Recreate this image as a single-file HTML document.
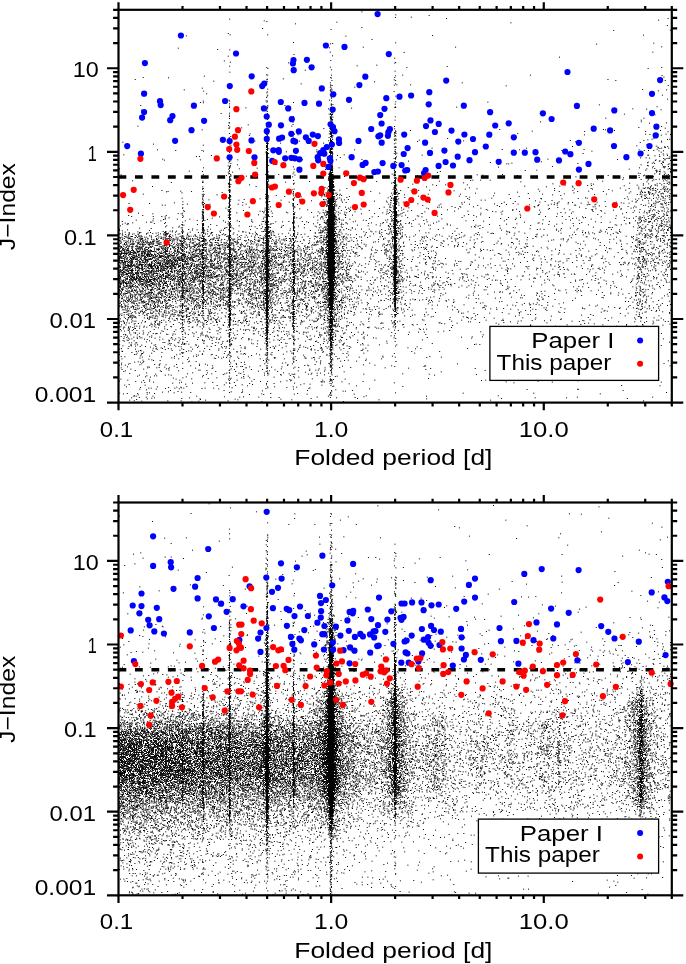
<!DOCTYPE html>
<html><head><meta charset="utf-8"><style>
html,body{margin:0;padding:0;background:#fff;}
svg{display:block;}
text{font-family:"Liberation Sans", "DejaVu Sans", sans-serif;font-size:22px;fill:#000;}
</style></head><body>
<svg width="686" height="964" viewBox="0 0 686 964">
<g><g stroke="#000" stroke-width="1" fill="none"><path d="M119 10.167h552v.3333h-552v.3333h552v.3333h-552v.3333h552v.3333h-552v.3333h552v.3333h-552v.3333h552v.3333h-552v.3333h552v.3333h-552v.3333h552v.3333h-552v.3333h552v.3333h-552v.3333h552v.3333h-552v.3333h552v.3333h-552v.3333h552v.3333h-552v.3333h552v.3333h-552v.3333h552v.3333h-552v.3333h552v.3333h-552v.3333h552v.3333h-552v.3333h552v.3333h-552v.3333h552v.3333h-552v.3333h552v.3333h-552v.3333h552v.3333h-552v.3333h552v.3333h-552v.3333h552v.3333h-552v.3333h552v.3333h-552v.3333h552v.3333h-552v.3333h552v.3333h-552v.3333h552v.3333h-552v.3333h552v.3333h-552v.3333h552v.3333h-552v.3333h552v.3333h-552v.3333h552v.3333h-552v.3333h552v.3333h-552v.3333h552v.3333h-552v.3333h552v.3333h-552v.3333h552v.3333h-552v.3333h552v.3333h-552v.3333h552v.3333h-552v.3333h552v.3333h-552" stroke-dasharray="0 725.4 1 229.6 1 2113.3 1 4937.7 1 1137 1 2710.2 1 568.1 1 1382.4 1 220.6 1 1320.5 1 1754.3 1 709.3 1 1106.3 1 1173.7 1 1277.7 1 1639.5 1 2933.6 1 3007.5 1 1821.5 1 1459.7 1 1443 1 57.2 1 5022 1 99999"/>
<path d="M119 34.167h552v.3333h-552v.3333h552v.3333h-552v.3333h552v.3333h-552v.3333h552v.3333h-552v.3333h552v.3333h-552v.3333h552v.3333h-552v.3333h552v.3333h-552v.3333h552v.3333h-552v.3333h552v.3333h-552v.3333h552v.3333h-552v.3333h552v.3333h-552v.3333h552v.3333h-552v.3333h552v.3333h-552v.3333h552v.3333h-552v.3333h552v.3333h-552v.3333h552v.3333h-552v.3333h552v.3333h-552v.3333h552v.3333h-552v.3333h552v.3333h-552v.3333h552v.3333h-552v.3333h552v.3333h-552v.3333h552v.3333h-552v.3333h552v.3333h-552v.3333h552v.3333h-552v.3333h552v.3333h-552v.3333h552v.3333h-552v.3333h552v.3333h-552v.3333h552v.3333h-552v.3333h552v.3333h-552v.3333h552v.3333h-552v.3333h552v.3333h-552v.3333h552v.3333h-552v.3333h552v.3333h-552v.3333h552v.3333h-552v.3333h552v.3333h-552v.3333h552v.3333h-552" stroke-dasharray="0 1215.3 1 36.6 1 430.1 1 837.4 1 722.4 1 293.6 1 5548.5 1 5094.5 1 450.4 1 291.9 1 747.8 1 678 1 688.6 1 4482.8 1 224 1 91.3 1 1137.5 1 269.1 1 2247.7 1 893.9 1 3635.4 1 321.6 1 284.3 1 3423.2 1 2169.7 1 322.2 1 1658.2 1 99999"/>
<path d="M119 58.167h552v.3333h-552v.3333h552v.3333h-552v.3333h552v.3333h-552v.3333h552v.3333h-552v.3333h552v.3333h-552v.3333h552v.3333h-552v.3333h552v.3333h-552v.3333h552v.3333h-552v.3333h552v.3333h-552v.3333h552v.3333h-552v.3333h552v.3333h-552v.3333h552v.3333h-552v.3333h552v.3333h-552v.3333h552v.3333h-552v.3333h552v.3333h-552v.3333h552v.3333h-552v.3333h552v.3333h-552v.3333h552v.3333h-552v.3333h552v.3333h-552v.3333h552v.3333h-552v.3333h552v.3333h-552v.3333h552v.3333h-552v.3333h552v.3333h-552v.3333h552v.3333h-552v.3333h552v.3333h-552v.3333h552v.3333h-552v.3333h552v.3333h-552v.3333h552v.3333h-552v.3333h552v.3333h-552v.3333h552v.3333h-552v.3333h552v.3333h-552v.3333h552v.3333h-552v.3333h552v.3333h-552v.3333h552v.3333h-552v.3333h552v.3333h-552v.3333h552v.3333h-552" stroke-dasharray="0 275.2 1 3929.8 1 316.5 1 2214.4 1 715.3 1 445.6 1 657.9 1 3331 1 1123.3 1 348.2 1 664.4 1 1220.5 1 358.5 1 139.1 1 253.9 1 1136.1 1 379.2 1 2144.8 1 398.1 1 1745.6 1 1491 1 4454.4 1 544.3 1 126.7 1 70.2 1 62.8 1 691.1 1 283.9 1 361.1 1 1577.7 1 568.5 1 186.5 1 63 1 778.1 1 261.1 1 1055.7 1 790.7 1 163.9 1 130.7 1 340 1 339.1 1 832.7 1 48.4 1 219.2 1 62.7 1 1168.9 1 51.9 1 242.3 1 699.6 1 99999"/>
<path d="M119 82.167h552v.3333h-552v.3333h552v.3333h-552v.3333h552v.3333h-552v.3333h552v.3333h-552v.3333h552v.3333h-552v.3333h552v.3333h-552v.3333h552v.3333h-552v.3333h552v.3333h-552v.3333h552v.3333h-552v.3333h552v.3333h-552v.3333h552v.3333h-552v.3333h552v.3333h-552v.3333h552v.3333h-552v.3333h552v.3333h-552v.3333h552v.3333h-552v.3333h552v.3333h-552v.3333h552v.3333h-552v.3333h552v.3333h-552v.3333h552v.3333h-552v.3333h552v.3333h-552v.3333h552v.3333h-552v.3333h552v.3333h-552v.3333h552v.3333h-552v.3333h552v.3333h-552v.3333h552v.3333h-552v.3333h552v.3333h-552v.3333h552v.3333h-552v.3333h552v.3333h-552v.3333h552v.3333h-552v.3333h552v.3333h-552v.3333h552v.3333h-552v.3333h552v.3333h-552v.3333h552v.3333h-552v.3333h552v.3333h-552v.3333h552v.3333h-552v.3333h552v.3333h-552" stroke-dasharray="0 1315.5 1 130.9 1 1588.3 1 93.3 1 1497.9 1 65.1 1 12.8 1 536.4 1 487.7 1 335.2 1 166.9 1 174.5 1 2184.2 1 23.5 1 1398.6 1 128 1 1847 1 359.9 1 310.8 1 32 1 333.6 1 146.8 1 957.6 1 750 1 351.3 1 127 1 295.8 1 62.3 1 680 1 1400.2 1 1972.4 1 1402.9 1 348.7 1 393.7 1 1038.9 1 .9 1 359.1 1 127.6 1 614.3 1 1463.9 1 743.1 1 424.2 1 1447.1 1 1762.7 1 99.5 1 1040.2 1 64.5 1 742.3 1 36.7 1 25.3 1 911.3 1 424 1 220 1 559.9 1 92.1 1 165.1 1 1911.4 1 100.7 1 386.1 1 613.2 1 .6 1 692 1 645.1 1 126 1 16.2 1 45.3 1 99999"/>
<path d="M119 106.167h552v.3333h-552v.3333h552v.3333h-552v.3333h552v.3333h-552v.3333h552v.3333h-552v.3333h552v.3333h-552v.3333h552v.3333h-552v.3333h552v.3333h-552v.3333h552v.3333h-552v.3333h552v.3333h-552v.3333h552v.3333h-552v.3333h552v.3333h-552v.3333h552v.3333h-552v.3333h552v.3333h-552v.3333h552v.3333h-552v.3333h552v.3333h-552v.3333h552v.3333h-552v.3333h552v.3333h-552v.3333h552v.3333h-552v.3333h552v.3333h-552v.3333h552v.3333h-552v.3333h552v.3333h-552v.3333h552v.3333h-552v.3333h552v.3333h-552v.3333h552v.3333h-552v.3333h552v.3333h-552v.3333h552v.3333h-552v.3333h552v.3333h-552v.3333h552v.3333h-552v.3333h552v.3333h-552v.3333h552v.3333h-552v.3333h552v.3333h-552v.3333h552v.3333h-552v.3333h552v.3333h-552v.3333h552v.3333h-552v.3333h552v.3333h-552v.3333h552v.3333h-552" stroke-dasharray="0 110 1 1142 1 126.5 1 260.8 1 227.5 1 124.1 1 64.4 1 257.1 1 36.9 1 126.4 1.8 615.1 1 83.7 1 358.8 1 1018.9 1.8 59.9 1 303.3 1 61.8 1 1089.3 1 564.1 1 187.5 1 1040.2 1 1104.2 1 63 1 1783.2 1 1102.5 1 102.1 1 212.1 1 45.2 1 62.3 1 1102.2 1 294.2 1 384.4 1.9 .1 1 746.9 1 418.7 1 37.1 1 322.5 1 868.8 1 914.2 1 36.1 1 62.8 1 322.4 1 62.6 1 613.2 1 361.5 1 62.2 1.9 1038.9 1 338.2 1 37.1 1 366 1.8 100.1 1 1002.8 1 359.2 1 63 1 .1 1 1166.2 1 245.1 1 793.1 2.8 1472.2 1 99.8 1 595 1 37.5 1 780.5 1 657 1 25.4 1 419.3 1 256.8 2 62.2 1 .7 1 677.6 1 .7 1 1102.1 1 37.4 1 24.5 1 277.1 1 81.3 1 1001.8 1 100 1.8 .9 1 321.9 1 586.3 1 127.6 1 24.3 1 387.9 1 266.1 1 61.1 1.9 .1 1 321.6 1 424.9 1 418.9 1 358.6 2.8 305.5 1 460.8 1 11.5 1 320 1 334.8 1 344.7 1.9 5.6 1 55.3 1 37.5 1 385 1 976.7 1 61.9 2 167.2 1 102.7 1 132.4 1 402.3 1 99999"/>
<path d="M119 130.167h552v.3333h-552v.3333h552v.3333h-552v.3333h552v.3333h-552v.3333h552v.3333h-552v.3333h552v.3333h-552v.3333h552v.3333h-552v.3333h552v.3333h-552v.3333h552v.3333h-552v.3333h552v.3333h-552v.3333h552v.3333h-552v.3333h552v.3333h-552v.3333h552v.3333h-552v.3333h552v.3333h-552v.3333h552v.3333h-552v.3333h552v.3333h-552v.3333h552v.3333h-552v.3333h552v.3333h-552v.3333h552v.3333h-552v.3333h552v.3333h-552v.3333h552v.3333h-552v.3333h552v.3333h-552v.3333h552v.3333h-552v.3333h552v.3333h-552v.3333h552v.3333h-552v.3333h552v.3333h-552v.3333h552v.3333h-552v.3333h552v.3333h-552v.3333h552v.3333h-552v.3333h552v.3333h-552v.3333h552v.3333h-552v.3333h552v.3333h-552v.3333h552v.3333h-552v.3333h552v.3333h-552v.3333h552v.3333h-552v.3333h552v.3333h-552v.3333h552v.3333h-552" stroke-dasharray="0 562.3 1 45.1 1 203 1 76.9 2 62.9 1 .1 1 423.5 1 413.5 1 199.8 2.8 358.5 1 127.3 1 187.8 1 60 1 27.6 1 334.3 1 426.4 1 62.3 1 551.1 1 62.2 1.9 62 1 295.3 1 680.1 1 385.5 1 37 1 62.1 2 63.5 1 120.8 1 494.2 1 60.1 1 17.2 1 278.9 1 24.6 1 .3 1 99 1 250.2 1 10.3 1 8.2 1 4.7 1 19.6 1 317.5 1.8 63 1 326 1 285.4 1 72.7 1 21.9 1 672 1 17 1 63.1 1 .2 1 61.8 1 1041 1 60.7 1 .3 1 287.8 1 325.2 2 62.1 1 35.7 1 1002.9 1 37.3 1 24.8 1 257.9 1 36.4 1 61.5 1 327.3 1 351.6 1 747.6 1 239.8 1 116.1 1 62.1 1.9 257.8 1 164.8 1 276 1 16.5 1 256.8 1 486.1 1 1.1 1 333.9 1 26 1 250.6 1.5 164.3 1 411.1 1 278.1 1 72.6 1 174.8 1 62 2 62.1 1.8 37.1 1 258.2 1 59.4 1 133.9 1 216.2 1 361 1 43.6 1 283.7 1 62 3 84.1 1 348.1 1 345.1 1 113.8 1 537.8 1 39.4 1 307 1.7 .1 1 61.9 1 37.4 1 256.9 1 62.3 1 615.8 1 62 1 8.2 1 42 1 271.6 1 35.9 2.7 24.7 1 35.6 2 585.2 1 29.3 1 309.1 1 75.2 1 779.4 2.7 62 1 358.6 1 316.1 1 463.6 1 26.6 1 231.1 2 63.1 1 373 1 627.9 1 425.5 1 17.3 1 94.2 1 241 1 62 1 .1 1 359.3 1 62.8 1 268.3 1 11.9 1 6 1 260.6 2.8 422.2 2 63.1 1 332.9 1 17.4 1 328.2 1 320.2 1 201.5 1 93.5 1 134.1 1 6 1 12.7 1 326.4 1 .1 2 61.9 1 259.2 1 37.5 1 415.3 1 323.5 1 101.1 1 258.4 2 62.1 2 62.8 1 105.9 1 80.8 1 118.2 1 118.5 1 163.9 1 23.8 1 12.1 1 158.3 1 607.4 1 4.2 1 3.3 1 81.3 1 230.5 1 61.9 1 37 1 26.6 1 25.2 1 596 1 3.5 1 86 1 196 1 64.5 1 124.9 1 231.3 1 63.1 1.9 62.8 1 613.7 1 14.7 1 29.3 1 313.6 1 128.6 1 264.7 1 347.6 1 .1 2.9 61 2 35.9 1 936.4 1 .2 1 423.5 2 .1 1 60.9 1 .1 1 .1 1 60.6 1 187.8 1 95.1 1 99999"/>
<path d="M119 154.167h552v.3333h-552v.3333h552v.3333h-552v.3333h552v.3333h-552v.3333h552v.3333h-552v.3333h552v.3333h-552v.3333h552v.3333h-552v.3333h552v.3333h-552v.3333h552v.3333h-552v.3333h552v.3333h-552v.3333h552v.3333h-552v.3333h552v.3333h-552v.3333h552v.3333h-552v.3333h552v.3333h-552v.3333h552v.3333h-552v.3333h552v.3333h-552v.3333h552v.3333h-552v.3333h552v.3333h-552v.3333h552v.3333h-552v.3333h552v.3333h-552v.3333h552v.3333h-552v.3333h552v.3333h-552v.3333h552v.3333h-552v.3333h552v.3333h-552v.3333h552v.3333h-552v.3333h552v.3333h-552v.3333h552v.3333h-552v.3333h552v.3333h-552v.3333h552v.3333h-552v.3333h552v.3333h-552v.3333h552v.3333h-552v.3333h552v.3333h-552v.3333h552v.3333h-552v.3333h552v.3333h-552v.3333h552v.3333h-552v.3333h552v.3333h-552v.3333h552v.3333h-552" stroke-dasharray="0 547.6 1 278.5 1 62.1 1 1.2 1 61.9 2 151.7 1 219.4 1 314.3 1 18.1 1 14.1 1.8 5.4 1 218.2 1 395 1 54 2 61.1 2 .8 1 4.2 1 329 1 18.8 1 322.5 1 36.7 1 737.7 1 326.1 1 1.1 1 62 2 34.6 1 30.5 1 2 1 251.5 1 101.8 1 272.3 1 441.2 1 258.1 2 .3 1 60.7 1 .1 1 7.8 1 54.3 1 299.5 1 4.6 1 307.2 1 322.5 1 419.8 1 18.3 1 3.2 1 1.3 1 2.3 1 267.2 1 .3 1 61.6 2 62 2 34.7 1 324.6 1 343.8 1 116.2 1 151.3 1 231.9 1 190.5 2 62 2.9 28.6 1 254.6 1 58.9 1 7.8 1 154.5 1 163.2 1 5.7 1 26.1 1 63.8 1 36.4 1 126.1 1 506.4 1 14.1 1 321.8 1 .2 1.9 .3 1 60.7 2 257.6 1 .1 1 428.1 1 18.2 1 2.9 1 249.8 1 399.2 1 36.1 2 60.8 1 .2 2.9 62 1 404.6 1 146 1 488.3 1 314.7 1 4.4 1 7.9 1 15.3 1 172.1 1 92.6 1 .9 1 63.4 1 61.9 2 256.8 1 417.6 1 41.5 1 139.4 1 178.5 1 .9 1 322.7 1 34.6 2 63.1 1 245.3 1 75.7 1 5.8 1 10.8 1 159.5 1 .9 1 599.6 1 341.6 1 271.5 1 64.2 1 1 1 50.8 1 8.2 2 265.3 1 94 1 307.7 1 20.4 1 282.3 1 388.2 1 35.1 2 .1 1 61.9 1 63 1 251 1 45.5 1 315 1 103.2 1 663.4 1 3.7 1 9.5 1 99.8 1 156.8 1 61.1 3.8 .4 1 59.8 2 36.2 1 221.2 1 61.9 1 369.9 1 .1 1 12.6 1 163.8 1 489.4 1 35.9 2 62 2 .1 1 62.1 1 281.3 1 10.8 1 12.1 1 299.4 1 8.8 1.5 124.2 1 222.1 1 414.7 1 13.7 1 259.1 1 61 1 .2 2.9 61 2 36.1 1 110.3 1 118.8 1 406.5 1 24 1 1.4 1 37.9 1 333.9 1 64.6 1 256.5 2 57.1 1 3.2 3.7 348.8 1 264.8 1 692.4 1 108 1 9.6 1 29 1 129.7 1 129.7 1 61 3 62 2 257.3 1 454.2 1 .1 1 426.2 1 39.1 1 153.1 1 63 2 62 1 64.1 1 43.8 1 218.2 1 9.9 1 6.7 1 2.9 1 264.6 1 61.2 1 63.2 1 257.9 1 3.4 1 60.2 1 34.6 1 326.1 1 12.9 1 233.5 1 41 1.7 61.1 3 62 2 705 1 25.9 1 629.2 1 35.9 2 61.1 2.9 307.7 1 41.4 1 4 1 259.4 1 100.3 1 63.4 1 318.5 1 62.7 1 2.2 1 263.2 1 13.4 1 3 1 160.9 1 106.8 1 61.1 3 .1 1 49.7 1 10.2 2.8 34.1 1 26.3 1 85.8 1 146.3 1 64 1 142.8 1 197.4 1 21.1 1 160.7 1 88.1 1 97.9 1 282.6 1 39.1 2 61 4 61 2 21.1 1 20.2 1 77.6 1 89.8 1 29.8 1 32.8 1 20 1 4 1 411.7 1 223 1 14.6 1 441.6 1 52.6 1 254.2 1 10.1 4.9 61 2 35.9 1 227.6 1 55 1 35 1 246.3 1 90.3 1 257.4 1 21.3 1 385.2 1 36 1 1.1 1 60 3.9 62.1 1 89.8 1 151.9 1 6.3 1 46.3 1 24 1 265.9 1 22.2 1 3.7 1 99999"/>
<path d="M119 178.167h552v.3333h-552v.3333h552v.3333h-552v.3333h552v.3333h-552v.3333h552v.3333h-552v.3333h552v.3333h-552v.3333h552v.3333h-552v.3333h552v.3333h-552v.3333h552v.3333h-552v.3333h552v.3333h-552v.3333h552v.3333h-552v.3333h552v.3333h-552v.3333h552v.3333h-552v.3333h552v.3333h-552v.3333h552v.3333h-552v.3333h552v.3333h-552v.3333h552v.3333h-552v.3333h552v.3333h-552v.3333h552v.3333h-552v.3333h552v.3333h-552v.3333h552v.3333h-552v.3333h552v.3333h-552v.3333h552v.3333h-552v.3333h552v.3333h-552v.3333h552v.3333h-552v.3333h552v.3333h-552v.3333h552v.3333h-552v.3333h552v.3333h-552v.3333h552v.3333h-552v.3333h552v.3333h-552v.3333h552v.3333h-552v.3333h552v.3333h-552v.3333h552v.3333h-552v.3333h552v.3333h-552v.3333h552v.3333h-552v.3333h552v.3333h-552v.3333h552v.3333h-552" stroke-dasharray="0 110.1 1 102.8 1 61.1 1.9 278.5 1 270.8 1 61.1 3 .1 1.9 60 2 258.3 1 433.2 1 1.9 1 .2 1.8 9 1 2.4 1 9.8 1 50.1 1 327.9 1 259.5 1 35.9 2 61 4 .3 1 60.8 1 226.3 1 17.3 1 13.9 1 20 1 10.5 1 324.4 1 96.5 1 223.1 1 96.6 1 143.4 1 6.8 1 8.5 1 156.7 1 222.7 1 74.2 1.9 61.1 4 35 1 26 1 35.9 1 123.6 1 134.7 1 383 1 10.1 1 2.4 1 71.8 1 162.3 1 43.9 1 124.9 1 64.8 1 230.6 2 41.1 1 18.9 4 .1 1 42.1 1 17.8 1 298.9 1 125.1 1 290.4 1 194 1 81.4 1 381.6 1 .4 1 276.2 1 .2 2 59 4.8 61 2 36.1 1 25.9 1 30.2 1 396.3 1 207.9 1 39.1 1 237 1 96.4 1 284.1 1 .1 1 35.9 2 61 4 61 1 .1 1 51.7 1 210.7 1 3.2 1 2.1 1 16.9 1 7.5 1 4.2 1 51.3 1 37.3 1 258.4 1 323.6 1 23.8 1 118.2 1 179.6 1 79.1 1 272.4 1 60.9 5 61 2 34.7 1 .3 1.6 239.8 1 146.2 1 35 1 11.9 1 20.7 1 186.7 1 5.7 1 23.9 1 11.4 1 5.1 1 71 1 295.6 1 259.4 1 36 2 61 4 .1 1 59.9 2 40 1 150.2 1 2.7 1 92.6 1 4.9 1 26.2 1 226.7 1 682.7 1 34 1 11.8 1 90.5 1 281.7 1 .1 1 59.9 5.9 60.1 2 9.4 1 25.6 1 76 1 116.7 1 25 1 .4 1 37.1 1 65 1 91.2 1 118.9 1 103.1 1 14.6 1 11 1 12.9 1 10.6 1 64.8 1 563.7 1 36 2 .3 1 55.3 1 3.4 5 60 1 .1 1 11.7 1 238.8 1 29.7 1 16.9 1 175.3 1 74.6 1 482.3 1 292.1 1 21.9 1 3.6 1 4.7 1 20 1 11.2 1 2.3 1 2 1 3.9 1 14.2 1 37.1 1 35.5 1 158.1 1 .1 1 46.6 1 13.3 4 61 2 62.3 1 167.4 1 192.5 1 79.7 1 96.4 1 63.4 1 10.2 1 11.8 1 1.5 1 83.5 1 53.2 1 72 1 170.2 1 90.6 1 193.4 1 35.9 2 59.9 1 .1 5 58.6 1 .5 1 .7 1 211.5 1 47.9 1 2.3 1 2.3 1 1.9 1 4.1 1.4 18.2 1 315.2 1 41 1 282.1 1 .9 1 108.4 1 56 1 31.9 1 195 1 14.7 1 9.9 1 .4 1 10.1 1 21.2 1 81.4 1 17.3 1 134.9 1 17.1 1 4.1 2 58.8 1 .2 5 .2 1 59.8 2 36 1 66.6 1 334.5 1 41.9 1 157.2 1 60.6 1 1.2 1 9 1 66.5 1 48.1 1 210.3 1.8 145.8 1 110.1 1 22.5 1 10.7 1 25.2 1 36 2 25.1 1 34.9 4 37.3 1 22.7 2 162.8 1 17.4 1 24.7 1 37.4 1 5.6 1 10.3 1 3.9 1 27.7 1 17.3 1 296.4 1 102.1 1 62.8 1 321.7 1 2.5 1 119 1 122 1 3.3 1 22 1 14.7 1 9.2 1 2.5 1 1.7 1 245 3 61 4 13 1 47 2 36 1 6.4 1 165.4 1 110.4 1 31.6 1 .5 1 5 1 239.5 1 75.3 1 4.6 1 22.8 1 12.3 1.7 6.9 1 10.6 1 133.6 1 18.1 1 82.9 1 10.9 1 42 1 .5 1 363 2 24.7 1 27.7 1 5.5 1 .1 4 .1 1 59.9 2 2.1 1.8 127.9 1 123.4 1 16.4 1 7.8 1 1 1.6 95.6 1 166.6 1 1.9 1 298.4 1 58.9 1 136.1 1 87 1 31.2 1 81.1 1 62.8 1 44.5 1 1.2 1 37.7 1 8.4 1 1.9 1 41.6 1 84.5 1 59.2 1 52.4 2 56.1 1 2.9 5 4 1 56 2.9 35.1 1 24.4 1 167.8 1 13.7 1 75.2 1 103.6 1 5.7 1 147.1 1 88.3 1 3.1 1 10.8 1 39.1 1 251.1 1 51.7 1 330.4 2 35 2 7.8 1 51.3 4.9 3.1 1 4.1 1 218.1 1 96.6 1 9.9 1 18.6 1 158.9 1 168.2 1 29.7 1 24.2 1 64.1 1 168 1 120.8 1 92.5 1 39.7 1 185 1 15.2 1 3.1 1 .8 1 1.5 1 30.1 1 121.2 1 52 1 67.4 1 .2 3 3.2 1 40 1 14 5.8 .1 1 .2 1 41.5 1 16.2 2 34.8 1 .2 1 193.7 1 62 1 34.4 1 19.6 1 304.5 1 34.3 1 15.2 1 3.7 1 16.1 1 171.1 1 72.2 1 60.7 1 65.1 1 37.3 1 221.1 1 36 2 60.2 5.8 12.4 1 46.6 2 8.4 1 240.8 1 25.4 1 11.9 1 69.9 1 192.8 1 2.5 1 47.4 1 44.2 1 65.1 1 172 1 19.4 1 25.2 1 107.9 1 54.9 1 1.9 1 94.3 1 94.4 1 61.5 1 12.5 1 24.6 1 4.7 1 1.3 1.9 18.8 1 45.6 1 36.4 1 10.4 1 17.9 1 41.9 1 71.1 2 1.9 1 57.2 6.8 59.1 2.8 35.2 1 251 1 32.4 1 39.9 1 63.2 1 141.9 1 19.5 1 75.8 1 25.3 1 15.5 1 1.9 1 21.2 1 6.3 1 234 1 50.9 1 47.6 1 23.7 1 64.5 1 193.4 1 .3 1 12.4 1 21.3 2 25 1 29.1 1 1.5 1 1.3 1 .1 5 2.2 1 10.7 1 45.1 3.6 71.2 1 199.5 1 327.2 1 8.6 1 9.6 1 23.7 1 89.5 1 173.6 1 34.6 1 41.2 1 53.1 1 54.3 1 89.7 1 3 1 156.4 1 7.9 1 26.8 1 24.7 1 84.3 1 155.5 2.8 1.3 1 56.9 6 34 1 25 2 36 1 302.4 1 14.6 1 13.2 1 54.2 1 137.9 1 112 1 15.5 1 20.7 1 22.5 1 233.6 1 10.2 1 10.9 1 46.3 1 95.7 1 221.3 1 36 2 1.2 1 54 1 2.8 7 .4 1 57.6 3 117.8 1 28.9 1 59 1 53.5 1 45.4 1 76.2 1 289.8 1 64.5 1 18.9 1 99999"/>
<path d="M119 202.167h552v.3333h-552v.3333h552v.3333h-552v.3333h552v.3333h-552v.3333h552v.3333h-552v.3333h552v.3333h-552v.3333h552v.3333h-552v.3333h552v.3333h-552v.3333h552v.3333h-552v.3333h552v.3333h-552v.3333h552v.3333h-552v.3333h552v.3333h-552v.3333h552v.3333h-552v.3333h552v.3333h-552v.3333h552v.3333h-552v.3333h552v.3333h-552v.3333h552v.3333h-552v.3333h552v.3333h-552v.3333h552v.3333h-552v.3333h552v.3333h-552v.3333h552v.3333h-552v.3333h552v.3333h-552v.3333h552v.3333h-552v.3333h552v.3333h-552v.3333h552v.3333h-552v.3333h552v.3333h-552v.3333h552v.3333h-552v.3333h552v.3333h-552v.3333h552v.3333h-552v.3333h552v.3333h-552v.3333h552v.3333h-552v.3333h552v.3333h-552v.3333h552v.3333h-552v.3333h552v.3333h-552v.3333h552v.3333h-552v.3333h552v.3333h-552v.3333h552v.3333h-552" stroke-dasharray="0 146.4 1 22.3 1 35.2 1 1 1 14.1 1 43.7 1 15.1 1 60.1 1 38.9 1 34.6 1 47.3 1 7.9 1 18.3 1 18.5 1 19.3 1 .6 1.6 11.1 1 2.1 1 95.2 1 3.2 1 137.7 1 33.1 2 2.7 1 43.7 1 11.6 5 .1 1 3.9 1 55 2 22.7 1 12.3 1 25.2 1 .1 1 138 1 160.1 1 60 1 1.2 1 62.1 1 91.8 1 2.2 1 62.4 1 42.3 1 .9 1 21.2 1 3.8 1 18.8 1 4.3 1 41.6 1 252.8 1 1.5 1 1.7 1 92.3 1 119.3 1 19.5 1 54 1 23.9 1 36 2 25 1 34 5 1.2 1 58 3.8 104.2 1 10.5 1 43.1 1 107.2 1 13.7 1 .5 1 3.9 1 .6 1 85 1 72.6 1 75.7 1 91.5 1 3.1 1 27.8 1 89.1 1 151.1 1 21.5 1 27.3 1 7 1 72.6 1 13.7 1 53.2 1 1 1 49.2 1 20.3 1 6.3 1 47.6 1 32.2 1 36.4 1 6.2 1 64.6 1 11.1 1 16 1 9.6 1 50.3 1 34.6 1 14.3 1 31.4 1 109 3 60 5 7.5 1 22.5 1 3.1 1 24.9 2 36 1 22.4 1 1.7 1 19.6 1 146.8 1 64.8 1 53 1 3 2 7.3 1 192.7 1 56.9 1 6.6 1 66.8 1 12.3 1 19.7 1 68.9 1.9 16.5 1 8 1 108.1 1 39.3 1 61.1 1 93.1 1 11.3 1 64.2 1 1.9 1 153.1 1 36 2 24.9 1 32.8 1 .3 5 1 1 59 2 10.8 1 14.5 1 54 1 18.5 1 40.1 1 104.3 1 6.9 1 34.6 1 54.9 1 60.4 1 144 1 1.8 1 96.3 1 88.1 1 258.3 1 41.8 1 297.6 1 53.5 1 1.4 1 21.7 1 21.2 1 70.6 1 33.7 1 38.7 1 6.9 1 55.4 2 53.7 1 4.2 1 .1 5 .1 1 .7 1 4.3 1 52.9 2 36 1 25.2 1 193.1 1 41.1 1 22.9 1 98.3 1 78.7 1 118.7 1 1 1 23.4 1 28.1 1 29.1 1.8 .7 1 24 1 55.6 1 43.7 1 6.4 1 65.7 1 18.1 1 1.5 1 .6 1 46.8 1 4.5 1 32.4 1 4.3 1 49.6 1 .3 1 23.9 1 18.4 1 214.2 1 24.2 1.7 36 2 60.1 6.8 55.5 1 2.6 2.9 57.8 1 101.6 1 96.6 1 18.9 1 32.5 1 223.7 1 6.3 1 217.7 1 126.7 1 42.4 1 38.2 1 72.6 1 8.7 1 44.2 1 32.2 1 53.1 1 46.4 1 101.8 1 124.3 1 35.4 1 152.1 2.9 14.1 1 43.8 1 .1 6 33.9 1 25.1 2 34.8 1 291.9 1 52.9 1 73.8 1 28.9 1 104.8 1 30.7 1 24.5 1 28.3 1 12.6 1 8.7 1 46.5 1 71.4 1 30.8 1 111.9 1 41.8 1 10.1 1 79.7 1 37.5 1 195.3 1 23.7 1 .4 1 36 2.8 59.2 6.8 11.2 1 46.3 2.7 89.8 1 25.6 1 78.1 1 47.1 1 12.6 1 95.3 1 21.5 1 121.4 1 56.8 1 1.4 1 78.6 1 13.1 1 90.1 1 228.9 1 57.1 1 4.3 1 5.2 1 66.1 1 84.9 1 50.9 1 51.8 1 20.1 1 40.4 1 36.4 1 48.2 1 87.1 1 100.1 1 15.1 2 3 1 20.3 1 17.7 1 8.2 1 5.2 1 .6 5 61 2 22.1 1 12.9 1 44.8 1 173.3 1 96.5 1 71.7 1 235.2 1 13.4 1 2.4 1 4.8 1 2.6 1.6 7.1 1 3.4 1 2.1 1 13.6 1 4.1 1 42 1 97.9 1 33.8 1 12.3 1 20.2 1 24.6 1 135.5 1 10.2 1 55.5 1 149.2 1 17.1 1 25.2 1.9 .2 1 30.9 1 2.9 2.8 24.2 1 32.4 7.6 15.1 1 41.1 1 .7 1 .1 3 95.2 1 25.9 1 72.5 1 65.1 1 13.4 1 94.7 1 76.2 1 70 1 36.8 1 31 1 17.3 1 17.6 1 52.9 1 256.1 1 54.9 1 51.1 1 5.3 1 155.3 1 38.5 1 97.8 1 45.2 1 6.5 1 1.4 1 12.7 1 5.5 1 64.7 1 124.1 1 30.9 1 6.4 3 3.9 1 55.1 6 .1 1 .4 1 1.8 1 10.6 1 15.8 1 25.6 2.7 36 1 25 1 .1 1 200.6 1 25.9 1 23 1 45.9 1 11.1 1 35 1 8.9 1.8 170.9 1 77.7 1 21.6 1 69.8 1 32.4 1 89.6 1 77.6 1 61.2 1 3.9 1 9.9 1 3.5 1 46.5 1 88.7 1 43.1 1 78 1 50.3 1 36 2 25.1 1 34 5.9 40.1 1 12.6 1 5.3 3 24.4 1.3 235.3 1 19.2 1 15.5 1 23.6 1 64.1 1 155.6 1 38.3 1 33.3 1 31.8 1 90 1 .1 1 20.2 1 27.3 1 240.7 1 16.9 1 41.2 1 114.3 1 17.2 1 18.6 1 113.8 1 11.4 1 22.5 1 53.1 1 58 1 69.2 1 26 1 7.2 1 34.6 1 .3 3 59.1 5.9 1 1 32.1 2 24.9 2 34.9 1 .1 1 26.1 1 222.3 1 5.9 1 2.1 1 55 1 3 1 8.9 1 6 1 45.1 1 7.3 1 79.9 1 171.8 1 10 1 21.4 1 248.8 1 52.1 1 16.3 1 7.6 1 95.3 1 1 1 44.8 1 72.5 1 13.1 1 22.5 1 35.4 1.7 25.1 1 36 2.9 59.1 6 .1 1 10.1 1 47 3.8 76.3 1 175.2 1 15.8 1.9 29.9 1 26.5 1 94.6 1 55.4 1 45.9 1 18 1 .2 1 70.5 1 7.1 1 262.3 1 109.2 1 107.3 1 15.8 1 17.9 1 215 1.9 8.1 1 14.8 1 2.7 1 5.9 1 3.2 1 11 1 65.9 1 5.9 1 4.6 1 10.3 1 148.9 2 2.7 1 11.5 1 42 6.8 .1 1 5.8 1 26.3 1 21.1 1 2 1.5 .2 2 36 1 25 1 40.7 1 7.6 1 20.6 1 58.1 1 36.2 1 16.2 1 102.3 1 12.3 1 35.1 1 18.8 1 3.4 1 24.5 1 53.6 1 105 1 17.7 1 37.9 1 62 1 13.9 1 287.6 1 12.4 1 7.5 1 11.5 1 34.6 1 .6 1 208.1 1 19.9 1 23.9 2 36 2 25 1 26.6 1 4.2 1 1.2 6.9 10.2 1 47.9 2 .1 1 10.1 1 53.5 1 26.3 1 18.1 1 10.9 1 64 1 55.9 1 28.5 1 .8 1 6.2 1 3.2 1 2.7 1 .4 1 6.7 1 2.6 1 56.3 1 246.3 1 38.5 1 1.1 1 63.2 1 27.1 1 32.3 1 95.9 1 45.8 1 81.3 1 43.7 1 176 1 59.2 1 49.1 1 5.9 1 30.1 1 16.4 1 .7 1 9 1 8.8 1 8.6 1 12.5 1 42.1 1 71 1 104.1 3 22.9 1 34.2 6.9 27.5 1 5.5 1 25 2 35.1 1.9 25 1 118.2 1 48 1 60.1 1 56.1 1 1.6 1 11.2 1 2.4 1 51.8 1 49.4 1 208.4 1 33.3 1 15.1 1.8 47.6 1 174.6 1 64.7 1 159.1 1 11.5 1 11.2 1 89.9 1 39.1 1 2.9 1 21 1.8 35.2 2 25 1 33 7 .1 1 1 1 2.1 1 53.8 3 109.2 1 7.8 1 49.5 1 78.7 1 4.9 1 3.2 1 9.4 1 11.8 1 16.1 1 102.2 1 115.7 1 32.9 1 3.8 1 51 1 83 1 149.3 1 180.6 1 18.4 1 3.5 1 .6 1 19 1 21.3 1 10.5 1 172.3 1 7.7 1 58.9 1 28.7 1 11.2 1 16.4 1 1.5 1 16.1 1 149.8 1 48.8 1 9.5 1 11.5 1 3.2 3 .1 1 26.2 1 31.7 7 33 1 25 2 60.6 1 .4 1 5.3 1 111.6 1 6.9 1 23.4 1 16.2 1 19.9 1 12.8 1 86.1 1 1.5 1 6.7 1 56.3 1 73.2 1 37.3 1 130.2 1 18.1 1 2 1 21.6 1 6.8 1 169.7 1 43.7 1 37.4 1 7.7 1 35.3 1 60.2 1 28 1 12.7 1 135.2 1 79.1 1 27.1 1 8 1 21.8 1 .4 1 1.8 2.9 19.5 1 3.7 1 7.8 1 24.2 6.9 1.2 1 57.8 2 .1 1 .7 1.8 149.3 1 90.8 1 3.7 1 3 1.7 21.6 1 1.3 1 1.3 1 14.7 1 3.5 1 47.8 1 167.4 1 28.8 1 43.1 1 45.6 1 23.1 1 5.8 1 46.4 1 136.2 1 3.1 1 .2 1 29.9 1 41.8 1 26.2 1 14.8 1 57 1 12 1 46.4 1 5.6 1 3.6 1 37.6 1 86.9 1 84.6 1 37.3 2 11 1 4.7 1 33.9 1 9.5 1 27.5 1 18.5 1 171.2 1 13 2 10.1 1 47.9 7 .2 1 1.3 1.8 14.7 1 14 1.9 24.1 3 35 1 63 1 59.6 1 160.7 1 22.2 1 17.6 1 8.6 1.6 24 1 24.9 1 140.8 1 97.5 1 .6 1 49.7 1 89.1 1 23.2 1 103.6 1 35.3 1 13.5 1 40 1 14.2 1 32.9 1 166.4 1 14.4 1 25.5 1 9.3 1 36.7 1 .1 1 25 2 35 2 4.7 1 19.4 1 30.8 1 2.1 6 .1 1 33.1 1 20.5 1 3.3 2 9.3 1 2.3 1 163.1 1 5.4 1 49.1 1 31.6 1 17.8 1 3.3 1 18 1 11.1 1 82.4 1 24.6 1 68.8 1 21.5 1 12.1 1 10 1 6.1 1 11.7 1 32.3 1 19 1 12.9 1 41.3 1 42.1 1 98.6 1 12.4 1 138.2 1 2.5 1 4.3 1 55.2 1 7.7 1.7 63.6 1 17.3 1 86.5 1 49.2 1 109 1 10.6 1 15.1 1 98 1 58.4 1 92.9 2.9 2.3 1 46.2 1 .9 1 5.8 7.8 6.6 1 14.5 1 10 1 23.8 1 .2 2 35.2 1.8 17.9 1 6.1 2 4.1 1 14.6 1 53.7 1 71 1 136 1 55.7 1 19.2 1 49.9 1 140.1 1 25.8 1 5.1 1 20.5 1 15.9 1 9.1 1 6.2 1 47.6 1 139.9 1 24.3 1 19.1 1 .8 1 26.4 1 3.7 1 38.1 1 127.5 1 44 1 .5 1 146.3 2 12.3 1 11.6 1 29.2 1 5.8 2 14.9 1 9.2 1 32.8 1 .1 6 54.1 1 4.9 2 .7 1 81.9 1 18.7 1 29.9 1 120.3 1 3.6 1 3.3 1.5 9.8 1 6.8 1 22.7 1 64.1 1 173.1 1 18.3 1 11 1 32.7 1 94.3 1 7 1 63.4 1 45.3 1 99999"/>
<path d="M119 226.167h552v.3333h-552v.3333h552v.3333h-552v.3333h552v.3333h-552v.3333h552v.3333h-552v.3333h552v.3333h-552v.3333h552v.3333h-552v.3333h552v.3333h-552v.3333h552v.3333h-552v.3333h552v.3333h-552v.3333h552v.3333h-552v.3333h552v.3333h-552v.3333h552v.3333h-552v.3333h552v.3333h-552v.3333h552v.3333h-552v.3333h552v.3333h-552v.3333h552v.3333h-552v.3333h552v.3333h-552v.3333h552v.3333h-552v.3333h552v.3333h-552v.3333h552v.3333h-552v.3333h552v.3333h-552v.3333h552v.3333h-552v.3333h552v.3333h-552v.3333h552v.3333h-552v.3333h552v.3333h-552v.3333h552v.3333h-552v.3333h552v.3333h-552v.3333h552v.3333h-552v.3333h552v.3333h-552v.3333h552v.3333h-552v.3333h552v.3333h-552v.3333h552v.3333h-552v.3333h552v.3333h-552v.3333h552v.3333h-552v.3333h552v.3333h-552v.3333h552v.3333h-552" stroke-dasharray="0 59.8 1 50.3 1 20 1 29.3 1 15.6 1 15.7 1 25.1 1 46.1 1 2 1 .5 1 26.7 1 56.5 1 75.4 1 90.3 1 6 1 12.9 1 6.8 1 5.5 1 1.1 1 18 1 164.8 1 61.6 1 15.3 2.9 54.7 1 3.4 6 .2 1 1.2 1 30.6 1 23.9 1 .1 2 15.9 1 19.1 1 25.9 1 129.5 1 41.9 1 45.7 1 6.4 1 30.8 1 21.3 1 3.3 1 67.5 1 12.2 1 67.8 1 161 1 29.9 1 6.5 1 10.9 1 11.9 1 51.3 1 117.2 1 71.3 1 8.2 1 56.5 1 8.4 1 56.7 1 89.3 1 142.6 1 .1 1 22.3 1 1.6 2 33.9 1 .1 2 .1 1 .9 1 9.9 1 11.1 1 .2 1 28.6 1 3.2 6 .1 1 .2 1 5.4 1 51.3 2 1.8 1 83.6 1 29.4 1 94.4 1 .3 1 1.4 1 26.2 1 11.8 1 16.3 1 30.4 1 125 1 113.4 1 2.5 1 44 1 25.6 1 5.4 1 14 1 71.3 1 5.9 1 41.6 1 .3 1 7.5 1 73.7 1 124.8 1 1.9 1 25 1 39.2 1.8 16 1 40.2 1 48.8 1 56 1 69 1 66.6 1 5.3 1 6.9 1 15.4 1 2.3 1 10.7 1 79.9 1 15.6 1 80.5 1 21.8 1 56.9 1 1.6 3 2.9 1 43.1 1 12 6 .1 1 3.4 1 28.6 1 24.9 2 4.4 1 3 1 26.6 1 4 1 20.1 1.9 50.3 1 105.3 1 40 1 55.6 1 34.5 1 72 1 30.4 1 98.8 1 110.6 1 .1 1 19 1 23.2 1 98 1 15.2 1 150.7 1 18.2 1 6.8 1 4.9 1 144.2 1 89.9 1 63.1 1 5.4 1 12.7 1 .1 1 25 1 20.1 1 13.6 1 .3 2.8 24.2 1 31.1 1 1.9 6 .1 1 1.1 1 2.4 1 7.6 1 32 1 7.5 1 3.3 2 5.7 1 35.2 1 98 1 5.7 1 61.6 1 3.7 1 36.5 1 14.5 1 2.2 1 11.9 1 41.4 1 41.5 1 232.2 1 15.3 1.9 61.1 1 34.8 1 20.3 1 2.2 1 6.1 1 68.5 1 81.3 1 27.9 1 1.1 1 94.2 1 .9 1 2 1 .2 1 1.9 1 11.7 1 9.5 1 48.8 1 99.9 1 54.1 1 3.1 1 38.7 1 44.2 1 2.9 1.7 .4 1 5.6 1 9.3 1 5.2 1 5.7 1 22.2 1 240.3 2.9 8.3 1 50.7 6 1.3 1 3 1 10.8 1 14.8 1 .2 1 2.4 1 18.4 1 2.1 2 34.9 1 .1 1 25.9 1 19 1 32.2 1 28.9 1 3.2 1 49.2 1 30 1.9 60.3 1 67.8 1 57.9 1 3.5 1 20.5 1 162.4 1 57.3 1 14.3 1 6 1 26.3 1 8.7 1 39.3 1 42 1 51 1 50.7 1 62.2 1 .4 1 9.6 1 7.9 1 30.2 1 11 1 5.7 1 47.6 1 1.1 1 30.4 1 17.9 1 15.4 1.9 19 1 5.1 1 5.3 1 94.7 1 1.5 1 41.2 1 20.6 1 .1 1 30.5 1 .5 1 .6 1 .3 2 .1 2 2.8 1 20 1 27.7 1 4.4 6 .1 1.9 58 2 .1 1 1 1 220 1 29.6 1 33.1 1 51.5 1 85.5 1 9 1 .8 1 130.4 1 3 1 7 1 40.2 1 78.1 1 .1 1 57.9 1 1 1 8.2 1 5.3 1 27.2 1 24.4 1 49.2 1 13.9 1 54.6 1 8.6 1 38.1 1 43.2 1 1.3 1 58 1 86.8 1 85.4 1 13.3 1 9.7 1.9 14.9 1 3.6 1 36.9 1 12.2 1 3.2 1 79.8 1 2 1 71.9 1 30.3 1 15.6 1 64.3 3.8 10.8 1 14.5 1 31.8 7 4.4 1 .5 1 50 2 .1 2 36 1 8.1 1 7.1 1.9 6.9 1.9 3.2 1 14.9 1 15.9 2 13.1 1 8.7 1 .4 1 9.3 1 38.5 1 9.2 1 42.2 1 31.4 1 14.5 1 21.4 1 1.1 1 23 1 16.4 1 2.7 1.9 3.9 1 .5 1 8.5 1 42.6 1 9.5 1 .7 1 9.9 1 22.4 1 2 1 162.9 1 23.5 1 57.5 1 1.4 1 22.4 1 .5 1 30.8 1 21.1 1 23.3 1 35.3 1 9 1 21.6 1 170.1 1 4.7 1 25.8 1 16.7 1 58.4 1 5.6 1 16.1 1 18.2 1 11.5 1 15.5 1 16.1 1 3.9 1 8.2 1 16.6 1 4.9 1 12.6 2 14.1 1 20 1 25 1 19.3 1 5.7 1 9 2 .1 1 24 1.8 33.1 7.8 .3 1 42.2 1 6 1 6.7 4.6 1 1 51.6 1 22.3 1 14.1 1 1.5 1 118.7 1 3.8 1 25.1 1 2 1 36.8 1 4.2 1.7 56 1 4.4 1 198.9 1 14.6 1 26.5 1 2.9 1 13.6 1 44.3 1 15.6 1 11.9 1 28.2 1 11.9 1 2.3 1 26.5 1 13.2 1 .6 1 2.5 1 25.4 1 15.3 1 11.8 1 4.3 1.8 6.8 1 16.3 1 1.6 1 10.8 1 26.3 1 26.7 1 22.7 1 20.7 1 25.2 1 32.9 1 25.7 1 21.8 1 7.2 1 3.1 1 57.7 1 46.6 1 29.5 1 153.2 1 4.2 1 5.4 1 62.5 1 97.3 1 80.9 2 1.4 1 34.6 1 21 7 .9 1 24.5 1 2.5 1 3.1 1 25 2 36 1 2.9 1 2.4 1 33.7 1 16.3 1 2 1 .9 1 35.3 1 2.4 1 9.3 1 35.1 1 16 1 18.5 1.4 6.2 1 13.1 1 19.7 1 19.1 1 7.2 1 4.5 1 22.4 1 42.2 1 .7 1 7.7 1 1.4 1 29.8 1 15.1 1 6.8 1 9.3 1 20.3 1 1.7 1 38.8 1 55.9 1 35.3 1 9.7 1 26.4 1 25.2 1 4.5 1 46.3 1 3.1 1 .5 1 98.7 1 2.7 1 28.5 1 38.9 1 8.4 1 61.6 1 3.6 1 56.8 1 12.1 1 35.4 1 15.6 1 1.2 1 15.1 1 8.2 1 20.5 1 5 1 5.3 1 11.6 1 11.7 1 22.1 1 34.4 1 4.9 1 19.8 1 20.5 1 7.9 1 2.5 1 11.8 1 19 1 16.4 1 8.2 2.5 9.7 1 18 1 3.8 1 .5 2.9 .1 1 4.2 1 17.8 1 27.3 1 4.7 8 .1 1 57.9 3 58.8 1 188.5 1 9.8 1 4.6 1 .2 1 3 1 2.1 1 6.3 1 18.6 1 74.3 1 204 1 26.3 1.8 11.3 1 3 1 24.9 1 83.9 1 13 1 5.7 1 15 1 6.4 1 13.1 1 .8 1 7.4 1 .8 1 27.5 1 .7 1 6.9 1 1 1 1.7 1 24.3 1 13.7 1 1.5 1 6.4 1 1.6 1 9.5 1 22.4 1 2 1 20 1 61.7 1 29 1 24.8 1 42.8 1 11.5 1 8 1 5.7 1 6.1 1 13.7 1 161.3 1 22.7 1 12.5 1 20 1 1.2 1 4.7 1 3.2 1 11.4 1 97 1 132.5 1 5.4 2 1 1 9 1 37.8 1 8.3 6.9 .1 1.9 10.1 1 6.3 1 10.8 1 .7 1 1.4 1 5.6 1 15.2 1.8 .1 2 .1 1 25.1 1 8.8 1 1.8 1 17.4 1 3.9 1.8 5.5 1 5.9 1 5.9 1 1.3 1 8.6 2.5 12 1 22.5 2.5 5.2 1 11.4 1 12.9 1 1.9 1 8.2 1 6.6 1 1.1 1 54.8 1 10.8 1 25.1 1 23.4 1 37.6 1 23.1 1 16.9 1 19.5 1 12.2 1 7.9 1 3.2 1 14.5 1 1.2 1 26.6 1 83.9 1 4 1 43.6 1.8 43.4 1 23.8 1 19.6 1 12.7 1 6 1 27.2 1 133.6 1 10 1 8.6 1 50.6 1 47.2 1 14.1 1 7.9 1 12.4 1 6.5 1 13.3 1 25.4 1 4.7 1 5.8 1 14.8 1 1.5 1 24.7 1 14.9 1 2.6 1 1.3 1 8.5 1 .5 1 9.5 1 11.2 1 16.7 1 .5 1 2.9 1 13.6 1 3.3 1 2.9 1 14.6 1 1.2 1 26.8 1 5.2 1 9.2 1 18.4 1 12.1 1 13.6 1.7 .2 1 26.9 1 6.9 2 52.4 1.8 3.8 1 1 6 8.9 1 9.7 1 12.5 1 24.2 3.7 .1 1 25.2 1 3.6 1 31.2 1 66.9 1 103.7 1 12 1 39.9 1 7.5 1 9.8 1 64.7 1 169.5 1 48.9 1 10.5 1 2.7 1 7.1 1 1.1 1 28 1 24 1 5.6 1 9.1 1 13.1 1 1.9 1 53.4 1 4.3 1 7.4 1 6.9 1 9.2 1 15.6 1 4.1 1 .5 1.8 5.9 1 2.3 1 1.4 1 24 1 9.6 1 2.2 1 .7 1 12.7 1 4.5 1 16.3 1 17 1 .5 1 39.9 1 4.7 1 2.4 1 25.2 1 27.2 1 2 1 17.5 1 1.1 1 37 1 5.3 1 5.3 1 1.9 1 22.6 1 7.5 1 17.4 1 48 1 10.5 1 81 1 55.7 1 28.2 1 1.3 1 20.6 1 74.6 1 29.3 1 74.1 1 60.3 3 37 1 20.1 7.9 7.7 1 8.9 1 15.4 2 1.4 1.7 2.2 1 14.7 1 1 3 2.6 1 .3 1 28.9 1 1.2 1.8 11.5 1 10.7 1 .1 1.8 .2 1 7.9 1 4.9 1 1.3 1.9 9.2 1 3.6 1 .8 1 5 1 3.3 1 12.9 2 10.5 1.6 4.2 1 14.1 1 2.7 1 6.1 1 .2 1 6.7 1 16.1 1 1.2 1 1.7 1 10.5 1 5.6 1 1.1 1 3.6 1.3 .8 1 14.9 1 .1 1 48.5 1 15 1 33.9 1 27.4 1 39.7 1 8.3 1.7 52.8 1 6.6 1 21.3 1 38 1 78.3 1 36.9 1 47.4 1 1.3 1 43.4 1 44.4 1 6.3 1 42.7 1 60.5 1 33.2 1 21.8 1 105.8 1 6 1 .4 1 48 2 14.4 1 3.9 1 1.2 1 17.5 1 1.3 1 4.8 1 5.7 1 1.7 1.3 2.1 1 1 1 3.3 1 19 1 3.8 1 8.6 1 14.8 1 18.3 1 9.1 1 1.1 1 1.7 1.7 5 1 9.7 1 10.8 1 1.5 1 8.4 1 4.9 1 .3 2 3.6 1 10.3 1 1.9 1 3.8 1 .1 1 7.2 1 .4 1 7.4 1 4.9 1 7.9 1 2.1 2 4.2 1 19.8 1 29.2 1 .4 1 2.4 7 43.1 1 4.1 1 9.8 2 38.2 1 174.2 1 25.3 1 5.2 1 26.3 1 3 1 30.4 1 37.9 1 34 1 8.7 1 25.6 1 51.9 1 42.9 1 19.8 1 9.3 1 5.6 1 45.5 1 1.7 1 2.1 1 3.8 1 7.9 1 1.3 1 19.8 1 12 1 7.5 1 4.7 1 6.7 1 35.2 1 2.8 1 14.8 1 12.9 1 8.2 1 11.7 1 9.9 1 22.3 1 8 1 15.9 1 8.8 1 .6 1 3.6 1 .5 1 1.2 1 3.4 1 1.3 1 21.4 1 2.1 1 3.9 1 .9 1 2.9 1.8 7.1 1 .4 1 4.1 1 4.5 1 28.1 1 3 1 10.3 1 6.1 1 1.7 1 .3 1 17.6 1 4.5 1 19.4 1 15.8 1 2.8 1 10.5 1 14.4 1 117.4 1 80.5 1 15.1 1 51.3 1 35.7 1 6.5 1 3.1 1 9.2 1 26.8 1 198.1 1 39.3 3 31.9 1 22.3 1 2 7.8 .1 1 32.9 1 1.7 1 3.3 1 17 3 .1 1 13.2 1 4.1 1 .5 1 13.2 1.9 9.9 1.9 1.2 1 4.9 1 5.2 2 1.9 1 17.9 1 9.1 1 .8 1 24.9 1 22.3 1 4.7 1.3 .9 1 1.4 1 23.6 1 .7 1 2.5 1 .2 1 13.4 1.3 6 1 23.2 2 13.8 1 5.1 1 29.6 1 4.7 1 9.2 1 10.1 1 9.7 1 12.9 1 7.1 1 1.2 1 36.6 1 29.8 1 .6 1 1.9 1 26.7 1 4.5 1 16.5 1 11.3 1 183.1 1 5.4 1 10.4 1 2.2 1 16.2 1 2.9 1 21.3 1 16.4 1 36 1 34.4 1 28.1 1 20.2 1 53 1 19.9 1 72.5 1 25.2 1 42.4 1 2.7 1 3.8 1 1.3 1 8.7 1 8.1 1 3.8 1 40.2 1 13 1 5.2 1 2.1 1 8 1 14.4 1 1.7 1 9.7 1 1.9 1 .6 1 27.4 1 2.4 1 14.1 1 .6 1 4.5 1.6 2.8 1 6.5 1 14.7 1 1.1 1 1.7 1 15.2 1 .2 1.9 25 1 3.9 1 17.2 1 4.9 1 7 2.9 20.7 1 6.2 1 2.1 1 26.1 8 .1 1 .1 1 .7 1 8.8 1 4.5 1 37.8 1 1 3 17.8 1 35.8 1 29.8 1 156.4 1 9.2 1 38.8 1 11.3 1 71.9 1 167.2 1 19.2 1 2.1 1 31.5 1 15.3 1 3.3 1 2.4 1 .2 1 .3 1 20.9 1 2 1 14.8 1 20.3 1 15.9 1 1.1 1 24.4 1 8.8 1 4 1 27.7 1 7.1 1 7 1 7 1 5.7 1 1.1 1.8 11.3 1 3.3 1 19.2 1 9.5 1 4.1 1 14.1 1 3.7 1 3.3 1 8.3 1 13 1 24.7 1 4 1 .3 1 13.2 1 66 1 1.9 1.3 1.1 1 11.4 1 5.3 1 30.6 1 14.1 1 14 1 76.9 1 93.6 1 32.5 1 68.8 1 22.3 1 6.2 1 31.2 1 86.9 1.8 35.4 1 10.7 1 21.3 1 44.6 2 56.8 1 2.2 6 .1 1.8 .2 1 30 1.9 15.5 1 7.4 1 .1 2 .3 1 1.5 1 23.8 1 7.4 1 2.2 1 4 1 4.2 2 2.4 1 .1 1 16 1 8.9 1 14.1 1 17.3 1 .6 1 1.6 1 1.7 1 3.2 1.5 .5 1 10.7 1 13.6 1 1 1 .5 1 13.5 1 1.8 1 2.8 1 1.3 1 1.7 1 2.8 2 2.4 1 4.1 1 13.5 1 4.5 1 2 1 6.1 1 6.8 1 8.9 1 5.5 1.4 6.3 1 5.9 1 8.3 1 6.1 1 7.6 1 10 1 4.7 1 28.4 1 3.6 1 1.4 1 16.9 1 26.1 1 95.5 1 179 1 4.1 1 1.6 1 23.5 1 3.6 1 21.9 1 2.8 1 23.1 1 118.7 1 92.4 1 6.1 1 54.9 1 18.3 1 37.4 1 16.3 1.8 .1 1 21.1 1 7.1 2 .3 1 5 1.3 5.2 1 18.2 1 .2 1 5.1 1 5 1 1.5 1 8 1 8.8 1 4.5 1 6 1 1.7 1 1.8 1 13.5 1 4.7 1 8.7 1 2.7 1 13.2 1 3.1 1 27.9 1 5.1 1 2.9 1.9 20 1 .6 2 20.6 1 .7 1 21.3 1 13.7 2 .2 1 2.3 1 2.2 1 14 1 2.3 1 7.8 1 5.3 1 18.9 6 1.7 1 57.3 2 26 1 18.7 1 58.5 1 75.4 1 136.2 1 98.9 1 .6 1 5.3 1 4.8 1 38 1 6.9 1 45.4 1 21.4 1 4.2 1 1.1 1 32.1 1 10 1 18.7 1 1.5 1 41.4 1 4.3 1 .9 1 15.7 1 10.4 1 8.1 1 24.5 1 14.4 1 2.1 1 11.5 1 .2 1 11.4 1.7 6.8 1 .3 1 2.8 1 1.3 1 1.5 1 7.7 1 1.7 1 2.1 2 .5 1 25.1 1 8.8 1 7.8 1 1.9 1 4.4 1 8.6 1 9.2 1 18.6 1 7.7 1 4.4 1 13.1 1 3.1 1 1.8 1 2.4 1 13.1 1 1.4 1 2.4 1 17.8 1 9.3 1 49 1 .1 1 3.1 1 1.9 1 19.4 1 18 1 .2 1 115.8 1 78.3 1 40.1 1 19.3 1 .7 1 6.3 1 12.9 1 1.3 1 34.8 1 144.2 1 34.8 1 30.8 1 10.3 1 3.2 1 13.7 2.9 5.7 1 42.5 1 8.9 7.9 .1 1 .7 1 5.9 1 1 1 2.1 1 18.2 1 10.6 1 12.5 2.9 23.4 1 .9 1 9.7 1.9 5 1 5.3 1 5.4 1 3.7 1 .1 1 .6 1 1.8 1 1.3 1.5 10 1 2.4 1 .3 1 3.6 1 2 1 3.3 1 3 1 3.4 1 .8 1 8.7 1 .2 1 1.9 1 1.1 1.6 2.4 1 4.9 1 1.7 1 3.3 1 .9 1 5.3 1 2.6 1 8.7 1 6.7 1 2.9 1 6.9 1 11.1 1 22.3 1 .7 1 4.5 1 5.8 1 8.6 1 6.5 1 .4 1 .4 1 9 1 9.3 1 18.4 1 22.6 1 6.6 1 21.1 1 7.7 1 33.8 1 7 1 22.5 1 2.7 1 33.1 1 19.9 1 111.1 1 23.9 1 51.6 1 15.3 1 19.5 1 27 1 130.2 1 66.6 1 40.3 1 11.4 1 30.4 1 8.6 1 5.3 1 1.7 1 20.2 1 22.1 1 .2 1 1.5 1.9 21.7 1 1.6 1 1.3 1 .9 1 1.4 1 26.8 1 3.3 1 8.5 1 18.9 1 4.3 1 2.1 1 14.9 1 2.9 1 23 1 4.3 1 6.7 1 1 1 .9 1 36.3 1 5.1 1 .3 1.7 5.9 1 .4 1 3 1 6.7 1 1.9 1 1.2 1.9 11 1.8 1.8 1 .6 1 .9 2 1.5 1 4.9 1 4.9 2.9 4.9 1 2.9 1.9 2.4 1 6 1 24.7 2 .2 1 23.8 1 3.8 1 12.6 1 1.2 1 12.4 8 50.8 1 6.1 1 .1 3 20 1 36.3 1 144.3 1 3.4 1 29.9 1 11.4 1 24.1 1 107.9 1 101.7 1 74.2 1 76.4 1 34 1 6 1 17 1 .8 1 15 1 14.4 1 .7 1 .1 1 26.5 1 2 1 6.1 1 7.8 1 18.6 1 5.9 1 17.2 2 6.7 1 3.2 1 25.9 1 2.8 1 2.6 1 4.8 1 2.3 1 1.3 1 8.6 1 4.9 1 6.1 1 9.1 1 7.5 1 2.5 1 3.4 1 5.7 1 12.7 1.5 8.1 1 10.2 1 5.8 1 .6 1 16.7 1 9 1 21.1 1 38.2 1 24.1 1 6.8 1 4.5 1 27.1 1 93.4 1 5.5 1 125.3 1 .3 1 44.7 1 13.5 1 92.7 1 63.9 1 4.2 1 13.2 1 38.5 1 2.1 1 3.2 3 34.1 1.5 14.1 1 .3 1 5.9 1 .2 6.9 .1 1 5 1 12.8 1 7.5 1 12.7 1 10.5 1 3.3 1 1.1 2 16 1 3.4 1 6.1 1 7.5 1 .2 1 24.9 1 2.3 1.7 4.6 1 2.4 1 6.7 1 11.3 1 15.8 1 1.2 1 6.2 1 .1 1 1.8 1 .6 1 .6 1.4 3 1 1 1 1.9 1 2.1 1 1.3 1 15.9 1 12 1 4.2 1 8.2 1.9 1.9 1 9.3 1 6.9 1 .8 1 5.8 1 2.3 1.7 45 1 2.6 1 6 1 18.4 1 9.2 1 11.2 1 44.1 1 11.7 1 40.5 1.8 59.8 1 18.2 1 156.5 1 38.4 1 16.7 1.5 14.9 1 .1 1 88.5 1 21.8 1 6.9 1 4.3 1 78.8 1 4.2 1 24.5 1 15.1 1 11.1 1 10.7 1 47.8 1 1.6 1 .1 1 15.9 1 13.9 1 9.9 1 39.6 1 8.2 1 12.2 1 4 1 6.3 1 5.5 1 9.3 1 10.9 1 9.9 1 .2 1 7.8 1 2.4 1 7.6 1 7.2 1 3.3 1 3.7 1 5 1 6.5 1 .6 1 3.3 1 .1 1 .5 1 2.1 1 13.1 1 1.3 1 4.1 1 .7 1 2.2 1.9 .9 1 .9 1 2.2 1 .5 1 6.3 1 8 1 .1 2 7.6 1 12.1 2 .2 2 8.3 1 9.1 1 15.6 2.9 17.3 1 2.8 1 2 1 11.5 1 15.8 1 2.5 1 1.2 6 .1 1 .8 1.9 15.4 1 36.5 1 2.3 2.9 17.4 1 5.6 1 1.4 1 11.9 1.7 36 1 166.2 2.6 12.5 1 9.5 1 34.6 1 32.1 1 64.2 1 14.9 1 105.9 1 70.9 1 3.1 1 15.9 1 2.8 1 13.3 1 8.8 1 7.6 1 .4 1 4.4 1 10.1 1 7.1 1 5.3 1 3.4 1 17.6 1 7.7 1 1.1 1 2.3 1 1.3 1 10 1 14.1 1 21.8 1 4.2 1 8 1 11 1 3 1 12.1 1 1.9 1 15.2 1 7.1 1 .8 1 16.8 1 2.5 1 2.9 1 5.8 1 24.7 1 3.3 1 6.2 1 2.7 1 .3 1 4.1 1 18.6 1 37.8 1 5.2 1 2.5 1 10.2 1 55.7 1 35.8 1 4.6 1 251.6 1 .3 1 30.1 1 17.3 1 29.5 1 25.5 1 2.5 1 57.2 1 94.7 1 27.8 1 .1 2 31.4 1 17.9 1 3.2 1 1.9 1 1.6 6 .1 1 3.6 1 18.3 1 9 1 .2 1 13.8 1 3.3 1 3.8 2.9 16 1 15.3 1 1.8 1.9 3.4 1 4.7 1.7 4.2 1 22.3 1 2.7 1 4.7 1 1.2 1 1.9 1 4.1 1 8 1 2.4 1 8.7 1 2.8 1 5.4 1.6 8.4 1.8 3.1 1 2.2 1 4.1 1 8.9 1 2.1 1.8 3.2 1 .9 1 11.2 1 1.1 1 5.6 1 .1 1 .1 1 .9 1 12.8 1 2.1 1 7.8 1 2.1 1 20.1 1 13.1 1.7 14.1 1 15.6 1.7 4.8 1 1.6 1 45.9 1 1 1 .5 1 11 1 50 1 4.3 1 77.5 1 44.3 1 31.5 1 62 1 31.3 1 8.6 1 24.7 1 21.5 1 17.6 1 66.2 1 74 1 55.2 1 26.9 1 24 1 8.6 1 23.1 1 15.3 1 8 1 4.3 1 .4 1 13.9 1 17 1 6.4 1 10.1 1 1.9 1 10.8 1 3.4 1 13.6 1 .2 1 5.3 1 3.2 1 3.6 1 5 1 .8 1 11.3 1 2.4 1 5.5 1 10.8 1 16.3 1 4.5 1 .4 1 12.1 1 6 1 2.2 1 8.8 1 3.2 1 4.6 1 3.1 1 .2 1 8.8 1 .2 1.9 4.3 1.7 .9 1 2.3 1 5.9 1 3.2 1.8 14.3 1 .5 1 1.5 2.6 1.8 1 8 1 7.5 1 3.6 1 .1 1 .1 1 6.9 1 11.4 1 4.5 1 9.1 2.9 .3 1 5.8 1 2.1 1 .9 1 11.1 1 14.8 1 16.2 1 .9 8 48.6 1 8.4 2 1.2 1 27.9 1 56.1 1 111.5 1 24.6 1 13.7 1 7.3 1 32.2 1 7.7 1 6.3 1 3.9 1 8.2 1 146 1 19.6 1 51.1 1 1.7 1 21.2 1 2.5 1 9.5 1 22.9 1 27.4 1.6 .9 1 18.7 1 1.2 1 1.1 1 21.2 1 16.3 1 2.7 1.7 2.5 1 13.8 1 .2 2.6 5.5 1 12.2 1 16.4 1 .4 1 2.5 1 10.1 1 21.1 1 1.2 1 3.1 1 5 1 2.9 1 11 2 .2 1 .6 1.9 99999"/>
<path d="M119 250.167h552v.3333h-552v.3333h552v.3333h-552v.3333h552v.3333h-552v.3333h552v.3333h-552v.3333h552v.3333h-552v.3333h552v.3333h-552v.3333h552v.3333h-552v.3333h552v.3333h-552v.3333h552v.3333h-552v.3333h552v.3333h-552v.3333h552v.3333h-552v.3333h552v.3333h-552v.3333h552v.3333h-552v.3333h552v.3333h-552v.3333h552v.3333h-552v.3333h552v.3333h-552v.3333h552v.3333h-552v.3333h552v.3333h-552v.3333h552v.3333h-552v.3333h552v.3333h-552v.3333h552v.3333h-552v.3333h552v.3333h-552v.3333h552v.3333h-552v.3333h552v.3333h-552v.3333h552v.3333h-552v.3333h552v.3333h-552v.3333h552v.3333h-552v.3333h552v.3333h-552v.3333h552v.3333h-552v.3333h552v.3333h-552v.3333h552v.3333h-552v.3333h552v.3333h-552v.3333h552v.3333h-552v.3333h552v.3333h-552v.3333h552v.3333h-552v.3333h552v.3333h-552" stroke-dasharray="0 3.2 1 20.9 1 30 1 20.6 1 1.5 1.8 36.8 1 6.2 1.6 1 1 2.4 1 10.7 1 7.2 1.7 2.5 1.5 3.6 1 2.2 1 6.2 1 .1 1 2.1 1 7.3 1 11.9 1 26.9 1 52.8 1 .3 1 92.3 1 12.3 1 73.1 1 98.6 1 56 1 28.6 1 15.4 1 68.2 1 7.8 1 79.1 1 3.9 3 6.5 1 1.1 1 2.5 1 3.2 1 4.4 1 21.7 1 .3 1 3.3 1 1.2 1 3.8 1 1.1 6.9 .1 2 1.2 1 4.6 1 23 1 7 1 1.1 1 6.4 1 2.4 1 3.4 3.8 .2 1 1.7 1 .1 1 2.2 1 1.5 1 20.7 1 2.5 1 .1 1 3.8 1 7.4 1 4.5 1 4.1 1 1.3 1.9 5.3 1.7 12.1 1.7 3.3 1 1.7 1 7 1 .1 1 1.4 1 3.9 1 5.8 1.9 1.2 1 2 1 11 1.8 .1 1 2.2 2.6 2.1 1 3 1 2.5 1 2 1 11 1 .1 1 1 1 2.2 1 5.4 1 17.3 1 14.9 1 6.1 1 9.6 1 2.1 1 4 1 4.9 1 17.6 1 6.6 1 .5 1 6.6 1 19 1 3.5 1 11.2 1 5.3 1 6.6 1 2.4 1 16.4 2.3 1.4 1 19 1 47.2 1 7.8 1 9.1 1 19.8 1 102.8 1 13.6 1 73.3 1 12.7 1 .2 1 3.7 1 33.8 1 1.4 1 69.6 1 65.1 1 41 1 48.3 1 31.6 1 9.2 1 .2 1 48.1 1 .5 1 9.3 1 2.9 1 .9 1 1.1 1 .3 1 27.4 1 24.7 1 2.5 1 5.9 1 1.6 1 4.4 1 23.3 1.7 2.9 1 .5 1 4.6 1 1.3 2 2 1 1 2 2.3 2 19.7 1 4.1 1 7.2 1 5.7 1 5.9 1 .4 1 .8 1 13.7 1 .1 1 1.2 1 4.1 1 2.4 1.7 3.2 1 4.8 1 1.9 1 .4 1 1.8 2.9 .9 1 1.1 1 4.2 1.7 .4 1.6 .2 2 .8 1 7.9 1 .1 1 .2 2 7.1 1 .9 1.7 3.2 1 .9 1 8.2 1 34.9 1.9 15.1 1 14.2 1 1.5 1 .2 1 .1 3 12.1 1 2.9 1 7.1 2 1.2 1 9.4 1 17.7 1 1.6 6 1.2 1 .7 1 4.1 1 9.6 1 40.4 3 30.7 1 107.3 1 96.4 1 4.9 1 1.4 1 28.7 1 23.6 1 7.4 1 1.2 1 95.6 1 146.8 1 4 1 43 1 36.7 1 5.8 1 .7 1 2.1 1 21.8 1 8.5 1 9.5 1 .1 1 7.1 1 3 3 9.1 1 14.1 1 16.2 1 4.6 1 6.2 1 7.1 1 24.7 1 2.2 1 25.9 1 2.1 1 1.5 1 4.9 1 7.7 1 2 1 10 1 2.1 1 1.2 1 7 1 3.5 1 4.2 1 7.8 1 10.3 1 .7 1 12.3 1 2.3 2 .4 1 14.3 1 17.6 1 2.4 1 6.8 1 2.1 1 15.7 1 6.6 1 11 1 6.5 1 5.7 1.7 .1 1 13.8 1 17 1 42.6 1 37.6 1 32.5 1 38.6 1 8.5 1 88.2 1 32.3 1 23.3 1 25 1 23.5 1 7.6 1 89.5 1 1.5 1 7.9 1 119.7 2 17.3 1 18.4 1 18.7 1 1.7 7.9 .1 1 1.9 1 7.4 1 19.7 1 2.8 1 20.1 1 1 2 2.3 1.6 1.2 1 5.9 1 2 1 2.7 2 14.3 2 12.1 1 2 1 8.9 2 11.8 1 2.3 1 8.2 1 2.6 1 7.2 1.6 .5 1 14.6 1 2.2 1 5.9 1 1.2 1 .1 1 .7 1 .2 1.8 1.2 1 3.2 1 1.8 1 9.3 1 1.8 1 8.4 1 1.7 1 1.2 1 4.1 2.6 8.9 1 17.3 1 1.1 1.6 9.6 1.8 2 1 9.9 1 2.6 1 4.6 1 2.9 1 3.4 1 .6 1 22.7 1 19.9 1 16.5 1 2.5 1 5.6 1 23.7 1 15 1 16 1 18.4 1 8.9 1 .4 1 4.1 1 27.8 1 46.9 1 90.3 1 86.1 1 11.1 1 .3 1 8.3 1 4.7 1 3.4 1 3 1 138.3 1 164 1 3.2 1 2.4 1 34.4 1 4.5 1 4.9 1 5.9 1 13.9 1 5.5 1 18.8 1 10.7 1 2.5 1.7 2.8 1 1.1 1 40.7 1 4.1 1 24.3 1 2.7 1 17.3 1 1 1 15.3 1.7 .2 1.8 .2 3 .1 1.8 2 1 2.3 1 .7 1 5 1 .1 1 1.1 1 .2 1 .9 1.6 1.4 1 5.9 1 1.9 1 .1 1.6 2.2 1 .2 1 1.8 1 1.9 1 1.5 1 .5 1 3.5 2 7 1 7.8 1 1.3 3.6 8.2 1 5 1 2.1 1 .1 1 4.7 1.9 12.9 1 3 1 6.4 1 9.7 4.7 9.1 1 1.3 1 6.7 1 .3 1 2.8 1 10.2 1 7 1 6.5 1 4.5 10.8 .5 1.8 .6 1 53.2 3 3 1 1.6 1 24.5 1 68.8 1 149.9 1 2.8 1 33.9 1 4.5 1 .5 1 14.2 1 4 1 29.3 1 16.7 1 78.5 1 62.2 1 33.2 1 16.6 1 12.3 1 14.9 1 11.7 1 2.5 1 12.6 1 2.3 1 3.7 1 6.5 1 7.8 1 19.7 1 2 1 1.3 1 .7 1 10.3 1 5.3 1 27.9 1 1.9 1 4 1 11 1 8.7 1.7 1.6 1 8.7 1 1 1 3.1 1 9.3 1 37.4 1 19.7 1 3.1 1 .1 1 1.9 1 1.8 1 10.1 1 6.9 1 4.2 1 1.8 1 16.9 1 8.7 1 4.4 1 2.1 1 7.1 1.9 5.1 1 4.4 1 2 1 13.5 1 7.2 1 2.4 1 1.7 1 1.8 1 6 1 20.5 1 .2 1 6.1 1 9.9 1 50.3 1 163.6 1 36.1 1 4.7 1 5.7 1 68 1 31.6 1 18.3 1 126 1 21.8 1 76.2 1 26.2 2.9 7.4 1 50.7 7.9 .2 1 2.9 1 11.7 1 .6 1 9.3 1 3.4 1.6 7 1 16.3 2 .2 1 22.5 1 9.5 2.8 2.6 1 2.9 1 4.6 1 8.1 1 5 1 .1 1 5.9 1.8 6.2 1 .7 2 3.9 1 6.5 1 3.6 1 8.8 1 .2 1 1.4 1.8 .9 3.9 1.3 1 4.9 1 6.1 1.7 .1 1 1.9 1 4.4 1.8 6.4 1 15.8 2 16 1 6.9 1 3.3 1 1.8 1 15.1 1 17.3 1 26.7 1 2.1 1 6 1 3.2 1 19.8 1 2.8 1 8.8 1 14.7 1 40.8 1 27.2 1 21.7 1 80.7 1 33.2 1 8.2 1 12.7 1 18.4 1 28.9 1 12.6 1 49.8 1 5.5 1 29.5 1 123.4 1 39.1 1 91 1 58.6 1 17.8 1 13 1 1 1 2.1 1 24.3 1 19.2 1 .4 1 5.5 1 8.3 1 5.4 1 2.4 1 17.3 1 8 1 8.7 1 2.9 1 2.5 1 1.6 1 7.5 1 1.7 1 6 1 21.7 1 4 1 13.5 1 6.9 1 2.2 1 4.2 1 3.9 1 .1 1 .8 1 1.1 1 2.1 1 .1 1.7 2.2 1.9 1 1 .9 1 1.1 1 .9 1 .8 1 1.1 1 1 1 .4 1 .5 1 3.4 2 1 1.7 .1 1 2.2 1 4 1.8 .1 1.8 11 1.8 4.2 1 .2 1 .2 1 5.1 1.5 5.6 1 5.9 1 1.6 1 1 1 1.1 1 2.2 1 3.4 1 25.4 2.9 .2 1.7 5 1 9.8 1 1.5 1 3.8 1 3.8 1 28.2 8 23.9 1 33.2 2.9 3.4 1 34.8 1 211.9 1 41 1 69.6 1 3.8 1 36.2 1 118.3 1 26.2 1 1.8 1 2.2 1 39.2 1 4.3 1.4 1.2 1 .4 1 15.5 1 .1 1 17.4 1 5.5 1 1.3 1 7.1 1 .2 1 3.3 1 2.9 1 .6 1 8.9 1 7.3 1 5.5 1 .7 1 29.5 1 8.7 1 4 1 2.1 1 2.7 1 .2 1 22.3 1 8.8 1 7 1 3.1 1 15.2 1 14.2 1 4 1.8 8.3 1 3.1 1 10.6 1 1 1 15 1 1.9 1 3.4 1 14.6 1 7 1 14 1 1 1 1.1 1 17.1 1 8.1 1 6.3 1 1.2 1 6 1 5.1 1 3 1 13 1 .7 1 15 1 12.6 1 .9 1 16.1 1 10.8 1 4.6 1 2 1 14.4 1 19.2 1 3.2 1 182.8 1 9.4 1 9.9 1 62.4 1 10.5 1 4.2 1 15 1 .3 1 212.7 1 1.8 1 28.1 3 43.4 1 13.8 7.8 .1 1 2 1 29.9 1.8 11 1 5.4 1 .7 1 4.1 2 .1 1 .2 1 .5 1 8.9 1 8.3 1.9 6.5 2 1.6 3 .1 1 6.1 1 17.9 1 3.7 1 .5 1 .4 1 2.6 1 2.8 1 .7 1.9 2.5 1 1.2 1 9.7 1 .1 1 .9 1 .8 1.9 .3 2.8 2.2 1 .1 1 3.9 1.9 1.1 1 1 1 .1 1 .6 1 4 1 .4 1 1.1 1 1.7 1 7 1 1.3 1 .7 1 3.5 1 5.9 1 2.2 1 7.6 1 6 1 8.4 1 11.9 1 2.2 1 6 1 1.6 1 11.2 1 1.9 1 2.3 1 1.5 1 1.1 1 2.8 1 .5 1 20.8 1 15.4 2.7 6.1 1 11.9 1 3.9 1 16.9 1 4.9 1 7.5 1 1.1 1 13.5 1 .2 1 11.5 1 2.1 1 27.2 1 27.3 1 13.4 1 130.4 1 40.6 1 27.2 1 40.6 1 10.3 1 2.1 1 191.8 1 46.6 1 41.5 1 45.3 1 2 1.9 22.5 1 4.3 1 18.6 1 5.7 1 4.4 1 3.1 1 4.8 1 8.3 1 4.6 1 9.5 1 5.8 1 4.9 1 2.2 1 6.6 1 .7 1 34.4 1 6 1 1.1 1 5.9 1 1 1 9 1 12.2 1 4.5 1 10.2 1 3.1 1 1.6 1 .6 1 3.4 1 1 1 1.8 1 .9 3 3 1 .3 1 3.7 1 1.1 1 5.2 1.9 5 2.6 3.4 1 .6 1 .4 1 7.8 1 .2 1 1.8 1 2 1 2.9 1 .9 2 .6 2.4 7.2 1 .1 1 2.6 1 13.7 1 2.1 1 2.3 1 .2 1 1.7 1 8.6 1 3.6 1 6.8 1 8.6 1 1.7 2 .8 1 9.4 1 1.2 1 1.7 1 3.3 1 12.5 1 20.9 1 1.2 1.9 .1 7 9.6 1 48.4 3 7.3 1 12.2 1 10.4 1 5 1 88.1 1 51.4 1 44.9 1 12.4 1 1.3 2 2.9 1 25.6 1 13.5 1 67.2 1 153.9 1 35.2 2 3 1 2.4 1 19.1 1 3.9 1 27.5 1 28.4 1 11.7 1 17.3 1.9 2.6 1 10.6 1 1.5 1 .7 1 3.2 1 10.1 1 1.3 1 2.4 1 15 1 6.6 1 5.2 1 2.5 1 1.2 1 13.1 1 4.9 1 3.9 1 1.3 1 12.7 1 1.9 1 9.2 1 27 1 1.2 1 1.2 1 10.2 2.7 2.8 1 3.2 1 8.2 1 3 1 4.1 1 6.5 1 3.5 1 3.7 1 5 2 .1 1.9 14.8 1 9.2 1 4.6 1 1.5 1 12.5 1 5.3 1 7.1 1 12 1 .2 1 1.8 1 11.7 1 27.7 1 .6 1 2.2 1.6 4.1 1 3.7 1 1.5 1 100.9 1 53 1 17.3 1 30.9 1 55.9 1 10.9 1 28.3 1 52.8 1 3.8 1 7.8 1 20.5 1 19.2 1 31.6 1 16.1 1 105.2 1 48 3 3.4 1 1.9 1 46.8 1 3.9 7 10.6 1 12.5 1 8.9 1 9 1 6.2 1 3.8 1.7 2.3 2 2.2 2 14.1 1 1.7 1 7.1 3 1.3 1 .7 1.9 22.3 1 .5 1 .2 2 9.2 1 1 1 5.1 1 1.5 1 2.1 1 .2 1 3.2 1 3.6 1 1.1 1 3.2 1 8.8 1 1 1 4.8 1 3.2 1 5.9 1 1.2 2 3.2 1 1.6 1 1 1 1.1 1 8.2 1 4 1 1.2 1 7.9 1 3.8 1 .2 1 1 1 4.2 1.8 15.9 1 4.4 1 1.8 1 8.1 1 3.7 1 3.1 1 12.8 1 2.1 1 1 1 4.3 1 .1 2.9 11.5 1 13 1 2.2 1 16.3 1 18.8 1 3 1 5.3 1 7.6 1 9.2 1 78.3 1 20 1 5.4 1 59.7 1 21.6 1 26.4 1 25.1 1 37.1 1 27.7 1 4.3 1 4.6 1 1.5 1 40 1 8.6 1 4.7 1 .4 1 103.7 1 132.6 1 1.6 1 47.7 1 21.3 1 2.9 1 1.1 1 16.9 1 3.2 1 3.7 1 3.6 1 35.4 1 1.5 1 3.6 1 .4 1 1 1 4.6 1 2 1 1 1 2.2 1 1.1 1 .5 1 7.4 1 3.1 1 2.9 1 18.9 1 8.1 1 10 1 26.1 1 6.5 1 4.5 1 13.3 1 4 1 .8 1 .9 1 1.1 1.9 .1 1 3 1 2.2 2.6 .1 1 .4 2.6 .3 1 5.6 1 5.2 1 .2 1 3.1 1.8 2.1 1 4.6 1 1.5 1.7 .1 1 2.1 1 2 1 1.8 1 5 2.7 2.4 1 1.6 1 1.2 1 1.1 1 3.3 1 12.8 1.9 1.2 1 2.1 1 3.3 1 2.1 1 2.1 1 20.2 3 3.2 1 17 1.5 1.4 2 13.7 1 17.2 7 .9 1 2.7 1 2.3 1 27.7 1 2.3 1 14.3 1 1 1 .8 3 11.1 1 3.9 1 11.9 1 81.9 1 36 1 96.1 1 37.8 1 .7 1 107.4 1 151.2 1 48.3 1 9.8 1 11.4 1 .5 1 13.6 1 3.9 1 4.3 1 29.9 1 2.6 1 .8 1 5.6 1 9.9 1 25.1 1 16.7 1 8 1 2.2 1 4.6 1 2.9 1 3.3 1.7 .2 1 10.2 1 4.7 1 1.2 1 14.9 1 12.2 1 5.8 1 .4 1 21.3 1 19 1 4.5 1 2.3 1 .9 1 2.8 1 .9 1 4.1 1 6 1 .5 1 12.5 1 4.8 1 12.1 1 6.5 1.7 15.7 1 2.6 1 16.1 1 .5 1 12.4 1 21 1 .8 1 8 1 20.6 1 135.1 1 114 1 53.1 1 .4 1 6.1 1 19 1 79.6 1 4.7 1 5.3 1 42.2 1 136.3 2.9 59 7 .1 1 14.3 1 3.2 1 3.7 1 8.7 1.9 13.2 1 1.9 1 4.3 1 .7 3 1.1 1 9 1 4.9 1 9.9 1 7.1 1 .2 1 7.6 1 4.2 1 1.4 1 .2 1 16.3 1 .3 1 5.9 1 1.9 1 .2 1 .1 1.8 .7 1 1.2 2 3.8 1 .2 1 .9 1 1.2 1 4.2 1 2 2 .7 1 4.9 2 .2 1 1.7 1 3.1 1 5.3 1.6 .3 1 1.2 1 2.9 1 .7 2 .3 1 18.9 1 5.3 1 9.8 1 5.1 1 1.3 1 7.7 1 15.2 1 9.2 1.8 4.7 1 25.1 1 1.8 1 17.2 1 3.5 1 5.5 1 8.9 1 9.9 1 6.1 1 .6 1 4.3 1 16.4 1 21 1 .1 1 37 1 24.7 1 31.3 1 4.1 1 15.6 1 110.5 1 70.9 1 4.1 1 8.6 1 12.1 1 10.5 1 14.9 1 4 1 4 1 77.1 1 3.5 1 49.6 1 .9 1 66.7 1 33.8 1 54.4 1 37.6 1 7.1 1 .1 1 1 1 41 1 13.7 1 3.7 2 .7 1 7 1 4.9 1 5.9 1 2.9 1 8.8 1 1.2 1 5.5 1 10.9 1 3 1 .6 1 .4 1 .7 1 2 1 15 1 5.1 1 20.2 1 5 1 1.3 2.7 .2 1 .8 1 1.2 1 .1 1 2.7 1 2.2 1.8 4.1 1 .9 1 6 1 1.3 1 10.6 1 2.2 1 2.9 1 1.1 1 4 2 .2 1.6 .1 1 5.8 1 1.4 1 3.9 1 1.1 1.9 4.8 1 1.2 1 .6 1 4.2 1 9.1 1 .1 1 .1 1 17.9 1 .1 1 9.8 1 4.1 3.9 .4 1.5 2.4 1 8 1 8 2.7 20.9 1 10.1 1 .1 7 4.4 1.5 .2 1 26.8 1 8.5 1 9.2 1 3.6 3.8 14.1 1 46.3 1 1 1 65.5 1 77.7 1 33.1 1 5.2 1 3.7 1 20 1 26.4 1 83 1 86.6 1 70.6 1 1.3 1 4 1 36.7 1 32.1 1 5.3 1 25.1 1 1.7 1 .3 1 8 1 9.7 1 27.3 1 14.3 1 15.4 1 30.9 1 6.1 1 2.1 1 1.1 1 1.7 1 5.1 1.9 12.9 1 1.1 1 3.9 1 10.2 1 21.2 1 3.2 1 1.2 1 16.7 1 .2 1 .7 1 1.1 1 1.2 1 1.6 1 .4 1 8.8 1 14.3 1 15.7 1 4.1 1 11.8 1 .1 1 3.9 1 2.5 1 9.5 1 5.3 1 1.9 1 23.7 1 2 1 10.2 1 1 1 6 1 3.6 1 2 1 3.6 1 13.4 1 9 1 26.7 1 48.7 1 44.9 1 68.2 1 4.5 1 76.7 1 18 1 17.7 1 1.8 1 17.8 1 1.5 1 .1 1 7.6 1 15.9 1 8.7 1 46 1 50.9 1 123 3 .2 1 46.7 1 9.1 8 .1 1 .1 1.8 1.1 1 8.5 1 4.1 1 24.1 1 6.6 1 1.9 1 2.6 1 .3 3.8 11.2 2 1.1 1 2.7 1 1.9 1.7 1.5 1 5.8 1 1.5 2.6 .3 1 .5 1 .1 1 4.4 1 10.4 1 5.4 1 9.6 1 3.1 1 6 1 2 1 3 1 .4 1 2.6 1 1.5 1 4.9 1 1.6 1 1.3 1 2.9 1 5.3 1 .7 1.8 2.1 1 6 1 .2 1.7 1.2 1 2.1 1 .2 2.5 2.2 1 1.4 1 .1 1 7 1 6.9 1 3.2 1 4.6 1 10.2 1 .1 1 2.6 1 20.5 1 14.1 1 2.6 1 29.7 1 4.6 1 4.8 1 1.9 1 9 1 22.9 1 16.2 1 9.6 1 25 1 .9 1 1.3 1 2.2 1 10.9 1 41.3 1 21 1 4.8 1 136.6 1 39.5 1 4.2 1 14 1 14.9 1 31.5 1 11.3 1 6.2 1 3 1 9.9 1 9.5 1 40.1 1 142.2 1 5 1 8.5 1 27.9 1 4.3 1 47.6 1 16 1 2.8 1 2.7 1.5 35.3 1 3.1 1 .4 1 1.6 1 1.5 2 4 1 6 1 6 1 7.6 1 12.4 1 9.8 1 5.1 1 .9 1 4.1 1 3 1 9.2 1 12.1 1 5.9 1.9 12.3 1 2.7 1 7.2 1 4.1 1 10.9 1 12.5 1 .6 1 5.4 1.6 16.4 1 1 1 1.6 1 2.4 2 .9 1 .8 1 2 1.9 .1 2 2 1 .1 1 1.1 1 3.7 1 2.2 1 2.8 1 .5 1.9 2.7 1 .8 1 8.4 1 3.3 1 3.7 1 3.3 1 .5 1 1.3 1 7.8 2 6.7 1 16.5 1 4.6 1 .1 1 3.1 3 24.1 1.9 17.1 1 6.6 1 6.4 8.7 1.5 1 9.5 1 41.4 1 2.8 2 45.7 1 13.6 1 170.9 1 10.7 1 21.8 1 4.1 1 14.2 1 12.9 1 11.4 1 119 1 21 1 56.4 1.5 32.2 1 23 1 8.8 1 11.8 1 10.2 1 2.6 1 12.2 1 .5 1 14.9 1 5.6 1 .5 1 2.5 1 4.6 1 8.3 1 1.2 1 14.1 1 8.8 1 4.2 1 .1 1 1.4 1 6.8 1 9.5 1 11.5 1 2.7 1 24.4 1 3.7 1 3.1 1 15.8 1 12.1 1 5.2 1 2.1 1.8 5.1 1 8.7 1 4.3 1 1.3 1 9 1 .8 1 22.1 1 4.8 1 7.1 1 2.4 1 6.7 1 13 1 .9 1 3.4 1 5.4 1 2.5 1 9.7 1 9.9 1 4.3 1 13.3 1.2 34.4 1 15.6 1 .1 1 29.4 1 1.3 1 3.2 1 12.5 1 8.1 1 23.1 1 7.8 1 40.8 1 1.7 1 7.5 1 15.3 1 162.7 1 7 1 75.4 1 1.6 1 9.8 1 58.1 1 110.5 1 12.2 1 28.7 2.9 55.3 1 2.7 7 .1 1 1.2 1 4.5 1 2.2 1 10 1 5 1 1.1 1 1.9 3 10.1 2 6.7 1 3.3 3.7 .5 1 .6 1 7.2 1.5 6 1 1.1 1 1.2 1 2.5 1 .8 1 3.2 1 1 2.6 15.3 1 1.4 1 4.2 1 1.1 2.8 2.9 1 .4 1 3.9 1 1.7 1 .6 1.9 2.9 1 4.2 1 .8 2 1.1 1.8 1.3 1 .8 1 1.8 1 .9 1 1.3 1 4.9 1 2 1 .2 2.6 2.2 1 1.3 1.6 .1 3 4.8 1 1.1 1.9 1.4 1 3.6 1 10.5 1 1.2 1 9.7 1 8.4 1 6.7 1 6.8 1 2.5 1 10.9 1 4.1 1 7.6 1 1.3 1 3.8 1 19.7 1 11 1 18.1 1 18.6 1 2.7 1 1.6 1 .5 1.8 1.9 1 6 1 10.9 1 2.2 1 8.8 1 6.2 1 56.9 1 1.1 1 3.2 1 2.9 1 47.2 1 49.3 1 52.4 1 16.1 1 33.2 1 27.5 1 5.7 1 17.8 1 6.8 1 11.6 1 4.7 1 26.1 1 5.3 1 43.4 1 84.2 1 5.4 1 20.5 1 74.8 1 17.1 1 33.9 1 1.3 1 24.4 1.3 .4 1 2.6 1 3.1 1 14.5 1 13.4 1 2.6 1.9 2.2 1 13.6 1 5.8 1 11.2 1 3.6 1 5.4 1 1.7 1 2.2 1 5.2 1 20.8 1 19.1 1 13.1 1 .9 1 2.2 1 9.1 1 .6 1 .1 1 4.8 1 .5 1 18.2 1 2.7 1 1.2 2.8 .1 2 .2 1.7 .3 2 5 1 .7 1.9 5.5 3.7 .9 2 1.4 1 1.8 1 .7 1 3.2 1 4.1 1 .8 1 .1 1 4.8 1 .4 1 .9 1.9 6.4 1.6 2.3 1 2.4 1 3.4 1 3.1 1 3.1 1 1.3 2 6.2 1 6.2 2 1 1 .2 1 7.2 1 22.8 1.7 .1 2 .2 1 1 1 .2 1 13.8 1 1.9 1 2.9 1.9 13 1 6.3 1 9.6 1 .2 7 17.6 1 8.7 1 30.7 4 7 1 51.6 1 12.3 1 23.8 1 166.1 1 23.2 1 3.2 1 69.3 1 29.5 1 66.5 1 27.9 1 114.8 2 2.1 1 9.3 1 15.5 1 1.5 1 .8 1 2.4 1 3.6 1 2.9 1 28.1 1 7 1 3.3 1 4.7 1 23.8 1 6.9 1 5.5 1 7 1 17.5 1 3 1 2.2 1 1.3 1 32.6 2 16.6 1 3.1 1 5.7 1 2.2 1 14.1 1 2.6 1 4.3 1 2.8 1 .9 1 3.1 1 17.2 1 6 1 5.7 1 .1 1 5.3 1 2.1 1.9 2.1 1 1.4 1 2.3 1 .6 1 3.7 1 8.4 1 10.1 1 1.3 1 2.2 1.8 3.9 1 1.9 1 25.9 1 3.5 1 5.6 1 6.8 1 4.1 1 30.3 1 6.7 1 6 1 28.6 1 4 1 5.2 1 15.8 1.2 97.5 1 39.3 1 82.4 1 2.8 1 26.4 1 26.3 1 53 1 30.8 1 29.8 1 1.8 1 108.1 1 15.6 1 .5 1 1.4 3 5 1 11.6 1 25.4 1 15 6 3.6 1 1.1 1 6.9 1 19.4 1 9.3 1 12.9 4.8 2 1 12.9 1 4.8 1 8.6 1 1.7 2 1.3 1 20 1 .6 1 1 1 2.4 1 1 1 1.5 1 2.2 1 2.8 1 3 1 .3 1 1.2 2.7 3.3 2 1.9 1.7 1.1 2.9 1.3 1 .8 1 3 1 1.1 1 2 2.9 2.9 1 1.3 1 1 1.6 3.2 1.9 3.3 1 .8 1 .2 1.7 .3 1 8.2 1 3.2 1 .7 1 12.2 1 5.8 1 2 1 5.3 1 5 1 10 1 3 1 12.6 1 .1 1 5.3 1 10.4 1 .1 1 2.3 1 2.6 1 1.4 1 1.8 1 6.1 1 10.4 1 .2 1 2.4 1.9 4.6 1.7 3.5 1 2.4 1 10.8 1 .6 1 .8 1 5.8 1 2.9 1 15.4 1 1.7 1 14.2 1 4.6 1 8.2 1 .7 1 10 1 43.6 1 .8 1 2.5 1 34.7 1 142.9 1 28.1 1 36.9 1 9.2 1 18.7 1 .1 1 23.4 1.9 1.9 1 111.3 1 48 1 35.3 1 57.2 1 39.5 1 1.2 1 1.2 1 11.4 1 23 1 .2 1 23.7 1 10.6 1 1.6 1 2.1 1 5 1 .6 1 .6 2 5.3 1 4.7 1 2.5 1 1.1 1 4.1 1 .7 1 1.3 1 .5 1 9.2 1 1.7 1 1.4 1 15.1 1 15.7 1 1.2 1 7.2 1 .4 1 11.3 1 12.1 1 5.9 1 4 1.8 2.1 1 1.5 1 3 2.7 4 1 4.2 1 .2 1.8 3.1 1 3.8 1 3.2 1.7 2.4 1 .9 2 7.7 2 2.2 1 2.2 1 2.6 1 4.4 1.6 .3 1 9.2 1 5 3.7 6.4 1 4.5 1 11.1 1 2.4 1 7.9 1 9.8 1 12.9 2 7.2 1 16.8 2 .4 1 15.5 1 11.4 1 1.7 8.8 .2 1 4.4 1.6 3.1 1 17.6 1 27.4 2.9 2.8 1 31.9 1 125.7 1 3.7 1 73.6 1 49.1 1 15.6 1 129.2 1 15.1 1 4.5 1 48.9 1 23.7 1 13.7 1 3 1 .6 1 64.1 1 3 1 2.1 1 2.1 1 .1 1.5 2.3 1 26.3 1 1.5 1 1.1 1 12.3 1 6.6 1 12.7 1 12.6 1 3.9 1 8 1.9 .5 1 .8 1 4.5 1 9.3 1 5.1 1 2.2 1 3.7 1.9 5 1 10.3 1.9 11.9 1 8.1 1 .9 1 10.9 1 13.6 1 4.9 1 23.7 1 2.3 1 .9 1 .8 1 .3 1 1.8 1 16.3 1.8 12.1 1 .1 1 14.9 1 9.2 1 9.7 1 .5 1 9.2 1 .6 1 8.5 1 1 1 .1 1 2 1 4 1 31.1 1 34.8 1 8.2 1 43 1 .5 1 10.2 1 29.5 1 67.2 1 34 1 2.9 1 57.6 1 2.3 1 36.9 1 102.6 1 14.8 1 43.6 1 68.8 1 65.9 1.2 3.4 3 .1 1 11.5 1 29.5 1 14.9 7 .1 1.7 14 1 .9 1 5.1 1 5 1 2.4 1 1.9 1 16.5 1 1.3 1 3.1 2 25.7 1 7 1 .4 1.9 7.4 1 .4 2 1.5 1.3 1.6 1 5.7 1 1 1 .2 2 6.7 1 .1 1 2.2 1 .7 1 1.3 1 2.9 1 .9 1 4 1.9 1 1 .5 1.9 2 1 .9 1 .1 1 1.8 1 3 2 2 1.8 .2 1 .9 1 .3 1 2.8 1 1.2 1.7 .4 1.9 .6 1 1.5 1 1.5 1 2.1 1.9 4.2 1 31.1 1 22.2 1 26.1 1 1.7 1 17.6 1 33.4 1 12.3 1 2 1 12.3 1 2.4 1 .6 1 4.7 1 5.5 1 4.4 1 7.4 1 2.8 1 3.2 1.5 13 1 4.6 1 40.2 1 124.8 1.4 1.4 1 16.3 1 58.9 1 4.1 1 40.6 1 9.7 1 1.4 1 6.7 1 20 1 97.6 1 13.5 1 85.6 1 5 1 65.9 1.9 52.1 1 16.5 1 3.7 1 11 1 5.4 1 33.4 1 4.4 1 2.1 1 5.3 2 .7 1 7.3 1 12.2 1 5.4 1 9.1 1 8.5 1 15.7 1 25 1 3.1 1 8 1 4.2 1 8 1 1.6 1 3.1 1 4.6 1 1.9 1 2.8 1 3 1 .1 1 9 1 15 1 1.3 1.5 .9 1 2.6 1 3.8 1 6.9 1 4.2 1 3.6 1 2.3 1 5.3 1 .8 1 1.9 1 10.2 1 7.1 1 2.9 1 1.7 1 2.4 1.4 1 1 8.9 1 17.3 1 1.1 3.8 1.4 1 8.6 1 4.8 1 6.4 1.9 12 1 2.1 1 .9 1 3.4 1 1.9 1 2.6 1 2.4 1 .7 8 6 1 .8 1 2.1 1 .4 1 25.5 1 15.6 1 1.6 3 36.2 1 41.2 1 83.4 1 3.1 1 34.7 1 38.7 1 29.7 1 4.4 1 12.9 1 10.3 1.6 11.5 1 36.9 1 52.8 1 29.6 1 87 1 42.3 1 17.4 1 16.6 1 34.8 1 2.1 1 2.1 1 9.6 1 8.2 1 6.1 1 7.8 1 5.8 1 1.6 1 48.8 1 20.2 1 2.3 1 3.4 1 7.2 1 1 1 8.1 1 10.8 1 1 1 3 1 9.3 1.7 11.7 1 .9 1 16.8 1.9 2.1 1 4.3 1 27.6 1 2.9 1 1.5 1.7 3 1 .3 1 6.8 1 1.6 1 3.4 1 8.3 1 5.7 1 10.6 1 7.3 1 .1 1 3.3 1 .3 1 23.8 1 19.8 1 10.9 1 3.7 1 32.9 1 30.5 1 .2 1 4.9 1 4.5 1 3 1 8.4 1 4.2 1 22.6 1 131.8 1 35.2 1 50.6 1 142.6 1 34.3 1 54.1 1 54.7 3 59 7 .1 2 3.9 1 16.1 1.6 9.3 1 3.9 1 .4 1 1.1 1 3.3 1 7 1 2 1 .3 3 2.3 1 12 1 3.9 1 .4 1 6.2 1 1.6 1.7 1.1 1 .8 1 2.8 1 13.4 1 .5 2 2.6 1 1.8 1 .1 1 2.9 1.6 19.3 1 1.1 1 2.2 1 1.7 1 3.2 1.8 .3 1 .6 1.9 .5 1 .7 1 3.2 1.9 2 1.9 4 1 2.9 1 .4 1 .7 1 1.3 3.8 .2 1 1.8 1 2.8 1.9 .5 1 1.1 1 7.8 1 36.3 1 8.7 1 2.2 1 .9 1 7.1 1 2.1 1 7.6 1 3 1 2.1 1 8.9 1 2.5 1 5.8 1 1.9 1 18 1 5 1 3 1 .8 1 21.2 1 8.2 1 13.7 1 3.8 1 1.5 1 2.5 1 4.3 1 1.1 1 18.9 1 .1 1 50.6 1 1.4 1 219.1 1 27 1 .8 1 4.2 1 19.9 1 239.7 1 35.4 1 1.4 1.5 6.3 1 16 1 2.1 1 18.9 1 33.1 1 4.1 1 2.8 1 2.3 1 29.9 1 4.1 1 11.3 1 3.1 1 33.6 1 7 1 1.5 1 14.1 1 11.3 1 4.9 1 3 1.9 1.1 2 5.1 1 7.1 1 16.8 1 3.1 1 2.1 1 .3 1 1.5 1 .2 1 2.1 1.7 4.3 1 5 1.7 .1 1 .4 1 1 1 1.8 1 3.1 1 1.8 1 1.1 1 6.9 1 1.1 2.6 1.4 1 1.9 1 .4 1 .7 1.8 1 1 .3 1 6 1 2.7 1 .1 1 6 1 9.1 1 11.8 1.9 1.2 1 .1 1 .9 1 .2 1 10.3 1 3.5 1 1.4 1 7.7 1 1.9 1 1 3 .1 1 23.9 1 .1 1 2.2 1 15.8 1 12 8.7 .6 1.3 56.3 2 .1 1 .6 1 98.1 1 9.3 1 172.6 1 18.8 1 2.6 1 47.2 1 39.2 1 23.7 1 121.8 1 3.8 1 2.4 1 29.3 1 38.2 1 14.4 1 4.5 1 3.8 1 24.9 1 24.9 1 3.9 1 3.3 1 8 1 4.2 1 1.2 1 10.6 1 .8 1 5.4 1 14.6 1 22.4 1 8.6 1 1.2 1.7 31.8 1 6.9 1 18.9 1 .8 1 2.2 1 10.9 1 5 1 16 1 5.2 1 .7 1 .4 1 .5 2 14.6 1 9.7 1 1 1 7.4 1 21.5 1 18 1 15.1 1 .7 1 .2 1 2.4 1 .1 1 .4 1 12.4 1 1.9 1.8 24.9 1 11.2 1 7.7 1 25.2 1 3 1 6.7 1 39.8 1 95.9 1 14.5 1 58.5 1 81.8 1 210.4 1 32.7 1 .1 2 2 1 7.5 1 22.2 1 21.3 1 .8 1 .2 7 .2 1 .1 1.8 9.3 1 2 1 15.6 1 1 2 5.7 1 16.2 1 .1 3 8.6 1 11.5 1 12.9 1 1.3 1 4.4 1 8.1 1 1.4 1 .9 1 3.9 1 .1 1 6.2 1 1.5 1 1.2 1 4.9 1 1.2 1 2.2 1 5.8 1 3.1 1 .6 1 3.5 1 9.8 1 8.1 2.8 .9 1 1 1 .3 1 1.9 1 .7 1 4 1 .3 1 1 1 1.9 1 2.4 1 1.2 1 4.7 1 1.2 1 4.9 1 7.2 1 3 1 3.6 1 .9 1 17.4 1 2.1 1 12.9 1 11.9 1 1.2 1 6.9 1 26.3 1 9 1.5 1.1 1 3.1 1 2.2 1 14 1 .1 1 11.7 1 32.7 1 23.4 1 30.3 1 3.7 1 12.9 1 1.1 1 19.8 1 9.6 1 113.7 1 48.1 1 7.4 1 59 1 228.7 1 22.7 1 16.2 1 14.1 1 44.9 1 18.7 1 17.1 1 1.3 1 1.4 1 .7 1 9.9 1 11.5 1 14.1 1 5.2 1 15.2 1 2.7 1 2.7 1 7.7 1 19.8 1 4.2 1.9 9 1 10.8 1 16.2 1 6.9 1 .1 1 5.8 1.9 1.3 1 1.7 1 3.8 1 1.2 1 6.1 1.9 10.4 1.8 .2 1.8 1.1 1 3.1 1.9 1.1 1 4.8 1 1.2 1 6.2 1 .1 1.5 .4 2 6.8 2 .2 1 1.5 1 6.6 1 3.7 1 .1 1.8 .3 1 2.8 1 4 1 1 1 .3 1 1.8 1.9 1 1 9.1 1 13.3 1 .6 1.9 .8 1 6.9 1 1.1 1 10.3 1 5.9 1 3.4 1 .7 2 .1 1.8 1.4 1 1.3 1 2.3 1 6.5 1 7.6 2 .8 1 4.2 1 14.7 1 9.4 7.9 4.9 1 5.7 1 37.9 1 4.8 1 .9 2.8 .1 1 64.2 1 45.1 1 130.2 1 7.2 1 119.7 1 9.1 1.5 17.4 1 80.2 1 10.2 1 54.2 1 53.4 1 19.5 1 1.5 1 .2 1 27.5 1 .5 1 2.4 1 9.7 1 12.1 1 9.5 1.8 .8 1 4.2 1 6.1 1 .2 1.8 18.4 1 3 1 7.7 1 5.8 1 4 1 3.3 1 3.8 1 1.9 1 14.1 1 14.2 1 5.8 1 7.2 1 99999"/>
<path d="M119 274.167h552v.3333h-552v.3333h552v.3333h-552v.3333h552v.3333h-552v.3333h552v.3333h-552v.3333h552v.3333h-552v.3333h552v.3333h-552v.3333h552v.3333h-552v.3333h552v.3333h-552v.3333h552v.3333h-552v.3333h552v.3333h-552v.3333h552v.3333h-552v.3333h552v.3333h-552v.3333h552v.3333h-552v.3333h552v.3333h-552v.3333h552v.3333h-552v.3333h552v.3333h-552v.3333h552v.3333h-552v.3333h552v.3333h-552v.3333h552v.3333h-552v.3333h552v.3333h-552v.3333h552v.3333h-552v.3333h552v.3333h-552v.3333h552v.3333h-552v.3333h552v.3333h-552v.3333h552v.3333h-552v.3333h552v.3333h-552v.3333h552v.3333h-552v.3333h552v.3333h-552v.3333h552v.3333h-552v.3333h552v.3333h-552v.3333h552v.3333h-552v.3333h552v.3333h-552v.3333h552v.3333h-552v.3333h552v.3333h-552v.3333h552v.3333h-552v.3333h552v.3333h-552" stroke-dasharray="1 .2 1 1 1 1.9 1 10.9 1 8.2 2.5 .3 1 2 1 4.2 1 8.6 1 2.2 1 2.7 1 10 1 6.1 1 15.1 1 2.1 1 12.8 1 5 1 10.4 1 4.6 1 5 1 9.1 1 .1 1 2.8 1 1.3 1 .6 1 12.1 1 3.2 1 23.4 1 1.7 1 21.7 1 2.2 1 1.8 1 18.1 1 20.4 1.5 74.2 1 2.7 1 20.1 1 48.8 1 19.6 1 12.9 1 40.2 1 7.7 1 16 1 3.7 1 14.4 1 15.4 1 .8 1 20.1 1 56.8 1 10.8 1 15.4 1 129.6 1 27.5 1 1.8 3 .1 1 8.6 1 34.2 1 14.1 6 8.9 1 4.3 1 11.5 1 6.3 1 22.4 1 .5 1 .1 2 29.2 1 4.9 2.8 .8 1 1.5 1 4 1 4.1 1 2.3 1 5.6 1.8 .1 1 3.2 1.8 8.2 1 2.9 1 .7 1 .2 1 .3 1.4 10.1 1 4.1 1.9 1.2 1 6 1 7.1 1 .1 1 .9 1 4.6 1 1.2 2.9 .9 1 2.3 2 3.7 1 6.4 1 .4 1 13 1 11.8 1 16.9 1 7.3 1 12 1 5 1 2.6 1 5.4 1 5.2 1 4.9 1 2 1 10.9 1 2.8 1 2.3 1 5.3 1 2.5 1 5.9 1 4.7 1 8.3 1 21.1 1 11.2 1 14.7 1 .6 1 .2 1 1.1 1 6.1 1 4.4 1 1.3 1 12.6 1 33.8 1 26.7 1 5.1 1 41.7 1 17.8 1 1.3 1 40.4 1 28.7 1 102.5 1 29.7 1 6.2 1 2.9 1 82.4 1 197.4 1 7.4 1 7.8 2 14.4 1 15.8 1 18.4 1 14.7 1 6.1 1 1.1 1 4.8 1.5 3.8 1 5.5 2 1.8 1 3.4 1 3 1 8.3 1 3 1 6.7 1 3.7 1 17 1 5.3 1 1.9 1 3.8 1 .3 1 4.1 1 3.8 1 1.8 1 11.4 1.8 3.7 1 17.3 1 4.3 1 1.3 1 5.6 1 1 1 7 1 5.1 1 11.1 1 .2 1 2.6 1 1 1 4.1 1 .1 1 4.1 1 6.9 1.8 7.8 1 3 1 2.6 2.4 1.3 1 2.4 1 .4 1 .1 1 1.3 1 3.8 1 11.1 2.9 1.1 1 2.9 1 .4 1 27.6 3 12.9 1 12.2 1 3.8 1 9.3 1 16.8 7 6.5 1 3.7 1 46.8 2.9 2.4 1 104 1 89.5 1 26 1 15.1 1 39.1 1 28.7 1 109.9 1 28.6 1 19.1 1 44.4 1 34.5 1 10.5 1 66 1 1.4 1 6.6 1 .7 1 17.1 1 7.9 1 .4 1 46.8 1 2.1 1 4.7 1 8.9 1 8.7 1 3.3 1 6.2 1.8 13.3 1 3.9 1.9 11.1 2 1.7 1 11.2 1.7 2.2 1 .1 1 .2 1 14.4 1 4 1 14.6 1 7 2 3 1 1.2 1 12.1 1 4.7 1 6.3 1 7 1 7.8 1 12.4 1 2.2 1 .1 1 .4 1.5 3.1 1 7.4 1 2.8 1 18.1 1 8.3 1 3.7 1.7 .4 1 .1 1 15.4 1 6.1 1 6.5 1 10.2 1 18.6 1 2.3 1 18 1 40.8 1 .6 1 .3 1 7.1 1 4.1 1 66.2 1 34.3 1 4.2 1 36.1 1 32.3 1 53.3 1 19.3 1 20.4 1 7.4 1 .5 1 3.8 1 16.9 1 72.4 1 83.6 1 45.6 1.7 7.5 1 10.6 2 1.9 1 3.1 1 50.9 1 1.1 6 5.7 1 1.3 1 20.7 1 2.4 1.9 24 3 5.8 1 5.5 1 2 1 3.8 1 3.9 1 6.2 1 .7 1 .2 1.9 6.2 1 4.6 1 .1 1.8 1.7 1 2.7 1 1.3 1 1.7 1.8 .4 1 .7 1 .9 1 .9 1 1.5 1 6.4 1 2.4 1 1.2 1 1.8 1 2.9 1 .8 1 2.9 1 .2 1 .2 1 .8 1 1.4 2.6 4.9 1 5 1 .5 2.8 2.8 1 1.2 1 1 1 2.8 2 1.4 1 .5 1 4.2 1 1.3 1.5 11.7 1 2.8 1 4 1 7.9 1 25.5 1 3.7 1 1.2 1 5 1 15.8 1 1.6 1 2.2 1 30.3 1 4.2 2 11.4 1 .3 1 22.2 1 41.8 1 14 1 4.3 1 1.4 2 5.9 1 22 1 11.5 1 37.7 2 106.1 1 85 1 11.8 1 65 1 151.8 1 15.8 1 30.1 1 28.1 1 33.7 1 10.4 1 2 1 7.6 1 2.4 1 1.1 1 3.7 1 15.3 1.6 4.2 1 12.9 1 9.9 1 7.2 1 1.5 1 17 1 2.4 1 19.6 1 .3 1 1.1 1 10.5 1 7 1 1.3 1 2.7 1 17.5 1 15.9 1 6.1 1 5.6 2 .1 1 4.1 1 2.9 1 24.3 1 7.2 1 2.8 1 4.3 1 1.8 2 .2 1 1 1 .1 1 .8 1.9 2 1 .9 1 2.2 1 2.1 1 4.2 1 .8 1 6 1 .1 1.9 3.8 1 4.9 1 .5 1.7 1 1 2.3 1 2.8 1 4.8 1 .3 1 1 1.8 1.4 1 .7 1 5.1 1 .9 1 .2 1 8 1 9.6 1 10.9 1 .2 1 9.9 1 8.1 3 .1 1.9 4.4 2.3 2.4 1 9.8 1 2.1 2 12.2 1 11.5 1 7.3 6 .1 2 .1 1 .6 1 54.1 1 .1 3 .3 1.6 3.1 1 6.3 1 6.4 1 .4 1 7.3 1 12.6 1 7.2 1 13.4 1 100.8 1 88.3 1 1.6 1 38.9 1 5.1 1 37.9 1 64.9 1 56.5 1 16.2 1 26.5 1 42.4 1 4.9 1 5.1 1 33.9 1 13.9 1.9 8.8 1 43.8 1 6.4 1 .6 2 26.1 1 11.6 1 5.3 1 6.6 1 1.6 1 7.1 1 2.2 2 21.8 2 6.3 1 8.7 1 4.9 1 3.4 1 10 1 2.8 1 6.7 1 1.6 1 46.8 1 5.4 1 2.1 1.4 11 1 3.3 1 10 1 4.4 1 16.5 1 1.9 1 8.4 1 3.8 1 14.9 1 1.9 1 8.1 1 5.3 1 15.2 1 .7 1 24.8 1 4.1 1 8.8 1 11.8 1 31.1 1 9.5 1 52.6 1 85.5 1 104.3 1 37.5 1 22 1 3.2 1 40.8 1 59.5 1 45.2 1 59.3 1 32.2 2 39.3 1 5.5 1 9.8 1 1.6 5.8 3.2 1 1.6 1 5.4 1 2.7 1 11.2 1 5 1 3.1 1 6.2 1 11.5 1 .4 1 .7 2 3.3 1 10.1 1 6.3 2 6.4 1 .9 1 2 2 1.1 1.5 4.3 1 7.8 1 9.3 1 6.1 1 1.9 1 .3 1 3.8 1.7 2.2 1 1 1 4 1 1 1 .9 1 5 1 .2 2 .7 1 2.2 1 1.8 1 .1 2 4 1 1.4 1 3.7 1.8 2 1 .3 1 .7 1 .2 1 .8 1 .1 1 2.1 1.9 6.1 1 6.3 1 9.3 1 1.6 2 4.2 1 12.2 1 .6 1 9 1 11.1 1 14.9 1 9.5 1 9.7 1 5.7 1 39.2 1 21.4 1 24.7 1 4.2 1 .7 1 18.8 1 2.9 1 .1 1 1.8 1 31.5 1 22.6 1 20.4 1 36.1 1 169.3 1 4.2 1 14.6 1 1.9 1 47.9 1 37.6 1 49.3 1 17.5 1 126.3 1.9 1.3 1 61.2 1 8.2 1 1.3 1 25.8 1 16.5 1 .8 1 15.7 1 13.8 2 6.5 1 .8 1.4 1.7 1 .7 1 14 1 6.7 1 9.4 1 9.8 1 3 1 25.9 1 4.1 1 2.9 1 3.3 1 3.7 1 8.1 1 8.9 1 8.8 1.5 1.3 1 .8 1 .3 1 .9 2.8 1.3 1 1.1 1.6 .1 2 2.2 1.6 1.1 1 .2 2 1.9 1.8 9.2 1 4.1 1 1.1 1 1 1 3.7 1 2.2 2 1.2 1 5.8 1 1.2 1 7.8 1 17.1 1 6.8 2 1.9 1 7.2 1 7.1 1 2 1 3.4 1 3.2 1 2 1 .1 1 .1 3 3 1 .2 1 8.5 1 .4 1 .8 1 5.4 2.8 6.1 1 25.8 7 4.6 1 20.2 1 12.9 1 17.3 3 .1 1 52.8 1 35.9 1 17.3 1 4.6 1 70.4 1 93 1 19.3 1 52.8 1 9.4 1 59.3 1 48.6 1 11 1 61.2 1 46.8 1 24.7 1 2.8 1 21.6 1 4.8 1 1.5 1 9.5 1 7.9 1 7.6 1 4.7 1 3.1 1 18.4 1 5.8 1 7.4 1 9.7 1 3.3 1 4.3 1.5 1.2 1 2.2 1 2 1 5.6 1 1.6 1.8 2.9 1 .8 1 1.9 1 6.2 1 4.1 1 2.1 1 18.8 1 7.3 1 .5 1 3.3 1 2.1 1 7.2 1 .9 1 7.1 1 2.9 1 .4 1 10.9 1 1.8 1.8 2.1 1 10.2 1 4.8 1 2.9 1 9 1 3 1 4.2 1 15.8 1 1.3 1 13.2 1 3.3 1 5.5 1 19.8 1 7.1 1 8.3 1 2.6 1 51.8 1 12 1 29.7 1 10.9 1 .6 1 2.9 1 2.1 1 61.1 1 22.8 1 2.2 1 .6 1 46.5 1 3.9 1 25 1 3.3 1 23.3 1 27.1 1 28 1 38.7 1 45.3 1 198.6 2.8 17.8 1 3.5 1 17.7 1 .7 1 .1 1 2.1 1 9.6 1.7 1 5 12 1 20.1 1.9 20.4 1 .6 1 2 3 1.2 1 1.1 1 2.3 1 18.5 1 7.9 1 .2 1 8.9 1 6.7 1 1 1 5.2 1 7.7 1 1.4 1.7 6.2 2 3.3 1 4.6 1 16.9 1 .3 1 1.8 2 1.2 1 .8 1 3.9 1 1 1 2 1 2.3 1 5.8 1 1.1 1 2.9 1 3.5 1 7.1 1 1.9 1 3.2 1 8 1 9.6 1 2.9 1 2.4 1 15.6 1 17 1 .3 2 2.8 1 25.4 1 4.9 1 .8 1 5.3 1 7.6 1 16 1 2.6 1.5 .7 1 4 1 20.2 1 1.5 1 4 1 35 1 19.4 1 30.3 1 2.7 1 36.5 1 23.4 1 8 1 26.3 1 146.8 1 1.8 1 23.9 1 26.8 1 31.4 1 29.6 1 139 1 34.2 1 57.5 2 24.3 1 3.1 1.7 7 1 10.4 1 5.1 1 .6 1 .9 1 30.7 1 13.2 1 4.3 1 1.9 1 2.5 1 5.3 1 9.2 1 7.5 1 4 1 2.6 1 .2 1 10.1 1 13.7 1 18.9 1 20.2 1 1.7 1 1.3 1 2.2 1 3.8 1 3.5 1 2.8 1 1.9 1 .4 2.6 3.2 1 .2 1 .7 1 .1 1.9 2.3 1 1.7 1 1.9 1 .1 1 2.3 1 .8 1 .8 1 1 1 4.9 1 .5 1 .9 1 .7 1 1.3 1.6 2 1 9.6 1 1.6 1 1 3 6.9 1 16.1 1 6.2 1 8.6 1 7.9 1 1.2 1 .9 1 6.2 2 6.6 1 14.3 1 2.1 1.9 8.7 1 .7 1 1.9 1 13.9 2.7 3.2 5.9 2.3 1 4.2 1 8.9 1 40.7 2 .1 2.5 11 1 35.6 1 18.6 1 145.8 1 17.5 1 176.1 1 129.9 1 2.3 1 17.7 1 44.5 1 7.8 1 3 1 2.7 1 8.4 1 23.9 1 3.1 1 .8 1 8.1 1 .1 1 2.7 1 2.1 1 26.4 1 17.4 1 21.2 1 .2 1 17 1 13.6 1 10.3 1 2 1 14.2 1.8 1.7 1 1.2 1 7.3 1 17.2 1 4.1 1 4.1 1 .9 1 2.7 1 2.4 1 10.8 1 8 1 8.2 1 5.1 1 5.3 1 2.3 1 30 1 16 1 .6 1 5.7 1 17.1 1 .7 1 28.8 1 24.3 1 .6 1 3.4 1 1.1 1 7.8 1 35 1 .7 1 2.1 1 26.2 1 26.1 1 58.8 1 132.3 1 2.7 1 23.7 1 5.3 1 7.6 1 26.6 1 58.8 1 94 1 30.8 1 45.6 3.9 60 6 12.2 1 9.2 1 1.9 1 .5 1 5.3 1.9 .3 1 9.9 1 6.9 1 4.9 2 .2 1 6.6 1 14.5 1.6 4.5 1 2.2 1 2.4 1 5.8 1 6.1 1 1.2 1 6.6 1 2.2 1 7.8 1 1 1 6.1 1 1.3 2 15.1 1 2.1 1 12.6 1.9 .5 1 8.5 1 5.2 1 .9 1 2.2 1 .2 1.9 2.7 1 1.8 1 .8 1 2.7 1 4.4 1 1.5 1 5.3 1 10.9 2 4.9 1 4.1 1 1 1 10.9 1 6.1 1 13.8 1 8.4 1 3.8 1 5.3 1 1.8 1 3.2 1 9.4 1 7.6 1 8 1 2.8 1 3.1 1 33.8 1 12.1 1 4.6 1 9.3 1 45.2 1 59.1 1 110.2 1 53.4 1 37.3 1 3.7 1 85.3 1 14.3 1 10 1 85.9 1 56.7 1 43.4 1 54.3 1 18.5 1 5.8 1 47.3 1 3.1 1 8 1 4.3 1 20.4 1 .5 1 40 1 4.9 1.9 4.9 1 10.2 1 3.1 1 12.7 2 4.8 1 18.8 2.5 1.1 1 1.1 2 .1 1.7 .5 1 .9 1 2.5 1 5.6 1.6 3.3 1 3.9 1.9 .7 1 1.1 1 2 1 4.2 1 .1 1.9 3.1 1 5.2 1 1 1 2.8 1 .9 1 3.2 1 .6 1 9.4 1 .9 1 5.2 1 19.7 1 .1 1 2.6 1 12.1 1 1 1 12.2 1 3 2 1.3 1 .6 1 3.9 1 13.5 1 1.7 1.9 16.7 1 12.4 2 .2 7.7 .2 1.8 1.7 1 54.4 2 .1 1 13.2 1 23.4 1 18.6 1 242.4 1 36.7 1 21.9 1 81.2 1 62.7 1 36.6 1 1.7 1 3.4 1 21.7 1 51.2 1 8.9 1 1.9 1 2.2 1 4 1 .6 1 7.3 1 4.8 1 1.1 1 2.4 1 2 1 18 1 1.3 1 9.4 2.7 4.7 1 1.4 1 8.8 1 4.4 1 4.6 1 2 1 6.8 1 23.9 1 10.2 1 12.1 1 3.8 1 5 1 8 1 13.7 1 31.9 1 4.1 1 9 1 14.2 1 13 1 6.3 1 2.2 1 1.1 1 1.3 1 6.6 1 .2 1 10.3 1 3.1 1 2.8 1 11.9 1 6.3 1 7.5 1 1.5 1.7 40.9 1 3.1 1 5.7 1 15.3 1 48.6 1 44.3 1 12.6 1 19.2 1 164 1 47.8 1.4 165.2 1 39.2 1 1 1 51.9 2 21.9 1 20 1 11.5 1 2.5 1 .1 5 .1 1 22.6 1 10.4 1 18 1 4.9 3 3.1 1 2 1 8.6 1 12.4 1 2.7 2 .2 2 8.2 1 4.1 1 4.1 1 5.7 2 6 1 5 1 6 1 2.2 1.9 .6 1 8.3 1 3 1 2 1 1.2 1 3.6 1 .2 1 1.9 1.8 .5 1 2.5 1 .2 1 1.3 1 .8 1 3.8 1 6.1 1 4.9 1 5.5 1 7.8 1 8.2 1 2.9 1 9.1 1.7 13.2 1 3.4 1 4.5 1 2 1 2.4 1 1 1 1.7 2 6.3 1 22.5 1 2.1 1 18.5 1 3.8 1 18.2 1 .8 1 20.2 1 7.2 1 6.7 1 3.9 1 1.9 1 3 1 .1 1 1.7 1 10.8 1 78.4 1 17.8 1 3 1 102.4 1 10 1 92.4 1 46 1 169.5 1 2.6 1 28.7 1 11 1 .6 1 21.3 1 12.1 1 1.7 1 53.2 1 2 1 14 1.6 1.8 1 3.3 1 14.3 1 8.3 1 11.7 1 3.3 1 17.7 1 5.9 1 1.5 1 2 1 .6 1 3.2 1.4 3.4 1 7.9 1 12.3 1 16.6 1 3.4 1 6.5 1 17.5 1 28.8 2 .7 1 8.9 1.5 2.4 1 8 1 1.8 1 2.7 1 2 1 2.6 1.5 2 1 .3 1.9 10.9 1 1 1 .4 1 6.9 1 1.2 1 1.7 1 2 1 1.8 1 9.4 1 5.6 1 .1 1 15.1 1 2.6 1 5.3 1 2.4 1 10 1 10.9 1 8.6 1 .1 2.9 1.5 1 1.4 1 .5 1 2.1 1 2.1 1 10.5 1 1 1 23.7 1 5.7 1.5 1.2 5.9 .1 1 2.3 1 42.8 1 11.8 2 18.7 1 4.9 1 18.8 1 60.7 1 107.3 1 51.6 1 25.5 1 97.5 1 83.9 1 6.1 1 9.7 1 11.1 1 24.9 1 25.3 1 1.4 1 32.1 1 22.8 1 10.5 1 2.6 1.7 5.3 1.9 28.4 1 12.9 1.8 5 1 13.4 1 2.6 1 2.4 1 11.4 1 5.8 1 1.8 1 15.3 1 4.1 1 5.1 1 10.4 1.8 2.9 1 7.1 1.8 1.3 1 1 1 5.9 1 3.1 1 10.5 1 4.3 1 15.4 1 .8 1 18.8 1 12.6 1 30.4 1 4.3 1 11.3 1 1.1 1 24.9 1 12.8 1 1.1 1 7 1 .6 1 2.9 1 20.2 1 12.9 1 13.4 1 3.4 1 20.1 1 13.4 1 1.3 1 31.4 1 3.8 1 20.6 1 87 1 22.8 1 82.3 1 23.3 1 9.5 1 32.2 1 79.8 1 62.5 1 28.6 1 84 1 3.2 2.9 8.7 1 47.7 1 1.6 5 3.3 1 10.8 2 18 1 20.3 1.4 .3 1 1.9 2 15.8 1 2.7 1 8.2 1 4.5 1 .8 1 24.2 1.8 .1 1 19 1 .6 1 7.1 1 .1 1 2.1 1 .4 1 5.6 1 2.9 1 4.9 1 2.4 1.6 1.1 1 6.2 1.7 1.5 1 .1 1.5 1 1 3.1 1 1.3 1 2.6 1.8 6.8 1 4.6 1 8.9 1 34.7 1 9.8 1 .7 1 1.6 1 15.9 1 .1 1 3.2 1 15.4 1 6.2 1 39.7 1 12.1 1 8.9 1 1.3 1 17.7 1 1.1 1 1.8 1 19 1 .3 1 18.8 1 8.2 1 24.6 1 28 1 140.4 1 8.1 1 16.9 1 31.2 1 6.5 1 64.8 1 126.1 1 20.8 1 19.4 1 7 1 51.8 1 16.8 1 41.5 1 17.2 1 11.9 1 3.4 1 17.4 1 14.2 1 1.9 1 9.9 1 31.5 1 1 1 .1 1 9 1 8.4 1 20.6 1 6.7 1 18.2 1 5 1 .8 1 15.2 1 3.1 1.7 1.3 1 6.8 1 1.6 1 3.1 1 4.4 1 6.9 1 7.2 1 1.2 1 4.2 1 3.7 1 5.1 1.9 10.9 1 2.4 1 1 2.5 13.1 1 4.3 1.8 2.1 1 6.7 1 8.3 1 4.9 1 18 1 7.9 1 8.1 2 .1 1 7.9 1 14.1 1.9 25.1 1 8.9 5 1 1 10.3 1 46.7 2 1.6 1 22.1 1 6.5 1 10.2 1 2 1 144.8 1 26.9 1 64.4 1 19.1 1 28.7 1 135.2 1 123.1 1 23.4 1 .2 1 1.4 1 14.9 1 1.3 1 .4 1 17 1 24.2 1 5.1 1 11.7 1 8.5 1 3.8 1 6.7 1 1.9 1 5.3 1 6.6 1 .1 1 8 1 .3 1 4.8 1 9 1 1.4 1 3.8 1 3.8 1 19.4 1 2.9 1 14.6 1 14.5 1.8 1.2 1 8.2 1 4 1 14.9 1 17.3 1.7 1.1 1 1.7 1 4.1 1 .3 1 .6 1 5.5 1 12.6 1 6.7 1 .3 1 13.9 1 4.3 1 3.9 1 12.3 1 9 1 23.7 1 2.3 1 15.4 1 4.6 1 10.8 1 16.8 1 15.7 1 3.3 1 133 1 144.5 1 51.6 1 213.4 1 24.2 3.7 .2 1 1.1 1 39.4 1 16.3 5 .1 1 .6 1 2.6 1 16.6 1.7 1.2 1 7.4 1.8 17.8 1 5.1 1 .1 2 8.4 1 17.4 1 .2 1 4.2 1.5 .4 1.9 .1 1 4.8 1 2.3 1 14.8 1.9 11.4 1 12.9 1 1.2 1 .5 1 9.1 1 1.8 1 3 1 2.5 1 7.8 1 14.2 1 1.1 1 4 1 4.8 1 31.3 1 3.1 1 4.5 1 5.5 1 1.6 1 3.5 1 4.9 1 1.6 1 2.5 1 5.9 1 .2 1.7 8.6 1 6.9 1 3.4 1 4.6 1 20.6 1 1.7 1.8 25.7 1 3.3 1 6.1 1 2.4 1 5.7 1 14.2 1 6 1 2 1 10.6 1 4.6 1 3.7 1 36.6 1 123 1 68 1 62.3 1 46.3 1 10 1 21 1 65.2 1 110.2 1 12 1 1.5 1 110.1 1 25.1 1 1.6 1 9.3 1 5.9 1.8 1.3 1 8.5 1 3 1 .7 1 10 1 8 1 9.8 1 .5 1 9.4 1 7.8 1 10.8 1 .9 1.5 .9 1 1.5 1.9 6.8 1.8 14 2 9 1 .9 1 5.4 1 2 1 12.1 1 4.2 1 1.3 1.8 19.6 1 4.6 1 1 1.8 .2 1 5.8 1 11.9 1 20.3 1 7.9 1.9 .3 1 6.5 1 3.8 1 11.3 1 .1 1 15.4 1 2.2 1 13 1 .1 1 .2 2 3.7 1 4.7 1 14.7 1.8 7.9 1 14.1 1 2.6 1 1.1 1 2.4 7 .1 1 3.8 1 7.2 1 45.9 2 .1 1 1.7 1 9.8 1 95.1 1 135.2 1 4.8 1 19.9 1 26.5 1 78.9 1 45.6 1 32.2 1 .9 1 44.1 1 4 1 32.3 1 21.1 1 15.8 1 11 1 49 1 29.7 1 13.9 1 4 1 .1 1 1.2 1 4.3 1 1.8 1 5.1 1 2.5 1.8 2.2 1 4.9 1 4.3 1 12.2 1 28.5 1 3.1 1 30.6 1 1.1 1.7 3.7 1 28.4 1 12.3 1 2.6 1.4 2.4 2 5.8 1 .1 1 5.2 1.6 .5 1 2.7 1 9.8 1 9.3 1 8.9 1 8.6 1 7.5 1 .7 1 21.6 1 .6 1 7.3 1.5 31 1 1.1 1 17.9 1 2.4 1 5.9 1 26.8 1 9.7 1 .8 1 1.3 1 62.7 1 122.7 1 21 1 16.8 1 36.9 1 2.6 1 123 1 1.7 1 150.5 1 26.6 1 .1 2.9 3.1 1 44.4 1 5.5 1 3.2 4.9 12.8 1 5.5 1 5 1 7.8 1.9 .7 1 .8 1 4.9 1 2.3 1 8.8 1 .3 1 .2 3 1.7 1 5 1 6.7 1 4.4 1 8.1 1 5.1 1 1 1 3.1 1 1.3 1 9.3 1 2.5 1 2.9 1 3.5 1 8.5 1 1 2.5 .6 2.7 16.3 1 .8 1 11.2 1.9 4.7 1 8.4 1.8 1.7 1 8.5 1 3.4 1.8 3.8 1 2.5 1.6 1.9 1 3.4 1 3.5 1 .3 1 2.1 1 15.7 1 3.1 1 11.8 1 .5 1 12.6 1 4.8 1 12 1 4.5 1 6.5 1 32 1 12.1 1 2.9 1 8.3 1 25 1 4.8 1 4.2 1 3.4 1.6 6.1 1 14.1 1 2.5 1 12.7 1 12.9 1 29.8 1 7 1 93.2 1 45.2 1 30.2 1 48.5 1 59.5 1 95.3 1 69.5 1 70.1 1 13.6 1 12.3 1 33.2 1 1.1 1 4.6 1 8.6 1 1.6 1 20 1 .5 1 .1 1 4.2 1 5 1 15.7 1 18.2 1 4.5 1 1.4 1 7.4 1 5 1.5 14.7 1 2.7 1.5 13.5 1 .9 1 4.6 1 5.7 1 5 1 20.5 1 10.3 1.5 3.3 1 1.7 1 4.5 1 6.9 1 2.1 1 4.1 1 4.3 1 5.1 1 22.5 1 .6 1 7.6 1 2.3 1 5.4 1 1.5 1 2.1 2 .1 1 7 1 1.9 1 2.7 1 25 1 .1 1 18 1 9.1 1 1.6 1 1.5 4.6 .7 1 18 1 3.5 1.8 4.2 1 3.4 1 6.9 1 .9 1 .9 2 10.9 4.9 5 1 8.1 1 45.1 2.8 2.6 1 14.1 1 17.7 1 107.4 1 38.8 1 115.3 1 66.8 1 75.7 1 101.3 1 16.6 1 6 1 66.4 1 14.9 1 11.8 2 12.3 1 1 1 15.8 1 11.6 1 4.8 1 4.7 1 4.8 2 1 1 3.7 1 .2 1 2 1 7.4 1 4.1 1 5.6 1 4.1 1 6.3 1 3.8 1 .2 1 3.9 1 3.7 1 4.6 1 4.7 1.6 .2 1 10.2 1 .3 1 30.8 1 3.7 1 4.1 1 9.4 1 12.6 1 10.4 1 3.5 1 18.2 1 3.2 1 .9 1 7 1 22 1 8.5 1 12.7 1.7 .9 1 9.8 1 15.4 1 27.2 1 72.9 1 31.9 1 58.9 1 4.1 1 2 1 139.2 1 29.1 1 15.9 1 14 1 .8 1 32.4 1 84.7 1 117.2 1 .8 1 .1 2 3.2 1 29.6 1 4.1 1 14.2 1 2.9 7 .1 1 1.2 1 1.6 1 8.8 1 7.2 1 7.4 1 1.8 1 1.1 1 1.4 1 .9 1 1.8 1 8.9 1 6.8 2 .6 1 1.5 1 30.9 2.9 7.1 1 9 1 1.1 1 2.7 1 .2 1 2.1 1 1.3 1 13.5 1 .1 1 2.4 1 6.7 1 4.1 1.9 5.6 1 5.3 2 .9 1.7 11 1 2.1 1 5.1 1 5.1 1 11.9 1.6 6.9 1 21.4 1 3.6 1 27.8 1 2.3 1 7.6 1 15.4 1 2.6 1 22.7 1 4.9 1.6 3.4 1.9 22.9 1 2.1 1 7.3 1 13.6 1 30.2 1 13.7 1 19.7 1 14.2 1 6.4 1 5.5 1 129.7 1 28.7 1 43.1 1 7 1 19.7 1 3.1 1 62 1 124.4 1 36 1 26.8 1 25.9 1 6 1 85.1 1 2.4 1 18.8 1 6.1 1 23.4 1 7.1 1 .4 1 4.5 1 2.6 1 2.4 1 7.2 1 1.2 1 .3 1 1.4 1 13.2 1 15.5 1 5.9 1 1.3 1 .8 1 6.2 1 .2 1 4 1 19.2 1 .6 1 6.8 1 1.5 1 21.9 1 4.1 1 6.5 2.6 13.8 1 3.7 1 1.1 1 1.9 1 5.6 1 2.8 1 6.3 1 1.3 1 9.9 1 19.1 1.8 7.7 1 .2 1 2.9 1 11.2 1.9 .4 1.3 9.8 1 5.7 1 7.2 1 5.1 4.6 1.3 1 11.6 1 10.1 1.9 2.2 1 9.8 1 18 1 .2 4.9 2.7 1 54.7 1 1.6 4.9 22.8 1 17.8 1 95.6 1 16 1 73.5 1 60.3 1 40.2 1 67.8 1 31.4 1 143 1 11.9 1 18.1 1 17.6 1 1.4 1 6.2 1 2.7 1 19.2 1.7 26.7 1 10.2 1 17.7 1 6.4 1 4.7 1 .1 1 9.7 1 5.3 1 1.5 1 4.8 1 1 1 5.2 1 6.3 1 1.6 1 3.3 1.4 6.2 1 7.4 1 5.4 1 .8 1 5.6 1 5.9 1 .8 1 .3 1 5.9 1 5.3 1 3.2 1 5.7 1 .9 1 1.9 1 .4 1 .6 1 3.5 1 22.9 1 30.6 1 5.3 1 2.1 1 17.2 1 3.1 1 8.8 1 .2 1 21 1 11.7 1 8.3 1 7.7 1 40.1 1 12.1 1 26 1 6.7 1 93.4 1 134.1 1 15.5 1 27 1 77.5 1 199.9 2 11.7 1 8.3 1 22.7 1 14.3 5 .1 1.7 6.9 1 7.4 1 15.9 1 1.4 1 21.8 1 .8 2 .1 1 12 1 3.4 1 16.6 1.9 .2 1 3.2 1 5.8 1 2 1 .7 1 8 1 17.5 1 1.7 1 9.8 1 5.1 1 3.9 1 1.4 1 1.1 1 10 1 3.6 1 3.6 1 14.7 1 6.8 1 5.2 1 .3 1 2.4 1 1.5 1.9 3.7 1 5.4 1 2.6 1 7.1 1 5.9 1 2.7 1.6 1.2 1 13.7 1 .1 1 9.1 1 17.5 1 22 1 19.5 1 8.1 1 2.8 1 5.7 1 13.1 1 6.9 1 12.6 1 4 1 .3 1 8.5 1.6 56.4 1 49.4 1 196.7 1 3.2 1 51.6 1 3.3 1 3.1 1 17.1 1 80.8 1 14 1 42.1 1 4 1 3.5 1 64.2 1 12.4 1 21.9 1 23.3 1 3.9 1.4 1.7 1 7.3 1 6.3 1 9.3 1.5 20.9 1 10.4 1 2.1 1 1.8 1 6.7 1 5.4 1 3.3 1 .6 1 .2 1 3.6 1 11.4 1 5.1 1 1.4 1 6 1 2.4 1 4.7 1 17.6 1 16.4 1 2.9 1 14.5 1 26.9 1 4.3 1 1 1 7.8 1 13.4 1 10.6 1 4.3 1 18.7 1 .1 1.7 6 1 8.7 1 1.8 1.7 6.6 1 16.5 3 9 1 11.6 1 4.5 1 1 1 4.9 2.9 18.8 1 36.7 1 1.7 4.9 .1 1 25 1 18 1 15.9 1 .2 1 126.7 1 19.4 1 35.9 1 21.6 1 30.2 1 41.3 1 19.7 1 202.4 1 51.1 1 14.5 1 37.4 1 6.3 1 20.3 1 6.2 1 .7 1 17.8 1 12.3 1 47.4 1 20.3 1 .3 1 5 1 9.3 1 9.1 1 3.6 1 12.3 1 .2 1 .3 1 5.6 1 4 1 1.7 1 20 1 1.8 1 4.9 1 4.5 1 11.6 1 2.6 1 .6 1 2.9 1 15.6 1 .9 1 2.5 1 5.9 1 5.2 1 9.5 1 12 1 .3 1.6 4.5 1 31.6 1 3.1 1 4.1 1 10.6 1 14.5 1 28 1 7.9 1 7.3 1 1.4 1 3.4 1 188.8 1 95.2 1 11.6 1 18.9 1 124.5 1 148.7 1 2.4 2 57.2 1 2.8 3 5.2 1 4.6 1 3.5 1 18.8 2 15.5 1 4.7 1 2.7 3 12.9 1 20 1 .1 1 22.4 1 2.8 1 2.6 1 .6 1 12 1 .6 1 .4 1 5.3 1 1.2 1 2.2 1 3.2 1 14 1 6 1 9.5 1 1.2 1 11.5 1 1.7 1 22 1 1 1 7.6 1 7.7 1 5.5 1 16.8 1 20.9 1 11.6 1 .9 1 .6 1 22.6 1 7.2 1 8.7 1 16.8 1 3.5 1 7.5 1 11 1 1.1 1 9 1 2.4 1 .7 1 4.1 1 3 1 8.7 1 85.7 1 208.3 1 2.4 1 63.1 1 88.7 1 29.3 1 44.3 1 34.7 1 27.4 1 43.7 1 30.1 1 10 1 59.2 1 10.7 1 14.8 2 5.3 1 5.7 1 .1 1 10 1 .7 1 14 1 5.5 1 13.6 1 3.7 1 3.7 1.6 4.6 1 2.5 1 6.1 1 6.1 1 5.2 1 5.1 1 11.3 1 2.4 1 4.7 1 9.1 1.6 2.6 1 .4 1 .3 1 1.5 1 5.3 1 1.2 2 4.7 1 5.2 2.7 6.2 1 .6 1 9.2 1 .1 1 3.9 1 9.3 1 4.8 1 2.9 2 23.5 1 1.5 1 6.1 1 1.9 2 .1 1 23.9 1 13.8 1 3.8 1 .6 1 13.8 4.9 1.1 1 5.6 1 1.2 1 49.2 2 205.6 1 113.5 1 21.4 1 80.1 1 .6 1 19.2 1 72.6 1 24.3 1 46 1 7.7 1 17.4 1 3.6 1 16 1 .1 1 7.6 1 12 1 5.5 1 1.8 1 2.7 1 38.1 1 6.7 1 1.3 1 28.2 1 1.1 1 8.3 1 8.9 1 8.2 1 10.4 1 6.7 1.6 8.2 1 3.1 1 .1 1.7 3.4 1 99999"/>
<path d="M119 298.167h552v.3333h-552v.3333h552v.3333h-552v.3333h552v.3333h-552v.3333h552v.3333h-552v.3333h552v.3333h-552v.3333h552v.3333h-552v.3333h552v.3333h-552v.3333h552v.3333h-552v.3333h552v.3333h-552v.3333h552v.3333h-552v.3333h552v.3333h-552v.3333h552v.3333h-552v.3333h552v.3333h-552v.3333h552v.3333h-552v.3333h552v.3333h-552v.3333h552v.3333h-552v.3333h552v.3333h-552v.3333h552v.3333h-552v.3333h552v.3333h-552v.3333h552v.3333h-552v.3333h552v.3333h-552v.3333h552v.3333h-552v.3333h552v.3333h-552v.3333h552v.3333h-552v.3333h552v.3333h-552v.3333h552v.3333h-552v.3333h552v.3333h-552v.3333h552v.3333h-552v.3333h552v.3333h-552v.3333h552v.3333h-552v.3333h552v.3333h-552v.3333h552v.3333h-552v.3333h552v.3333h-552v.3333h552v.3333h-552v.3333h552v.3333h-552v.3333h552v.3333h-552" stroke-dasharray="0 23.2 1 8.7 1 .5 1 4 1 1.7 1 11.6 1 1.5 1 9.4 1 2.4 1 7 1 10.1 1 10 1 1.3 1 18.6 1 8.3 1.6 4.8 1 .3 1.9 9.4 1 .3 1 14.4 1 1.8 1 21.2 1 13.2 1 31.2 1 36.5 1.8 70.4 1 25.8 1 79 1 74.9 1 9.8 1 49 1 153.2 1 35.5 1 39.1 1 2.9 1 .1 1 2.9 1 3.4 1 41.8 1 7.6 1 .3 4.9 .1 1 3 1 9.2 1 17 1 1.8 1 5.6 1 6 1 10.2 1 .1 3 .4 1.8 5.8 1 .3 1 7.7 1 14.9 1 .1 1 12.2 1 4.5 1 6.2 1 10.5 1 4.3 1 1.4 1 31.9 1 .9 1 11.9 1 5.6 1 6.9 1 5.1 1 12.7 1 4.1 1 9.1 1 4.1 1 9.2 1 6 1 .2 1 6.8 1 .9 1 8.8 1.8 1.4 1.4 9.6 1 10.3 1 18.6 1 9.2 1 51.4 1 14.6 1 8.1 1 8.4 1 .3 1 4.1 1 5.1 1 8.3 1 12.7 1 21.7 1 3.9 1 79.4 1 58 1 4.4 1 151.8 1 5.2 1 .7 1 224.6 1 10 1 49.3 1.7 14.5 1 19.5 1 12.6 1 21.7 1 23.8 1 6.4 1 1.3 1 19.7 1 .2 1 9.6 1 13.5 2.3 2.2 1 6.5 1 46.6 1 4.3 1 2.7 1 .9 1 17.6 1 10.9 1 5.6 1 7.6 1 1.5 1 4.1 1 3.1 1 3.2 1 6.4 1 1.4 1 3.9 1 12.9 1 1.2 1.9 13.6 1 9.5 1 .1 1 19.4 1 13.4 1 .1 2 4.7 1 19.3 1 4.7 1 3.1 1 22.3 1 .7 1 .2 4.9 2 1 4 1 7.1 1 37.7 1 4 1 .4 2 .1 1 17.8 1 9.8 1 110.6 1 4 1 11.2 1 151.9 1 179.6 1 4 1 25 1 6.9 1 3.5 1 81.7 1 1.5 1 21.6 1 9.3 1 20.5 1 .1 1 12.3 1 15.6 1 1.7 1 7.4 1 6.3 1 13 1.5 17.4 1 5.8 1 5 1 5.1 1 18.5 1.4 8.2 1 16.2 1 8.9 1 6.1 1 3.5 1 2.5 1 .7 1 16.2 1 5.5 1 3.5 1 9.5 1 11 1 .5 1 4.6 1 11 1 2.3 1 8.4 1 3.9 1 34 1 32.7 1 2.3 1.6 .6 1 5.2 1.7 23 1.7 25.9 1 18.7 1 8.3 1 28.3 1 9 1 206.1 1 9 1 36.1 1 85 1 32.4 1 92.2 1 13.5 1 25.1 1 7.3 1 .7 2 9.1 1 2.1 1 37.1 1 .5 1 .1 1 7 4 .9 1 30.9 2 .2 1 14.3 1 8.6 1 .1 2 .2 1 12.5 1 3.6 1 6.1 1 9.6 1 3.4 1 3.6 1 14.1 1 1.8 1 6.2 1 5 1 10.6 1 6.7 1 1 1 1.5 1 4.8 1 1 1 4.6 1.7 6.7 1 9 1 3.7 1.3 .3 1 1.3 1 24.4 1 10 1 35.3 1 1.3 1 6 1 9 1 32.9 1.8 16.3 1 3.6 1 8.4 1 15.5 1 4.5 1 35.2 1 68.5 1 241.1 1 1.3 1 29.4 1 222 1 6.3 1 9.6 1 33.8 1 43.2 1 10.1 1 9 1 12.6 1 9.2 1 15.2 1 11.8 1 2 1 2.5 1 35.3 1 4.7 1 9.3 1 .1 1 8.9 1 10.5 1 8.1 1.3 17.3 1 1 1 6.9 1 2 1 11.2 1 17 1 2.6 1 2.9 1 2.9 1 2.1 1 .7 1 4.5 1 5.5 1 .7 1 1.1 1 7.2 1 3.3 1 .4 1 1.5 1 12 1 4.1 1 18.9 1 .7 1 7.6 1.6 7.7 1 5.7 1 1.6 1.9 2.9 1 10.6 1 1.3 1 12.7 1 .8 1 1.8 3 23.1 1.9 .1 1 8.1 1 20.1 1 3.8 4.8 1.8 1 2.3 1 11.9 1 41.1 2 105.4 1 122.6 1 2 1 59.7 1 6.6 1 4.1 1 .1 1 138.9 1 44.3 1 20.6 1 53 1 19.4 1 19.4 1 9.5 1 .5 1 4.3 1 1 1 59.4 1 6.8 1 14 1 16.8 1 12.9 1 5.9 1 3.6 1.9 3 1 13.6 1 19.1 1 .2 1 .6 1 5.2 1 8 1.8 .6 1 4.2 1 30.5 1 5.3 1 4 1 .2 1 1.1 1 7.5 1 20.1 1 6.1 1 10.1 1 .8 1 3.3 1 14.7 1.7 4.4 1 15.3 1.9 27.1 1 43.6 1 4.9 1 6.1 1 3 1 1.2 1 2.5 1 9.9 1 43.4 1 231.4 1 11.3 1 58.5 1 88.9 1 29.9 1 39.5 1 21.9 1 22.3 1 33.6 1 27.3 1 23.6 1 9.1 4 2.8 2 .3 1 3.4 1 .6 1 23 1.8 4.7 1 5.2 1 5.6 1 1.4 1 .5 1 1.7 2 .2 1 1.2 1 .8 1 13.6 1 10.9 1 3.2 1 .1 1.9 4.3 1 5.5 1 12.4 2 39 1 3.2 1 12.2 1.9 16 1 8.9 1 10 2.6 4.9 1 1.4 1 13.3 1 4 1 6.2 1 15.7 1 11.3 2 14.8 1 23.9 1 5.7 1 6.2 1 5.3 1 8.8 1 17.6 1 12 1 14.6 1 2 1 7 1 5.9 1 9.2 1 17.1 1 29.7 1 .8 1 1.8 1 84.7 1 53.3 1 25.3 1 81.7 1 165.7 1 48 1 86.7 1 49.5 1 33.6 1 15.2 1 5.3 1 10.2 1 8.2 1 21.9 1 29.5 1 1.9 1 8.9 1 21.3 1 14.3 1 16.8 1 2.4 1 14.9 1 4.9 1 13.1 1 1.8 1 10.4 1 5.2 1 6.8 1 3.2 2 14.3 1 7.9 1 11 1 21.1 1 1.3 1 10.7 1 8 1 .8 1 2.6 1 10.8 3.5 11 1 24.4 1 13.8 1 8.1 3.9 .2 1 33.6 1 25.3 1.9 8.7 1 118.2 1 117 1 19 1 39.6 1 1.4 1 76.9 1 24.7 1 104 1 17.3 1 50.7 1 28.8 1 10.4 1 13.8 1 3.3 1 3.6 1.8 14.5 1 5.5 1 5.9 1 5.5 1 4.4 1 20.3 1 16 1 5.4 1 3.7 1.6 7.2 1 4.3 1 6.5 1 21.7 1 5 1 3.3 1 .1 1 11.2 1 20.7 1 2.4 1 16.1 1 37.1 1 23.8 1 2.2 1 10.9 1 1.3 2 .8 1 9.5 1 8 1 3.6 1 3.9 1 5.7 1 3.3 1 2.4 1 35.6 1 45 1 45.8 1 269.7 1 12.4 1 14.1 1 104.8 1 130.3 1 8.3 1 .1 1 53.8 1 6.1 4 .1 1 1.9 1 .4 1 18.4 1 4.3 1 3.8 1 18.8 1 6.3 2 23.4 1 10.7 1.9 23 1 8.3 1 12.8 1 11.2 1 14.7 1 3.2 1 .8 1 1.2 1 23.8 1 20.1 1 19.3 1 7.2 1 22.5 1 7.7 1 .3 1 3.4 1 10.6 1 2.7 1 .7 1 6.1 1 25.1 1 5.3 1 1.6 1.8 25.4 1 1.6 1 4.6 1 28.5 1 5.7 1 1 1.7 2.3 1 8.5 1 2.1 1 13.5 1 95.6 1 57.2 1 6.4 2 7.5 1 141.6 1 22.2 1 39.1 1 6.9 1 40.7 1 33.9 1 4.5 1 68.8 1 4.3 1 90 1 58.7 1 5.3 1 9.8 1.9 34.2 1 6.8 1.8 .8 1 50.6 1 48.7 1 3 1 9.7 1 6.4 1 .1 1 5.6 1 3.5 1 2.6 1 3.5 1 6.7 1 1 1 8.4 1 .3 1 10.6 1 1.6 1 17.7 1 5.4 1 1 1 3.3 1.9 3 1 20.1 1 4.8 1 4.2 2 .8 1 18.1 1 2.4 1.4 .3 1 3.6 1 7.1 1 21.3 5 6.1 1 5 1 48 1.9 9.9 1 77.5 1 56 1 87.2 1 7.3 1 9.9 1 17.3 1 158.1 1 62.3 1 61.1 1 51.8 1 10.3 1 1.6 1 4.4 1 10 1 .2 1 17.3 1 15.1 1 10.7 1 1.2 1 9.3 1 9.2 1 4.4 1 28.2 1 1 1 .1 1 7.4 1 4.2 1 3.3 1.8 .5 1 8.7 1 14.8 1 6.6 1 6.3 1 .2 1 4.1 1 5.5 1 5.6 1 8.5 1 16.2 1 4.4 1 4.1 1 1.7 1 6.6 1 1.5 1 17 1 9.5 1 12.4 1 16.8 1 1.6 1 25.7 1 36.4 1 3.7 1 185.9 1 65.6 1 42 1 44.8 1 40.9 1 262.3 2 16.4 1 21.3 1 20.3 4 1 1 4.9 1 .7 1 6.5 1 5.9 1 8 1 3.1 1 2.6 1 20.5 2.8 13.1 1 8.2 1 9.1 1 2.6 1 .3 1 7.5 1 1.2 1 1.6 1 .7 1 6.5 1 1.4 1 7.6 1 9.1 1 1.1 1 10.7 1 1.9 1 5 1 1.8 1 4.5 1 8.8 1 9 1.9 6.3 1 2.8 1 1.1 1 3.7 1 4.6 1 2 1 25.1 1 7.8 1 8.5 1 3.8 1 16.8 1 50.6 1 1 1 2.7 1 7.6 1 5.3 1 17.4 1 5.6 1 11.1 1 12.6 1 5.7 1 9.6 1 1.4 1 .6 1 2.8 1 6.4 1 2 1 16.8 1 13.1 1 1 1 56 1 160.1 1 18.7 1 13.1 1 5.8 1 47.3 1 159.5 1 28.5 1 116.6 1 11.5 1 3.6 1 2.8 1 46.8 1 33.6 1 1 1 30.5 1 3 1 18.1 1 19 1 .8 1 7.6 1 21.7 1 1.5 1 14.2 1 1.5 1 7.1 1 1.8 1 9 1 7.6 1 1.3 1 .7 1 5.4 1 7.9 1 4.6 1 10.7 1 14.5 1 11.9 1 .3 1 13.4 1 13.4 1 1.3 1 2.5 1 1.4 2 1.2 1 1.7 1 8.2 1 10.9 1 12.1 1 3.7 1 15.3 1 .2 4.7 1.1 1 9.1 1 49.9 1 .8 1 10.9 1 73.6 1 45.7 1 29.3 1 52.9 1 73 1 19.1 1 12.4 1 36.6 1 35.1 1 1.3 1 46.4 1 12.9 1 83.5 1 2.6 1 24.4 1 14.8 1 1.3 1 8 1 4.3 1 9.6 1 33.1 1 8.6 1 15.7 1 3.1 1 7.7 1 .5 1 48.1 1 7.2 1 20.9 1 10.7 1 9.4 1 13.5 1 12.6 1 8.9 1 1.2 1 8.8 1 1.1 1 11.2 1 16.7 1 24.1 1 25.9 1 12.5 1 35.8 1 26.1 1 18.7 1 59.6 1 21.3 1 71.4 1 162.9 1 20 1 40.3 1 4.9 1 15.9 1 35.6 1 78.3 1 105.7 1 .5 1 8.3 1 51.8 4.8 16.9 1 17.1 1 3.4 1 18.3 1 1.3 2 1.1 1 33 1.9 4.1 1 10.3 1 6.2 1 1.5 2 2.1 1 10 1 .1 1 3.8 1 14.6 1 11.7 1.6 7.1 1 36.1 1 3 1 3.9 1 7.6 1 4.9 1 12 1 1.7 1 16.4 2 4.4 1 23.4 1 8.1 1 27.5 1 51.1 1 30.1 1 3.1 1 20.7 1 1.4 1 59.2 1 5.4 1 57.5 1 73.2 1 18.8 1 16.4 1 44 1 1.5 1 52.8 1 11.4 1 92.7 1 21.1 1 24.3 1 80.7 1 5.9 1 1.4 1 .5 1 25.3 1 10 1 19.8 1 7.2 2.8 17.9 1 12.5 1 25.7 1 3 1 1.8 1 29 1 1.6 1 17.1 1 10.3 1 3.3 1 42.1 1 .2 1 20.1 1 23.3 2 10.9 1 7.1 1 2.6 1 1.5 1 24.4 1 .3 1 4.9 1 14.9 1 3.5 1 13.6 1 .8 1 30.4 1 2.8 3 5.8 1 10.9 1 5.3 1.9 7.4 1 9.3 1 15.4 3 .1 1 .1 1 .8 1 2.9 1 29.5 1 4.7 1 7.4 1 10.5 1 11.3 1 48.5 1 38.6 1 38 1 8.8 1 94.7 1 59.5 1 121.3 1 64.6 1 49.9 1 28.5 1 26.7 1 5.9 1 13.1 1 1.9 1 11.8 1 25.6 1 7.6 1 21.8 1 67.5 1 5.9 1 .5 1 21.5 1 6.7 1 4.8 1 10.7 1 .3 1 .1 1 29.8 1 5.1 1 67 1 25.9 1 15.9 1 18.3 1.8 2 1 2.1 1 5.8 1 13.5 1 22.6 1 76.4 1 246.4 1 10 1 14.3 1 3.9 1 45.7 1 57 1 20.3 1 129.2 1 1 1 60.9 1 3.3 1 19.3 1 18.2 1 6 1 2.7 1 7.6 2.9 .2 1 33.8 2 42.1 1 2.2 1.7 5.6 1 10.1 1 4.5 1 2.2 1 9 1 33.8 1 .4 2 11.5 1 28.7 1 7.7 1 21.9 1.8 4.1 1 .9 1 17 1 10.3 1 3.7 1 26.9 1 24.6 1 13.2 1 7.2 1 .6 1 2.8 1 2.8 1 17.9 1 47.7 1 132.5 1 203.5 1 2.2 1 144.4 1 53.4 1 52.7 1 15.9 1 .1 1 3.3 1 11.6 1 29.5 1 18.3 1 9.4 1 52.7 1 2.6 1 5.5 1 5.5 1 11.7 1 5.4 1 7.5 1 .4 1 24.9 1 32.4 1 .7 1 16.2 1 19.6 1 21.1 1 26.1 1.9 10.3 1 .9 1 14.3 1 6.6 2 25.1 1.9 15.8 1 18.2 2 19 1 18.3 1 22.6 2 259.7 1 22.6 1 15.5 1 8.3 1 77.2 1 36.8 1 51.8 1 87.8 1 36.9 1 2.3 1 7.6 1 27.1 1 1.7 1 8.4 1 16.4 1 16.4 1.8 42.4 1 .2 1 21.4 1 3.9 1 3.7 1 7.5 1 3.2 1 2.2 1 6.3 1 8.3 1 8.1 1.7 6 1 29.4 1 3.6 1 4.6 1 1.7 1 21.6 1 16.9 1 .4 1 2.3 1 92.9 1 67.6 1 64.4 1 31.1 1 141.9 1 42.8 1 26.7 1 104.2 1 3.4 1 39.7 1 16 1 65.7 1 38 1 28.9 1 11.3 1 14 1 3.4 1 1.4 3 .1 1 26.5 1 7.5 1 1.2 1 11 1 6.7 1 2.2 2.8 6.2 1 27.8 1 17.7 1 27 1 .2 1 1.5 1.6 14.1 1 20.1 1 10 1 5.3 1 .6 1.5 24 1 25.5 1 3.4 1 3.8 1 6 1 6.8 1 .3 1 11.8 1 4.8 1 5 1 5.6 1.5 3 1 13.9 2 15 1 5.4 1 46 1 1.1 1 3.5 1 6.3 1 21.2 1 30.4 1 22.8 1 235.6 1 59.5 1 13.3 1 107.6 1 28.8 1 25.5 1 .7 1 81.8 1 33.4 1 10.8 1 3.1 1 30.9 1 .8 1 1.2 1 .2 1 11.1 1 12.7 1 12.8 1 .4 1 4.5 1 32.3 1 9.9 1 19.7 1 10.2 1 1 1 6.5 1.8 5.5 1 7.5 1 6.5 1 28.5 1 7.1 1 7.9 1 1.6 1 .3 1 29.5 1 6 1 4.7 1 6.9 1 5 1 .6 1 2.1 1 14.5 2 9.9 1 24.1 2 22.3 1 1.7 1 25.4 1 4.1 1 4.5 2 1.3 1 2.8 1 9.3 1 48.7 1.5 75 1 145.3 1 48.4 1 162.6 1 172.1 1 8.1 1 19.6 1 36.6 1 8.7 1 4.3 1 6.8 1 10.7 1 1.8 1 12.6 1 22.5 1 .7 1 18.8 1 8.8 1 6 1 7.7 1 17.1 1 6.1 1 3.4 1 7.1 1 13.6 1 28.1 1 36.7 1 109.7 1 8.3 1 24.2 1 13.6 1 10.4 1 .4 1 319.8 1 47.6 1 54.1 1 4.1 1 1.5 1 49.4 1 52.1 1 27.1 2.8 1.8 1 11.3 1 34.1 1 7.9 1 3 2 22.8 1 11.3 3 19.2 1 2.9 2.8 13.3 1 15.7 1 4 2 .2 1 28.7 1 10.7 1 10.8 1 47.2 1 12.4 1 21.4 1 11.9 1 3.1 1 6.4 1 1.1 1 .2 1 3.5 1 14.4 1 4.1 1 32.3 1 .2 1 23.7 1 .2 1 14.3 1 33.8 1 8.6 1 14.5 1 .4 1 34.3 1 42.4 1 12.2 1 207.1 1 123.5 1 61.4 1 105.7 1 16.9 1 39.9 1 28.8 1 47.1 1 1.5 1 15.5 1 53.4 1 3.1 1 16.4 1 2.4 1 11.2 1 2.2 1 13.7 1 13.8 1 .4 1 12.1 1 1.2 1 5.7 1 9.7 1 4.5 1 21.4 1 11 1 6.4 1 3.4 1 7.4 1 1.5 1 1 1 3.1 1 5.9 1 13.7 2 28 1 6 2 15.1 1 18.3 1 23.9 1 1.7 3 2.8 1 4.3 1 52.9 1 196.8 1 89.2 1 32.6 1 148.8 1 69.8 1 79.1 1 2.2 1.9 10.9 1 7.9 1 5.2 1 9.6 1 16.3 1 17.8 1 20.6 1 15.4 1 23.9 1 1.1 1 24 1.9 1.2 1 .4 1 17.4 1 2.5 1 23.1 1 .7 1 36.5 1 7.3 1 1.9 1 4.4 1 22.4 1 35.1 1 21.7 1 2.9 1 44.4 1 2.5 1 11.4 1 43.1 1 45.2 1 89.6 1 34.9 1 87.1 1 63.5 1 204.2 1 21.5 1 14 1 52.9 1 8.3 4.8 22.9 1 8.5 2.7 .1 1 23.9 2 36 1 .1 1 37.9 1 .4 1 4.6 1 7.7 1 10.7 1 26 1 4.2 1 40.8 1 .4 1 3.5 1 1.4 1 4.5 1 19.2 1 1.8 1 38.4 1 18.2 1 17 1 24.8 1 .9 1 15.6 1 25.5 1 4.5 1 52.2 1 37.8 1 31 1 237.6 1 173 1 70.9 1 66.3 1 37.2 1 3.3 1.9 .1 1 .5 1 24.1 1 36.8 1 9.3 1 4.3 1 32.2 1 3 1 29.3 1 3.8 1.8 4.4 1 14 1 2.8 1 1 1 15.7 1 30.7 1 3.1 1 5.5 1 1.9 1 31.6 1.8 .1 1 18.9 1 15 2.8 3 1 3.9 1 7.3 1 7 1 30 1 5 1 1.1 1 .6 1 115 1 16.4 1 3.6 1 11.2 1 102.9 1 52.3 1 45.7 1 6.6 1 10.9 1 21.8 1 74.9 1 12.1 1 177.3 1 23 1 26.7 1 1.2 1 13.9 1.8 21.1 1 7.5 1 30 1 15.2 1 43.5 1 1.9 1 1.1 1 2.2 1 7.3 1 29.7 1 21 1 37.8 1 9.5 1 3.3 1.2 2.2 1 8.9 1 12.2 1 45.5 1 24.6 1 8.7 1 11.7 1 12.3 1 25.9 1 98.3 1 24.8 1 166.1 1 39 1 34.9 1 257.3 1 12.2 1 1.1 2 2 1 31.9 1 .2 1 2.4 1 20.7 1 .8 1 35.1 1.9 14.6 1 23.8 1 11 1.7 6.5 1 12.8 1 6.6 1 21.1 1 7.2 1 6.9 1 20 1 6.8 1 11.4 1 1.8 1 7.3 1 35.9 1 27.8 1 14 1 56.3 1 12.9 1 3.3 1 1.1 1 131.3 1 89.1 1 144.4 1 99.3 1 31.4 1 133.3 1 43.9 1 4.6 1.7 20.2 1 22.8 1 2.8 1 2.1 1.8 59.9 1 13.1 1 57.1 1 20.2 1 20.8 1 31.1 1 .2 1 5 1 7.9 1 12.6 1 3.4 1 .1 1 12.1 2 14.4 1 19.6 2 25.1 1 30 1 2.9 4 .1 2 6.1 1 108.1 1 24.5 1 84.5 1 117 1 72.5 1 166.7 1 84.9 1 .9 1 41.1 1 20.7 1 38.7 1 2.1 1 15.7 1 1.5 1 11 1 1.2 1 9.2 1 .1 1 4.9 1 102.6 1 9.3 1 7.1 1 35.9 1 10.4 1 12.1 1 21.8 1 2 1 39.2 1 1.5 1 15 1 5.4 1 88.3 1 36.8 1 23.4 1 63.5 1 105.3 1 .9 1 74.2 1 24.5 1 49.7 1 27.8 1 .4 1 105.6 1 61.7 1 .1 2 2.3 1 1.4 1 6.5 1 15 1 6 1 16.8 1 1.1 1 5.9 1 21.1 1 5.1 1.5 8.3 1 12.7 1 8.6 1.8 29.4 1 5.4 1 6 1 3.8 1 37.8 1 2.6 1 3.3 1 3.7 1 9.3 1 49.2 1.3 5.3 1 4.2 1 27.9 1 36 1 1.7 1 4.8 1 10.2 1 2.3 1 35.2 1 60.8 1 2.3 1 125.5 1 22.3 1 38.4 1 104.3 1 11.4 1 67.6 1 52.9 1 65.5 1 50.8 1 60.1 1 1.2 1 20.5 1 .3 1 8.7 1 53.7 1 4.5 1 9.6 1 2 1 30.5 2 8.6 1 32.3 1 18 1 .8 1 16.5 1 1.7 1 20.6 1 9.2 1 3.2 1 28.8 1 17 1 8 1 2.1 1 8.8 1 5 1 10 1.9 12 1 5.1 2 14.7 1 9.3 1 21.6 1 13.4 2 .1 1 .8 1.8 32.7 1 24.3 1 184.2 1 66.3 1 17.6 1 2 1 38.3 1 15.1 1 107.1 1 39.1 1 .9 1 70.1 1 35.3 1 12.9 1 16.8 1 14.3 1 10.5 2 25.5 1 4.7 1 6.7 1 4.1 1 17.6 1 24.1 1 24.6 1 2 1 13.2 1 99999"/>
<path d="M119 322.167h552v.3333h-552v.3333h552v.3333h-552v.3333h552v.3333h-552v.3333h552v.3333h-552v.3333h552v.3333h-552v.3333h552v.3333h-552v.3333h552v.3333h-552v.3333h552v.3333h-552v.3333h552v.3333h-552v.3333h552v.3333h-552v.3333h552v.3333h-552v.3333h552v.3333h-552v.3333h552v.3333h-552v.3333h552v.3333h-552v.3333h552v.3333h-552v.3333h552v.3333h-552v.3333h552v.3333h-552v.3333h552v.3333h-552v.3333h552v.3333h-552v.3333h552v.3333h-552v.3333h552v.3333h-552v.3333h552v.3333h-552v.3333h552v.3333h-552v.3333h552v.3333h-552v.3333h552v.3333h-552v.3333h552v.3333h-552v.3333h552v.3333h-552v.3333h552v.3333h-552v.3333h552v.3333h-552v.3333h552v.3333h-552v.3333h552v.3333h-552v.3333h552v.3333h-552v.3333h552v.3333h-552v.3333h552v.3333h-552v.3333h552v.3333h-552v.3333h552v.3333h-552" stroke-dasharray="1 11.2 1 12.4 1 19.8 1 22.9 1 4.6 1 4.4 1 26.5 1 50.4 1 47.5 1 .3 1 367.2 1 139.8 1 23.2 1 84 1 42.2 1 17.8 1 .1 2 4.5 1 30.6 1 21.2 1 2.7 2 25 1 10 1 3.9 1 6.4 1.7 9.1 1 14.7 1 7.3 1 2.3 1 16.5 1 5.3 1 30 1 12.3 1 13.8 1 17.3 1 37.3 1 3.6 1 26.9 1 11.2 1 10.7 1 9.8 1 2.1 1 31.5 1 47.7 1 31.2 1 10.4 1 45 1.9 105.9 1 105.8 1 98.9 1 70.1 1 20.4 1 38.1 1 63.8 1 8.4 1 52.2 1 .6 1 34.7 1 10.8 1 13.1 1 19 1 3.9 1 89.4 1 21 1 8.7 1 5.2 1 9.7 1 2.4 1 18.4 1 23.4 1 5.8 1 20.8 1 17.6 1 27.4 1 8.6 1 5.9 1 18.2 1 .1 1 .4 1 33.4 3 2.7 1 43.7 1 13.6 1 45.3 1 141.9 1 103.8 1 57.6 1 148.5 1 81 1 38.1 1 44.7 1 8.3 1 63.9 1 22 1 20.1 1 4.2 1 50 1 68.7 1 25.6 1 4.6 1 12 1 42.3 1 7.3 1 36.7 1 55.4 1 103 1 170.1 1 28.9 1 14.9 1 44.8 1 154.4 1 7.2 1 4 1 7.8 1 7.2 1 59.2 1 1.6 1 1.7 1 7 1 10.3 1 27.4 1 14.6 1 30.3 1 4.6 1 21.7 1 8.5 1 13.2 1 8.7 1 13.5 1 .2 1 5.6 1 34 1 3.4 1 25.4 1 2 1 9.9 1 50.2 1 4.7 1 4.4 1 3.7 1 28.3 1 3.9 1 .5 1 16.3 1 44.3 1 .8 1 19.2 1 5.7 1 2.5 1 37.8 1 127.2 1 35.4 1 34.7 1 75.6 1 18.8 1 15.6 1 212.3 1 18.1 1 55.2 1 98.8 1 6.5 1 1 1 24.9 1 19.2 1 93.5 1 8.4 1 54 1 8.5 1 4.9 1 17.7 1 17.3 2 24.2 1.8 34.8 1 .2 2 .1 1 1.1 1.8 11.4 1.4 103.4 1 76.7 1 464.5 1 11.7 1 53.8 1 33.4 1 46.5 1 93.1 1 1.1 1 2 1 3.5 1 9.1 1 48.2 1 133 1 216.9 1 60.3 1 18.4 2 83.7 1 72.8 1 150 1 55.1 1 2.6 1 .8 1 1.6 2 .1 1 .3 1.2 17.9 1 10.8 1 1.9 1 .9 1 23.9 1 37 1 39.6 1 17 1 51.8 1 .3 1 6.9 1 .7 1 20.4 1 11.8 1 5.7 1 20.6 1 6.2 1 65.3 1 .9 1 24.3 1 17.2 1 4.5 1 7.9 1 5.2 1 13.2 1 45.6 1 116.9 1 112.7 1 63.6 1 55.4 1 96.1 1 94.5 1 27.7 1 5.1 1 32.2 1 60.4 1 5.3 1 13.1 1 1.3 1 21.3 1 .6 1 23.2 1 20.4 1 25.4 1 8.1 1 2 1 18.1 1 .1 1 13.6 1 3.1 1 48.1 1 .8 1 7.6 1 25.7 1 45.4 1 .2 1.9 14.2 1 9.8 1 21.9 1 10.5 1 .7 1.9 .1 1 23.8 1 10.3 1 14.5 1 67.4 1 54.5 1 71.7 1 58.5 1 50.2 1 255.6 1 25.6 1 26.2 1 16.7 1 8.2 1 7.8 1 20.2 1 4.3 1 24.7 1 94.2 1 54.2 1 4 1 68.6 1 44.3 1 24.2 1 27.2 1 7.9 1 3.6 1 20.8 1 32.6 1 1 1 258.8 1 51.8 1 20.4 1 26.9 1 268.4 1 .8 1 36 1 19.1 1 5 1.9 2.4 1 8.4 1 19.5 1 51.8 1 44 1 20.2 1 3.8 1 .2 1 34.3 1 16.9 1 18.8 1 17.5 1 8.6 1 24.9 1 4 1 32.2 1 29.9 1 29.7 1 24 1 37.1 1 188.5 1 26.4 1 71.4 1 49.9 1 4.7 1 149.5 1 2.1 1 33.7 1 59.5 1 4 1 9.8 1 71 1 19.9 1 101.4 1 12.1 1 19.6 1 12.2 1 41.6 1 18.6 2.6 13.8 1 1.1 1 17.4 2 24.9 1 35.2 3.9 .1 1 85.9 1 167.3 1 113.9 1 121.2 1 169.1 1 101.7 1 53.5 1 4.5 1 6.8 1 45.5 1 119.1 1 20.2 1 4.7 1 9.3 1 2 1 59.9 1 64 1 100.9 1 40.5 1 74.4 1 278.3 1 50.4 1 65 1.8 36.1 1 16 1 8.9 1 .1 1 19.8 1 14.1 1 3.3 1 88.3 1 3.7 1 3 1 10.9 1 20.8 1 17.8 1 20.9 1 32.1 1 .3 1 18.1 1 15 1 74.4 1 .8 1 3.8 1 .5 1 4.6 1 175.2 1 9.7 1 56.1 1 311.1 1 105.5 1 9.4 1 9.1 1 19.2 1 11.9 1 3.9 1 3.9 1 148.3 1 36.3 1 11.8 1 10.1 1 7.3 1 75.2 1 6.8 2 18.3 1 5.8 1 2.6 1 33.2 1 .2 1 4.5 1 300.2 1 92.2 1 92.6 1 34.4 1 41.6 1 148.4 1 6.3 1 17.2 1 54.9 1 24.6 1 51.3 1 87.1 1 4.8 1 90.4 1 9 1 .4 1 2.2 1 19.1 1 .3 1 27.7 1 4.4 1 44.7 1 8.2 1 4.8 1 199 1 209.8 1 114.5 1 39.2 1 17.9 1 .1 2 35.4 1 20.4 1 3.5 2.7 34.7 1 .4 1 8.3 1 9.3 1 105.1 1 .7 1 7 1 4 1 35.5 1 6.6 1 112.8 1 12.1 1 4.2 1 1.3 1 5.7 1.4 9.9 1 416.6 1 215.3 1 18.1 1 17.9 1.7 24.3 1 32.8 1 6.1 1 24 1 30.2 1 40.6 1 20.3 1 2.8 1 4.8 1 44.3 1 2.3 1.5 70.1 1 14.7 1 22.6 1 62 1 63.9 1 221.9 1 42.1 1 43.9 1 100 1 190.7 1 10.9 1 2.2 1 40.5 1 19.3 1 1.3 1 8.9 1.9 22.9 1 10.7 1 16 1 5.7 1 7.6 1 11.3 1 16.5 1 60.1 1 22.5 1 7.6 1 25.7 1 63.5 1 21.8 1 13.1 1 31.3 1 365.7 1 213.2 1 16.4 1 45.6 1 6.3 1 20.2 1 .8 3.6 43.3 1 13.4 1 1.7 1 29.3 1 6.8 1 40.1 1 4.7 1 13.8 1 41.3 1 .8 1 15.9 1 5.5 1 9.3 1 81.5 1 88.4 1 .3 1 10.9 1 149.5 1 62.2 1 171.2 1 57.9 1 196.3 1 44.7 1 .9 1 26.8 1 13.6 1 9.1 1 6 1 24.8 1 26.8 1 2.7 1 29.4 1 45.8 1 116.8 1 35.2 1 62.2 1 .5 2 311.3 1 10.1 1 51 1 240 1 2.4 1 37.2 1 16.2 1 8 1 15.4 1 21.7 1 8.4 1 10.7 1 59.9 1 3.9 1 47.9 1 40.6 1 65.3 1 12.8 1 20.2 1 63.8 1.5 11.6 1 6.8 1 25.3 1 227 1 67.1 1 48.7 1 145.9 1 172.5 1 2 1 .8 1 55.2 1 5.8 1 4.1 1 31.9 1 88.9 1 17.5 1 6.7 1 24.4 1 32.2 1 22 1 3.9 1 80.7 1 27 1 11.9 1 15.4 1 13.5 1 107 1 9.3 1 251.7 1 144.6 1 131.1 1 20.9 1 77.1 1 7.6 1 5.9 1 4.5 1 47.6 1 7.2 1 13.4 1 2.4 1 21.9 1 44 1 12.5 1 11.9 1 12.2 1 30.4 1 22.8 1.8 13.5 1 10.8 1 23.9 1 11 1.9 .1 1 8 2 83.7 1 159.2 1 228 1 130.8 1 19.6 1 9.2 1 11.7 1 116 1 15.7 1 36.9 1 36.1 1 .7 1 29.9 1 25.7 1 15 1 40.2 1 18.2 1 3.6 1 87 1 4.2 1 45.8 1 94.6 1 102.8 1 116.2 1 55 1 52.4 1 143.5 1 62.4 2.8 39.3 1 21.6 1 .2 1 .2 1 15.4 1 110.5 1 12.5 1 17 1 42.9 1 42.9 1 14.6 1 5.2 1 26.9 1 18.9 1 3.8 1 3.2 1 12.1 1 16.4 1 34.6 1 298.1 1 98.7 1 297.3 1 30.8 1 17.8 1 12.8 1 5.9 1 25.9 1 1.3 1 6.7 1 8.9 1 17.3 1 14.1 1 38 1 35.4 1 13 1 20.4 1 9.6 1 35.9 2 15.5 1 8.4 1 .5 1 13.3 1 13.8 1 5.4 1 .1 2 1.9 1 10.2 1 157.6 1 21.7 1 106.1 1 283.9 1 81 1 10.2 1 17.4 1 31.8 1 25.2 1 2.1 1 45.2 1 41.8 1 48.1 1 40.7 1 4.9 1 90.7 1 6.5 1 51.7 1 30.2 1 202.5 1 232.9 1 212.4 1 .4 1 .8 1.9 34 1 14.2 1 46.2 1 1.8 1 16.3 1 6.9 1 .5 1 32.2 1 40.4 1 4 1 4.1 1 13.5 1 14.4 1 28.8 1 47.3 1 29.1 1 7 1 72.4 1 1.5 1 163.2 1 111.7 1 26.7 1 58.2 1 249.2 1 69.1 1 10 1 74.4 1 104.9 1 72.8 1 34.8 1 3.1 1 1.4 1 36.1 1 .1 1 46.9 1 7.6 1 5.4 1.9 62.7 1 370.3 1 246.7 1 123.3 1 33.8 1 21.7 1 90.4 1 86.2 1 22.8 1 45.2 1 153.8 1 59.9 1 6.1 1 105.8 1 314.4 1 22.9 1.7 .3 1 12.5 1 35.7 1 12.8 1 36.9 1 12.8 1 36.9 1 12.1 1 .8 1 53.6 1 1.4 1 3.3 1.8 41.1 1 38.7 1 111 1 443.2 1 179.5 1 41.7 1 16 1 40.8 1 19.7 1 12.3 1 28.2 1 38.9 1 29.9 1 82.6 1 .5 1 12.3 1 18.4 1 7.4 1 53.2 1 .1 1 18.5 1 5.4 1 29 1 6 1 .1 1 30.1 1 68.6 1 125.1 1 439.4 1 48.3 1 35.9 1 3.2 1 20.8 1 .2 1 43.3 1 82.3 1 32.1 1 14.6 1 4 1 286.4 1 224.5 1 88.3 1 70.5 1 4.3 1 142.1 1.9 63.1 1 33.8 1 .9 1 7.5 1 35.9 1 1.6 1 62.7 1 10.5 1 5.4 1 17.1 1 39 1 34.2 1 35.8 1 25.2 1 25.7 1 10.8 1 3.6 1 4.5 1 .1 1 16.2 1 1.4 1 15.3 1 16.3 1 576.5 1 34.2 1 31.6 1 20 1 81.9 1 21 1 3.1 1 15.2 1 11.3 1 9.9 1 107.6 1 23.9 1 26.4 1 45 1 15.8 2 3.3 1 222.1 1 101.4 1 84.5 1 44.1 1 202.4 1 46.2 1 32.4 1 34.8 1 .2 1 97 1 7.6 1 99999"/>
<path d="M119 346.167h552v.3333h-552v.3333h552v.3333h-552v.3333h552v.3333h-552v.3333h552v.3333h-552v.3333h552v.3333h-552v.3333h552v.3333h-552v.3333h552v.3333h-552v.3333h552v.3333h-552v.3333h552v.3333h-552v.3333h552v.3333h-552v.3333h552v.3333h-552v.3333h552v.3333h-552v.3333h552v.3333h-552v.3333h552v.3333h-552v.3333h552v.3333h-552v.3333h552v.3333h-552v.3333h552v.3333h-552v.3333h552v.3333h-552v.3333h552v.3333h-552v.3333h552v.3333h-552v.3333h552v.3333h-552v.3333h552v.3333h-552v.3333h552v.3333h-552v.3333h552v.3333h-552v.3333h552v.3333h-552v.3333h552v.3333h-552v.3333h552v.3333h-552v.3333h552v.3333h-552v.3333h552v.3333h-552v.3333h552v.3333h-552v.3333h552v.3333h-552v.3333h552v.3333h-552v.3333h552v.3333h-552v.3333h552v.3333h-552v.3333h552v.3333h-552v.3333h552v.3333h-552" stroke-dasharray="0 16.1 1 39.2 1 21.8 1 7.5 1 59.5 1 7.2 1 9.4 1 43.2 1 64.1 1 240.3 1 53.7 1 64 1 235.6 1 16.6 1 4.7 1 14.3 1 36.5 1 15.2 1 31.2 1 12.5 1 31.4 1 22 1 9.4 1 4.2 1 10.2 1 54.9 1 15.7 1 39.3 1 4 1 17.5 1 20.7 1 36 1 24 1 87.4 1 348.8 1 223.6 1 17.2 1 140.7 1 39.5 1 109.3 1 71.8 1 28.4 1 5 1 14.7 1 8.1 2 410.3 1 73.3 1 116.2 1 67.3 1 56.4 1 6.8 1 7.2 1 24.1 1 17.7 1 60.3 1 75.8 1 2.4 1 68.2 1 17.7 1.8 61.3 1 11.7 1 5.8 1 2.2 1 1.4 1 32 1 507.9 1 45.8 1 70.5 1 4.5 1 21 1 46.5 1 5.7 1 37.2 1 23.8 1 35.3 1 4.8 1 33.4 1 5.8 1 38.6 1 14.4 1 9.5 1 36.1 1 73.5 1 .4 1 15.6 1 103.1 1 420 1 141.7 1 32.4 1 30.2 1 30.2 2 4.6 1 26 1 40.1 1 56.1 1 15 1 38 1 7.1 1 17.4 1 25 1 100.4 1 18.4 2 192.1 1 273 1 48.3 1 152.5 1 7.1 1 9.6 1 6.4 1 19.8 1 208.2 1 26.1 1 37.8 1 91.6 1 9.6 1 39.7 1 280.1 1 336.4 1 29.6 1 11.6 1 22.3 1 .3 1 13.9 1 10.1 1 94.3 1 30.7 1 43 1 46.5 1 141.8 1 35.2 1 676.1 1 5.8 1 49.1 1 35.9 1 2.8 1 7.7 1 51.8 1 15.5 1 5.8 1 12.7 1 16.9 1 31.3 1 37.7 1 3.4 1 92.7 1 87.5 1 26.9 1 102.2 1 450.6 1 16.5 1 42.5 1 48.4 1.9 117.4 1 23.1 1 453.1 1 233.8 1 177.2 1 7.8 1 49.8 1 3.4 1 36.9 1 46.6 1 19.2 1 29.1 1 74.9 1 .9 1 45.7 1 35 1 26 1 21.1 1 15.7 1 157.1 1 436.4 1 49.9 1 31.3 1 38.7 1 61.5 1 45.8 1 29.8 1 13.6 1 40.2 1.9 80.7 1 19.1 1 47.8 1 35.5 1.6 1.4 1 9.3 1 2.8 1 46.5 1 227 1 64.4 1 3.4 1 381.6 1 10.1 1 14.4 1 37.6 1 143.9 1 62.2 1 1.3 1 19.5 1 .5 1 2.3 1 11.5 1 9.1 1 40 1 187.8 1 16 1 7 1 247.3 1 213.2 1 .2 1 101.1 1 15 1 8.9 1 65.2 1 .7 1 13.9 1 22.3 1 34.2 1 18.7 1 13.9 1 47.3 1 4.7 1 5.6 1 54.1 1 4.1 1 660.7 1 20.7 1 22.3 1 73.4 1 29.8 1 176 1 34.3 1 13.7 1 63.4 1 363.5 1 316.9 1 60.7 1 35.9 1 2.4 1 85.9 1 51.3 1 43 1 188.2 1 8.6 1 204 1 314.1 1 92.8 1 4.4 1 9.5 1 88 1 33.5 1 12.9 1 7.3 1 52.2 1 7.4 1 35.7 1 86.1 1 45.5 1 8.5 1 595.3 1 45.1 1 11.2 1 22.9 1 11.4 1 52.5 1 54.5 1 13.3 1 4 1 75.2 1 130.2 1 46.7 1 38.2 1 16.9 1 94.4 1 584.1 1 14.9 1 38.2 1 6.8 1 36.6 1 40.4 1 15.8 1 73.2 1 33.3 1 38.9 1 6.4 1 44.1 1 6.7 1 29.7 1.9 4.8 1 6.2 1 287.4 1 43.9 1 349.8 1 7.6 1 36.4 1 53.3 1 22.2 1 98.9 1 55.8 1 80.5 1 23.1 1 47.2 1 4 1 42.9 1 182.8 1 409.8 1 35 1 35.1 1 27.1 1 116.2 1 97.9 1 79.1 1 62.8 1 677 1 17.1 1 20.4 1 140.4 1 56.1 1 85.7 1 38.3 1 78.4 1 184.3 1 442 1 20.2 1 12.2 1 34 1 28.9 1 2 1 102.3 1 5.6 1 33 1 115.2 1 85.4 1 346.6 1 316.4 1 14.9 1 150.2 1 94.6 1 51.4 1 32.4 1 36.3 1 62.8 1.7 63.5 1.2 317.8 1 18.6 1 290.3 1 21.9 1 104.3 1 49.1 1 34.3 1 4.7 1 103.1 1 20.7 1 26.5 1 25.9 1 10.1 1 290.7 1 387.5 1 88.2 1 97.3 1 135 1 54.1 1 452.2 1 85.5 1 146.1 1 86.1 1 13.8 1 84.1 1 60.1 1 13 1 105.2 1 91.6 1 208 1 125.2 1 219.8 1 125.1 1 .7 1 8.2 1 27.1 1 26.6 1 103.7 1 17.3 1 31.7 1 69.9 1 4.9 1 820.8 1 26.2 1 42.1 1 7.3 1 5.8 1 52.2 1 20.9 1 37.5 1 17.4 1 18.4 1 5.7 1 163.3 1 1.4 1 29.7 1 227.4 1 236 1 137.6 1 66.2 1 99.2 1 47.2 1 33 1 4.8 1 80.3 1 87.2 1 16.2 1 24.6 1 .2 1 339.6 1 243.5 1.7 32.2 1 82 1 40.4 1.7 5.4 1 46.6 1 20.9 1 126.2 1 167.3 1 445 1 128.8 1 28.3 1 62.4 1 .1 1 86.8 1 .6 1 7.4 1 1.1 1 119.2 1 19.4 1 87.9 1 11.8 1 31.3 1 728.2 1.8 34.5 1 22.3 1 105.8 1 14.4 1 69.9 1 17 1 88.9 1 30.7 1 39.9 1 10.1 1 215.6 1 35.2 1 44.3 1 56 1 101 1 148.3 1 59.1 1 77.7 1.5 31.9 1 42.6 1 11.6 1 8 1 25.5 1 78.2 1 71 1 25.1 1 37.1 1.8 75 1 334.4 1 122.1 1 43.6 1 162.8 1 53.7 1 28.4 1 110.5 1 1 1 61.8 1 49.1 1 36.8 1 242.4 1 469 1 165.1 1 11.8 1 14.3 1 111.4 1 8.2 1 6.7 1 10.2 1 67.9 1 93.4 1 187.3 1 31.6 1 369.5 1 49 1 44.2 1 99999"/>
<path d="M119 370.167h552v.3333h-552v.3333h552v.3333h-552v.3333h552v.3333h-552v.3333h552v.3333h-552v.3333h552v.3333h-552v.3333h552v.3333h-552v.3333h552v.3333h-552v.3333h552v.3333h-552v.3333h552v.3333h-552v.3333h552v.3333h-552v.3333h552v.3333h-552v.3333h552v.3333h-552v.3333h552v.3333h-552v.3333h552v.3333h-552v.3333h552v.3333h-552v.3333h552v.3333h-552v.3333h552v.3333h-552v.3333h552v.3333h-552v.3333h552v.3333h-552v.3333h552v.3333h-552v.3333h552v.3333h-552v.3333h552v.3333h-552v.3333h552v.3333h-552v.3333h552v.3333h-552v.3333h552v.3333h-552v.3333h552v.3333h-552v.3333h552v.3333h-552v.3333h552v.3333h-552v.3333h552v.3333h-552v.3333h552v.3333h-552v.3333h552v.3333h-552v.3333h552v.3333h-552v.3333h552v.3333h-552v.3333h552v.3333h-552v.3333h552v.3333h-552v.3333h552v.3333h-552" stroke-dasharray="0 49.6 1 28.7 1 .3 1 114.7 1 1.6 1 12.1 1 524.7 1 153.7 1 19.7 1 79.5 1 21.3 1 70.7 1 22 1 33.9 1 17.3 1 87.7 1 1.1 1 27.8 1 718.6 1 65.1 1 143.5 1 36.6 1 53.4 1 18.9 1 29.5 1 10.5 1 622.4 1 96.1 1 11.8 1 87 1 272.4 1 36.9 1 332.6 1 370.5 1 101.3 1 137.3 1 45.1 1 13.7 1 75.1 1 729.2 1 7 1 2.4 1 4.4 1 46.4 1 24.5 1 8.2 1 2 1 117.8 1 110 1 25.8 1 671 1 70.5 1 41.1 1 19.4 1 43 1 12 1 23.2 1 104.6 1 135.5 1 1.6 1 12.6 1 1.8 1 51.6 1 64.4 1 435.7 1 181.6 1 12.1 1 35.6 1 19.8 1 16 1 136.4 1 154.8 1 6.6 1 499 1 74.6 1 152.4 1 12.3 1 2.4 1 92.3 1 4.9 1 24.9 1 104 1 32.5 1 52.6 1 25.8 1 316.6 1 549.9 1 1.2 1 6.6 1 45.8 1 90.7 1 18 1 87.9 1 476.9 1 190.9 1 4.2 1 35.4 1 49.1 1 150.5 1 39.7 1 15.3 1 840 1 23.7 1 122.7 1 959.6 1 43.8 1 7 1 23.8 1 33 1 117.6 1 54.9 1 .8 1 11.8 1 669 1 219.2 1 161.3 1 119.6 1 17.1 1 665.7 1 113.7 1 .9 1 51.5 1 54.2 1 136.4 1 34.7 1 39.3 1 .1 1 1.3 1 283.6 1 208.9 1 363.6 1 38.8 1 51 1 56.3 1 53.6 1 30.1 1 8.3 1 41.7 1 109.9 1 374.1 1 150.1 1 100.1 1 84.7 1 191.9 1 2.6 1 40 1 245.6 1 225.1 1 285.3 1 101.2 1 29.1 1 16.6 1 123.7 1 5.9 1 52.8 1 7.7 1 32.2 1 472.1 1 163.2 1 16.5 1 .6 1 41.2 1 183.6 1 11 1 26.9 1 139.3 1 9.7 1 218.8 1 108 1 445.7 1 20.5 1 67.1 1 85.5 1 24.4 1 20.4 1 2.3 1 163.8 1 118.6 1 532.8 1 101.1 1 18.8 1 163.9 1 18.8 1 15.9 1 6.5 1 55 1 662.1 1 16.5 1 26.6 1 251.1 1 123.4 1 778.7 1 122.4 1 114.8 1 16.9 1 23.3 1 33.2 1 718.7 1 175.8 1 19.3 1 103.3 1 17.4 1 94.3 1 289.8 1 59.6 1 302.5 1 108 1 342.6 1 604.8 1 69 1 145 1 74.7 1 29.8 1 71.2 1 37.1 1 6 1 17.6 1 751.4 1 114.9 1 3 1 78.7 1 27.1 1 117.2 1 744.6 1 41 1 34.8 1 49.7 1 91.5 1 1.4 1 22.7 1 7.9 1 20.3 1 7.6 1 818.7 1 42 1 62.9 1 35.6 1 106.1 1 38.4 1 149.9 1 394 1 283.2 1 136.3 1 15.4 1 428.2 1 50.2 1 427.3 1 92.2 1 95 1 627.1 1 269.7 1 19.9 1 23 1 82.5 1 52.6 1 194.2 1 733.5 1 1.3 1 282.5 1 831.5 1 88.2 1 10.3 1 61.8 1 92.4 1 18.1 1 493.1 1 335.1 1 87.6 1 11.3 1 37.8 1 42.6 1 57.9 1 23.7 1 220.4 1 412 1 69.6 1 342.6 1 8.2 1 9.4 1 15.9 1 115.2 1 25.9 1 32 1 410.4 1 337.5 1 137.3 1 99999"/>
<path d="M119 394.167h552v.3333h-552v.3333h552v.3333h-552v.3333h552v.3333h-552v.3333h552v.3333h-552v.3333h552v.3333h-552v.3333h552v.3333h-552v.3333h552v.3333h-552v.3333h552v.3333h-552v.3333h552v.3333h-552v.3333h552v.3333h-552v.3333h552v.3333h-552v.3333h552v.3333h-552" stroke-dasharray="0 27.7 1 146.1 1 11.8 1 46.1 1 723.4 1 13.3 1 149 1 190.4 1 680.1 1 .2 1 935.8 1 131 1 230.8 1 29.6 1 1.4 1 15.7 1 42.8 1 130.7 1 97.1 1 901.6 1 18.1 1 119.4 1 324.8 1 74.2 1 259.2 1 57.4 1 18.1 1 92.4 1 47 1 130.5 1 7.2 1 50.3 1 23.7 1 419.7 1 30.4 1 197.6 1 146 1 34 1 21.9 1 44.8 1 562.2 1 124.9 1 142.9 1 45.4 1 128.3 1 90.5 1 51.7 1 225.6 1 633.8 1 44.7 1 133.2 1 62.8 1 761.9 1 86.2 1 52.9 1 128.9 1 74.9 1 284 1 747.3 1 32.6 1 12.3 1 46 1 414.4 1 498.9 1 56.1 1 165 1 80.6 1 806 1 99999"/></g></g>
<g><g stroke="#000" stroke-width="1" fill="none"><path d="M119 503.167h552v.3333h-552v.3333h552v.3333h-552v.3333h552v.3333h-552v.3333h552v.3333h-552v.3333h552v.3333h-552v.3333h552v.3333h-552v.3333h552v.3333h-552v.3333h552v.3333h-552v.3333h552v.3333h-552v.3333h552v.3333h-552v.3333h552v.3333h-552v.3333h552v.3333h-552v.3333h552v.3333h-552v.3333h552v.3333h-552v.3333h552v.3333h-552v.3333h552v.3333h-552v.3333h552v.3333h-552v.3333h552v.3333h-552v.3333h552v.3333h-552v.3333h552v.3333h-552v.3333h552v.3333h-552v.3333h552v.3333h-552v.3333h552v.3333h-552v.3333h552v.3333h-552v.3333h552v.3333h-552v.3333h552v.3333h-552v.3333h552v.3333h-552v.3333h552v.3333h-552v.3333h552v.3333h-552v.3333h552v.3333h-552v.3333h552v.3333h-552v.3333h552v.3333h-552v.3333h552v.3333h-552v.3333h552v.3333h-552v.3333h552v.3333h-552v.3333h552v.3333h-552" stroke-dasharray="0 1194.3 1 2848 1 632.7 1 1469.2 1 1695.4 1 3521.2 1 3130.8 1 1114.8 1 1847.5 1 138.9 1 247.2 1 273.6 1 190.6 1 248.9 1 3524.9 1 211.4 1 662.5 1 1947.8 1 664.8 1 2750.2 1 164.4 1 2396.3 1 2093.2 1 681.3 1 357.2 1 .5 1 1485.1 1 25 1 40.5 1 1077.5 1 1300.6 1 1031.3 1 99999"/>
<path d="M119 527.167h552v.3333h-552v.3333h552v.3333h-552v.3333h552v.3333h-552v.3333h552v.3333h-552v.3333h552v.3333h-552v.3333h552v.3333h-552v.3333h552v.3333h-552v.3333h552v.3333h-552v.3333h552v.3333h-552v.3333h552v.3333h-552v.3333h552v.3333h-552v.3333h552v.3333h-552v.3333h552v.3333h-552v.3333h552v.3333h-552v.3333h552v.3333h-552v.3333h552v.3333h-552v.3333h552v.3333h-552v.3333h552v.3333h-552v.3333h552v.3333h-552v.3333h552v.3333h-552v.3333h552v.3333h-552v.3333h552v.3333h-552v.3333h552v.3333h-552v.3333h552v.3333h-552v.3333h552v.3333h-552v.3333h552v.3333h-552v.3333h552v.3333h-552v.3333h552v.3333h-552v.3333h552v.3333h-552v.3333h552v.3333h-552v.3333h552v.3333h-552v.3333h552v.3333h-552v.3333h552v.3333h-552v.3333h552v.3333h-552v.3333h552v.3333h-552v.3333h552v.3333h-552" stroke-dasharray="0 542.4 1 901.2 1 1978.3 1 1885.1 1 2903.6 1 2941.1 1 330 1 873.2 1 743.6 1 360.5 1 1039.9 1 604.2 1 317 1 911.2 1 12.1 1 411.6 1 347 1 342.6 1 278.9 1 80.5 1 111.6 1 177.4 1 617.8 1 442.6 1 595.1 1 1363.1 1 391.9 1 709.6 1 1056.7 1 854.5 1 359.9 1 1104.1 1 1782.6 1 159.8 1 879.9 1 74 1 1157.3 1 358.4 1 235.9 1 1546.7 1 360.4 1 1168.3 1 678.8 1 2208.2 1 427.6 1 674.4 1 422.9 1 371.7 1 445.8 1 220.1 1 99999"/>
<path d="M119 551.167h552v.3333h-552v.3333h552v.3333h-552v.3333h552v.3333h-552v.3333h552v.3333h-552v.3333h552v.3333h-552v.3333h552v.3333h-552v.3333h552v.3333h-552v.3333h552v.3333h-552v.3333h552v.3333h-552v.3333h552v.3333h-552v.3333h552v.3333h-552v.3333h552v.3333h-552v.3333h552v.3333h-552v.3333h552v.3333h-552v.3333h552v.3333h-552v.3333h552v.3333h-552v.3333h552v.3333h-552v.3333h552v.3333h-552v.3333h552v.3333h-552v.3333h552v.3333h-552v.3333h552v.3333h-552v.3333h552v.3333h-552v.3333h552v.3333h-552v.3333h552v.3333h-552v.3333h552v.3333h-552v.3333h552v.3333h-552v.3333h552v.3333h-552v.3333h552v.3333h-552v.3333h552v.3333h-552v.3333h552v.3333h-552v.3333h552v.3333h-552v.3333h552v.3333h-552v.3333h552v.3333h-552v.3333h552v.3333h-552v.3333h552v.3333h-552v.3333h552v.3333h-552" stroke-dasharray="0 186.7 1 768 1 1527.8 1 301.2 1 377.3 1 125.4 1 232.2 1 615.4 1 53.1 1 796.3 1 514.6 1 162.3 1 220.8 1 71.8 1 93.3 1 377.8 1 1504.9 1 386.9 1 225.8 1 92.8 1 1333.3 1 5 1 159.5 1 569.5 1 63.3 1 6.4 1 1205.9 1 122.1 1 87.9 1 146.7 1 590.8 1 23.7 1 535.6 1 300 1 393.6 1 1400.6 1 608 1 70.7 1 451 1 1144.2 1 674.4 1 1612 1 660.1 1 162.4 1 1236 1 62.6 2 1782.4 1 .4 1 204.6 1 280.5 1 679.4 1 1040.4 1 324.5 1 446.6 1 258 1 495.6 1 63.9 1 679.6 1 1102.9 1 1039.5 1 14.5 1 342.5 1 64.7 1 135.1 1 543.5 1 151 1 252.8 1 695.6 1 821.2 1 319.2 1 323.5 1 743.1 1 298.5 1 124.2 1 2144.3 1 87.1 1 1030.8 1 728 1 99999"/>
<path d="M119 575.167h552v.3333h-552v.3333h552v.3333h-552v.3333h552v.3333h-552v.3333h552v.3333h-552v.3333h552v.3333h-552v.3333h552v.3333h-552v.3333h552v.3333h-552v.3333h552v.3333h-552v.3333h552v.3333h-552v.3333h552v.3333h-552v.3333h552v.3333h-552v.3333h552v.3333h-552v.3333h552v.3333h-552v.3333h552v.3333h-552v.3333h552v.3333h-552v.3333h552v.3333h-552v.3333h552v.3333h-552v.3333h552v.3333h-552v.3333h552v.3333h-552v.3333h552v.3333h-552v.3333h552v.3333h-552v.3333h552v.3333h-552v.3333h552v.3333h-552v.3333h552v.3333h-552v.3333h552v.3333h-552v.3333h552v.3333h-552v.3333h552v.3333h-552v.3333h552v.3333h-552v.3333h552v.3333h-552v.3333h552v.3333h-552v.3333h552v.3333h-552v.3333h552v.3333h-552v.3333h552v.3333h-552v.3333h552v.3333h-552v.3333h552v.3333h-552v.3333h552v.3333h-552" stroke-dasharray="0 993.7 1 257 1 63.2 1 448.9 1 108 1 481.5 1 62.1 1 1105.2 1 62.4 1 30.8 1 262.7 1 319.1 1 484.1 1 4 1 613.5 1 62.9 1 1007.9 1 22.5 1 376.8 1 100.5 1 1058.2 1 62 1 653.2 1 385.9 1 63.5 1 6.8 1 607.5 1 450.2 1 470.6 1 179.8 1 872.9 1 184.4 1 108 1 .2 1 359.2 1 82.6 1 202.2 1 327.6 1 41.5 1 1060.9 1 63.3 1 62.9 1 321.1 1 37.4 1 484.3 1 129.6 1 64.3 1 62.3 1 360.5 1 819.1 1 323.2 1 22.8 1 331.4 1 346.4 1 42.9 1 252.8 1 1102.9 1 63.1 1 103 1 639.2 1 125.8 1 254.7 1 1017.6 1 127.3 1 58.6 1 561.9 1 481.3 1 677.9 1.7 273.5 1 253.1 1 510.7 1 359.4 1 1066.5 1 101.2 1 850.3 1 187.8 1 363.6 1 802.3 1.6 62.4 1 263 1 332.1 1 18.3 1 360 1 512.5 1 330.6 1 105.6 1 214.2 1 616.7 1 99.7 1 25.9 1 295.7 1 126.9 1 458.4 1 156.7 1 487.5 1 614.1 1 64.3 1 358.8 1 369.3 1 244.5 1 61.6 1 323.7 1 36.8 1 25.6 1 716.1 2 357.9 2 127.4 1 67.4 1 70.7 1 284 1 174.1 1 374.1 1 .2 1 62.2 1 196.8 1 930.9 1 564.4 1 8.8 1 79.7 1 99999"/>
<path d="M119 599.167h552v.3333h-552v.3333h552v.3333h-552v.3333h552v.3333h-552v.3333h552v.3333h-552v.3333h552v.3333h-552v.3333h552v.3333h-552v.3333h552v.3333h-552v.3333h552v.3333h-552v.3333h552v.3333h-552v.3333h552v.3333h-552v.3333h552v.3333h-552v.3333h552v.3333h-552v.3333h552v.3333h-552v.3333h552v.3333h-552v.3333h552v.3333h-552v.3333h552v.3333h-552v.3333h552v.3333h-552v.3333h552v.3333h-552v.3333h552v.3333h-552v.3333h552v.3333h-552v.3333h552v.3333h-552v.3333h552v.3333h-552v.3333h552v.3333h-552v.3333h552v.3333h-552v.3333h552v.3333h-552v.3333h552v.3333h-552v.3333h552v.3333h-552v.3333h552v.3333h-552v.3333h552v.3333h-552v.3333h552v.3333h-552v.3333h552v.3333h-552v.3333h552v.3333h-552v.3333h552v.3333h-552v.3333h552v.3333h-552v.3333h552v.3333h-552v.3333h552v.3333h-552" stroke-dasharray="0 212.9 1 677.1 1 52.6 1 306.2 1 1168.8 1 93.9 1 1008.5 1 315.1 1 788.1 1 350 1 326.5 1 322.5 1 37.1 1.8 742.6 1 359.3 1 741 1 1.2 1 574.2 1 464.2 1 423.6 1 63.1 1 467.5 1 145.9 1 375.1 1 727.4 1 63.1 1 3.1 1 356.4 1 178.1 1 339.2 1 307.3 1 238.7 1 35.4 1.7 62 1 .2 1 .2 1 614.2 1 189.8 1 551 1 310.7 1 48.3 1 63.9 1 61.8 1 295.7 1 64.3 1 324.8 1 712.5 1 25.9 1 35.3 1 63.1 1 551.7 1 488.6 1 246.9 1 429.4 1 .8 1 100.3 1 385.1 2 550.9 1 423.8 1 36.6 1 25.4 1 614.3 1 164.8 1 322.6 1 64.1 1 549.1 1 63.9 1 48.7 1 12.3 2 257.9 2 532.2 1 175.4 1 430.7 1 62.1 1 64.9 1 549.5 1 62.8 1 .6 1 62.3 1 338.3 1 635.7 1 62.8 1 1.6 1 60.3 1 20 1 135.7 1 8.6 1 400.4 1 406.9 1 63 1 359.6 1.7 62.1 1 63.1 1 613.6 1 128.8 1 279.3 1 14.2 1 187.8 1 427.9 1 60 1 1.3 1 360.4 1 572.7 1 69 1 81.5 1 13.4 1 .7 1 .1 1 63.9 1 35.7 1 258.6 1 624.8 1 539.5 1 144.4 1 193.4 1 42.4 1 233.4 1 .2 1 35.1 1 89.7 1 295.6 1 265.9 1 106.2 1 266.3 1 101.9 1 62.1 1 65 1 230.1 1 .1 1 60.8 2 1.2 1 62.1 1 550.9 1 158.2 1 198.8 1 63.8 1 61.7 1 145.2 1 224.5 1 155.6 1 88 2 61 1 .1 1 .1 1 1.3 1 45.8 1 273.6 1 843.9 1 35.8 1 258.5 1 62.1 1.8 .1 1 7.6 1 670.6 1 320.4 1 36.1 1 608 1 134.4 2 61.8 1 347.7 1 9.7 1 2.1 1 714.2 1 285.3 1 37.1 1 55 1 2.9 1 .8 1 .4 1 .9 1 61 1 .1 1 332 1 278.9 1 4.8 1 34 1 99999"/>
<path d="M119 623.167h552v.3333h-552v.3333h552v.3333h-552v.3333h552v.3333h-552v.3333h552v.3333h-552v.3333h552v.3333h-552v.3333h552v.3333h-552v.3333h552v.3333h-552v.3333h552v.3333h-552v.3333h552v.3333h-552v.3333h552v.3333h-552v.3333h552v.3333h-552v.3333h552v.3333h-552v.3333h552v.3333h-552v.3333h552v.3333h-552v.3333h552v.3333h-552v.3333h552v.3333h-552v.3333h552v.3333h-552v.3333h552v.3333h-552v.3333h552v.3333h-552v.3333h552v.3333h-552v.3333h552v.3333h-552v.3333h552v.3333h-552v.3333h552v.3333h-552v.3333h552v.3333h-552v.3333h552v.3333h-552v.3333h552v.3333h-552v.3333h552v.3333h-552v.3333h552v.3333h-552v.3333h552v.3333h-552v.3333h552v.3333h-552v.3333h552v.3333h-552v.3333h552v.3333h-552v.3333h552v.3333h-552v.3333h552v.3333h-552v.3333h552v.3333h-552v.3333h552v.3333h-552" stroke-dasharray="0 147 1 743.4 1.9 35.8 1 25.2 1 37 1 319.3 1 3 1 53.7 1 6.6 1 617.2 1 60.9 1 184.7 1 109.7 1 63.9 1 62.2 1 550.2 1 62.9 1 62.9 1 36.8 1 .7 1 265.1 1 191.9 1 87.6 1 93.3 1 38.3 1 256.3 1 62.9 2 4 1 31.1 1 23.5 1 1.1 1 360.4 1 1.3 1 188.8 1 503.2 1 19.6 1 62.4 1 66.3 1 144.5 1 43.6 1 44.2 1 16.1 1 .9 1 .9 1 1 1 60.2 1 610.7 1 171.9 1 17.7 1 143.9 1 506.9 1 201 1 59.3 1 .5 1 .9 1 62.1 2 34.6 1 .5 1 591.9 1 40.2 1 469.7 1 258 1 61 2 1.1 1 61.9 1 432.5 1 180.8 1 2.7 1 318.7 1 106.4 1 64.2 1 601.7 1 5.1 1.9 .2 1 124.4 1 291.5 1 1.5 1 2.7 1 .4 1 59.9 1 457.5 1 152.6 1 190.9 1 134.2 1 99.1 1 .1 1 .1 1.8 60.9 1 .2 1 257.8 1 17.5 1 205.5 1 127.4 1 66.2 1 35.6 1 309.3 1 219.3 1 138 1 178.5 1 80.6 1 9.5 1 61.8 1 .1 1 .1 1 60.7 1 328.3 1 27.1 1.8 3.2 1 316.2 1 110.5 1 312.8 1 63.6 1 205 1 24.7 1 61.8 1 .1 2 .1 1 2.5 1 105.4 1 186.4 1 377.8 1 24.3 1 274.6 1 62.4 1 64.1 1 304.3 1 153.8 1 152.3 1 62.1 1 .9 1.9 4.2 1 55.9 1 37 1 471 1 425.1 1 63.8 1 37.1 1 1.7 1 6.2 1 91.9 1 258.1 1 27.6 1 33.6 1 .9 2 62.1 1 257.9 1 58.1 1 233.1 1 146.2 1 16.8 1 220.4 1 227.4 1 206.9 1 122.8 1 69.7 1 49.4 1 35.3 1 58.4 1 2.5 2 1 1 61.1 1.9 18.4 1 106.5 1 124.8 1 43.3 1 64.6 1 186 1 170.5 1 35.8 1 253.5 1 28.3 1 1 1 58.9 1 .7 1 170.1 1 85.4 1 30.5 1 68.8 2.9 39.9 1 21.2 1 322.6 1 287.6 1 39.4 1 24.7 1 101.9 1 220.6 1 32.6 1 118.5 1 244.1 1 16.6 1 11.7 1 223.7 1 61.3 4.6 61 2 36 1 317.4 1 77.7 1 58.5 1 186.8 1 354.5 1 218.2 1 142.9 1 .1 1 61.9 3 351.9 1 53.2 1 54.2 1 21 1 309.3 1 242.2 1 67.9 1.9 235.8 1 222.5 1 150.1 1 62 4 13.6 1 46.5 1 36.9 1 79.1 1 105.9 1 70.3 1 66.1 1 53.8 1 5.4 1 175.2 1 350.2 1 154 1 230 1 62 1 5 1 46 1 9.1 1.9 3.6 1 59.3 1 126 1 486.5 1 3.3 1 .1 1 88.2 1 270.9 1 73.6 1 87.9 1 251.4 1 48.9 1 67.4 1 11.8 1 118.2 1 8.8 1 60.2 3.9 2.5 1 31.6 1 25.9 1 37 1 7.9 1 90.8 1 93.9 1 130.9 1 116.2 1 87.4 1 27.6 1 113.7 1 70 1 129.7 1 188.6 1 35.2 1 197 1 61.1 1 58.5 1 .5 1 1 4 59.9 1 275.1 1 341.4 1 1.3 1 57.7 1 3.1 1 879.6 1 92 1.9 61 4 61.1 1.9 .4 1 33.6 1 140.9 1 62.3 1 16.1 1 97.4 1 9 1 323.8 1 194.1 1 88.9 1 65.3 1 .7 1 60 1 84.6 1 171 1 .1 1 34.9 1 61.9 4 62.1 1 380.6 1 11.6 1 218.1 1 7.1 1 200.5 1 113.7 1 44.1 1 19.3 1 31.2 1 276.7 1 65.6 1 49.6 1.4 1.1 1 41.7 1 16.9 1 25.3 1 7.2 1 127.3 2 8.5 1 50.5 4.9 3.6 1 56.4 1 1.1 1 34.8 1 25.1 1 194.9 1 115.7 1 46.2 1 38.5 1 223 1 109.5 1 180 1 67 1 30.9 1 112.8 1 142.2 1 27.1 1 36.2 1 .1 1 61 3.9 62.1 1 239.9 1 41.5 1 267.7 1 58.8 1 65.1 1 99999"/>
<path d="M119 647.167h552v.3333h-552v.3333h552v.3333h-552v.3333h552v.3333h-552v.3333h552v.3333h-552v.3333h552v.3333h-552v.3333h552v.3333h-552v.3333h552v.3333h-552v.3333h552v.3333h-552v.3333h552v.3333h-552v.3333h552v.3333h-552v.3333h552v.3333h-552v.3333h552v.3333h-552v.3333h552v.3333h-552v.3333h552v.3333h-552v.3333h552v.3333h-552v.3333h552v.3333h-552v.3333h552v.3333h-552v.3333h552v.3333h-552v.3333h552v.3333h-552v.3333h552v.3333h-552v.3333h552v.3333h-552v.3333h552v.3333h-552v.3333h552v.3333h-552v.3333h552v.3333h-552v.3333h552v.3333h-552v.3333h552v.3333h-552v.3333h552v.3333h-552v.3333h552v.3333h-552v.3333h552v.3333h-552v.3333h552v.3333h-552v.3333h552v.3333h-552v.3333h552v.3333h-552v.3333h552v.3333h-552v.3333h552v.3333h-552v.3333h552v.3333h-552v.3333h552v.3333h-552" stroke-dasharray="0 .8 1 153.4 1 229.1 1 85.8 1 198.6 1 154.7 1 60.8 1 .1 4.8 34.3 1 25 1 20.9 1 14.9 1 318.1 1 66.2 1 608.9 1 8.3 1 179.4 1 139.2 1 36.1 1.9 54.8 1 5.2 1 1 2 .3 1 60.8 1 82.3 1 593.7 1 2.3 1 33.9 1 227.7 1 30.7 1 .3 1 56.1 1 1.8 1 104.5 1 180.4 1 46 1 110.6 1 171.7 1 60.7 1 .2 4 62.1 1 36 1 193.8 1 26.4 1 90.8 1 75 1 191.9 1 78.4 1 70.7 1 333.3 1 34 1 221.5 1 37.1 1 45.2 1 14.9 3.9 1.4 1 35 1 207.4 1 35.9 1 60.5 1 41.2 1 16.8 1 89.2 1 119.7 1 40.6 1 .1 1 21.6 1 59.4 1 .6 1 62.4 1 47.4 1 119.3 1 79.2 1 49.2 1 57.4 1 199.5 1 15.7 1 77.4 1 134.8 1 185.3 4 61 2 129.1 1 294.7 1 22.7 1 115.9 1 200.6 1 150.6 1 46.2 1 86.8 1 172.8 1 35.2 1 97.5 1 35.9 2 58.1 1 1.9 4.9 61.1 1 394.1 1 250.7 1 125.5 1 129.8 1 414.3 1 335.6 2.8 59.4 4.8 37.8 1 22.3 2 34.5 1 260.9 1 31.2 1 81.6 1 97.3 1 201.3 1 11.6 1 31.5 1 62.6 1 153.2 1 100.3 1 23.9 1 1.7 2 229.4 1.5 25.4 1 37 1 56 1 2.9 1 .1 4 61 1 449.2 1 124.6 1 37.5 1 205.3 1 183.2 1 32.1 2 260.6 1 26.6 1 98.2 1 20.6 1 190.3 1 16.9 1 59.9 5 59.8 1 1.2 1 35.9 1.7 257.7 1 55.2 1 56.7 1 361.9 1 92.3 1 80.1 1 128.6 1.5 33.8 1 249.7 1 35.9 2 .2 1 59.8 4.9 234.8 1 92.3 1 284.3 1 733.1 1 131.6 1 3.4 1 131.7 1 98.9 2 61 5 60 1 1.2 1 35 1 387.5 1 189.8 1 60.5 1 58 1 10.9 1 293.8 1 295.3 1 21.9 1 36.1 1 62 4 .1 1 60 1 33.8 1 19.1 1 15.5 1 192.9 1 117.1 1 228 1 138.4 1 113.1 1 72.8 1 94.2 1 .5 1 13 1 17.5 1 2.3 1 25.8 1 98.5 1 165 1 33.7 1 257.7 1 61 4 59.7 1 .3 2 22.9 1 11.3 1 285.1 1 132.8 1 152.6 1 15.6 1 40.3 1 306.1 1 34.1 1 31.8 1 124 1 25.7 1 167.6 1 36.1 2 25.7 1 34.3 5 60 2 324.7 1 84.8 1 240.7 1 23.8 1 227.7 1 69 1 57.2 1 252.4 1 366.7 1 .1 1 55.4 1 4.5 4 353 1 2.1 1 .3 1 128.7 1 116.4 1 250.9 1 141.7 1 58.5 1 142.3 1 44.8 1 160.6 1 14.8 1 34.3 1 .6 3 57.7 1 1.3 4 1.3 1 59.8 1 4.1 1 22.4 1 116.3 1 176.9 1 8.9 1 37.3 1 394.8 1 91.2 1 183.6 1 243.5 1 56 1 44.5 1 5.8 1 12.4 1 224.3 1 18.9 1 60.1 1 .9 3 23.3 1 3 1 32.7 2 36.1 1 261.2 1 21.8 1 327.4 1 120 1 107.6 1 4.8 1 29.8 1 159.2 1 24 1 34.4 1 119.4 1 104.3 1 36 2 60.2 5.8 60 2 63.6 1 192.7 1 56 1 3.1 1 804.6 1 370.1 1 99.8 1 57.2 2.9 58.9 1 1.1 4 .2 1 59.8 2 22.2 1 12.8 1 .3 1 160.7 1 31.3 1 63.8 1 64.3 1 70.9 1 185.4 1 29.7 1 51.3 1 2.6 1 16.7 1 31.6 1 49.5 1 95.5 1 123.7 1 138.2 1 27.3 1 202.2 2 58.7 1 .3 5 .1 1 59.9 2 24.5 1 132.5 1 87.6 1 63.4 1 19.2 1 194.9 1 124.1 1 63.1 1 5.3 1 18.4 1 34.6 1 27.9 1 23.2 1 26.8 1 52 1 119.4 1 297.9 1 94.3 1 3.8 1 223.1 2 58.4 1 .6 5.9 60.1 2 36.1 2 619.7 1 36.1 1 6 1 30.6 1 14.1 1 77.4 1 12.6 1 87.8 1 50.7 1 60.8 1 58 1 52 1 93.9 1 111.1 1 36.1 2 23.6 1 35.6 5.8 60.1 1.9 63.4 1 110.9 1 41.1 1 51.8 1 319.6 1 5.5 1 111.8 1 27.4 1 9.7 1 161.3 1 25.3 1 74.1 1 94.5 1 173.9 1 63 1 53.6 1 .3 1 16.4 1 107.7 1 124.7 2 .3 1 58.7 5 61 2 40.8 1 14.6 1 150.7 1 47 1 9.8 1 1.7 1 22.7 1 59 1 1.9 1 160.2 1 107.7 1 .1 1 71.7 1 72.9 1 15.7 1 275.5 1 44.3 1 171.8 1 72.3 1 2.7 1 12.6 1 22.3 2 59.4 1 .6 4 2.4 1 57.7 1.9 160.9 1 83.8 1 63.6 1 80.4 1 72.7 1 184.9 1 123.2 1 99999"/>
<path d="M119 671.167h552v.3333h-552v.3333h552v.3333h-552v.3333h552v.3333h-552v.3333h552v.3333h-552v.3333h552v.3333h-552v.3333h552v.3333h-552v.3333h552v.3333h-552v.3333h552v.3333h-552v.3333h552v.3333h-552v.3333h552v.3333h-552v.3333h552v.3333h-552v.3333h552v.3333h-552v.3333h552v.3333h-552v.3333h552v.3333h-552v.3333h552v.3333h-552v.3333h552v.3333h-552v.3333h552v.3333h-552v.3333h552v.3333h-552v.3333h552v.3333h-552v.3333h552v.3333h-552v.3333h552v.3333h-552v.3333h552v.3333h-552v.3333h552v.3333h-552v.3333h552v.3333h-552v.3333h552v.3333h-552v.3333h552v.3333h-552v.3333h552v.3333h-552v.3333h552v.3333h-552v.3333h552v.3333h-552v.3333h552v.3333h-552v.3333h552v.3333h-552v.3333h552v.3333h-552v.3333h552v.3333h-552v.3333h552v.3333h-552v.3333h552v.3333h-552v.3333h552v.3333h-552" stroke-dasharray="0 140.3 1 119.6 1 52 1 133.4 1 16.7 1 41.6 1 85.4 1 231.3 1 .1 1 .7 1 37.6 1 20.6 4 62 1 2.1 1 77.8 1 143.9 1 65.7 1 131.7 1 84.5 1 80.4 1 28.1 1 26 1 40.5 1 89.9 1 154.5 1 111.3 1 27.2 1 266.4 1 17 1 .6 1 32.8 4.6 57.7 1 1.3 5 60 2 236.1 1 132.3 1 177.1 1 62.8 1 5 1 169.9 1 100.1 1 50.4 1 32.3 1 137.6 1 62 1 48 1 66.5 1 79.9 1 21.8 1 7.2 1 13.4 1 75.5 1 159.1 1 .1 1 57.6 1 .2 1 .1 5 .1 1 7.9 1 23.4 1 24.6 1.8 .2 2 2.1 1 32.9 1 144.6 1 138.5 1 33.3 1 100 1 136.1 1 64.9 1 20 1 18.3 1 58.8 1 213.3 1 67.9 1 97 1 98.4 1 54.2 1 19.4 1 26.7 1 54.6 2 18.7 1 41.3 4 .1 1 1 1 57.9 2 23.8 1 55.1 1 158.2 1 15.2 1 156.9 1 171.2 1 65.8 1 28.5 1 96.3 1 191.8 1 1 1 37.2 1 29.4 1 228 1 53.3 1 328.3 2 .2 1 59.8 4 .1 1 33.7 1 25.2 2 34 1 1 1 12.4 1 30.9 1 34.5 1 53.5 1 33.2 1 78 1 46.6 1 19 1 8.3 1 120.9 1 35.5 1 166.4 1 2.3 1 3.6 1 32.6 1 142 1 101.2 1 68.1 1 .8 1 9.3 1 14.7 1 7.7 1 12 1 11.4 1 230 1 25.2 1 .2 1 34.7 3 23 1 35.2 6.5 59.3 2 77.1 1 45.6 1 62.3 1 42.2 1 27.8 1 15.4 1 17.1 1 34.1 1 76.8 1 320.9 1 14 1 28.5 1 102.7 1 21.8 1 37.4 1.9 288.1 1 1.1 1 47.8 1 86.4 1 41.8 1 7.9 1 5.2 1 230.1 2 60 5 .1 1 4.8 1 5.2 1 21.8 1 21.3 1 1.8 3 8.7 1 21.3 1 1.8 1 1.9 1 24 1 .4 1 243.2 1 86.3 1 32.7 1 20 1 114.7 1 106.3 1 65.2 1 25.4 1 10.4 1 25.3 1 31 1 109.3 1 48.9 1 70.7 1 294.5 1.8 5.9 1 27.6 2.7 3.7 1 26.2 1 28.2 2.9 1 2 60 2 62 1 187.9 1 21 1 30.4 1 17.4 1 34.9 1 189.8 1 23.6 1 49.5 1 22.7 1 68.6 1 7 1 84.1 1 136.1 1 30.1 1 55.8 1 54.9 1 203.9 1 78.2 1 73.8 1 140.3 1 11.3 1 39.7 1 9.1 1.9 59.3 5.7 35 1 23.8 1 .2 2 36 1 15 1 66.8 1 172.4 1 33.8 1 92.1 1 136.6 1 13 1 8.5 1 43.1 1 43.7 1 13.8 1 81.5 1 66.2 1 342.2 1 135.7 1 24.8 1 19.8 1 36 2 .2 1 37.1 1 19.9 1 .8 5.8 60.2 1.7 34.4 1 70.3 1 159.8 1 4.6 1 14.6 1 16.2 1 45.8 1 37 1 24.1 1 200.8 1 2 1 20.3 1 148 1 63.3 1 64.9 1 40.6 1 10.4 1 1.9 1 134.7 1 13.9 1 48.7 1 171.3 1 28.4 1 38.6 1 235.7 2 7.4 1 51.6 5 .7 1 33.1 1 25.2 2 48.6 1 209 1 11.9 1 39.9 1 38.9 1 3.1 1 220.3 1 46.5 1 99.7 1 3.1 1 28.6 1 113.9 1 150.1 1 78.1 1 34.2 1 94.4 1 125.7 1 33.7 1 1.3 2 24.9 1 27.2 1 5.9 6 6.7 1 52.3 2 173.8 1 1.8 1 106.8 1 81.1 1 18.5 1 83.4 1 88.3 1 58 1 21.3 1 59.6 1 8 1 19.7 1 154.7 1 90.4 1 51.5 1 325.5 1 69.7 1 23 1 109.6 1 62.9 1 27.4 1 .1 1 2 1 56.9 5 .8 1 .5 1 31.7 1 24 3 3.1 1 7.3 1 14.4 1 8.2 1 5.8 1 54.9 1 11.4 1 33.9 1 18.4 1 95.8 1 30.3 1 8.5 1 4 1 3.1 1 4.4 1 37.8 1 4.8 1 61 1 8.3 1 25.1 1 23.8 1 122.4 1 60.5 1 276.9 1 40.9 1 .1 1 94.9 1 67.5 1 .4 2 103.6 1 5.4 1 19.4 1 11.1 1 59.4 1 .2 1 .1 1 34.9 2 10 1 14.2 1.6 1.1 1 30.3 5.8 58.9 1 2.1 1 154.3 1 37.1 1 46.3 1 148.4 1 36.3 1 4.8 1 66.2 1 14.9 1 27.4 1 7.6 1 59 1 63.3 1 48.4 1 136.4 1 74.1 1 10.3 1 80.6 1 11.4 1 46.9 1 133.7 1 122.4 1 304.2 2 22.4 1 35.4 1 .2 6 22.3 1 10.6 1 24.2 2.9 .2 1 5.6 1 16.9 1 8.2 1 1.2 1 194.1 1 15.2 1 133.8 1 90.8 1 48 1 184 1 43 1 106 1 21 1 164.3 1 54.2 1 3.9 1 60.1 1 193.6 1.8 12.1 1 22 2 23.9 1 34.1 7 .3 1 1.5 1 49.9 1 5.4 2.7 .1 1 57.7 1 33.4 1 24.7 1 104.2 1 36.2 1 18.7 1 12.1 1 9.5 1 73.4 1 218.4 1 20.5 1 51.7 1 68.1 1 21.3 1 7.3 1 66.4 1 27.5 1 18.1 1 97.5 1 55.2 1 34 1 26.6 1 6.7 1 88.4 1 2.3 1 77.1 1 39.8 1 25.6 1 3.5 1 54.6 1 .7 1 234.4 1 5.5 1 7.5 1 26.5 1 25 5 .1 1 6.9 1 26 1 23.9 1 .1 2 4.2 1 30.8 1 11.7 1 119.7 1 18.8 1 32.8 1 197 1 228 1 13.4 1 53.2 1 276.8 1 38.4 1 18.8 1 68.1 1 40.8 1 43.6 1 149.9 1.8 17.4 1 8.1 1 7.1 2.6 1.1 1 22.9 1 17.8 1 13.4 1 .8 6 2.3 1 31.7 1 4.3 1 12.9 1 4.8 2 2.6 1 203.1 1 13.1 1 1.6 1 80.2 1 .9 1 184.5 1 42.4 1 17.2 2 62.9 1 69.6 1 88.3 1 37.1 1 12.9 1 106.3 1.8 56.4 1 38.9 1 7 1 14.1 1 55.6 1 143.2 1 3.7 1 50.2 1 9.4 1 8.8 1 33.9 1 22.7 1 2 1 9.2 1 .5 1 81.9 1 54 1 3 1 94.7 1 4.5 1 .7 1 .1 2 59 7 13.3 1 19.8 1 9.2 1 12.4 1 .3 3 70 1 35.4 1 92.9 1 51.7 1 153.3 1 16.9 1 3.2 1 125.9 1 57.4 1 25.1 1 23 1 62.3 1 80.9 1 18 1 1.9 1 .6 1 91.8 1 103.8 1 2.4 1 6.2 1 .6 1 21.6 1 65.2 1 2.5 1 3.3 1 92.5 1 33.7 1 40 1 2.4 1 26.4 1 4.3 1 15.8 1 1.1 1 25.7 1 4.1 1 1.2 2.9 1.6 1 14.4 1 1 1 5 1 25.1 1 6.7 1 1.2 5 .1 1 58.3 2.6 1.7 1 3.1 1 53.2 1 95.4 1 86.8 1 50.9 1 41.6 1 105.1 1 109.4 1 71.2 1 17.1 1 5.2 1 121 1 73.4 1 54.6 1 32.3 1 33.5 1 11.5 1 57.7 1 53.4 1 1.9 1 138.4 1 75 1 7.1 1 79.6 1 4 1.9 145.4 1 71.7 1 8.2 1 .4 1 13.4 2.9 34.3 1 18.8 1 5.9 5 .8 1 .5 1 26.4 1 29.3 2 21.4 1 12.7 1.9 4.6 1 20.2 1 64.2 1 41.1 1 13.8 1 13.4 1 35.9 1 52.4 1 61.8 1 1.8 1 32.1 1 11.4 1 15.4 1 33.6 1 136.1 1 22.9 1 27.5 1 23.8 1 3.1 1 66.9 1 48.9 1 48.6 1 112.2 1 17.9 1 10.3 1 8.9 1 44.1 1 10.6 1 4 1 18 1 16 1 18.1 1 10.2 1 12.3 1 94 1 5.7 1 34.9 1 91.4 1 7.3 1 26 1 .6 2.9 25.2 1 33.9 5 .8 1 22.7 1 34.5 2 5.9 1 7 1 29.6 1 8.4 1 24.2 1 163.9 1 23.8 1 8.7 1 16 1 54.9 1 32.8 1 116.9 1 42.1 1 8.1 1 43 1 8.2 1 9 2 8.9 1 50 1 82 1 16.9 1 35 1 10 1 40.7 1 17.9 1 9.9 1 10.7 1 44 1 14.3 1.9 4.2 1 64.7 1 5.7 1 10.7 1 14.5 1 19.9 1 .3 1 8.6 1 5 1 40.3 1 100.9 1 55.8 1 13.2 1 14.6 1 18.3 1 30 1 12.5 1 .2 1 6.2 1 59.8 1 17.7 1 31.9 1 56.7 1 62.6 1 3 2 .2 1 4.1 1 13 1 17.6 1 21.1 6 .2 1 .8 1 .7 1 6.6 1 16.6 1 4.1 1 16.8 1 3.8 1 2.4 3 33.8 1 .3 1 195 1 20.8 1 19.7 1 9.2 1 25.3 1 10.4 1 11.1 1 16.7 1 52.5 1 17.6 1 161.1 1 32.1 1 1.8 1 47.1 1 22 1 2.9 1 11.3 1 93.3 1 120.9 1 8.1 1 69.8 1 11.6 1 13 1 .7 1.5 14.4 1 3 1 21.8 1 .1 1 62.7 1 172.7 1 10.9 1 7.1 1.8 24.9 1 36 2 .1 1 33.2 1 20.5 1 3.2 6 59.2 3.6 .9 1 67.1 1 51.8 1 49.6 1 38.5 1 1.5 1 24.2 1 .4 1 14.6 1 8.9 1 36.2 1 1.2 1 20.8 1 104.6 1 14 1 15.8 1 24.3 1 61.9 1 17.3 1 9.9 1 16 1 2.2 1 3.2 1 41.7 1 113.2 1 4.2 1 8.3 1 43.3 1 99999"/>
<path d="M119 695.167h552v.3333h-552v.3333h552v.3333h-552v.3333h552v.3333h-552v.3333h552v.3333h-552v.3333h552v.3333h-552v.3333h552v.3333h-552v.3333h552v.3333h-552v.3333h552v.3333h-552v.3333h552v.3333h-552v.3333h552v.3333h-552v.3333h552v.3333h-552v.3333h552v.3333h-552v.3333h552v.3333h-552v.3333h552v.3333h-552v.3333h552v.3333h-552v.3333h552v.3333h-552v.3333h552v.3333h-552v.3333h552v.3333h-552v.3333h552v.3333h-552v.3333h552v.3333h-552v.3333h552v.3333h-552v.3333h552v.3333h-552v.3333h552v.3333h-552v.3333h552v.3333h-552v.3333h552v.3333h-552v.3333h552v.3333h-552v.3333h552v.3333h-552v.3333h552v.3333h-552v.3333h552v.3333h-552v.3333h552v.3333h-552v.3333h552v.3333h-552v.3333h552v.3333h-552v.3333h552v.3333h-552v.3333h552v.3333h-552v.3333h552v.3333h-552v.3333h552v.3333h-552" stroke-dasharray="0 4.9 1 73.5 1 3.7 1 8.6 1 32.3 1 11.2 1 .7 1 25.9 1 39.3 1 79.7 1 9.6 1 187.4 1 4.3 1 15.8 1 14 1 13 1 27.7 1 10.9 1 2 2 .7 1 44.1 1 57.3 1 13.7 1 38 1 14.1 1 1.1 1 51.6 1 7.2 1 2.4 1 .4 1 1.2 2.8 43.8 1 1 1 7.5 1 1.2 1 .7 1 1 5 1 1 32 1 25 2.9 3 1 12.9 1 124.4 1 68.1 1 5.7 1 17.4 1 20.2 1 13 1 22.8 1 22.6 1 18.8 1 96.9 1 34.1 1 138.6 1 11.3 1 44.9 1 119.8 1 .5 1 9.1 1 42.5 1 93.4 1 27.4 1 1.7 1 55.4 1 5.3 1 10.1 1 .5 1 9.5 1 75.8 1 31.1 1 11.4 1 41.4 1 139.5 1 .1 1 34 2.9 25 1 31.4 1.6 .1 6.9 .1 1 7.7 1 4.4 1 17 1 24 1 .6 1 1.2 1 59.6 1 34.7 1 8.8 1 138.9 1.9 119.3 1 16.1 1 61.2 1 19.5 1 52.3 1 22 1 .1 1 4.9 1 15 1 39.5 1 2.9 1 33.6 1 32.1 1 3.1 1 60.7 1 59.9 1 62.2 1 41.1 1 22.7 1 91 1 3.6 1 37 1 9.1 1 13.2 1 93.1 1 56 1 2.9 1 6 1 67.8 1 20.8 1 23.4 1 40.2 1 6.9 1 53.1 1 83.8 1 46.3 1 2.9 1 1.1 1 33.7 1 8.1 2.9 2 1 8.4 1 46.6 7 3.5 1 29.5 1 23.3 3.7 27.7 1 6.2 1 .1 1 .3 1 23.9 1 18.5 1 .1 1 2.8 1 1.3 1 104.3 1 26.1 1 12.5 1 55.8 1 86.5 1 23.1 1 25.5 1 13.1 1 6.3 1 5 1 71 1 113.2 1 17.7 1 7.3 1 .3 1 3.1 1 1.7 1 .7 1 26.7 1 31.9 1 212.9 1 10.5 1 2.6 1 6 1 9 1 38.6 1 3.7 1 2.6 1 16.4 1 3.6 1 26.1 1 12.1 1 17 1 17.3 1 1.3 1 3.1 1 80.9 1 29.8 1 14.2 1 53.8 1 38.1 1.7 17.3 1 17.7 2 .1 1 23.9 1 34 6 .1 1 12.6 1 5.6 1 5 1 19 1 8.7 1 1.3 1 .7 2.9 26.4 1 58 1 11.8 1 7.8 1 58.9 1 76.2 1 1.2 1 1.8 1 9.1 1 49.5 1 127.7 1 21.9 1 50.3 1 19.2 1 19.9 1 48.6 1.8 1.2 1 10.2 1 16.6 1 48.5 1 56 1 .1 1 3.7 1 71.2 1 6.8 1 18.5 1 23.8 1 26.5 1 29.7 1 62 1 99.6 1 4.4 1 17.5 1 53.3 1 2.4 1 71.9 1 97.1 1.9 60.2 1 4 1 20.5 1 20.2 1 36.2 1 41.3 1 4.6 1 108.5 1 1.6 3 .1 1.9 4.1 1 28.9 1 20.3 1 .7 8 24.6 1 2.1 1 4.3 1 15.4 1 6.5 1 1.1 2 .7 1 25.6 1 7.7 1 46.2 1 .2 1 92.3 1 29.1 1 22.4 1 7.3 1 11.6 1 37.2 1 24.9 1 6.3 1 20.5 1 8.1 1 8.3 1 2.7 1 1.4 1 29.2 1 34 1 14.9 1 39.9 1 138.3 1 38.7 1 7.2 1 13.8 1 10.4 1 21.7 1 2.3 1.9 37.7 1 7 1 95.4 1 71.8 1 98.3 1 2.6 1 13.2 1 41.3 1 50.4 1 7.4 1 147.1 1 19.1 1 25.9 1 10.3 1.5 24.2 2 .1 1 1.5 1 21.4 1 6.1 1 14.8 1 4.3 1 3.7 1 .1 7.9 .1 1 .3 1 45.9 1 6.1 1 2.7 2 .1 1.8 8.5 1 3.3 1 26.2 1 35.3 1 92.8 1 31.8 1 31.3 1 6 1.8 .9 1 2 1 2.6 1 2.8 1 34.9 1 14.2 1 7.7 1 76.1 1 38.5 1 57.6 1 48 1 38 1 22.7 1 20.5 1 53.9 1 8.7 1 21.3 1 17.7 1 9.1 1 30.9 1 20.2 1 2.2 1 49.3 1 16 1 62.4 1 18.7 1 24.2 1 11.7 1 38.8 1 8.4 1 10.8 1 1.7 1 10.2 1 32.3 1 .6 1 1.2 1 79.8 1 39.1 1 123.9 1 1.3 1 8.3 1 50.9 1 1 1 .1 1 43.9 1 31 1 19.8 1 128.9 1 11 1 1.3 1 1.1 3.9 1.2 1 38.5 1 1.6 1 12.7 1.9 .1 6 .1 1 1 1 2.1 1 14.2 1 6.5 1 5.2 1 23.8 1 .1 2 3.5 1 10.9 1 18.5 1 .1 1 27.1 1 17.3 1.9 20.4 1 5.1 1 103.2 1 33.4 1 24.4 1 17.4 1 25.7 1 1.7 1 23 1 27.6 1 44.3 1 10 1 63.6 1 62.2 1 18.3 1 78 1 1.6 1 3.5 1 4.8 1 2 1 60.3 1 3.2 1 14.8 1 4.1 1 22.5 1 34.3 1 51.4 1 2.2 1 95.2 1 8.3 1 .9 1 41.4 1 18.5 1 .2 1 5.1 1 .1 1 18.8 1 45.5 1 33.6 1 1 1 10.2 1 2.7 1 20.8 1 .2 1 1.3 1 43.3 1 38.7 1 55.9 1 22.1 1 1.9 1 35 3 .1 1 3 1 51.1 1 1.8 7 .1 1 9.2 1 39.7 1 3.1 1 .7 1 .3 3.9 6.2 1 .7 1 71 1 43.9 1 39.4 1 15.8 1 24.6 1 23.1 1 3.9 1 2.3 1 1.4 1.6 17.2 1 42.3 1 3 1 105.8 1 26.9 1 26.1 1 49.5 1 17 1 64 1 1.5 2 .3 1 1 1 10.9 1 8.8 1 42 1 8.8 1 7 1 1.1 1 120.3 1 99.5 1 30.8 1 13 1.6 8.6 1 41.5 1 12.4 1 14.6 1 2.9 1 80.6 1 5.7 1 3.7 1 8.2 1 29.3 1 24.7 1 133.2 1 13.1 1 1.8 1 2 1 9 1 25.8 1 10.6 1 1 1 6.7 1 118 1 18.6 1 9.4 1 80 1 2.5 1 .9 2.9 1.1 1.6 3 1 1.3 1 42.2 1 5.6 1 1.2 6 .1 1 1 1 .9 1 20.3 1 7.7 1 23.9 1 .1 2 1.7 1 33.3 1 5.6 1 30.7 1 24 1 30.4 1 15.7 1 19.2 1 25.1 1 2.9 1 .3 1 31.4 1 84.3 1 2.9 1 19.9 1 6.9 1 12.1 1 3.3 1 20.4 1 29.2 1 14.4 1 15.8 1 11 1 49 1 120.6 1 27.9 1 59.6 1 14.1 1 3.2 1 22.4 1 16 1 5.7 1 17.5 1 67.8 1 12.8 1 72.3 1 11.3 1 1.1 1 69 1 7 1 1.6 1 .6 1 7.9 1 59.1 1 20 1 58.1 1 14.4 1 43.2 1 44.3 1 20 1 21 1 3 1 1.4 1 15.2 1 9.4 1 7 2 .1 1 24 1 30.8 1 .3 1 .8 6 .1 1 .1 1 .7 1 2 1 4.2 1 13.8 1 25.4 1 6.7 2 .9 1 1.4 1 .1 1 93.5 1 1.6 1 39.8 1 1.1 1 59.3 1 32.6 1 3.6 2 .2 1 19.6 1 5.9 1 7.5 1 10.6 1.6 7.5 1 5.7 1 146.1 1 64.9 1 21.3 1 12.9 1 12.8 1 50.7 1 5.4 1 18 1 11.7 1 30.6 1 14 1 1.2 1 32.3 1 92.6 1 11.4 1 30.9 1 30.3 1 17.9 1 4.1 1 35.2 1 26.5 1 43.2 1 1 1 1.5 1 .1 1 3 1.5 35.3 1 4.2 1.7 1.7 1 6.2 1 126 1 64.9 1 2.2 1 34.6 1 1.3 1.9 15.1 1 17.4 1 8.9 1 21.2 2.8 2.3 1 7.8 1 7.5 1 13.6 1 207 3.8 1 1 38.7 2 8.1 1 7.3 7.9 .1 1 24 1 7 1 5 1 17.9 3 7.4 1 26.9 1.7 4.2 1 3.3 1 15.6 1 .1 1 6.8 1 11 1 34.4 1 19 1 51.1 1 2 1 46.9 1 2.1 1 20.5 1 .3 1 22.9 1 6 1 41.9 1 4.4 1 40 1 23 1 5.6 1 11.9 1 .3 1 39 1 33.4 1 149.5 1 13.1 1 2.4 1 2.3 1 44.9 1 8.2 1.6 .2 1 .4 1 39 1 28.8 1 13.3 1 74.3 1 10.7 1 22 1 36.6 1 10.4 1 14.7 1 .6 1 8.6 1 27.3 1 8.1 1.8 3.6 1 2.8 1 14.1 1 4.5 1 26.4 1 18.9 1 45.9 1 7.1 1 8.6 1 18.1 1 94.7 1 1.5 1 6.6 1 29.5 1 4.5 1 12.7 1 1.1 1 .1 1 20.7 1 11.4 3.7 .1 1 24 1 33 7.9 45.7 1 3.6 1 4.9 1 1 2.8 .1 1.9 16.2 1 85 1 108 1 17.4 1 9.2 1 2.2 1 .2 1 1.5 1 55.7 1 15.1 1 119.2 1 8.4 1 89.3 1.6 3.2 2 50.5 1 7.1 1 .4 1 79.3 1 39.5 1 12.5 1 33 1 24.5 1 3 1 60.1 1 34.6 1 11 1 .1 1 3.1 1 32.9 1 92.8 1 52.2 1 8.6 1 36 1 37.3 1 145 1 7.3 1 6.7 1 3.8 1 49.2 1 4.2 1 .2 1 2.7 1 1.1 1 2.1 1 43 1 1.7 1 23.5 1 3 1 87.3 1 15.8 1 1.3 1 49.5 1 1.9 3.9 49.7 1 4.5 1 2.9 6 .1 1.9 .8 1 29.3 2.6 3.9 1 19.4 2.9 31.5 1 1.8 1.8 25.1 1 4.6 1 14.3 1 9.4 1 159.5 1 29.8 1 .8 1 3.3 1 56.3 1 15.5 1 3.7 1 9.8 1 34.6 1 12.9 1 1.4 1 99.6 1 59.9 1 16.5 1 70.5 1 40.3 1.9 11.8 1 7.1 1 115.3 1 70.6 1 25.2 1 2 1 14.1 1 33.6 1 1.5 1 6.7 1.9 1.1 1 3.9 1 13.3 1 1.7 1 2.6 1 1.2 1 5.5 1 15.1 1.9 48.9 1 5.1 1 .9 1 21.1 1 48.9 1 42.2 1 4.1 1 10.3 1 5.7 1 15.3 1 12.5 1 11.1 1 20.3 1 24.8 1 .1 1 34.9 2.9 8.5 1 4.2 1 12.2 1 22.9 1 .2 1 4.2 8.9 .1 1 51 1 4.8 1 1.1 1 2 1 45.4 1 27.9 1 26.7 1 9.3 1 102.7 1 14.4 1 4.4 1 44.8 1 18.7 1 4.9 1 6 1 48.3 1 71.9 1 50 1 3 1 108.9 1 3.2 1 12.1 1 6.5 1 5.2 1 43.1 1 15.3 1 11.5 1 7.4 1 3 1 34.2 1 33.6 1 15.7 1 18.6 1 27.9 1 6.7 1 90.6 1 10.8 1 41.1 1 16.6 1 .9 1 2.7 1 1.7 1 14.4 1 42.7 1 3.8 1 6.9 1 29.4 1 47.8 1 23.2 1 9.5 1 60.7 1 17.3 1 26 1 2.1 1 8.8 1 1.8 1 3.5 1 3.2 1 6.9 1 14.8 1 29.6 1 1 1 1.1 1 .8 1 .2 1 2.4 1 9.5 1 8 1 43.9 1 8.7 1 103 1 28.1 1 24 1 2.1 2 .1 2 .2 1 .1 1 7.9 1 44.6 1 .2 1 .1 7.9 14 1 18.3 1 24.8 2.9 30.6 1 1.4 1 .9 1 .1 1 9.2 1 15.9 1 11 1 38 1 26.8 1 10.3 1 1.3 1 3.6 1 6.1 1 26.2 1 10.8 1 3 1 20.2 1 20 1 60.3 1.7 26.8 1 1.3 1 36.7 1 1.3 1 153.7 1 42.2 1 69.3 1 5.9 1 1.6 1 21.8 1 36.3 1 .6 1 .7 1 30.4 1 19.1 1 16.4 1 11.1 1 6.4 1 40.4 1 109.4 1 .8 1 4.1 1 2.9 1 .3 1 3.7 1 4.2 1 87 1 21.6 1 9.9 1 11.6 1 12.7 1 9.4 1 33.7 1 35.8 1 34.1 1 9.6 1 6.8 1 51.7 1 14.7 1 21.6 1 8.2 1 22 1 2.9 2.9 .6 1 2.7 1 12.4 1 6.3 1 4.9 1 11.1 1 7 1 2.1 1 2.1 1 .8 7 .1 1 .9 1 38.5 1 6.7 2 2.9 1 .3 1 4.6 1 1.9 1 105.8 1 133.3 1 1.1 1.9 34.6 1 1.5 1 7.1 1 26.3 1 .1 1 26.6 1 22.1 1 7.1 1 81.4 1 103.7 1 23.3 1 1.4 1 12.3 1 15.1 1 .8 1 1.6 1 3.6 1 1.1 1 22.5 1 11.2 1 13.2 1 8.3 1 18.1 1 4.3 1 16.7 1 4.1 1 8.6 1 22.5 1 17.3 1 7.7 1 2.3 1 .1 1 8.9 1 18.6 1 8.7 1 17.3 1 3.2 1 .3 1 8.3 1 89.8 1 4.3 1 37.6 1 11.4 1 4 1 1.8 1 26.8 1 23.8 1 22.1 1 14.2 1 12.3 1 74.8 1 9.7 1 25.9 1 5.4 1 1.1 1 36.1 1 5.6 1 5.2 1 33.2 1 2.8 1 42.1 1 14 1 3.2 2.9 1.3 1 1.9 1 76.9 1 87.8 1 3 1 24.4 1 37 1 2.6 1 .2 2.9 .1 1.8 3 1 13.3 1 14.2 1 5.3 1 2.4 1 6.6 1 1.2 3 .1 1 .2 1 .8 6 .1 2.7 10.5 1 3.3 1 11.8 1.9 1.8 1 24.9 2 36 1 3.4 1 11 1 .9 1 6.8 1.7 3.9 1 11.3 1 2.2 1 8.7 1 6.2 1 6.9 1 14.3 1.9 22.4 1 64.1 1 24.1 1 19.7 1 3.5 1 29.5 1 1.9 1 6 1 15 1 3.3 1 25.9 1 17 1 59.1 1 .3 1 19.1 1 60.3 1 22 1 27.9 1 39.1 1 54.3 1 7.8 1 14.7 1 41.2 1 4.3 1 4.8 2 .6 1 6.9 1 5 1 22.1 1 34.2 1 5 1 5.4 1 2.2 1 11.4 1 110.4 1 10.2 1 5 1 8.9 1 6.1 1 6.5 1 21.9 1 13.1 1 .3 1 21.4 1 27.5 1 7.7 1 3.1 1 20.1 1 37.3 1 26.1 1 1.6 1 20.6 1 3.2 1 5.6 1 12 1 11.8 1 25.7 1 8.9 1 6 1 10.3 1 13 1 1.2 1 13.3 1 7 1.8 2 1 36.7 1 21.4 2 25 1 16.8 1 8.5 1 3.7 1 1 8 .2 1 2 1 7 1 25 1 15.7 1 1.1 1 2 2 .1 1.8 2 1 40.1 1 52.6 1 51.3 1 5.8 1 65.4 1 .3 1 17.7 1.9 4.8 1 39.8 1 1.8 1 12.7 1 20.7 1 44 1 29.4 1 7.3 1 87.5 1 9.5 1 25.7 1 1.9 1 3.1 1 5.1 1 5.3 1 42.8 1 .3 1 17.7 1 4.3 1 1.5 1 5.1 1 13.9 1 22.4 1 11.7 1 29.6 1 2.5 1 73.9 1 21.4 1 1.4 1 30.5 1 6 1 .4 1 26 1 12.3 1 .1 1 17.7 1 21.5 1 11.9 1 13.2 1 44.8 1 5 1 11.2 1 12.1 1 28 1 10.8 1 11.1 1 3.1 1 5.9 1 9.2 1 48.1 1 2.8 1 18.9 1 24.1 1 2.1 1 5.1 1 41.8 1 7.7 1 7.9 1 5.6 1 30.1 1 8.3 1 5.5 1 58.8 1 1 1 .3 1 1.1 1 3.8 1 62 1.8 41.3 1 21.6 1 96.3 1 5.1 1 6.3 1.8 .9 2 2.3 1 .5 1 5.9 1 3.4 1 10.6 1 16.7 1 10.6 1 3 6 3 1 9.6 1 18.6 1 9.5 1 7.1 1 4.4 1 .9 2.9 22.2 1 6.1 1 4.7 2 1.1 1 4.7 1 2.7 1 13.4 1 .2 1 55 1 40.1 1 13.9 1 13.9 2 3.6 1 14.9 1 3 1.8 2.1 1 .1 1 17.5 1 14.1 1 5.1 1 21.2 1 6 1 6.7 1 52.5 1 3.7 1 57.8 1 13.1 1 15.4 1 14.5 1 42.2 1 138 1 34.7 1 1 1 16.5 1.9 24.5 1 8.6 1 2.4 1 33.1 1 32.7 1 5 1 2.4 1 3.2 1 60.5 1 3.8 1 5.3 1 64.2 1 3 1 7.4 1 7.3 1 42.5 1 14.4 1 9.8 1 5 1 1.4 1 44.5 1 3.1 1 1.6 1 31.5 1 30.9 1 10.2 1 6 1 7.3 1 14.6 1 12.4 1 12 1.3 22.7 1 7 1 3.8 1 38.2 1 11.6 1 5.5 2 14.8 1 5.8 1 2.3 1 18.3 1 3.4 1 10.7 1 .6 3 44.7 1 10.3 2 1 6 3 1 1.2 1 50.9 1 1.9 2 15.7 1 .4 1 1.6 1 23.2 1 12.8 1 16.6 1 25.7 1 40.2 1 76.2 1 16.8 1 4.8 2 .1 1 2.4 1 1.5 1.8 22.6 1 24.2 2 13 1 118.5 1 80.4 1 21.8 1 3.8 1 .4 1 5.8 1 2.3 1 22.2 1 19.6 1 8 1 74.2 1 35.7 1 .3 1 5.7 1 20.3 1 .7 1 1.5 1 16.1 1 1.2 1 7.5 1 3 1 25.6 1 37.3 1 2.2 1 .3 1 2.6 1 9 1 17.1 1 11.6 1 5.5 2 21.1 1 .8 1 2.4 1 2.6 1 .3 1 3.5 1 6 1 2.9 1 2.5 1.6 .5 1 15.3 1 45.6 1 20.9 1 22.3 1 21.4 1 13.3 1 .7 1 5.6 1 62.9 1 18 1 13.6 1 56.9 1 30.2 1 35.9 1 2.4 1 3.4 1 2.2 1 .1 1 9.4 1 31.8 1 8 1 5.1 1 2 1 2 1 1.7 1 4 1 16.2 1 1.7 1 94.4 1 10.9 1.9 21.2 1 18 1 42.7 1 11.2 1 4 1 1.2 2.9 .1 1 1.8 1 1 1 5.3 1 5.1 1 11.3 1 19.9 1 7.5 7 .1 2 .7 1 6.4 1 .1 1 21 1 .7 1 4.9 1 4.4 1.6 11 1 .1 2 4.4 1 3.8 1 25.8 1.9 19.6 1 3.6 1.8 1.2 1 5.8 1 5.6 1 3.7 1 21.8 1 19.5 1 57.7 1 6 1 6 1 6.4 1 4.4 1 1 1 28.2 1 18.5 1 9.7 1 8 1 8.4 1 .4 1 8.9 1.9 .7 1 26.9 1 18.7 1 14.5 1 .3 1 18.1 1 .3 1 20.5 1 23.1 1 21 1 4 1 6 1 9.9 1 31.7 1 3.4 1 63.9 1 16.6 1 3.4 1 2.8 1 3.4 1 39.6 1 3.6 1 7.2 1 17.2 1 14.1 1 15.2 1 5.2 1 2.6 1 .8 1 1 1 25.7 1 20 1 101 1 87.9 1 1.6 1.7 4.1 1 5.4 1 14 1 6.9 1 2.3 1 10.3 1 7.9 1 14.2 1 4.4 1 1.6 1 8.9 1 12.1 1 3.9 1 69.9 1 24.3 1 13 1 17.5 1 35.7 1 2.8 1 21.2 1 4.6 1 6.7 1.8 16.2 1.3 4.7 1.5 4.1 1 19.3 1 .7 1 2.4 1 20.7 1 .2 1 33.2 3.6 .7 1 8.4 1 14 1 7.6 1 .5 1 17.9 1.8 .4 1 1.7 8 .1 1.9 2 1 1.4 1 8.7 1 36.6 1 .1 1 .3 1 1.9 2 21.9 1 3.3 1 2.6 1 19.2 1 11 1 21.9 1 19.1 1 65.4 1 27.5 1 6.9 1 24.3 1 1.9 1 4.9 1 2.2 1 31.2 1 33.5 1 8.4 1 41.9 1 52 1 113.6 1 16.6 1 10.6 1 45.7 1 10.7 1 6.2 1 5.6 1 2 1 6.9 1 4.5 1 25.1 1 12.6 1 3.6 1 12.3 1 9.1 1 21.2 1 2 1 3.2 1 1.6 1 2.9 1 6.2 1 3.8 1 1.5 1 4.1 1 4.1 1 12.5 1 37.7 1 22.4 1 12 1 16.7 1.7 1.8 1 .4 1.8 2.3 1 3.8 1 .8 1 20 1 28.6 1 4 1 1.6 1 19.1 1 3.3 1 3.1 1 21.6 1.9 17.2 1 1.3 1 1.2 1 18.4 1 7 1 15.5 1 15.4 1 1.9 1 2.8 1 10.3 1 4.9 1 24.2 1 4.1 1 1.5 1 .8 1 19.5 1 26.4 1 46.8 1 19.7 1 5.9 1 .1 1 87.3 1 41.9 5 12.7 1 66.3 1 39.7 1 7.4 1 3.5 1 41.2 1 19.5 1 40.4 1 1.5 4.8 .1 1.8 1.4 1 34.8 1 6.6 1 11.3 9 23.5 1 7.5 1 18.7 2 3.3 3 .2 2.5 32.5 1.8 16.8 1 7.1 1 8.3 1 25.6 1 3.4 1 7.7 1 1.5 1 15 1 1.3 1 4.2 1 1.4 1 2.7 1 15.6 1 7.8 1.8 2.1 1 48.4 1 5.1 1 4.8 1 20 1 3.5 1 .3 1 .2 1 36.9 1 7 1 .2 1 5.3 1 4.6 1 14.7 1 3 1 7 1 3.9 1 10 1 .2 1 1.6 1 1.6 1 11.8 1 50.2 1.9 102.3 1 4.1 1 39.4 1 61.1 1 11.8 1 1.9 1 25.7 1 21.1 1 17.9 1 27.9 1 29 1 2.8 1 70.9 1 58.7 1 12.6 1 16.6 1 4.7 1 4.8 1 2.2 2 4.6 1 3 1 1.4 1 43.5 1 .2 1 14.1 1 8.3 1 44.6 1 6.9 1 10.3 1 17.9 1.7 11.4 1 .1 1 3.1 1 9.3 1 7 1 3.7 1 .4 1 19.2 1 11.4 1 20.2 1 62.4 1 .5 1 .5 1 14.4 1 1.5 1 2.6 1 12.8 1.9 12.5 1 11.6 1.9 3.8 1 6.2 1 2 1 19.2 3.8 12.2 1 10.9 1.9 7 1 .2 1 1.1 1 6.7 1 6.4 1.5 6.2 7 .9 1 2.5 1 33.9 1 4.9 1 10.8 1 1 2 .1 1 .1 1.7 35.1 1 7.7 1 37.2 1 68.8 1 8.7 1 27.7 1 44.3 1 3.7 1 .9 1 9 1 2.6 1 18.8 1 6 1 12.7 1 84.5 1 24.5 1 56.1 1 44.6 1 30.2 1 9.3 1 10.6 1 25.4 1.8 54.6 1 21.7 1 12 1 16 1 12.2 1 3.1 1 .5 1 14 1 3.4 1 28 1 .6 1 19.7 1 3.1 1 9.4 1 1.4 1 99999"/>
<path d="M119 719.167h552v.3333h-552v.3333h552v.3333h-552v.3333h552v.3333h-552v.3333h552v.3333h-552v.3333h552v.3333h-552v.3333h552v.3333h-552v.3333h552v.3333h-552v.3333h552v.3333h-552v.3333h552v.3333h-552v.3333h552v.3333h-552v.3333h552v.3333h-552v.3333h552v.3333h-552v.3333h552v.3333h-552v.3333h552v.3333h-552v.3333h552v.3333h-552v.3333h552v.3333h-552v.3333h552v.3333h-552v.3333h552v.3333h-552v.3333h552v.3333h-552v.3333h552v.3333h-552v.3333h552v.3333h-552v.3333h552v.3333h-552v.3333h552v.3333h-552v.3333h552v.3333h-552v.3333h552v.3333h-552v.3333h552v.3333h-552v.3333h552v.3333h-552v.3333h552v.3333h-552v.3333h552v.3333h-552v.3333h552v.3333h-552v.3333h552v.3333h-552v.3333h552v.3333h-552v.3333h552v.3333h-552v.3333h552v.3333h-552v.3333h552v.3333h-552v.3333h552v.3333h-552" stroke-dasharray="0 2.3 1 13.7 1.9 4.7 1 24.6 1 26 1 .6 1 13.3 2.6 31.9 1 18.4 1 2 1.7 8.1 1 4 1 3.5 1 81.3 1 12.8 1 3.3 1 15 1 50.6 1 24 1 68.4 1 11.3 1 35.1 1 47.7 1 47.7 1 .8 1 1.1 2.9 .1 1.9 3.8 1 7.5 1 21.4 1 18.4 1 25.2 1 7.5 1 .7 1 17.5 1 37.6 1 37 1 47.6 1 1.5 1 3.3 3 4.3 1 38.6 1 4.9 1 9.2 7.9 .3 1 1.9 1 27.9 1 17.8 1 6.2 2 6 1 3.7 1 2.2 1 5.3 1 14.8 1 .1 1 18.9 1 9.2 1 7.2 1 4.4 1 18.5 1 56.4 1 3.6 1 35.1 1 7.9 1 3.1 1 8.8 1 31.8 1 20.4 1.7 7.8 1 3.8 1 57.1 1 2.8 1 12.9 1 .1 1 2.1 2 16.9 1 26.2 1 4.5 1 15.2 1 4.4 1 7.8 1 .5 1 9.2 1 8.5 1 158.8 1 13.1 1 9.2 1 15.3 1 30.1 1 10.6 1 7.3 1 14.6 1 1.8 1 6.9 1 6.5 1 173.2 1 1.2 1 4.2 1 22.3 1 24 1 7.3 1 9.3 1 36.1 1 1 1 1.1 1 16.3 1 4.4 1 7.2 1 2.9 1 7.9 1 2.4 1 5 1 14.4 1 18.6 1 16.4 1 1.8 1 1.9 1 7.5 1 20.3 1 7.3 1 9.9 1 .4 1 6.5 1 9.1 1 19.1 1 .9 1 7.4 1 9.4 1 13.9 1 20.1 1 15.2 1 6.3 1 .5 1 8.4 1 3.7 1 18.1 1 .2 1 5.1 1 6.2 1 18.3 1 .2 1 .1 3.9 13.9 1 1.5 1 1.4 1 4.2 1 4.2 1 4 1 2.7 1 5 1 3.5 1 .3 1 3.6 1 .9 1 .8 7 .1 1 13.5 1 4.2 1 3.3 1 4.6 1 4.7 1 20.8 1 .8 3 2 1 .9 1 2.4 1 8.6 1 27.9 1 69.3 1 .3 1 60.9 1 43.4 1 4.8 1 2.4 1 4.8 1 1.1 1 1.3 3.9 .3 1.5 1.1 1 2.1 1 3.4 1 51 1 2 1 13.6 1 65.2 1 52.4 1 27.7 1 2 1 65.1 1 46.9 1 7.2 1 2.3 1.3 20.4 1 40.2 1 40.5 1 13.3 1 9 1 25.5 1 10.6 1 4.3 1 13.6 1 .1 1 12.4 1 5.4 1 1 1 37.7 1 11.5 1 2.1 1 6.6 1 2.6 1 1.6 1 .3 1.6 4.4 1 7.8 1 14.3 1.4 3.3 1 7.5 1 14.7 1.7 3.2 1.8 1 1 2.5 1 .7 1 41.8 1 13.8 1 6 1 4 1 5.4 1 3.1 1 10 1 .6 1 27.5 1 13.8 1 4.9 1 2.2 1 7.6 1 3.1 1 4.8 1 28 1 2.2 1 29.2 1 52.9 1.7 7.6 1 3.4 1 41.3 1 52.2 1 16.2 1 35 1 4.1 1 .9 1 4.1 1 15.3 1 43 1 13.5 1 12.9 1 3.3 1 1.7 1 8.5 1 17.9 1 33.5 1 3 1 15.1 1 20.5 1 43.8 3.9 10.7 1 10.6 1 26.7 1 2.7 1 1.5 8.8 .1 1 2.1 1 3 1 4.2 1 4.5 1 1.2 1 8.2 1 2.6 1 .2 1 9.9 1 8.3 1 3.7 3 1 1 .6 1 2.5 1 10.1 1 4.9 1 4.3 1 5.7 1.9 6.3 1 2.1 1 1.3 1 12.3 1 11.2 1 7.8 1 12.8 1 6.2 1 3.4 1 43.1 1 2 1 18.9 1 10.1 1 5.6 1 .7 1 8.3 1 .1 1 10.3 1 25.3 1 8.8 1 2.9 1 10.5 1 29.3 1 8.7 1 33.4 1 6.1 1 20.6 1 1.5 1 15.3 1 39.5 2 28 1 2.6 1 12.7 1 105.7 1 38.1 1 3.6 1 8.9 1 8.1 1 17.5 1 .9 1.9 3.3 1 51 1 .7 1 2.2 1 2.1 1 5.6 1 33.8 1 7.5 1 17.8 1 3.4 1 .1 1 5 1 2.4 1 7.8 1 31.9 1 20.8 1 15.2 1 5.1 1 8.5 1 5.5 1 5.7 1 7.1 1 2.6 1 21.2 1 27.6 1 66.5 1 2.5 1 4.5 1 4.3 1 9.8 1 2.9 1 10.6 1 1 1 9.4 1 10.5 1 4.8 1 15.9 1 7.7 1 6.4 1.6 7.1 1 21.9 1 1.7 1 9.1 1 5 1 .2 1 .8 1 1.6 2.2 1.2 1 10 1 16.6 1 5.9 1 1.3 1 3 1.8 2.6 1 5.9 1 4.5 1 5.3 1 8.4 1 9.2 1 1.8 1 .1 1 8.2 1 .8 1 22.9 1 20.2 1 .2 1 18 1 .6 1 12.1 1 .3 2.8 10.8 1 13.2 1 10.7 1 8.8 1 .5 1 3.3 1.6 2.2 2.8 .2 8.9 1.2 1 50.9 1 1.1 1.8 .2 2.8 .1 2.9 8 1 120 1 31.1 1 64.5 1 5.7 1 .8 1.8 2 2 1.1 1 44.8 1 4.5 1 105.7 1 8.1 1 3.7 1 19.5 1 28.5 1 42.3 1 29.1 1 .4 1 2.1 1 14.1 1 33.8 1 3.7 1 5.1 1 22.3 1 3.7 1 6.7 1 11.1 1 2.8 1 24.7 1 29.7 1 5.4 1 9.6 1.6 3.5 1 8 1 21.5 1 1.2 1.8 30.4 1 5.8 1 22.3 1 5.3 1 2 1 2.2 1.7 11 1 4.8 1 4.5 1 .4 1 21.1 1 12.1 1 3.3 1 2.5 1 17.6 1 8.1 1 27.6 1 .4 1 6.8 1.6 1.8 1 4.8 1 1.6 1 9.8 1 7.3 1 12.9 1 5 2 .3 1 .5 1 17.5 1 11.8 1 .1 1 29.6 1 10 1 40.4 1.7 5.4 1 28.5 1 14.9 1 30.4 1 22.8 1 16.3 1 19.6 1 20.5 1 18.3 1 5.8 1 1.6 1 9.6 1 6.2 1 13.2 1 8.3 1 12.9 1 7.1 3 .1 1 .1 1 .1 1.7 8.9 1 21.3 1 44.4 1 59.2 1 39.2 1 30.2 1 22.7 1 6 1 .1 4.9 .2 1 1.1 1 18.8 1 7.7 1 .7 1 5.9 1 1.1 1 5.5 1 1.2 1.8 1 1 .1 1 1.1 1 .9 6 1.2 1.7 7 1 4.9 1 .3 1 3.3 1.9 10.8 1 2.2 1 21.7 2 .2 1.8 1.4 1 7.6 1 5 1 8.2 1 7.8 1.8 6.6 1 6.6 1 6.8 1 1.2 3 1.1 1 4.9 1 1.1 1 9.3 1 1.7 1 11.9 1 7.5 1.5 5.3 1 5.5 1 3 1 13.8 1 8 1 7.7 1.7 15.5 1 13.7 1 1.3 1 7.2 1 8.5 1 5.8 1 7.3 1 8.8 1 .3 1 9.9 1 3 1.8 5.4 1 1.1 1 2.6 1 10.9 1 2.2 1 2.8 1 33.6 1 1 1 1.6 1 14.2 1 8.3 1.8 13.8 1 36.8 1 3.5 1 5.5 1 4.6 1 41.8 1 4.9 1 74.6 1 85.9 1 43.5 1 4.1 1 .1 1 41.9 1 6.1 1 3.9 1 23 1 28.5 1 29.6 1 6.8 1 5.8 1 4.1 1 113.7 1 5.4 1 10.3 1 17.9 1 11.4 1 16.6 1 9.7 1 .5 1 15.9 1.7 2.3 1 6.6 1 3.2 1 8.9 1 .5 1 8.1 1 5.6 1.6 6.1 1 6.5 2 8.7 1 3.7 1 3.3 1 4.4 1 28.4 1 4 1 1.4 1 14 1 6.1 1 13.9 1 .1 1 .6 1 7 1 4.5 1 11.5 1 3.9 1 1.5 1.6 1.9 1 3.4 1 6.4 1 2.6 1 7.2 1 16.6 1 4.2 1 .9 1 6.3 1 2.1 1 .6 1 .3 1 .7 1 2.6 1.6 5 1 8.1 1 1.4 1 5.7 1 8.3 1 7.8 1 4.7 1 1.1 1 .1 1 10 1 2.9 1 .2 1 4.5 1 6.4 1 .7 1 4.2 3 .2 1.9 .5 1 7.4 1 6.2 1 3.9 2 .1 1 11.9 1 7.7 1 3.3 1 5.9 8.9 2.4 1 35.7 1 10.3 1 1.4 1 3.3 3 2.2 1 33.3 1 33.1 1 6.2 1 1.6 1 31.2 1 9.3 1 3.4 1 46.9 1 12.8 1 1.9 1 10.5 1 7.9 1 28 1 .7 1 .1 1 1 1 60.5 1 3.5 1 84.3 1.7 1.3 1 1.4 1.9 60.9 1 37.8 1 3.1 1 11 1 6.8 1 12.2 1 2.2 1 .9 1 5.8 1 3.4 1.5 19.7 1 12 1 11.5 1 3.7 1 12.4 1 17.6 1 62.8 1 2.5 2 1.3 1 12.9 1 8.5 1 19 1.7 2.4 1 3.2 1 3.6 1 1.9 1 4 1 2 1 8.4 1 11.8 1 1.1 1 21.5 1 1.2 1 11.1 1 4.2 1 16.1 1 3 1 8.3 1 1.2 1 4.6 1 8.8 1 3 1 9.8 1 4.2 1 2.3 1 5.4 1 31.8 1 .1 1 4.6 1 7.2 1 .7 1 3.3 1 .1 1.9 19.7 1 2.2 1 1.7 1 4.7 1 5.5 1 .5 1 .1 1 4 1 .7 1.7 17.1 1 26.5 1 1.9 1 7.9 1 12.1 1 10.9 1 33.2 1 2.8 1 6.7 1 4.7 1 28.6 1 27.1 1 1.9 1 66 1 15 1 29.2 1 2.9 1 15.8 1 7.9 1 21.7 1 17.7 1.7 .3 1.9 .1 1 .8 1 26.5 1 .7 1 47.8 2 12.2 1 3.3 1 10.2 1 14.2 1 2 1 21.7 1 52.7 1 .6 1 18.5 1 9 1 4.5 1 1.4 1 .8 4.8 2.3 1 21.6 1 14.4 1 1.8 1 1.7 1 9.5 6.9 1.1 1 5 1 1.7 1 2.8 1 11 1 .2 1 .6 1 1.4 1 2.2 1.9 7.1 1 6.7 1 2.7 1 .6 1 3 2 .1 1 4.8 1 12.6 1 10.8 1 2.1 1 .6 1.9 .3 1 2.9 2 1 1 1.8 1 6.8 1 1.2 1 3.2 1 2.1 1 4.7 1 7.4 1 5.7 1 6.7 1 .7 1 11.7 1 6.8 1 .8 1 .3 1 21.2 1 2.6 1 11.6 1.9 8.2 1 10.9 1 .2 1 23.2 1.8 2.5 1 20.3 1 .7 1 8 1 4 1 6.7 1 11.5 1 4.9 1 27.5 1 1.9 1 .3 1 .1 1 .5 1 5.9 1 3 1 24.3 1 4.6 1 3 1 15.3 1 .3 1 1.5 1 2.7 1 3.4 1 4.1 1 30.8 1 21 1 9.7 1 2.9 1 1.2 1 2.1 1 4.1 1 3 2 7.2 1 48.4 1 8.4 1 18.3 1 2 1 6.8 1 .9 1 34.3 1 1.5 1 5.3 1 41.1 1 4.9 1 .7 1 13 1 .4 1 4.1 1 13.2 1 14.4 1 8.7 1 10.3 1 4.5 1 10.3 1 67.5 1 7.7 1 53.3 1 29.7 1 11.7 1 .5 1 33.2 1 2.8 1 43.6 1 9.3 1 1.2 1 1.7 1 17.3 1 2.9 1 2.1 1 10.1 1 10.8 1 19.1 1.7 1 1 11.6 1 4.5 1 .7 1 11.9 1 8.1 1 6.8 1 2.5 1 15.2 1 3.2 1 .7 1 1.9 1 3.3 1 1.1 1 2.1 1 9.8 1 7.1 1.8 3.1 1 4.6 1 5.6 1 1.8 1 16 1 6.4 1 .8 1.6 .2 1 6.1 1 1.5 1 2.7 1 4.2 1.5 10.1 1.9 2.3 1 2 1 .9 1 1.3 1 10.5 1 1.2 1 2 1 .1 1 .1 1 2.8 1 4.5 1 3.7 1 1.2 1 7.7 1 2.2 1 11.9 1 5.3 1 2.6 2 7.2 1.8 5.9 1 4 1 10.1 2 .1 1.8 .1 3 1.1 1 9.2 1 .6 1 .7 1 2.7 1 4.8 2 25.7 1 2 1 .2 1 1 7 .1 2 1.1 1 4.2 1 22.9 1 .8 1 9.1 1 7.9 1 1.2 1 3.7 2 4.2 1.9 10 1 16.5 1 71.1 1 19.6 1 3.1 1 18.7 1 2.4 1 18.6 1 8.1 1 .7 1 42.9 1 1.9 1 1.4 1 9 4.7 .3 1 44.7 1 4.1 1 46.7 1 2.2 1 50.8 1 95.4 1 7.6 1 23.7 1 5.7 1 .2 1.8 1.2 1 5.4 1 19.4 1 17.7 1 4 1 10.8 1 22.7 1 5.6 1 6.5 1 23.9 1 8.1 1 20.9 1 2.8 1 2.3 1 6.3 1 4.8 1.7 1.9 1 6.2 1 7.2 1 .2 1 4.9 1 18.6 1 11.4 1 3.1 1.5 10.1 1 12 1 10.2 1 18.6 1 1.8 1 6.2 1 1.8 1 3 1 2.6 1 19 1 6.4 1 1.7 1 11.6 1 2.7 1 .2 1.6 10.3 1 8.1 1.8 1.2 1.9 10.8 1 1 1 14.6 2 .2 1 4 1 10.1 1.9 .4 1 10.8 1 19.3 1 11.4 1 3.2 1 1 1 27.5 1 29.5 1 1 1 1.9 1 7.2 1 12.8 1 7.1 1 1.8 1 2.4 1 1.7 1 35.9 1 6.4 1 48 1 39 1.6 18.9 1 106.3 1 4.5 1 8 1.9 1.8 1 9.4 1 10.2 1 51 1 16.5 1 .3 1 1 1 27.1 1 34.3 1 36.5 1 .1 1 38.4 1 2.5 1.7 1.3 2.9 1.2 1 18.7 1 22.9 1 3.2 1 2.4 1 .7 1 2.1 1 .8 8 .1 1 .1 1.6 9.9 1 .3 1 3 1 8.3 1 3.2 2.5 1.9 1 8.1 1 1.8 1 6.4 1 2.8 2 .2 2.5 3.3 1 13.8 1 2.6 1 .2 1 8.5 1.9 3.2 1.8 5.1 1 1.8 1.7 .3 1 .9 1 .3 1 5.9 1 1.7 1 .5 1 .5 1 7.2 1 12.1 1 2.9 1 2.1 1 8.8 1 8.2 1 6.9 1 23.7 1 4.1 1 3.6 1 3.4 2 12 1 2.5 1 2.3 1 5.6 1 2.6 1 .5 2 3.3 1 1 1 27.1 1.7 2.9 1 20 1 .1 1 7.2 1 6.2 1 .7 1 .2 1 5.5 1 1.9 1 1.5 1 1.6 1 18.6 1 1.4 1 .1 1 7.3 1 3.5 1 .6 1 5.6 1 2.8 1 6.6 1 27.7 1 1.2 1 8.8 1 9.7 1 19.2 1 1.4 1.9 5 1 54.2 1.8 32.7 1 102.8 1 52.6 1 2.8 1 32.1 1 .3 1 7.8 1 29.8 1 55.3 1 18.7 1 .7 1 2.7 1 6.6 1 33 1 15 1 10.4 1 23.7 1 9.4 1 9.9 1 29.9 1 4.1 1 4.3 1 8.4 1 15.2 1 5.1 1 29.7 1 13.1 1 5.4 1 33.7 1 3.2 1 19.9 1.9 1.4 1 1.5 1 3.9 1 4 1 .2 1 4.8 1 30 1 2.3 1 2.2 1 6.6 1 1 1 3.8 1 .2 1 2.8 1 1.6 1 5.5 1 4 1 4 1 12.2 1 4.9 1 1.1 1 16.3 1 6.1 1 .9 1 3.9 1 .9 1 2.4 1 .1 1 1.7 1 6.9 1 2.9 1 7 1 2.1 1 6.2 1 .7 1 1.3 1 2.6 1 .4 1 .7 1 .9 1 .4 2.7 5.3 2 11.6 1 1 1 .2 1 1.1 1 .1 1 .9 1 15.7 1 5.1 1 1.6 1 7.6 2 .1 1 2.6 1 3.5 1 3.8 1 2.3 1 2.8 1 3.9 1 6.7 1 15.6 1.9 4.9 3 .9 7 .1 2.9 1.9 1 1.2 1 2 1 .9 1 43.2 1 1.8 2 .1 1 8.3 1 9.2 1 4.3 1 4.5 1 77.6 1 40.1 1 3.5 1 7.5 1 13.6 1 54.5 1 6.9 1 1 3 1.1 1 11.2 1 7.5 1 24.8 1 2.9 1 .8 1 1.1 1 7.6 1 .1 1 3.3 1 28.7 1 10.5 1 23.9 1 18.2 1 4.2 1 17.3 1 30.2 1.4 46.8 1 16.6 1 8.2 1 10.5 1 4.3 1 8.2 1 11.8 1 12.7 1 2.2 1 9.4 1 8.6 1 .1 1 14.2 1 8.1 1 .6 1 2 1 6.3 1 22.6 1 21 1 2.9 1 5.7 1.4 9.1 1 .6 1 12.7 1 7.1 1 1.8 1.9 7.1 1 .9 1 8 1 1.8 1 10.1 1 20.9 1 14.6 1.8 3 1 1.7 1 12.2 1 14.2 1 3.9 1 .4 1.5 13.3 1 10.1 1 1.1 1 2.5 1 1.4 1 .2 1 2.6 1 1.2 1 .8 1 12.9 1 9.5 1.8 5 1 9.8 1 15.2 1 3.2 1 21.5 1 6.2 1 14.4 1 6.7 1 .1 1 4.5 1 3.5 1 1.1 1 27.6 1 12.9 1 24.4 1 1.7 1 .9 1 5.4 1 4.8 1 1.8 1 26.8 1 5.2 1 8.4 1 72.2 1 10.7 1 25.7 1 45.4 1 27.1 1 4.6 1 59.7 1.9 .9 1 1 1.9 .1 1.8 3.9 1 8.3 1 18.1 1 21 1 6.6 1 15.6 1 70.1 1 20.9 1 5 1 7.9 1 43.5 1 2 1 1.1 1 2 1 1.1 3 2.8 1 .3 1 .7 1 10.7 1.2 2.4 1 5.1 1 3.6 1 20.3 1 1.2 1.7 .1 9.9 1.9 1 .3 1 1 1 .1 1 .5 1 1.9 1 1.1 1 15.4 2.4 .4 1 .1 1 5 1 8.9 1 8 3 1.1 1 31.6 1 1.3 1 .2 1 4.1 1.5 4.5 1.8 3.2 1 3.6 1.9 2.3 1.9 5.1 1 .2 1 1.6 1 1.2 1.9 2 1 6.7 1 .3 1 5.1 1 7.1 1 11.7 1 3.4 1 1.4 1 11.6 3.6 3 1 8.4 1 2.8 1 9 1 .2 1 .8 1 4.1 1 2.1 1 6.9 1 5 1 2.3 1 .8 1 12.1 1 3 1 .8 1 5.5 1 .7 1 6.7 1 11.5 1 3.7 1 14.1 1 .9 1 25.3 1 18 2.9 1.8 1 .2 1 2 1 1.5 1 10.1 1 10.5 1 9.7 1 12.8 1 6.3 1 15.7 1 35.2 1 9.9 1 8.1 1 24.7 1 24.6 1 42.1 1 6.2 1 12.6 1 16.7 1 59.9 1 16.5 1 2.7 1 7.2 1 4.5 1 2.4 1 39.6 1 7.8 1 2 1 .7 1 2.3 1 2.8 1 2.5 1 18.6 1 61.6 1 16.5 1 10.1 1 2.5 1 3.2 1 69.2 1 2 1 2.6 1 1.9 1 33.4 1 17.1 1 6.1 1 3.4 1 .5 1 10.9 1 4.1 1 5 1 18.7 1 5.9 1 2 1 2 1 .2 1 4.2 1 19.9 1 1.3 1 2.6 1 7.1 1 2.1 1 1 1 11.2 1 2 1 5 1 18.9 1 5.7 1 9.8 1 .1 1 13.1 2 .2 1 4.1 1 9.5 1 13.3 1 6.1 1 2.9 1 3.1 1 2.1 1 3.7 1 4.3 1 3.6 1 10.8 1 1.7 1 4.3 1 4.7 2 3.3 1 7.5 1 1.5 1 2 1.5 3.2 1 3 2 .1 1 5 1 3.2 1.7 5.8 1 5.5 1 2.9 1 5.7 1 .3 1 3.1 1 3.5 1 .2 1 2.2 1.7 7.1 1 2.3 1 .1 1 7.8 2.5 1 1 2.1 1 2.9 1 1.1 1 .6 1 3.6 1 1.1 1 1.9 3 .1 1 3.6 3 1 1 3.7 1 1.7 1 7 1 .1 1 .2 1 .4 1 1.1 1 2.3 1 1.1 1 1.6 1 7.4 1.5 1.5 1 3.6 1 .2 1.8 .2 8.9 .1 1 .9 1 3 1 12.3 1 22.7 1 7.1 1.7 3.2 1 2 2 1.1 1 1.1 1.6 1.6 1 3.7 1 3.6 1 8.7 1 84 1 .2 1 1.4 1 12.4 1 20.7 1 7.2 1 61.3 1 15 1 6.4 2 2.1 1.6 38.8 1 10.6 1 8.5 1 1 1 19.7 1 118.9 1 18.5 1 7 1 21.3 1 5 1 41.4 1 5.2 1 10 1 35.4 1 1.6 1 29.2 1 19.4 1 5.2 1 43.8 1 5.9 1 3.6 1 7.7 1 6.6 1 .3 1 6 1 3.3 1 2.9 1.6 5.3 1 7.9 1 5.2 1 12 1 5 1 7.8 1 29.3 1 21.1 1 7.1 1 13.1 1 7.5 1 1.4 1 12.1 1 3.7 1 5.1 1 4.1 1 28.1 1 12 1 8.9 1 10.1 1 14.6 1.9 11.6 1 37.5 1 1.9 1 13.6 1 15.7 1 2.3 1 7.1 1 7.5 1 .2 1 10.1 1 28.6 1 20 1 55 1 16.3 1 3.8 1 1.1 1 .8 1 57.4 1 .1 1 32.1 1 6.7 1 6.1 1 40 1 10.4 1 .9 1.7 .2 1.9 1 1 2 1 29.9 1 44.2 1 13.8 1 18.3 1 11.1 1 38.3 1 11.7 1 20.3 1 39.3 1.9 1.2 3 3.1 1 .2 1 6 1 2.6 1 .1 1.9 14.3 1 2.1 1 3.5 1 5.5 1 7 1 .9 1.7 .1 9 .9 1 2.3 2.6 .5 1 2 1 19 1 .9 1.8 2.9 1 6.4 1 5.5 2 2.2 1 2 3 .1 1.8 2.2 1 5.1 1 1.9 1 5.1 1 3.1 1 .1 1 5.9 1.4 1.3 1 1 1 .1 1 2.8 1 .8 1 .1 1 .4 1 .6 1 2.5 1 2.5 1 .5 1 .5 1 1.2 1 .9 1 .2 1 1.7 1 5.4 2.5 1.2 1 .4 1.8 1 1.8 .3 1 .8 2 .8 1 5.5 1.6 1.9 1 3.4 1 1.6 1 .3 1 9 1 1.9 1.9 2.1 1.8 .1 1 .3 1 3 1 .7 1 2.2 1.8 .3 1 1 1 1.7 1 .2 1 .9 1.9 9.4 1 7.2 1 .8 1 15 1 1.3 1 2.8 1 .8 1 2.1 1 7.3 1 14.5 1 10.2 1 1.8 1 7.3 1 16.2 1 10.7 1 1.2 1 6.8 1 33.9 1 1 1 14.4 1 1.8 1 6.8 1 .4 1 60.7 1 27.9 1 4.3 1 .1 1 27.7 1 17 1 2.8 1 5.1 1 19.9 1 11.2 1 9.2 1 37.6 1 .3 1 8 1 23.1 1 6.8 1 27.1 1 13.9 1 16.2 1 29.4 1 14.2 1 4.6 1 6 1 7.2 1 52.9 1 11.6 1 4.7 1 9.8 1 12.4 1 8.5 1 17.1 1 2 1 23.9 1 34.5 1 11.4 1 19.4 1.4 3.4 1 2 1 24.1 1.8 23.5 1 34.1 1 .1 1 1.4 1 2.9 1 11.7 1 11.9 1 2.5 1 20 1 2.9 1.7 3 1 3.3 1 21.1 1 7.8 1 5.3 1 4.4 1 .1 1 4.4 1 31.6 1 5.2 1 6.8 1 7.2 1 1.8 2 2.1 1 12.2 1 .2 1 1.1 1 1 1 .8 1 .3 1 1.8 1 8 1 3.2 1 .6 1 .4 1.9 .1 1 1.8 1 3.2 1.9 2.9 1 .1 2.8 4.2 1 4.1 1 2.8 1 3.1 1 .8 1 1 1 1 1 6.1 1 3.3 1 .9 2.8 1 2 4 1.9 .8 1 .2 1 1.3 2 2.6 2 4.3 1.9 .1 1 .8 1 .1 1 5 1 2 1 8.1 1 1.2 1 .8 1.7 .3 1 7 2.9 1.9 1.9 1.3 1 6.8 1 5.1 1 1.4 1 1.7 1.9 4.8 1 1 1 1 1 5.1 1 3.1 1 3.1 2.8 .1 1 6 7 1 1 .1 1.9 4.4 1 4 1 4.8 1 2.8 1 1.6 1 15.2 1 13.4 1 2.8 2 1.8 1 .5 1 .7 1 1.4 1 10.7 1 58.1 1 2.5 1 24.1 1 4.9 1 38.5 1 15 1 .2 1 44 1 25.3 1 .6 1.8 .9 1.9 2.3 1 63.9 1 8.2 1 13.3 1 119.7 1 9.9 1 32 1 16.6 1 6 1 4.5 1 9.9 1 10.2 1 4.3 1 4.3 1 1.1 1 3.1 1 6.4 1 13.4 1 2.5 1 9.8 1 13.2 1.8 17 1 6.7 1 8.7 1 .8 1.6 2 1 5.3 1 6.9 1 8.1 1 6 1 8.3 1 5.5 1 .3 1 3.1 1 5.5 1 2.1 1 30.1 1 .3 1 2.5 1 3.2 1 .1 1 4 1 8 1.9 9.3 1 10.7 1 4.2 1 23.3 1 3 1 6.9 1 4.2 1 2.6 1 6.4 1 16.7 1 15.3 2 .8 1 1.2 1 5.1 1 15.5 1 10.2 1 10.2 1 3.8 1 3.3 1 5.7 1 9 1 8 1 3.2 1 3 1 11.6 1 4.2 1 11.2 1 1.6 1 27.1 1 .8 2 9.5 1 10.2 1 2.6 1 6.9 1 .7 1 5.1 1 13.2 1 15.7 1 97.3 1 29.3 1.5 15.7 1 31.8 1 39.5 1 6.3 1 2 1 .1 2 2.7 1 38.6 1 5.1 1 4.8 1 1 1 .9 1 72 1 33.3 1 10.2 1 112.7 1 2.9 1 5 3.8 .1 1 2.3 1 3.1 1 28.5 1 3.2 1 5.3 2 3.6 1 .1 2 1 10 .2 1.6 .1 1 .2 1 1.1 1.8 .2 1.6 5.1 1 6.1 1 4.2 1 2.8 1 .1 1 .2 1 1.5 1 1.1 1 .1 1 16.1 1 .9 3.8 4.1 1 .3 1 .6 1 2.1 1 .4 1 13.4 2 1.6 1 2.8 1.9 .2 1 4.9 1 1.7 2 2.4 1.9 1.2 1.9 1.8 1 2.8 1 .2 2 2 1 .8 1 1.4 1 2.9 1 .9 1 1.1 1 2.9 1 .1 2.7 5 1 1 1 .3 1 5.1 2 4.8 1 .1 1 .1 1 2.9 1 .8 1 4 1 1.1 1 .9 1 .9 1 1.1 2 1 1 3 1.9 .2 1 2 1 3.1 1 .8 1 5.3 1 1.3 1 4.8 1 5 1 7.2 1 1.1 1 4.6 1 .3 1 6 2 2.9 1 9.9 1 .1 1 17.9 1 24.2 1 .9 1 5.3 1 5.8 1.8 1.2 1.6 5.2 1 23.2 1 3.2 1 27.7 1 .9 1 1.4 1 1.4 1 33.5 1 22.3 1 .5 1 8.3 1 14.7 1 16 1 25.6 1 90.5 1 .5 1 7.4 1 13.7 1 24.2 1 18.4 1 61.5 1 12.6 1 13.6 1 3.1 1 .9 1 .1 1 46.9 1 66.9 1 8.1 1 7.3 1 13.9 1 34.5 1 13.8 1 4.8 1 .4 1 73 1 1.9 1.6 8.3 1 4.9 1 5.7 1 13.2 1 .1 1 4.9 1 10.7 1 1 1 8.4 1 1.9 1 2.3 1 2.5 1 .2 1 30.1 1 1.6 1 9.6 1 34 1 19.5 1 13.1 1 6.1 1 13.8 1 1.4 1 11.9 1 4 1 8.2 1 .1 1 1 2.9 4.9 1 4 2.9 .3 1 .1 1 1.8 1 2.9 1 3.4 1.5 .4 2.6 1.1 2 2.3 1 3.7 1 .2 1 5 1 1.8 1 .1 1 1 1.9 6 1 5.1 1.8 1.5 1.5 3.5 1 .8 1 4.9 1 1.2 2 2.6 1 1.3 1 1.8 1 3.9 1 .2 1 1.1 2.9 .3 1.9 .6 1 1.1 1 3.4 1 5 1 .4 1 2.6 1 2.9 1 4 1 .6 1 .3 2.8 .1 2 .1 1 1 2.8 1 1 5.3 1 .8 1 1.9 1 1.1 1 1.1 1 7.6 1 7.5 1 3.9 1 1.8 1 2.9 1 .1 1 2.1 1 1.9 1 .1 1 1 7 .1 2.8 .9 1 9.9 1 7.9 1 12.8 1 4.8 1 7 1 .9 1 .1 1 1.8 4 .1 1 .1 3.8 4.4 1 4.4 1 37 1 31.3 1 16.3 1.3 11 1 .3 1.7 71.8 1 47.8 1 1.9 1.7 .3 1 17.1 1 26.7 1 1.9 1 10.5 1 15.6 2 7.6 1 22.9 1 7.5 1 2.5 1 10.8 1 59.5 1 14.8 1 49.8 1 9.3 1 21.7 1.5 16.4 1 10.1 1 30.5 1 .6 1 .6 1 3.2 1 26.3 1 4.5 1 2.5 1 2.8 1 .1 1 2.8 1 19 1 13.1 1 1.2 1 1 1 2.7 1 10.1 1 4.1 1 9.1 1 4.8 1 3.9 1 1.2 1 3.8 1 3.3 1 .7 1 15.1 1 1.1 1 1.9 1 11.1 1 1.9 1 3 1 1.2 1 4.6 1 6.2 1 6.8 1 6.3 1 5.9 1 4.2 1 3 1 7 1 10 1 2.3 1 11.9 1 8.9 1 3.9 2 10 1 15.2 1 1.9 1 7 1 .1 2 2.9 1 1.9 1 3.2 1 24.9 1 2.8 1 3.2 1 18.1 1 30.7 1 14.1 1 20.7 1 3.3 1.7 16.8 1 28.5 1 .2 1.8 27 1 8.9 2 27 1 2.2 1 29.7 1 60.3 1 14.8 1 53.5 1 3.9 1 4.8 1 56.1 1 .3 1 .9 1.9 4.2 1 15.1 1 35.6 1 5.5 1 14.6 1 4.9 1 9 1 11.8 1 2.5 1 21.3 1 1.8 1 3.2 1 5.4 1 48.3 1 5.8 1 5.8 1 .5 1 13.8 1 16 2 .2 1.7 2.1 1 7 1 18 1 13.7 1 .3 1 2.4 1.5 3 1 1.1 1 1 7 .1 1 .8 1 .1 1 2.9 1 3.2 1 .6 1 1.2 1 .4 1 .8 1 14.1 2.8 3.2 1 2.8 1.8 2.1 1 9 1 2.1 2 1.9 2 .1 1 5.2 1 .6 1 3.4 1 2.8 1 2.7 1 3.2 1 .3 2 1.7 1 1.2 1.9 .9 2 5.4 1.9 13.6 1 .2 1 .1 1 3.8 1 1.1 1 1 1 1 1 2.8 1 1 1 4.1 2 1.2 3 1 2 2.9 1 .2 1 4.9 2 .9 1 2.9 1 2.3 1 3.7 1 .2 1 2.8 2 4 1 1.1 1 1.1 1 2.8 1 .2 2.7 1.3 1 3.4 1 8.8 1 1.9 1 1.1 1 14.1 1 1.8 1 4.1 1 25.1 2 .8 1 1.4 1 22.5 1 15.1 1 9.4 1 3.9 1 1.6 1 4.3 1 5.1 2 9.9 1 6.2 1 11.7 1 7.9 1 6.4 1.5 1.3 1 9.2 1.8 6 1 8.1 1 .9 1 1 1 10.9 1 1.1 2 1 1 6.8 1 20.1 1 3.8 1 8.4 1 2.6 1 3.7 1 13.5 1 26.7 1 2.5 1 16.5 1 8.3 1 2.1 1 .4 1 6.4 1 20.8 1 51.3 1 24.5 1 3 1 20.7 1 19.9 1 11.1 1.6 6.8 1 18.8 1 5.8 1 9.3 1.7 4.2 1.9 5 1 15.4 1 18.1 1 47.6 1 6.6 1 64 1 24.4 1 6 1 15.1 1 45.8 1 18.1 1 9 1 2.8 1 3 1.9 6.4 1 12.9 1 2.2 1.8 6.7 1 2 1 4.2 1 9.1 1 3.2 1 1.8 1 12.1 1 .9 1 25.8 1 9.2 1 4 1 20.9 1 7.3 1 19.9 1 2.9 1 6 1 8.1 1 19.1 1 7 1 2 1 10 1 2 1 6.2 1 .9 1.9 .2 1 .8 1 2 2 1.2 1 .7 1 1.4 1.9 .1 1 1.8 2 2.9 1 .3 1 1.9 1 7.1 1 .7 1 3.1 1 1 1 .8 1 1.2 1 .1 1 1.8 1 1 1 7 1 7.1 2 2.2 1 .9 1 2.9 1 1.1 2 1.1 2.8 1.3 1 2.7 1 1 2 1.2 1 .7 2 4.3 1 6.7 1 1.9 1 .4 1 2.6 1 .1 1 4.1 1 1.1 5.8 5.3 1 .1 1.6 3.3 1 1 1 1.6 1 2.2 1 .1 1.9 1 1 .2 3 1.1 1 3.7 1 .7 1 .3 1 4.2 1.6 3.5 1 2.5 2 1.3 1.8 .1 2 .1 6.9 .1 2 1.1 1 .9 1.9 .1 1 .1 1 5.5 1 3.6 1 .9 1 .1 1 1.9 1 12.7 1 8.9 1 8 1 1.2 2 .1 1.9 1.2 2.6 2.5 1 .4 1 11.7 1.4 9.4 1 14.8 1 47 1 36.8 1 1.4 1 37.5 1 .2 1 33 1 11 1 4.8 1 9.5 1 .7 1 3.1 1 .1 1 1.2 1 4.7 1 23.3 1 1.7 1 2.3 1 6.1 1 15.3 1 5.7 1 30.7 1 20.1 1 5.9 1 30.6 1 52 1 15.7 1 30.2 1 12 1 1.7 1 13.1 1 9.8 1 17.5 1 2.4 1 11.1 1 12.6 1 45.4 1 16.1 1 11.9 1.9 13.6 1 3.9 1.9 13.8 1 10.8 1 .4 1 8.9 1 1.9 1 .1 1 10.1 1 1.9 1 12.2 1 27.7 1 2.1 1 3.9 1 3.1 1 3 1 14.9 1 31.6 1 9.9 1 .9 2 2.1 1 9.9 1 14 1 2 1 25.1 1.9 3.1 1 8.9 1 8.3 1 12 1 4.6 1 13.9 1 1.3 1 11.7 1 4.5 1 1.5 1 3.5 1 15.7 1 23.9 1 44 1 1.1 1 18.9 1 21.1 1 60 1 11.4 1 38.8 1 2.7 1 3.5 1 4.7 1 70.6 1 .3 1 .2 1 1.8 1 54.2 1 2.1 1 .3 1.5 .3 3.8 19.1 1 18.6 1 102.1 1 7.2 1 61.7 1 16.9 1 7.8 1 .9 3.8 5.8 1 2.5 1 18.5 1 .6 1 8.6 1 11.7 1 1.5 2.9 1 6.9 1 1 .1 1 1.8 1.9 1.4 1.6 .3 2.7 10.3 1 .7 1 9 1 1.5 1 1.6 1.9 5.4 1.7 1.3 1 4.8 1 .2 1 .9 2.9 .1 1.8 .2 1 3.1 2.9 8.2 1 6.7 1 2 1.8 1 1 1 1 .5 2.7 .2 1 .9 1 3 1 .1 2 4.9 1 1 1 3.8 1 1.3 2.8 .1 1 .1 1.7 2.1 1 .3 1 1.7 1 6 1 .8 1 .3 1.9 .8 1 2.1 2 4 1 3 1 1 1.9 7.3 1 4.9 1 4.1 1.8 .2 1.9 7.8 1 2.1 1 .3 1.9 4.1 1 .9 1 .1 1.8 6.2 1 1.2 1 10 1 11.9 1 .9 1 16.1 1 1.1 1 .1 1 10.7 1 1 1 .2 1 19 1 6.9 1 7.3 1 15.7 1 2.3 1 .9 1 3.8 1 7.9 1 14.3 1 6.6 1 1.6 1 1.9 1.7 17.2 1 15 1 10.9 1 3 1 .7 1 2.5 1 1.6 1 3.9 1 4 1 11.7 1 1.9 1 14.8 1 11.8 1 8.8 1 16.5 1 6.7 1 46.5 1 23.7 1 25.2 1 7.8 1 23.9 1 15.9 1 4.8 1 26.3 1 1.5 1 15.7 1 8.8 1 12.1 1 23.3 1 12.7 1 5.8 1 32.2 1 17.2 1 26.9 1 6.3 1 23.5 1 16.5 1 36.6 1 17.2 1 6.6 1 43.7 1 9.4 1 7.3 1 2.8 1 10 1 17.3 1 3.2 1 21.7 1 2.1 1 5.8 2.9 2.1 1 .9 1 3.5 1 4 1 14.6 1 31.1 1 16 1 3.1 1 .8 1 3.4 1 39.9 1 7 1 7.7 1.9 1.2 1 8 1 23.2 1 1.6 1 1 1 2.6 1 4 1 5 1 1 1 1 1.8 .1 1 1 1 .2 1 2.9 1 7 1 1.9 3.9 .2 1 .8 1 3 1 .9 1 .4 1 .9 1 4.1 1.7 1.1 1 1.8 1 .4 1.9 .9 1 .8 1 3 1 1.1 1 2.2 1 .7 1 3.4 1 .8 1 3 1.8 .5 1 .9 1 .1 1.6 .3 1 .7 1 1.4 1.8 1.2 1.5 2 1 1.5 2.7 4.2 1.6 4.3 1 4 1 .1 1 2.1 2 1.6 1 5.2 1 .1 1 2.9 1 .9 2 .1 1 1.7 1 1.4 1 1.6 1 .1 1 4.2 1 5.1 1 .6 1 .4 1 3.8 1 1.9 1 2.1 1 5 1 2.9 1 2.2 1 1 1 .7 1 4.3 1.9 1 8 .1 1 10 1 4.9 1 3.1 1.7 6.3 1 22.1 1 1.9 1 1.1 1 .8 2 2.1 1 6.3 1 9.9 1 13.8 1 3.8 1 10.1 1 .7 1 7.4 1 31.9 1 2.8 1 17.6 1 29.8 1 4.7 1 13 1 69.9 1 4.4 1 .8 1 57.2 1 10.9 1 59.6 1 14.7 1 5.2 1.5 9.9 1 8.9 1 14.7 1 3.8 1 20.2 1.7 11.7 1 33.3 1 6.5 1 32.6 1 11.1 1 .5 1 11.6 1 27.1 1 4.6 1 12.1 1 7.8 1 10.5 1 7.8 1 9.9 1 2 1 5.1 1 3.9 1 4.9 1 4.8 1 4.4 1 19.8 1 13 1 18 1 7.9 1 .2 1.8 3.4 1 9.9 1 1 1 21.9 2 1.1 1 12.1 1 .9 1 2.9 1 6.5 1 17.9 1 3.7 1 30.3 1 2.1 1 4.9 1 15.9 1 4 1 9.8 1 6.4 1 8.6 1 18.1 1 8.2 1 15.8 1 1.2 1 2.8 1 7.2 1 .9 1 2.9 1 1.3 1 15.8 1 2 1 14 1 17.1 1 9.2 2 2.9 1 16.5 1 19 1 28.4 1 4.2 1 4.8 1 66.8 1 6.7 1 8.4 1 35.7 1 18.5 1.6 7.6 1 8.8 1 9.4 1 1.1 1 14.7 1 6.7 1 35.3 1 .9 1 9.2 1 8.9 1 .8 1 3.1 1 30.9 1 23.3 1 3.6 1 54.8 1 27.6 1 5.3 1 53.8 1 24.6 1 6.1 3 1.2 1 2 1 .5 1 6.3 1 39.8 1 1.3 1.9 1.1 6.9 .1 2 2 1 1.1 1 .7 1 2.9 1 1 1 1 1 4.4 1 1.6 1 .5 1 4 1.7 4.7 1 1 1 1.1 1 .5 1 4.9 1 1.8 2.9 2.1 7 1 1 6.1 1 1 1 4.7 1 3.4 1 .1 1 1.8 2 2.2 1 2.6 1 1.1 2 .2 1 2 1.7 2.1 1 .2 1 3.7 1.9 4.3 1.8 1.1 1 1 3 1.8 1 .1 1 .2 1.9 3.2 1 1.6 1 .4 1 1.8 1 3.1 1 1.1 1 2.9 1 .9 2 1.9 1 1.2 1 .8 1 2.9 1 1.2 1 .1 1.9 3 1 3.9 1 6.2 1.8 .2 1 1 1 1.1 1 .7 1 .3 1 1.8 1 1.2 1 .8 1 .1 2.8 1.2 1 3.3 1 9 1 4.1 1 7.7 1 .3 1 2 1 11.7 2 30.4 1 5.6 1 10 1 13 1 14.2 1 7 1 1.1 1 1.1 1 4 1 2.9 1 9.7 1 9.3 1 2.7 1 11 1 7 1 .2 2 2.1 1 11.9 1 14.1 1 4.3 1 1.5 2 32 1 20.7 1 5 1 7.1 1 14.9 1 2.2 1 7.1 1 49.7 1 86.7 1 20.8 1 15.8 1 20.7 1 .6 1 40.4 1 24.1 1 35.6 1 44.9 1 5.7 1 5.5 1 20.8 1 45.4 1 15.6 1 3.4 1 46.6 1 9.5 2.4 9.9 1 1.6 1 12.7 1 10.3 1 6.5 1 15.3 1 7.1 1 5.5 1 13.3 1 11.1 1 7.2 1.9 17.9 1 1.7 1 2 1 1 1 25.2 1 2 1 5.8 1 2.2 1 7.8 1 3.3 1 2.1 1 7 1 9.7 1 24.2 1 10 1 .9 1 7 1 8.4 2.8 .1 1 .9 1 2.2 1 1.1 2.7 2 1 3.2 1 .9 1 1.1 2.8 .2 1 .8 1 1 1 .1 1 1 1 .2 2.7 1 1 2.3 1.9 2 2.8 1 1 .2 1 5.1 1 .8 1.9 1.1 2 1.2 1.9 1.1 1.7 1 1 1.1 2 8.1 2.9 3 1 3.3 1 .5 1 3.5 1.8 3.8 1 .9 1 1.2 2 6.2 2 2.7 1 .2 1 1.2 1 1.7 1 .8 2 2.2 1 .9 1 .4 1 2.6 1 4.1 3 .1 1 .1 2.7 .1 1 4 1 5.3 1.6 1.9 1 1.1 1 .3 1 .6 1 .2 1 5.1 1 2.9 1 3 1 2.2 1.9 5 1 2 3 .9 1.9 .1 10 2.2 1 5.6 1 5.3 1 .7 1 24.3 1 2.2 1 1 1 4.4 1 1.3 1 3 1 .1 1 1.8 1 1.2 1.6 6 1 26.2 1 13.7 1 24 1 16.5 1 1.3 1 9 1 57.6 1 4.4 1 19.1 1 25 1 9.4 1 10.3 1 1.9 2 .1 1 3.8 1 4.8 1 9.5 1 27.1 1.7 5.5 1 4 1 1.1 1 1.4 1 3.2 1 22.2 1 21.5 1 16.1 1 6.3 1 86.9 1 44.2 1 19.1 1.5 27 1 6.1 1 1.8 1 .1 1 13.4 1 1.7 1 5.8 1 1.5 1 2.8 1 21.9 1 27.2 1 4.2 1 16.7 1 1.8 1 23.4 2 1 1 7.7 1 7.3 1 1.1 1 16.6 1 5.4 1 10.9 1 .9 1 13.8 1 17.3 1 11.8 1 4.1 1 10.4 1 10 1 27.8 1 6.1 1 1.9 1 6 1 1.1 1 4.1 1 1 1 26.9 1 6 1 62.9 1 8.3 1 2.9 1 32.9 2 10.4 1 1 1 27.3 1 7.5 1 8.9 1 5.5 1 4.7 1 2.9 1 18.9 1 5 1 13.8 1 16.7 1 32 1 4.8 1 37.9 1 3.4 1 53.9 1 23.8 1 3.8 1 4.8 1.8 34.9 1 11.2 1 5.5 3.8 1 1 5.9 1 .4 1.9 15.9 1 20.5 1 28.3 1 18.6 1 23.3 1 32.4 1 .5 1 5.3 1 1.1 1 1.7 1 54 1 13.4 1.7 .1 1 2.2 2.9 2.1 1 1.9 1 7.3 1 11.4 1 13.3 1.7 4.1 1 6.3 1 1.1 1 2.8 8 .9 1 .1 1 .1 2 1.9 1 1.1 1 3.2 1 4.8 1 9.9 1 2.8 1 3.5 1 2.7 1 .9 1 .3 1.8 2 1.8 .1 1 2 1 1.1 1 1 3 2.1 1 3 1 3 1.8 .4 1 .7 1 5 1 .2 1.7 2.4 1 .5 1 .2 1 2.1 1.8 .4 1 .7 2 8.1 1 .1 1 1.8 1 1.2 1 1 1 7.9 3.9 .9 1 .2 1 3.9 1 .2 1 .9 1 1 1 1.1 1.7 5.1 1 1.1 2 .7 1 2.2 1.9 1.3 2.8 1 1 .8 1 4.1 1 .1 1 .1 1 1.8 1 .2 1 2.1 1.9 1.9 1 1 1.9 .1 1 1 1 3.2 1 1.9 1.9 .1 1 1 1 3.1 1.8 1 1 12.5 1 4 1 1 1 19.7 1 .2 1 7 1 11 1 5.2 1 6.8 1 .8 1 7.3 1 2.6 1 .3 1 18 1 2.1 1 19.9 1 8.2 1.8 10.2 1 3.5 1 4.1 1 6.5 1 2.6 1 15 1 .2 1 3 1 18.9 1 5.7 1 39.7 1.8 13.8 1 3.1 1 9.1 1 2.5 1 .5 1 11 1 1 1 10 2 32.7 1 79.1 2 13.8 1 13.6 1 35.9 1 17.6 1 52.6 1 7.1 1 2 1 47.3 1 17.4 1 12.9 1 41.5 1 23.4 1 2.4 1 5.1 1 14.1 1 31.7 1 19.5 1 2.8 2 10.5 1 3.4 1 3.1 1 11.9 1.5 1.5 1 .1 1 5.9 1 7 2 2.6 1 1.1 1 1.9 1 1.1 1 12.9 1 2.1 1 10 1 5 1 2 1.8 29.1 1 11.3 1 4.7 1 5.1 1 .1 1 19.7 1 4.5 1 22.6 1 5.1 1 1.1 1 6.9 1 21.1 1 2.8 1 2 1 14.2 1 3.9 1 13.4 1 2 1 .8 1 .3 1.9 1.8 1 1.2 1 1.1 1 1.8 1 1.2 3.8 1 1 3 2 2 1 .9 1 .1 1 1 1 1 1 .9 1 2.3 2.9 .1 1 2.9 2.8 .2 1.9 .1 1.9 1 1.9 .3 1 .8 1 2.9 1 .3 1 1.8 1 1.2 1 .9 1 2.8 1 1.2 1 .1 2.8 1 1 1.2 1 1.6 1 3.1 1 1 1 1.3 1 5.9 1 1.8 1 .1 1 .1 1 3 1.9 .2 1.7 2.3 1.7 4.2 1 1.8 1 .1 1.8 1.3 1 1 2 .2 1 2.8 1 1.1 5.8 .9 1 2.4 1.5 2 1 .3 1 1.1 1 1.1 1 2 1.7 3.8 1 .1 1 .1 2 .1 1 4 2 6.1 1 3.6 1 1.1 1 2.9 1 .3 1 1 1 1.1 1.9 .9 7 1 1 .1 1 1.1 1.9 5.9 1 10.6 1 14.5 1 11.9 1 2.9 1 .1 1 1 3 41 1 25 1 19.9 1 5.8 1 38 1 3.6 1 2.6 1 2.9 1 7.1 1 27 1 17.3 1 18 1 23.9 1.9 .1 1 11.2 1 16.3 1.8 11.2 1 2.6 1 6 1 2.4 1 5.8 1.7 27.4 1 .8 1 22.1 1 22.2 2 91 1 9.6 1 12.1 1 9.4 1 20.7 1 .4 1 2 1 1.5 1 15.1 1 .7 1 27 1 1.4 1 19.9 1 15.9 1 5.3 1 5.6 1 14 1 .9 1 5.4 1 1.1 1 19.8 1 11.9 1 5.2 1 5.8 1 25 1 1 1 7.2 1 17.9 1 40.8 1 4 1 8.2 1.9 99999"/>
<path d="M119 743.167h552v.3333h-552v.3333h552v.3333h-552v.3333h552v.3333h-552v.3333h552v.3333h-552v.3333h552v.3333h-552v.3333h552v.3333h-552v.3333h552v.3333h-552v.3333h552v.3333h-552v.3333h552v.3333h-552v.3333h552v.3333h-552v.3333h552v.3333h-552v.3333h552v.3333h-552v.3333h552v.3333h-552v.3333h552v.3333h-552v.3333h552v.3333h-552v.3333h552v.3333h-552v.3333h552v.3333h-552v.3333h552v.3333h-552v.3333h552v.3333h-552v.3333h552v.3333h-552v.3333h552v.3333h-552v.3333h552v.3333h-552v.3333h552v.3333h-552v.3333h552v.3333h-552v.3333h552v.3333h-552v.3333h552v.3333h-552v.3333h552v.3333h-552v.3333h552v.3333h-552v.3333h552v.3333h-552v.3333h552v.3333h-552v.3333h552v.3333h-552v.3333h552v.3333h-552v.3333h552v.3333h-552v.3333h552v.3333h-552v.3333h552v.3333h-552v.3333h552v.3333h-552" stroke-dasharray="0 5.9 1 22 1 1 1 11.9 1 3.1 1 9 1 2.3 1.9 16.9 1 4.8 1 2.4 1 4.9 1 2.7 1 4.1 1 9 1 2.9 1 1.1 1 .2 1 29.8 1 10.1 1 3.1 1.7 3.2 1 17.9 1 2.1 1 4.2 1 7.8 1 12 1 3.2 1 13.9 1 39.7 1 21.2 1 6.2 1 5.6 1 42.5 1 7.8 1 19.8 1 54.5 1 49 1 4.9 1 11.3 1 9.5 1 55.3 1 .9 1 .1 1.7 .3 1 9.1 1 18.6 1 66.1 1 14.1 1 36.9 1 9 1 17.1 1 24.3 1.6 5.3 1 22 1 4.6 1 .3 3.9 .2 1 .9 1 .8 1 2.2 1 15.2 1 16 1 5.9 1 4 1 2 1 .9 8.9 1 2.9 .3 1.8 .2 1 .6 1 2.3 1 5.9 1 .9 1 1.2 1.9 4.2 1 2.7 1 1.1 2 6.8 1 2.4 1 1 1.7 5.3 1 .6 1 .3 4.9 .1 1 .1 1.8 .2 1.8 6.9 1 5.1 1 1.8 1 1.2 1 1.9 1 2.1 1 .1 1 1.8 1 1.1 1 3.1 1 3.7 1 2.3 1 1.1 1 2.8 1 5.9 1 .2 2.8 .3 1 .9 1.8 .1 1 2.1 3.9 1.9 1 .1 1 .1 2 .9 1 2.1 1 6.1 1.7 1 1 2.1 1 .9 1 1 1 1.2 1 1 1 .1 1.7 .2 1 1 1 4.9 1.9 .1 1 .9 1 1.2 1.8 .3 1 .7 2 1.2 1.9 .1 1.9 1.2 1.7 .2 1 2 1 1.8 1 .1 1 12.5 1 21 1 11.8 1 28.3 1 10.8 1 2.2 1 10.7 1.9 13.1 1 19.3 1 15.6 1 11.2 1 10 1 10.8 1 30.1 1 2.2 1 1.6 1 3 1 6.4 2.5 40.4 1 1.8 1 29.5 1 1.8 1 5 1 27.3 1 14.5 1 20.3 1.9 43.8 1 10.4 1 26.5 1 9.6 1 14.3 1 3.3 1 13.3 1 7.4 1 1.6 1 2 1 6.5 1 28.1 1 8.2 1 10.3 1 75.5 1 .4 1 11.2 1 10.4 1 18.8 1 3 1 9.9 1 3.7 1 16.7 1 .7 1.5 2.4 1 24 1 29 1 13 1 12.7 1 2.2 1 7 1 .6 1 9.5 1 10.6 1 8.8 1 17.4 1 8.8 1 12.8 1 31.3 1 5.1 1 7.6 1 5.1 1 3.4 1.6 9.5 1 23.8 1 5.9 1 5.2 1 1.8 1 4 1 1.9 1 20.1 1 11.9 1 10.1 1 9.1 1 8 1 1.2 1 1.1 2.9 3 1 .2 1 .9 1 .8 2 .2 1 .1 1.8 .1 1 1.8 1 .1 1 3.1 1 2 1.8 1.3 1.7 .2 2 .9 1.9 .1 1 1.1 1.8 3.1 2 1.1 1.9 .9 1 4.1 1 1 2 1 1 1 1 7.2 1 4.9 1.7 .3 1 1.9 2 1.8 1 .3 1 5.1 1.7 2 1 2.2 1 .8 1 .4 1 .7 1 .2 2.7 .1 1 .1 1 3.8 1 1.2 1 2 1 4.1 1.7 2.3 2.7 .3 1.6 1.3 3.7 3.2 1 1 1 .1 2.9 2.2 1 5.8 1.8 2.1 1 5.3 1 .9 1 2 2.8 1 1 2.2 1 3.9 1 .2 1 1.9 1 2.1 1.8 .3 1.6 3.1 1 1.1 1 1.9 2 2 8 .1 1.9 .1 1 1 1 1.7 1 7.8 1 2.5 1 5 1 15.1 1 1.1 1 12.8 3.9 .1 1 .8 1.9 .9 1 1.8 1 .6 1 .4 1 37.4 1 3.8 1 80.3 1 2.2 1 16.5 1 71.3 1 8.7 1 2.2 1 2.2 2 .1 1.8 .7 1 18 1 25 1 2.8 1 8 1 25.7 1 31.2 1 18.3 1 .6 1 8.8 1 .6 1 59.9 1 18.9 1 33.2 1 72.8 1 3.1 1 6.9 1 1.2 1 22.9 1 .8 1 15.1 1 13.9 1 10.8 1 1.3 1.9 13.1 1 16.8 1 9.2 1 10.7 1 24.4 1.6 3.4 1 5.8 1 1.1 1 6.7 1 7.3 1 17 1 2.8 1 10.2 1 6 1 14.3 1 6 1 .8 1 1.1 1 2.1 1 19.9 1 5.1 1 15 1 13.7 1 3.1 1 2 1 7 1 23.1 1 4.8 1 3.2 1 23.2 1 7 1 20.9 1 5.7 1 3.3 1 2.8 1 1 1 20.2 1 13.6 1 6.2 1 23 1 4.2 1 9.6 1 11.3 1 11.8 1 14.3 1.7 18.4 1 31.9 1 31.2 1 17 1 11.4 1 42.7 1 12.3 1 28.4 1 10.6 1 11.3 1 10.5 1 9.9 1 5.7 1 .4 1.8 .1 2 3 1 2.2 1.7 33.4 1 16.9 1 7.4 1 3.2 1 7 1 14.1 1 12.8 1 12.4 1 6.1 1 .7 1 9 1 8.3 1 4.6 1 23.5 1 14.6 2 1.1 1 .9 1 .2 1 9.4 1 5.5 1.9 1 1 5.2 1 6.7 1 .1 1 1.2 1.8 .2 3.8 2 1 21.4 1 3.8 1 2.4 1 .7 1 6.4 1 2.1 1 3.5 1.6 2.3 1.9 .1 1.8 .1 1 .9 9 2.8 1 4.2 1 .1 1.8 1.2 1 .1 1 2.8 1 1.1 1 6.1 1 4.8 2.9 2.3 1 .6 1 3.4 1 .7 1 1.2 1 .1 1 4.7 1 2.1 4 1.2 1.9 .1 2.7 .3 1.7 .2 1 3.9 1.8 1.2 1.8 3.4 1.6 .2 1 2.2 1 4 1 .9 1 .9 1.9 .3 1 .6 1 3.1 1 .2 2 2 1 4.7 1 .3 1.7 4.2 2 4 1 .1 1 1.1 1 2 1 .9 1 2.1 1 1.9 1.9 .1 1 .1 1.8 1 1 .1 1 3 1 3.9 1 1 1 2 5.9 1.1 2 3.1 1 1 3.9 .2 1 1.9 1.8 1.1 1 1.2 1 .9 1.8 1 1 .2 2 1 1 2 1 .8 1 .3 1 .8 1 1.2 1 5.2 1 22 1 20 1.8 20.3 1 4.9 1 6.8 1 5.1 1 5.2 1 12.7 1 1 1 9 1 7.3 1 .7 1 .2 1 14.1 1 5 1 2 1 5 1 18.1 1.5 3.1 1 13 1 .2 2 15.9 1 11 1.8 11.4 1 2.7 1 .3 1 3.3 1 1 1 4.8 1 4 1 9.7 1 5.1 1 5.2 1 9.6 1 2.5 1 7.9 1 14.9 1 23.8 1 48.4 1 38 1 3 1 74.5 1 3.3 1 44.6 2 5.5 1 2.1 1 10.8 1 76.6 1 6.5 1 9 1 51.3 1 .2 1 38.6 1 9.1 1 .6 1 2.1 1 41.5 1 18.5 1 19.3 1 20.8 1 3.2 1.9 13.2 1 3 1 11.7 1 10.3 1.7 50.1 1.8 8.2 1 16.9 1 5.2 1 6.8 1 .2 1 12.9 1 5.9 1 29 1.9 6.4 1 .2 2.8 2.2 1 1 1.9 .1 1 2 1.9 1.1 1 1 2 1.9 1 4.2 1.8 2.2 1 1.9 1 .8 2 1.2 1.8 .3 1 .8 1 1 2 .1 1 .9 1 1.1 1 .1 1 7 2.8 1.1 1 1.8 1 8.2 2.9 1.2 1.8 2.2 1 .9 1.8 3.2 1 .1 2 1.9 1.7 2.1 1 2 1 2.3 1 1.8 1 .1 1 3.9 1 6.1 1 2 1 1.2 1.6 .2 1.9 3 1.9 .3 1 2.8 1 3.2 3.8 .1 1 4.1 1 3 1 .1 1 .8 1.9 2.3 3.5 .3 1 3.1 2.7 2.3 1 2.9 1 1.1 1 1.6 1 4.3 1 3.2 1 4.7 1 1.9 1 .1 1 1 8 1.1 2 3.7 1 2.2 1 4.6 1 4.1 1 8.3 1 2.3 1 11.5 1 1.6 1 .8 1 4.6 1 1.3 2.9 .1 1.8 1.2 1 3.2 1 35.1 1 3.7 1 37.5 1 .2 1 13.2 1 21.8 1 17.5 1 2.2 1 7.4 1 8.4 1 73.1 1 6.7 1 1 1 11.9 1 25.8 1 15.6 1 1 1 2.2 1 .1 1 2.1 1 1.6 1 30.2 1 27.4 1 11.2 1 3.8 1 1.8 1.8 1.8 1 3.5 1 3.5 1 49.2 1 14.9 1 55 1 8.6 1 17.1 1 17.5 1 1.1 1 4.2 1 14.7 1 6.9 1 17.9 1 7.6 1 1.3 2 23 1 6.1 1 1 1 9.7 1 16.2 1 5 1 2 1 .1 1 2.1 1 6.7 1 3 1 45.2 1 6 1 9 1 3.9 1 1.9 1 4.1 1.8 2.2 1 .1 1 8 1 17.1 1 12 1 18 1 1.1 1 2 1 4.1 1 30 1 3 1 2.9 2 5.8 1 1.1 1 2.9 1 1.4 1 13.6 1 7.2 1 13 3 22.9 1 10.3 1 8.7 1 8.1 1 2 1 4.9 1 18 1 7.2 1 28.3 1 1.9 1 14.9 1.6 10 1 .8 1 .5 1 13.6 1 5.7 2 15.8 1 3.7 1 .8 1 44.6 1 58.7 1 2.1 1 21.6 1 1.3 1 4.6 1 44.6 1 19.6 1 19.4 1 14.2 1 .9 1.9 6.7 1 1.6 1 .6 1 7.1 1 3.4 1 57 1 .1 1 8 1 19.6 1 49.9 1 73 1 3.1 4 .1 1.8 1 1 .3 1.9 5.7 1 3.1 1 18.2 2 6.5 1 7.2 1 3.2 1 .2 8.8 .1 1.8 1 1 1.3 1 .9 2 2.1 1 3.7 1 4 1 2.1 1 1 1 .1 1.9 .9 1 3.1 1 1.1 1 .9 1 1.2 1 4.1 1 .8 1 1.1 1 1.9 1 1.2 1 2.8 5.9 1 1 .1 1 2.7 1 1.4 1.6 .1 2 11.1 4 1.1 3.8 .2 1 .9 1 .1 1 .9 1 .9 1.9 .4 1 1 1 .7 1 .1 2 3.2 1 2.9 1 4 1.9 .9 2 .2 1 5.1 1.9 .9 1 3.1 1 .9 1 .1 1 1.8 1 2.2 1.9 1.1 2.8 .1 2 .2 1.9 1 1.9 1.1 1 3.9 1 1.1 1 .1 2.7 1 1 .2 2 1.1 1 .8 1 2 1 3.9 1 1.2 1 .1 1 1 4.7 1.2 1 .8 1 2.2 1 4.2 1 3.1 1 4.8 1 5.2 1 .1 2 5.8 1 3 1 29 1 5.2 1 4.9 1 1.8 1 28.3 1 .8 1 13 1 4.1 1 2.9 1 5 1 5.9 1 6.1 1 6.3 1 11.7 1 1.3 1 .7 1 1.2 1 7 1 1.6 1 1.5 1 27.7 1 4.8 1 7.6 1 .7 1 9.3 1 18 1 2.8 1 11.6 1 31.3 1 18.2 1 26.6 1 4 1 2 1 50.6 1 1 1 4.6 1 6 1 17.1 1 40.6 1 20.6 1 11 1 49.1 1 10.3 1 3 1 29.9 1 6.9 1 9.7 1 21.2 1 95.5 1 34 1 32.3 1 5.3 1 1.2 1 1 2.5 26.8 1 1.9 1 40.5 1 34.8 2 10.1 1 2.9 1 2.2 1 .7 1 33.2 1 12.8 1 19.4 1 10.7 1 1.2 1 18.9 2 30.3 1 1.1 1 1 1.9 .2 1.8 1.1 1 1 1 .1 1.8 1.2 2.9 1 2.8 1.1 1 5.1 1 2 1.9 .1 1 2.9 1.9 .2 1 1 3 .9 1 1.1 1.9 .1 1 1 1 .9 1 1 1 1.1 1 4 1.8 1 1 2 1 2.3 1.7 .1 1 2 1 .1 1.9 .2 1.9 .9 2 3.9 1 .3 1 .7 1 .2 2 1.7 1 .1 1 2.1 2 2.1 1 1.1 1 .9 1.9 .1 1 .8 1 2.3 2.7 .1 2 2.3 2.6 .1 1.8 11.2 1 3 2 .2 4.8 .1 1 4.2 1 4.8 1 4.7 1 2 1 1.5 1 .7 2 .2 2 3.9 1.9 5.3 1 1.9 1 1.7 1 .1 1 .2 1 1 1 2.7 1 .1 1 .2 9.8 1 1 .1 1 2.7 1 .5 1 5.9 1 8.4 1 3.8 1 4 1.7 15.2 1 5.9 1.8 1 3 .8 1 7.1 1 .1 1 1.6 1 12.6 1 10.4 1 1.7 1 6 1 1.8 1 40.6 1 3.2 1 46.5 1 27.1 1 37.8 1 29 2.7 .1 1 4.8 1 20.7 1 5.8 1 16.9 1 .1 1 2.7 1 .5 1 5.9 1 5.8 1 3.1 1 76.5 1 2.7 1.5 4.2 1 14.3 1 41.6 1 55.1 1 2.6 1 39.7 1 15.1 1 13.2 1 1.3 1 2.1 1 5.9 1 16.1 1 9.1 1 3.9 1 5.8 1 5 1 3.2 1 5.3 1 2 1 1.6 1 26.1 1 17 1 4.9 1 14.1 1 2 1 5 1 11 1 1.1 1.9 5 1 13.1 1 .9 1 43.2 1 4.1 1 12.1 1 9.9 1 30.2 2 7.8 1 .3 1 .7 1 8 1 1.3 1 14.9 1 2 1 10.1 1 6.6 1 1.3 1 .1 1 .8 1 3.1 1 5.7 1 7.3 1.9 13.9 1 3.2 1 5.2 1 16.9 1 34.1 1 5.4 1 4.4 1 10.1 1 .9 1 3.6 1 11 1 1.1 1 .4 1 7.9 1 5.1 1 .5 1 4.7 1 29.3 1 5.5 1 30.4 1 11.2 1 .3 1 5.9 1 15.4 1 25.7 1 16.6 1 9.6 1 19.1 1.2 20.1 1 11.2 1 11.1 1 5.8 1 .2 1 .2 1 2.8 1 .2 1 4 1 3.9 1 36.4 1 2.9 2.8 14.5 1 18.8 1 3 1 39.1 1 18.4 1 54 1 20.7 1 31.7 2 8.2 1 10.2 1 9.4 1 .1 1 2 2 .1 1 4.2 1 8.7 1 2.6 1 29.4 1 3.9 1 1.1 1.9 .1 8 .1 1.9 .1 1.8 1.1 1 .2 2 .9 1 2.2 1 2.9 1 1.9 1 1.1 1 2 1 .8 1 .8 2 2.3 2.9 .2 1 1 1 .8 1 5.1 1.7 4 1 1.4 1 3 5.8 3.1 1.7 .3 1 1 2 .7 1 2.1 1 3.2 1 3.1 1 2 1 2.8 1 1.3 1 .5 1 1.2 2 .1 2 .1 1 .8 1 .9 1 1.9 1 2.2 1 .8 1 2.1 1 1.2 2 3.9 2 3.9 1 2.2 1 1.9 1 1 1 2 1 2.1 1 2.1 1.8 6 1 .2 1 .8 1 .1 1.9 .9 1 1.1 2 1.1 1 1 1 .8 1 .2 1 .9 1 .1 1.9 .9 1 1.1 1 .9 2 2 1 2.3 1.7 .1 1 1.1 3.8 2.2 1 .1 1.9 2 1 1 2 6.3 1.9 24.1 1 8 1 .9 1 8 1 5.2 1 18.8 1 48 1 32.1 1 20.8 1 4 1 44.4 1 18.4 1 19.3 1 .2 1 21.1 2 1.3 1 25.7 1 34.7 1 20.9 1 40.1 1 15.5 1 2.2 1 3.2 1 18.3 1 9.6 1 16.8 1 6.1 1 11.3 1 .5 1 14.8 1 42 1 39.1 1 38.8 1 10.6 1 9.4 1 1.8 1 31.7 1 .8 1 13.3 1 9.7 1 15.5 1 13.1 1 19.2 1 8 1 13.1 1 28 1 1.2 1 27.9 1 7.7 1 21.2 1 6.2 1 6.8 1 12.1 1 5.7 1 8.3 1 13.7 1 10.4 1 .8 1 11.9 1 11.1 1 .8 1 22.3 1 9 1 10.8 1 2.2 1 3.8 1 2 1.9 4.1 1 39.5 2 .8 1 .2 1.8 .1 1 1.9 1 .2 1 .1 1 .8 1.9 .2 1.8 .2 1 1.1 2.7 .1 1 1.2 2.7 1.2 1 .8 1 1.2 3 1 2 2.9 2 3 1.9 1.1 1.9 1 1 2.1 1 1.2 4.8 1 2.9 .1 2 2.1 1 2.8 1 .2 1 4.1 2.7 .1 1 .1 1.8 .3 1 1 1 2 1 6.7 1 2.1 1 4.2 3.8 7.1 1 9.8 1 2.1 1 .2 1 1 1 1.6 1 3 1 1.2 1.9 .2 3.9 .1 1.8 .2 3.8 2.1 2 .2 1 1.6 1 3 1 2.1 1 3.1 1 .1 1 4.2 1 1.9 1.8 3 1 1.2 1 6.7 1 .3 1 .8 1 .2 1 .7 1 .1 1 1.1 8.9 .1 3 .9 1 .2 1 6.9 1 12.9 1 11.7 1 6.4 1 5.8 1 3.1 4 1.2 1.9 3.3 1 35.4 1 .6 1 5.6 1 11.9 1 18 1 5.2 1 15 1 7.2 1 33.3 1 2.1 1 2.1 1 37.9 1 16.8 1 8.6 1 19 1 .9 1 1.1 1 1.2 1.9 4.2 1 44.6 1 7.3 1 37.4 1 17.3 1 8.9 1 23 1 55.1 1 16.9 1 1.3 1 .4 1 30.2 1 11.6 1 23.2 1 9.9 1 12 1 15.9 1 5 1 2.1 1 29 1 6.6 1 .2 1 4.3 1 .9 1 9.8 1 11.2 1 1 1 21 1 13.9 1 3 1.9 7 1 11 1 6.9 1 2 1 12.2 1 4 1 27 1 34 1 8.4 1 1.9 1.9 .2 1 7.8 1 3.1 1 11.9 1 .2 1 5 1 4 1 1.9 1 5.1 1 23.9 1 1.1 1 10.7 1 5.2 1 4.9 1 .2 1 1.8 1 11.2 1 17.7 1 12.3 1.8 2 1 6.1 1 5.2 1 .8 1 17.9 1 .1 1 .1 1 2.1 1 3.8 1 6.1 1 12 1 1.7 1 7.4 2.6 10.6 1 11.2 1 6.1 1 8.3 1 9.9 1 3.2 1 20.1 1 6.6 1 32.3 1 14.6 1 3.3 1 18.4 1 37.9 1.8 9.9 1 34.8 1 8.6 1 22.6 1 9.1 1.9 6.3 1.3 .6 1.9 50.1 1 .1 3 33.8 1 29.2 1 14.4 1 26.8 1 37.6 1 17.7 1 34.7 1 2.5 1 12.9 1 18.6 1 2 1.9 .9 2 .2 1 1.7 1 .1 1 20.6 1 24.3 1 1.2 1.9 2 1 1 6 1.1 2 1.9 1 1.9 1 2.1 1 8.8 1 .3 1.7 2.4 1 .1 1 2.6 1 .3 1.6 .1 1 .2 1 4 1 .9 1 2.2 2 .8 1 .2 1 .9 1 .1 1.9 4.9 6 .1 2 .7 1 1.2 1 1 1 .3 1 1.7 1 2.1 1 1.1 1.7 2 2 5 1 1.2 1.8 .2 1.8 .1 2 .9 1 1.1 1.9 3.9 1 .3 1.9 2 1 5.1 1 3.9 1 .1 1 .1 2.8 1.1 1 .9 1.9 2.3 1.8 1.1 1 .8 1 3.1 1 .1 2.8 .1 1 .2 1.9 1.1 1 1 1 .7 2 2 1 1.3 1.7 1.1 1.9 1.3 1 1.7 1 1.3 1.9 1.8 2 1.2 1.8 .3 1 1 1.7 4.2 1 .9 1 1.1 1.9 .1 1.8 .1 1 .2 1.8 27.5 1 32.9 1 8.9 1 1.1 1 7.1 1 11 1.7 5 1 2 1 12.1 1 21 1 3.2 1 3.9 1 1 1 11 1 16.8 1 7.4 1 34.7 1 27.8 1 1.5 1 7.1 1 6.1 1 20.5 1 .1 1 9.8 1 20.8 1 75.2 1 12.8 1 13.2 1 1.8 1 5.3 1 84.4 1.4 7.2 1 20.2 1 11.2 1 7.6 1 13.5 1 3.1 1 1.2 1 1.9 1 .6 1 41.2 1 12.8 1 14.2 1 29.2 1 1.6 1 57.5 1 6.4 1.9 28.3 1 9.6 1 9 1 17.3 1 22.4 1.8 7.5 1 .6 1.9 4.5 1 2 1 .1 1 35.3 1 6.8 1 2.3 1 2.1 1 6.1 2.7 7.1 1 .1 1 1.8 1 2.2 1 17.9 1 23.7 1 48.2 1 11.1 1 13.9 1 24.1 1 8.2 1 1.1 1 1 1 1 1.9 .9 1 1.2 1 1.9 2 .1 2.8 .1 4.9 .1 1 2.2 3.9 .9 1 1 1 1.1 1 .9 1.9 2.2 2.8 1.2 1.9 2.9 2 2.2 1 1.8 2 1.1 1 .1 1 3 1 5 2 1 3.8 2.2 2.9 .1 1 1 1 1.1 1.8 .1 1.8 2.3 1 .7 2 2.1 2 1 1.9 2.3 2 .8 1 .1 1 2.9 1 .1 1.8 .3 1 .7 1 3 1 1.2 1 .1 1 6.9 1 3 1.8 .1 1 1.2 1.7 .2 4.9 2.2 1 4.8 1 7.8 1 3 1 .2 1 .1 1.9 .1 1 5.1 1.9 2.8 1 1 1 3 1.9 .3 2.9 3.2 1.6 1.1 1 .1 1 2 1 .1 6.9 .1 1.9 2 1 9.5 1 2.2 1 16.4 1 1.3 1 2.4 1 5.2 1 2.7 1 6.2 1 1.1 2 1.2 1 .7 1 41.1 1 14.8 1 17.2 1 86.7 1 .6 1 3.8 1 14.5 1 48.5 1 .6 1 1.3 1.9 .2 1 .8 1 .1 1 2 1 5.8 1 61.3 1 14.9 1 26.1 1 12 1 11.2 1 1.3 1 13.4 1 2.4 1 .2 1 4.2 1 23.8 1 10.1 1 56.1 1 15.3 1 6.4 1 6.4 1 4.7 1 11 1.5 3.9 1 5.2 1 7.2 1 7.9 1 11 1 6.3 2 3.9 1 9.8 1 .1 1 16.8 1 20.1 1 1.2 1 6.1 1 .9 1 17.9 1 2.1 3 27.7 1 2 1 5 1 7.2 1 4 1 9.1 1 .9 1 27 1 33.9 1 1 1 1 1 24.3 1 9.2 1 4 1 1 1 20.8 1 18 1 8 1 1.1 1 18 1 7.1 1 4 1 16 1 20 1 8.1 1 20.8 1 1.2 1 6.7 2 18.3 1 5.1 1 5.5 1 4 1 7 1 5.4 1 3.7 1 19.2 1 1.1 1 11 1 1.5 1 4.1 1 44.1 1 12.2 1 9.5 1 17.8 1 13 1 13.4 1 9 1 8.3 1 12.1 1 18.8 1 37 1 3.7 1 .9 1 15.4 1.7 33.8 1 13 2.8 .1 2 25.3 1 4.1 1 .6 1 10.3 1 34 1 .7 1 6.9 1 9.6 1 13 1 32.5 1 30.8 1 13.2 1 1.5 1 16.3 1 18.1 1 8 5.8 .4 2 6.9 1 36 1 4.8 1 2.2 12.9 2.1 1.7 4.1 1 6.4 1 1.8 3.7 .3 1 1.7 1 3.2 2 3.1 1 1.7 1 8.5 1.8 1.1 2.8 .2 1 1.8 3 .1 1 .8 2 .2 1 1.8 1 1.1 1 1.2 1.8 .8 1 .2 1 3 1 .2 1.9 .9 2 .2 1 1.6 1 .3 1 1.1 1 .9 1 1.9 1 1.9 1 .2 1.9 .1 1.7 1.1 1 2 1 2.1 2 1.9 1 1.2 2.8 .2 1.8 .1 2 4.2 3.8 7 1 1.2 2.9 1.8 1 2.1 1 .2 1 1.7 2 2 1 1.1 2 1.1 3.9 2.9 1 .2 1 2.8 1 .2 1 .8 1 1.2 2.9 2 1 2.2 1 .9 1 1.1 1 .7 1 1 1 2.3 1.7 .2 1 .9 1.9 .2 1 11.4 1 28.9 1 15 1 1.8 1 11.3 2 1.9 1 4.9 1 18 1 8.2 1 5 1 25.1 1 8.6 1 12.9 1 15.4 1 12.7 1 2.3 2 .1 1 23.9 1 24.6 1 17.6 1 .4 1 15.7 1 5.8 1 8.6 1 9 1 .8 1 6 1 7.5 1 34.2 1 2.9 1 21.7 1 2.3 1 1.1 1 11 1 5.6 1 7.7 1 41.1 1 33 1 9.2 1 14.4 1 1 1 3.8 1 33.8 1 43.1 1 .9 1 2.4 1 45.4 1 6.6 1 2.8 1 .9 1 8.7 1 10.8 1 73.9 1 11.8 1 12.5 1 12 1 3.6 1 3.2 1 19 1 3.8 1 5.8 1 .5 1 7.3 1 4.7 1 3 1 8.8 1 20 1 7.9 1 2.1 1 6.8 1 7.2 1 1 1 11.9 1 4.9 1 8.9 1 .4 1 10.9 1 4.8 1 27.2 1 5 1 1.8 1 4 1 6.2 1 13.8 1 13.1 1 11.9 1 1.1 1 4.1 1 12.8 1 3 1 2.2 1 3.2 1 .1 1.9 1.1 2 .9 1 1.1 1 1.1 1.9 .9 4.9 .2 1.8 1.1 1 1.9 1 2.1 1 1 1 1 1 .1 2 .9 1 .9 1 2.3 1.7 .3 1 1.9 3 .8 1 .2 3.8 4.3 3.7 .2 2 .1 1 1.7 1 .1 1.9 3.2 1 1.1 2 1 1 1 1.7 .1 2 1.1 1 2.1 1 .8 1 1.2 1 2 1.7 1 1 1.3 1 .7 2 6.1 1 1.2 1 1.7 1 3.3 1.9 1.9 1.9 1 1 2.3 1.6 2.4 1 .7 1 2.2 1 3.1 2.7 .2 4.8 3.3 1 6.6 1 1.1 1 1.9 1 .2 1.9 3.1 2 .2 1 2.8 1 1.1 1 2.1 1 7 1 2.6 1 1.4 1 1.8 1.9 .3 11.8 1 1 1 1 4.2 1 11.9 1 9.8 1 4.7 1 15.3 1 .5 1 .8 1 .7 1 .1 2.9 5.3 1 9.5 1 7.3 1 5.4 1 6.6 1 41.2 1 15.7 1 36.4 1 9.5 1 4.9 1 6.8 1 5.9 1 18.3 1 50.4 1 .8 1 4.2 1 .9 1 .3 2.9 70.6 1 113.6 1 7.6 1 .3 1 28 1 10.3 1 4.2 1 8.6 1 18.7 1 24 1 .2 1.9 .2 1 3.9 1 35.4 1 20.7 1 16.7 1 3.3 1 5.2 1 2.6 1 4.4 1 10.9 1.9 2.7 1 4.4 1 17.1 1 4 2 1.6 1 2.1 1 7.1 1 9.2 1 .9 1 2.7 1 6 1 23.3 1 2.9 1 20.9 1 7.2 1 12.8 1 9.1 1 3.9 1 14.4 1 4.9 1 5.2 1 6 1 25.9 1 2.1 1 2 1 21.9 1 26.1 1.7 16.2 1 14.2 1 .7 1 15.9 1 1 1 22.3 1 6.1 1 4 1.7 16.1 1 8.3 1 1.9 1 24.1 1 .9 1 2 1 5.2 1 5.5 1 3.1 1 6.9 1 2.9 1 1 1 21.1 1 6.9 1 2.2 1 12.8 1 53.5 1 2.9 1 3.8 1 19.1 1 7.1 1.9 10.9 1 19.6 1 24.7 1 30.6 1 2 1 6.2 1.7 1.6 1 28.7 1 11.6 1 3.5 1 2.2 2.9 1.2 1 31.5 1 7.1 1 27.1 1 10.9 1 6.3 1 8.7 1 15.7 1 41.7 1 36.4 1 .4 1 5.6 2 .7 1 8.7 1 11.3 1 1.2 1 4.7 1.8 3.9 2 .1 2 1 1 5 1 4.2 1 28 1 8.6 1 1.2 1 2 1 .2 1.9 .9 6 .1 2 1.9 2 1.8 1 3.1 2 1.3 1 5.1 1 4.7 1 .1 2.7 3.2 1 .1 1 5.7 1 4.1 1 2.3 1 2 2 .8 2 1.1 2.9 1.2 1.9 1 1 3 1 1.1 1.6 .3 2.8 7 1 .1 1 .2 1 .7 1 2 1 .1 1 1 1 .1 1 1 1.9 2 1 .9 1 .2 1 .9 1 1.1 2.9 2.2 2 2.7 1 .2 1 .9 1 1 3 .2 1 3 1.9 7.1 3.7 .2 1.9 2 2 1.9 1 2 1 2.2 1 .9 1 1 1 2.1 4 .9 3.9 .2 1 3.9 2 1 2 1.1 2 2.8 1 2.1 1.9 .1 2 1.1 2 1 2 3.8 1 6.6 1 22.9 1 1.8 1 13.1 1 25.2 1 19.8 1 .2 1 7 1 4 1 23 1 18.9 1 12.7 1 2.3 1 .8 1 13.2 1 1.8 1 18.2 1 24.6 1 2.5 1 71.3 1 43.2 1 12 1 .5 1 .8 1 10.9 1 28.1 1 25.5 1 10.6 1 23.3 1 1.5 1 57.8 1 .8 1.1 1.8 1 24.4 1 4.8 1 13.9 1 5 1 1.3 1 14.7 1 5 1 1.1 1 .1 1 79 1 1.6 1 8.1 1 5.6 1 7.4 1 16.8 1 15.8 1 7.7 1 4.5 1 6.4 1 1.9 1 9.1 1 2.5 1 11.1 1 25.4 1 1.7 1 32.1 1 12.2 1 20 1 8.8 1 6.9 1 61.2 1 5.8 1 13 1 5 1 16.2 1 29.8 1 25.2 1 20.3 1.9 .1 3 4 1 1 2 .1 1.7 .2 1 .8 1 1 1 .1 3.9 .2 1 2.8 1 .1 1.9 .2 1.9 .1 3.9 1 2.9 .2 2.8 1.2 2.8 2.3 1 1.9 1 1 1.9 1.1 1 .1 3.8 .1 1 1 1 3.1 2.8 2 1 1.2 1.7 .1 1 .2 1.9 .1 2.8 4.9 1 5.2 1 1 1 1 1 1.1 1 3.9 1 1.9 3 2 2 .9 1 .1 1 1.2 1.7 1.2 1.9 1.2 1 .7 1 .3 2 1 1 3.9 1 3.2 1.6 .3 1 .8 5 .1 1 2.1 1.9 4 1 .9 1 4.8 1 .2 1 .8 2 .3 1.9 3.2 2 .7 1 1.3 1.7 4.3 1 .9 1 .8 1 1.1 1 .2 2.8 3.1 1 1.1 1 .9 1 .9 8.9 .2 1 .1 1.8 6.7 1 .1 1 6.2 1.6 4.4 1 12.7 1 10.4 1 3.8 1 3.1 3.9 4.1 1 .3 1 15.4 1 5.8 1 7 1 .4 1 2.4 1 63.6 1 11.4 1 30.4 1 6.4 1 10.9 1 25.2 1 .4 1 42.5 2 1.9 1 63.4 1 8.3 1 32.9 1 33.1 1 57.8 1 5.8 1 56.2 1 18.3 1 2.3 1 10.4 1 19.4 1 9.4 1 5.1 1 18.1 1 2.1 1.5 1.5 1 54.8 1 3.9 1 .9 1 11.1 1 7.1 1 .9 1 6.1 1 21.8 1 1 1 5.1 1 8.2 1 1.9 1 9.8 1 67.1 1 6.4 1 14.9 1 1.2 1 18 1 9.8 1 2.1 1 11.9 1 12 1 4.3 1 3.9 1 12 1.8 4.3 1 12.8 1 7.9 1 3.9 1 18 1 10.2 1 .8 1 22 1 15.3 1 18.3 1 7.9 1 30.3 1 3.4 1 10 1 37.8 1 9.6 1.6 39.6 1 13.8 1 5.4 1 11.8 1 2.4 1 29.2 1 17.5 1 6.3 1 4.8 1 22.4 1 6.7 1 6 1 6.9 1 1.3 2 .8 1 5.1 1 15.6 1 7.8 1 4.1 1 8 1 11.7 1 1.1 1 1.2 1 13.2 1 6 1 31.6 1 45 1 .9 1 22.3 1 10.8 1 14.4 1 4.5 1 3.2 1 .3 1 1.4 1 18.2 1 7.3 1 16.7 1 11.8 1 13.2 1.8 3.2 2 .9 1 .3 1 .9 1 .2 1 12.7 1 17.2 1 4.5 1 5 1 8.5 1.7 .1 10 1.1 1 2.1 2 .8 1 2.1 1.8 2 1 5.3 1 .1 1 .7 1 5.9 1 .1 1 1.2 1 3.6 1 6.4 1 1.9 1 .9 1 3.1 4.9 .1 1 .8 1 .3 1 2 1.6 1.3 1 .1 1.8 4.1 1 1.9 1 1 1 .1 1.8 3.3 2.8 .2 1.6 1.3 1 .1 2.8 .1 1 3.8 1 .3 1 2.6 2 .4 1 4.9 1 .1 1 5.9 1 2.9 1 3.1 1 4 1.8 .2 2 1.1 1 .8 1 1 1 .2 1.8 1.9 1 .2 1 2 1 1.1 1.7 1.1 1 .1 1 .9 1 2.1 1 .1 1 .9 1 .9 2.9 .1 1.9 .2 1 2 1.9 2 1 1 1 .9 1 2.2 1 1 1 1.1 1 .7 1 2.1 1 1.1 3.8 .1 1 .1 1 13.2 1 12.2 1.7 16.3 1 10 1 15.9 1 16.1 1.7 3.3 1 1.9 1 9.9 1 37 1 16.1 1 .1 1 12.9 2.8 3.4 1 7.7 1 3 1 5.1 2 15.9 1 7.6 1 33.2 1 15.2 1 3.3 1 18.5 1 46.3 1.9 1.3 1 9 1 33.1 1 31.5 1 .8 1 7 1 37.1 1 26.7 1 19.3 1 44.2 1 14.4 1 7.6 1 4.4 1 1.4 1 .6 1 53.3 1 4.3 1 .3 1 12.3 1 11.7 1 64.9 1 23.8 1 5.6 1 29.4 1 4.3 1 1 1 9.7 1 4.5 1 1.9 1 31.2 1 5.9 1 31 1 10.1 1 11 1 3 1 3.6 1 2.3 1 12.7 1 3.3 1 1.7 1 5.2 1 5 1 1.1 1 11.1 1 9.8 1 2.9 1 4.2 1 11.1 1.8 1.1 1.9 2.9 1 3.1 1 2.1 1 31 1.9 25.3 1 .9 1 .1 1 2 1.9 1.1 3 .9 1 .1 1 .2 3.7 .1 1 .1 1 3 1 1.9 1 2.1 3.8 .2 1 .8 1 .1 1.9 2.1 1 1.1 1 1.9 1 .2 1 .8 1 1.1 1.8 .1 1.9 .3 2 1.8 1 3.9 1 2 1 .2 1 6.1 2.7 1.2 1 1 1 1 2 3 1.9 2 1.9 .9 1 1.3 2 1.1 1 2 1 1.7 1.9 2.2 1 .8 1 5.1 1 2.1 1 4.8 1 .4 2 4.9 1 1 1 2.1 1 1 1 .9 1 .1 5.7 .3 1 .7 1 2.9 1 4.4 1 3.8 1 .8 1 .4 2.7 1.1 2 2 1 1.1 1 1 1 .7 1 5.5 2.7 .2 1 4 1 .8 1 .2 6.8 .1 6.9 .1 1 1 1.8 .9 1 3.3 2 15.8 1 30.2 3.9 1 1 12.6 1 .3 1 23.9 1 22 1 11.8 1 19.1 1 9.6 1 44.1 1 60 1 6 1 3.9 1 16.9 2.8 1 1 1.1 1 22.6 1 14.1 1 12.5 1 5.3 1 56.1 1 30.5 1 12.2 1 11.4 1 13 1 6.8 1 19.4 1 5.3 1 5.8 1 29.2 1 11.5 1 16.8 1 2.5 1 12.4 1 2.1 1 .6 1 4.2 1 5.1 1 9.3 1 13.2 1 1.1 1 1.3 1 9.9 1 18 1 1.3 1 7.9 1 5.9 1 .7 1 3 1 6.4 1 .1 1 9.8 1 23 1 9 1 3 1 7.1 1 19.9 1.8 5.2 1 7.9 1 7.1 2 16.1 1 8.8 1 10.9 1 18.2 1 15.2 1 5.1 1 28.9 1 5.1 1 4.9 1 7.1 1 29 1 3.1 1 11.7 1 5.2 1 16.9 1 1.2 1.7 9.1 1 2.2 1 6.7 1 5.2 1 3.1 1 4.6 1 14.1 1 7.1 1 5.1 1 12.9 1 .1 1 6 1 1.1 1 4.8 1 24.8 1 13.3 1 6.7 1 1.1 1 1.6 1 1.5 1 5.4 1 29.4 1 10.6 2 21.6 1 2 1 8 1 48.3 1 18.5 1 13.7 1 51.6 1 18.2 1 25 1 2 1 2.9 1 1.4 1 3 1 5.8 1 2 1 .1 1.9 .2 1 1.6 1 .1 1 12.3 1.4 19.5 1 69.3 1 19.9 1 35.1 1 39.4 1.8 1.5 1 15.7 1 .4 1 10 1 4.8 2 .1 1.9 1.8 1 .3 1 .1 1 18.6 1 8.1 1 4.4 1 9.6 1 2.3 3.8 .1 7.9 .1 1 1 4.8 2.1 1 3.8 1 5 1 2.4 1.9 1 1 1.9 1 1.2 1.6 .3 1.9 5.9 1.9 1.2 1 3 1 .9 1.9 .4 1.7 2.2 1 1.9 4.9 .1 1 6.9 1 .3 1 .9 1 7 1 5.1 1 .7 1 3.1 1 2 1 1.2 1 .8 1 .9 1.9 2.3 2.8 1.2 1.7 2.4 1.7 4.2 2.9 2.1 2 .1 1.9 3 1.8 4.1 1 1.2 1.8 1 3 2 1 .1 2.8 3 2 .1 1 2.1 1 .1 2 .9 2.8 .2 1.8 .1 2 .2 2 2.8 2 .1 1 2.9 2 .9 1 1.2 1.9 1 2 2.2 1 .9 3.9 2 1 1.1 2.9 13.4 1 6.1 1 1 1 2.9 1 16 1 44.9 1 3.9 1 10 1 9 1 6.3 1 10.7 1 7.3 1 18.1 1 .8 1 5.1 1 .7 1 13.9 1 9.5 1 28 1 5.8 1 8.6 1 3 1 2.5 1 15.2 1 12.6 1.9 27.5 1 9.1 1 5.2 1 .7 1 10.6 1 10.9 1 .5 1 10.6 1 9.8 1 7.7 1 5.7 1 2.1 1 11.7 1 32.8 1 24.6 1 10.9 1 6.3 1 6.1 1 22.6 1 9.8 1 3.1 1 47.2 1 10.4 1 7.4 1 25.5 1 29.5 1 .4 1 .6 1 5.8 1 52.2 1 30.5 1 31.9 1 14.4 1 2.1 1 2.2 1 .4 1 33.6 1 .9 1 14.2 1 1.3 1 5.9 1 33.8 1 13.1 1 9.9 1 20.8 1 3.2 1 14.1 1 8 1 .8 1 22 1 3.9 1 .3 2 18.9 1 7.9 1 10.3 1.9 16.8 1 .2 1 6 1 6.9 1 13.1 1 8.2 2 .1 1 .9 1 4.1 3 .9 1 .1 1 1 1 5 5.8 1 1 .3 1.8 2 1 3 2 1 1 .1 1.9 1.1 1.8 .1 2 .1 1.9 .2 1.9 3.9 1 .9 1 1.2 2.9 .1 1.9 1.9 1 .2 2.8 4.3 1.8 2.2 1 .8 2 1.1 2.7 1.2 1 1.9 1 .2 1.8 8.1 2 .1 1 1.1 2.8 .1 1.8 1 1 .3 1 .9 1 2.9 1 .1 1 .1 1.9 3.8 1 1.3 1 .9 1 3.7 1 2.2 1 .2 9.8 2.1 1 .1 1 1.7 1 1.3 1 1.9 1 2.9 1 1.2 1 2.1 2.7 4.2 2.9 .1 2.6 3.3 1 1.9 1 1 1 .2 1.7 1.1 2 1.9 1 3 1 1.1 8 .1 2.9 .9 1 .1 2.8 1.1 1 4.1 1 1.4 1 2.5 1 8 1 4.5 1 17 1 4.7 1.9 1 4 1 1 1.8 1 5.5 1 51.9 1 97.2 1 14.5 1 9.2 1 50.2 1 1.7 1 .1 3.7 2.4 1 4.2 1 6.9 1 14 1 25.9 1 2 1 5.8 1 13.2 1 6.1 1 47.7 1 1.4 1 28.4 1 27.1 1 17.7 1 5.2 1 23.9 1 14.9 1.9 .1 1 5 1 1.4 1 6.7 1 .6 1 12.1 1 .8 1 13.8 1 10.2 1 16.8 1 1.5 1 32.9 1 2.8 1 8.2 1 21.7 1 10.3 1 34.1 1 10 1 6.8 1 9.2 1 12.7 1 52.2 1 1.8 1 5.1 1 3 1 .1 1 16.3 1 5.9 1 27.1 1 14.1 1 19.8 1 10 1 3.1 1 .2 1 40.7 1 7.2 1 10 1 5.7 1 3.1 1 .9 1 1 1 4.3 1 3.9 1 2 1 12.2 1 3 1 21.9 1 2.3 1 4.7 1 12.8 1 19.7 1 4.4 1 23.7 1 26.9 1 3.3 1 26.4 1 2.9 1 26.7 1 55.5 1 16.7 1 20.3 1.5 13.5 1 12.2 1 8.3 1 3.9 1 .8 1 3.4 1 1.1 1 43 1 .4 1 .8 1 .2 1 8.3 1 3.4 1 37.4 1 17.7 1 8 1 5.8 1 20 1 17.6 1 26.4 1 53.5 1 .7 1 16.9 1 1.3 1 9.9 1 .1 1 .8 3 2.1 2 .2 1 5.1 1 2.4 1 12.4 1 12.6 1 3.1 1 4.1 1 1.3 1 .8 1 .9 1 2 9.9 1.2 2 8.7 1 1.1 1 .1 1 .1 1 .2 2.5 1.3 1 1.8 1 5.1 1 1.2 1 .6 1 3.2 1 1 1 1.2 1.8 1 1 3.8 1 4.3 3.9 1.1 1 .8 1 1.2 1.9 5 1 1.1 1.7 4.4 1 3.1 1 .8 1 .9 1 1.2 1.7 1.1 1 1 1.9 1 1 1.2 1 1.1 1 .9 1.8 1 1 .1 1 .2 1 2 1 1 1 .8 2 .1 1 1 3.9 .1 1 1.9 1.9 1.2 2 1.9 1 .2 1.8 .1 1 .9 1 .2 2.8 2 1 .1 1 1.1 1.8 1.2 1 .9 1 .9 1 .1 2.8 .1 2 2.2 1.7 2.1 2.9 .3 1 .9 1.8 .2 1 .1 1.8 .1 1.9 1.1 1 .9 1.9 .1 1.9 .2 1 2 1 1.1 2.7 .1 1 .1 2 1 2.8 .2 3 .8 1 26.3 1 26.3 1 13 1 7.7 1 9.1 1 5.1 1 9 1 10.2 1 3.7 1 4.2 1.8 2.2 1 5.9 1 .7 1 21 1 19.1 1 3.2 1 14.9 1 .2 1 29.6 1 3 1 4.7 1 .3 1 10.4 1 26.8 1 1.3 1.7 .1 1 1 1 3.5 1 8.5 1 23.4 1 5.2 1 36.2 1 52.2 1 1.7 2 13.2 1 51.1 1 13.2 1 11 1.5 52.3 1 2.9 1 6.3 1 9.3 1 2.7 1 3.4 1 5.5 1 6.3 1 46.3 1 37.5 1 2.7 1 5.2 1 7.2 1 2.4 1 17.3 1 25.2 1 18.5 1.3 .4 1 23.3 1 4.4 1.8 .4 1 .4 1 17 1 20 1 10.2 1 2 1 .7 1.7 6.1 1 3.9 1 19.2 1 2 1 10.5 1 .2 1 9.3 1 12.7 1 .2 1 9.9 1 1.1 1 2 1 .8 1 1.3 1 2.9 1 8.9 1 .9 1 21.1 1 5.2 1 22.7 1 22 1 8.1 1 11.1 2 2.8 1 17.5 1.8 .1 2 1 2 1 1 1 1 3.1 2 3 1 2.9 2 4.2 1 .7 1 .1 1 .1 1 .8 1 .2 2 2.1 1.7 .2 1 .9 1 1 1 .1 1 1.9 1 1.1 1.9 .1 1.9 .2 1 .8 1 .2 1.8 2.1 1 2.8 2 2 1 2 1 .2 1 3.9 1 1 2 .1 1 1 2.9 2 2 .2 1 1 1 1.9 1 1.7 1 2.3 2 1.7 1 1.2 3 1.8 1 1.1 1 1.2 1 2.7 1 3.3 1 .8 1 2 1 .3 1 3 1 4 1 1 4.8 1.1 1.8 .1 1 3.9 1 3.9 1 2 1 .4 2 5 2.8 .2 2.9 6.1 1 6.6 1 2.3 1 2.8 1 2.2 11.9 1.1 1 1 1.9 1 1 16.3 1 13.7 1 .4 1 1.8 1 2.1 1 5.4 1 3.4 1 .9 1 1 2 1.9 1 .3 1 6.9 1 2 1 6.7 1 4.2 1 6.8 1 25.4 1 15.1 1 30.8 1 3.2 1 12.9 1 22.7 1 6.8 1 3.5 1.6 7.5 1 18 1 8 1 3.4 1 9.3 1 15.2 1 9.1 1 .9 1 1.7 1 .2 1 13.3 1 18.8 1 .9 1 6.4 1 5.1 1 23.5 1 51 1 1.5 1 53.9 1 1.1 1 17.6 1 30.1 1 7.2 1 12.1 1.5 10.4 1 40.8 1 1.6 1 7.9 1 11.5 1 9.8 1 10.5 1 23.9 1 7.9 1 .1 1 4.9 1 19.7 1 1.2 1 23 1 2.9 1 4.4 1.6 2.3 1 4.9 1 9.1 1 2 1 16.9 1 6.9 1 6.2 1.8 4.2 1 5.9 1 6.9 1 9 1 18 1 1.2 1 3.9 1 .9 1 1 1 4.1 1 4.3 1 11.1 1 5.8 1 9.2 1 4.9 1 1.1 1 3.8 1 16.1 1 26 1 8.1 1 18.1 1 .8 1 4.2 1 11.6 1 6.1 1 11.1 1 2 1 8.1 1 11.8 1 21.2 1.8 26.3 1 .5 1 27.9 1 8.6 1 37.2 1 .5 1 8.4 1 5.4 1 22.4 1 5.9 1 36.9 1 10.8 1 74.7 1 13.7 1 10.9 1 6.8 1 5.3 1 4 2 2.2 1 44.9 1 3.4 2.7 .1 1 2.2 1 11.8 1 42.8 1 59.8 1 .7 1 3 1 3.4 1 15 1 14.9 1 5.6 1 23.6 1 40.7 1 2.7 2 1.6 1 .1 3 3.2 1.7 13.9 1 4 1 4.1 1 1.4 1 .4 1 6.1 1 4.6 1 .3 1 .4 1 2 1 1 1 4 7.9 .1 2.9 .1 1.9 .2 1 2.7 1 1.2 1 1 1 2.1 1 .9 1 1.1 1 .1 1.6 .1 1 1.2 1 .8 1 2.9 1 .3 2.8 5.1 2.9 3.2 1 1.9 1 3.2 1.6 4.2 3.9 .2 1 1 1.7 2 2 .9 1 .1 1 2.4 1 1.7 1 .1 1 .9 1.9 .1 1 1.3 1 1.8 1 6.1 2.8 .1 2 .8 2 1.1 1 4.1 1 5 2.7 2 1 2.3 1.9 1 1 1.2 1 .8 2 1.9 2 .3 1.8 1 1 .9 1 .3 1.7 .1 3.9 1 1 1.1 3.9 .1 1 .1 1 .9 1 1 1 .1 1 .9 1 2.1 1 .8 1 5.3 1 .8 2 3 1 .1 1.8 3 1 1.1 1 2 1 .1 2 .8 1 .2 3.8 .1 1 .1 1 .9 1 30.3 1 .2 1 6.8 1 1 1 1.1 1 15.8 1 11.1 1 8.1 1 .8 1 7.1 1 4.1 1 3 1 20.1 1 .9 1 9 1 6.1 1 12 1 9.8 1 1.3 1 6 1.8 1 1 5.2 1 15.9 1 20.7 1 5.3 1 6.6 1 .5 1 .5 1 25.4 1.9 10 1 22.1 1 12.6 1 8 1 5.7 1 14.6 1 30.3 1 6.4 1 37.1 1 .7 1 7.9 1.4 10.8 1 31.5 1 35.1 1 2.3 1 33.5 1 11.4 1 4 1 22.5 1 7.5 1 40.9 1 26.9 1 2 1 4.2 1 10.5 1 23.3 1 39.2 1 25.1 1 9.6 1 7.2 1 18.9 1 7 1 12.2 1 28.2 1 6 1 4.4 1 5.5 1.8 16.8 1 3.4 1 6 1 1.7 1 12.3 1 5.6 1 .1 1 10.9 1 8.1 1 4.2 1 11.9 1.9 25 1 .1 1 .1 1 3.9 1 5 1 3.8 1 .1 1 2.1 1 1 1 3 2 3.1 1 34.8 1 .1 2 4.1 1 20.9 1.9 2.4 1 .9 1 .1 1 3.1 2 .8 2 2 1 .2 2 .8 1 .2 1 .1 1 1.7 2 .2 1 2.9 1 .9 1 1.1 1 .1 2 1 1.9 .9 1 .1 1 1 1 .1 1.8 1 1 2.2 1 2.8 1 3 1 1 1 .1 1.9 .1 1 3.2 1 2 1 2.8 1 1.1 1 3.9 2 .1 1 .9 1 1.2 1 .9 1 2 1 1 1 3.9 1 1.1 2.8 1.4 1.6 1.1 2 2.1 1.8 .3 1 4.7 1 .1 1 3.1 1 .8 1 2 1 .2 1 .1 1 .1 1 1.9 1 1 1 .9 1 2 4.9 1.1 1.8 2.2 1.9 4.8 1 .1 1 .2 1 2.8 1 2 1 .1 1 1 1 .1 2.7 2.2 1 1.8 1 1 1 2.4 1 3 1.8 4.1 1.7 2.2 1 .2 3.8 .1 8.9 .1 2 2.8 1 6.8 1 26.2 1 12.2 1 .1 1.7 3.1 2 .1 1 6.3 1.7 20.2 1 10.9 1 46.5 1 79.2 1 10.7 1 3.8 1 5.4 1 38.9 1 8.1 1 1.1 1 1.1 1 5.5 1 12.3 1 3.6 1 32.2 1.8 5.2 1 2.2 1 13.1 1 26.1 1 32.9 1 50.6 1 36.9 1 54.9 1 5.3 1 11.7 1 8.5 1 8.9 1 7.4 1 18 1 29.2 1 18 1 8.1 1 1.1 1 7.7 1.9 15.3 1 11.8 1 6.2 1 17.8 1 19 1 20.3 1 2.7 1 1.1 1 46.1 1.9 11.4 1 2.9 1 18 1 1 1 1.2 1 9 1 1 1 61 1 .9 1 45.2 1 9 1 12.7 1 .9 1 8.4 1 16.7 1 13.8 1 1 1 27.6 1 .3 1 27.4 1 7.7 1 4.7 1 13.6 1 .3 1 7.3 1 3.3 1 .8 1 24.3 1 .2 1 73.7 1 18.3 1 38.6 1 9.3 1.6 28.1 1 1.2 1 14.8 1 29.3 1 4.5 4.6 3 1.8 4.2 1 20.3 1 39.8 1 5.8 1 .9 1 13.7 1 46.7 1 18.3 1 22.2 1 37.5 1 11.6 1 .3 1 1.2 1 1.9 2.9 .1 1 1.9 1 1.4 1 21.9 1 1.5 1 1.2 1 3.8 1 11.5 1 1 1 .7 1 .2 1.8 1.1 7.9 1 1 2.1 2 .8 1 .3 1 1.8 1 1.1 1 .8 1 2.9 1 1 1 6.2 1 1.2 1 1.8 2 2 1 2.9 1 .3 1.9 2.1 1 .7 1 .4 1.7 .2 1.9 5.9 4 1 1 .2 2.7 1.3 1 .9 1 3.1 1.7 .3 1.7 .3 1.8 1.9 2 .1 1 1.9 2 .1 1 3 2.9 1.1 2 1.9 1 1.1 1 2.1 1 1.1 1.8 2.8 1 4.1 2 2.1 2 .1 1 1 1.8 .2 1 2 1 .1 1 .7 1 .1 1 2 2 4 1 .1 2 .1 2 .8 1 .2 2.9 1.9 1 .1 1.8 1.2 1.9 1.1 1 2.9 1.9 2.2 2 2.1 1 .8 1 1.1 1 1 1 1.8 2 .2 1 1 1 1 2 .9 1 .2 1.9 4 2.9 1.1 1.9 1 1 11.4 1 8 1 3 1 23.1 1 29 1 6.8 1 4.2 1 10.8 1 4.2 1 8 1 2.6 1 16.1 1 12.3 1 2.7 1 13.2 1 13.1 1 1 1.9 3.9 1 25 1 7.3 1 .7 2.9 1.6 1 10 1 11.4 1 7.1 1 6.2 1 15.1 1 75.5 1 23.9 1 29.2 1 10 1 .2 1 43.8 1 29.2 1 11 1 6.8 1 1.6 1 1.6 1 48.5 1 .7 1 6.2 1 113.3 1.2 59.1 1 12 1 7 1 1.1 1 1.2 1 1.9 1 8.2 1 1 1 13.1 1 3.9 1 .1 1 7.6 1 4.3 1 15.6 1 1.6 1 23.4 1 .4 1 19.8 1 23.9 1 .1 1 5.3 1 4.9 1 1.7 1 16.2 1 5.9 1 3 1 1.2 1 2.9 1 1.2 1 4.8 1 .9 1 4 1 4.2 1 12.9 1 18 1 3.8 1 13 1 19.2 1 .1 1 7.8 1 17 1 3.1 1 2.5 1.7 1 1 .1 1 .1 1 1.1 2.7 2 1 1.3 1.9 1 1 1 1 1 2.9 1 1 1 1 2.2 2.8 2 2 1 1 2.1 1 2 1.9 .1 1 .9 1 1 1 .1 1.8 .2 1 2.1 1 3.9 1.8 .1 1 1 1 2.9 1 .2 1.8 5 1 .1 1 1.1 1 .9 1 .1 2.8 3.1 1 .1 1.7 1.4 1 1 1 2.7 2 .9 1 1.1 2 1 1 .2 2.9 1 1 2.1 1 3 1 5.1 1 1 1 1 1 3.8 1.8 3.3 1 .8 1 .2 1 1 5.9 .9 1 .3 1 1.8 2 4.2 1 4.9 2 1.8 1 1.1 1 .1 1 2.8 1 1.1 1 2.1 1 .8 1 .2 1 5 1 2 1.7 .2 1 2 1 1.1 1.8 .3 1.7 1.2 8.9 .1 1 2.8 1 3.4 1 4.9 1 2.9 1 .1 1 7.5 1 12.4 1 11.7 1 .4 1 1.9 3.9 2.3 1 28.1 1.9 12.1 1 18.3 1 11.9 1 9.6 1 .1 1 16.4 1 2.2 1 15.4 1 9.5 1 1.5 1 89.8 1 2 1 5.6 1 .1 1 .4 1 6.7 1 12.8 1 12.8 1 11.5 1 7.4 1 19.2 1 15.1 1 23 1 1.8 1 170.9 1 6.1 1 1.1 1 26.5 1 8.3 1 5.9 1 5.3 1 3.4 1 6.3 1 53.8 1 7.3 1.7 16.4 1 7.6 1 8.4 1 4 1 2.1 1 15.8 1 8.1 1 1 1 13 1 3.8 1 5.9 1 .2 1.8 10 1 4 1 2.3 1 11.9 1 99999"/>
<path d="M119 767.167h552v.3333h-552v.3333h552v.3333h-552v.3333h552v.3333h-552v.3333h552v.3333h-552v.3333h552v.3333h-552v.3333h552v.3333h-552v.3333h552v.3333h-552v.3333h552v.3333h-552v.3333h552v.3333h-552v.3333h552v.3333h-552v.3333h552v.3333h-552v.3333h552v.3333h-552v.3333h552v.3333h-552v.3333h552v.3333h-552v.3333h552v.3333h-552v.3333h552v.3333h-552v.3333h552v.3333h-552v.3333h552v.3333h-552v.3333h552v.3333h-552v.3333h552v.3333h-552v.3333h552v.3333h-552v.3333h552v.3333h-552v.3333h552v.3333h-552v.3333h552v.3333h-552v.3333h552v.3333h-552v.3333h552v.3333h-552v.3333h552v.3333h-552v.3333h552v.3333h-552v.3333h552v.3333h-552v.3333h552v.3333h-552v.3333h552v.3333h-552v.3333h552v.3333h-552v.3333h552v.3333h-552v.3333h552v.3333h-552v.3333h552v.3333h-552v.3333h552v.3333h-552" stroke-dasharray="0 6.9 1 .2 1 12 1 40.1 1 .7 1 2.1 1 1.9 1 5.1 1 2 1 6.1 1 32.7 1 5 1 9.4 1 16.7 1 5 1 2 1 1 1 4 1 18.9 1 14.3 1 11.8 1 4.2 1 20.2 1 23.8 1 .1 1 7.9 1 10.3 1 9.2 1 12.4 1 19.7 1 8.1 1 14.1 1 1.1 1 .7 1 14.2 1 11.9 1 18.1 2 2.3 1 56.5 1 24.5 1 8 1 3.5 1 33 1 27.3 1 3.1 1 .5 1 1.8 2 6.3 1 3.9 1 74.4 1 23.3 1 10.1 1 4.8 1 2.9 1 33.4 1 32 1 12.6 1 6.5 1 1.7 1 9.4 1 .6 1 3.8 1 1.3 5.8 1.3 1 2.6 1 5 1 13.1 1 4 1 6.3 1 5.6 1 3.5 1 .6 1 4 1 .2 8.9 .1 1.9 1.2 2 .7 2 4.2 1 3 1 1.7 1 .2 1 4.1 3 .9 1 1.9 1 .1 1 3.9 1 4 1 4.1 1 .9 1 .3 1 2 1 1 6.8 .1 1.8 .2 2.8 2 1 1.2 1 1 1 1.7 1 1.1 1 2.9 1 .1 1 1.2 1 1.7 1 1.4 1 2.1 1 .7 1 .9 1 .1 1 .8 1 .3 1 2.9 1.9 .1 2.9 3.1 1 2.9 1 1.1 1 .9 1 .1 1 .9 1 1 1 2.3 1 .8 1.9 8.1 1 1 1 2 1 .9 1 .2 1 .9 1 .1 1 .8 1 .2 2.8 .2 1.9 .1 2.8 3 1 4.1 1 .1 3.9 .9 1 .1 2.9 1 1 .1 1 .2 1 .9 1.9 1.1 1.9 .1 1 1.1 1.7 .1 2.9 4 1 .2 3.8 14.5 1 9.8 1 15.1 1 .1 1 17.9 1 9.1 2 15 1 5.2 1.6 .1 1 7 1 7.2 1 9.1 1 7.9 1 1.7 1 3.2 1 22.8 1 20.1 2 34.1 1 1 1 4 1 2.7 1 1.4 1 3.5 1 13.2 1 2.8 1 2 1 3.3 1 32 1 28.7 1 32.1 1 2.8 1 40.6 1 7.8 1 8.5 1 16 1 19.3 1 43.9 1 11.2 1.8 6.2 1 6.6 1 2.4 1 13.4 1 28.9 1 12.6 1 22.9 1 36.7 1 19.1 1 49.6 1 52.9 1 9.8 1 13.2 1 1.4 1 2.2 1 12.7 1 .2 1 10.3 1 .6 1 30.4 1.4 30.2 1 12.2 1.8 11.3 1 10.9 1 6.8 1 21 1 4.1 1 11 1 4.8 1 8.2 1 4.9 1 4.9 1 3 1 17.1 1 12.9 1 1.3 1.7 4.2 1 5.9 1 10.9 1 10.1 1 14 1 2.3 1 2.1 1 .8 2 .3 2.7 .3 1 .7 1 .3 1 1.7 1 1.2 1 .9 1 1.2 2.9 .9 1 2.2 1 .8 1 .9 3 .3 2 .8 1 1.1 1 .8 1 1 1 .2 1 1.1 1 .9 1.9 1.9 1 2 1 3.1 1 1.1 1 1 1.9 .9 1 1.1 1 1 1.9 1.2 1 2 2 .9 1 1 2 .2 1 2 1 .9 1 .9 1 .2 2 4.7 1 1.1 1 .8 1 1.3 1 .2 1 .7 3 2.2 3.6 2.1 4 3 1 1 1 1.2 1 1.8 1 2.1 1.9 2 1 4.2 3.9 2.2 1.7 2.1 1 3.2 2 .1 2.5 3.2 1 1.1 1 2.1 1.9 .1 1.9 1.1 1 1.6 1 .5 1.7 .8 1 .3 1 4.8 1 .2 1 .1 1 .9 1 1 1 .2 1 7.7 8 .1 1 5.7 1 2 1 26.4 1 1.9 1 11.9 1 1.2 1 .1 1 .8 3.9 4 1.9 17.2 1 .7 2 18.2 1 26.3 1 5.9 1 .2 1 1.8 1 .2 1 6.4 1 9.6 1 2.5 1 36 1 .3 1 15.7 1 6.2 1 25.2 1 4.2 1 39.4 1 1.1 3 2 1 3.9 1 37.3 1 11.1 1 3.3 1 17.7 1 .5 1 21.2 1 4.6 1 18 1 50.8 1 25.4 1 55.2 1 23.2 1 5.1 1 35.9 1 17.9 1 1.3 1.7 6.3 2 1.9 1 10 2 3.2 2 14.6 1 11.3 1 12.1 1 .1 1 1.9 1 12 1 1 1.7 2.1 1 1.9 1 7 1 5.3 1 22.8 1 30.2 1 .7 1 2.1 1 20 1 12.2 1 19.8 1 8.4 1 1.2 1 .9 1 23 1 26 1 .9 1 13 1 9.8 1 2.1 1 4.2 1 1.7 1 2.1 1 1 1 18.9 1 2.3 1 14.1 1 32 1 8.7 1 9.9 1 .2 1 2.3 1 2.8 1 16.9 1 1.8 1 6.6 1 23.7 1 57.9 1 1.1 1 58.3 1 3.4 1 35 1 46.3 1 10.8 1 17.1 1 28 1 4.2 1 .4 1 1 1 26.8 1 4.3 1 15.5 1 1.2 2.8 .5 1 6.9 1 101.8 1 15.6 1 32.4 1 4 1 32.7 1 12.5 1 15.7 1 1.1 1 2.2 1 4.7 3.9 1.9 1 1.1 1 .8 1 .9 1 2.6 1 2.5 1 13.4 1.7 8.5 1.8 5 1.8 1.5 1 1.7 1 2 1 .1 1.7 .1 7 .1 2.9 .2 1.8 2.1 1 4 1 3.1 1.6 3.1 1 3.9 3 2.4 1.9 .9 1 .8 1 .3 1 4.7 2 .1 1 7.1 1 1.9 1 .2 4.9 .1 2 1.9 1 .2 1 .9 1 1 1 1.2 2.7 4 1 3 2 1 1 .2 1 1.7 1 .1 1.8 1.3 1 1.9 1 .2 2 .7 1 .2 1 3 1 3.8 1 .1 1 3.2 1.9 4.9 1 1.1 2 2.1 1 2.7 1.9 1.1 2 .1 2 .1 1 .1 2.7 .2 1 1.9 1 1.1 1 3.8 2 .1 1 .1 1.8 1 1 1.2 2.8 .3 1 .9 1 .8 1 .2 1.9 .2 1 .9 1 2 1.8 1 1 .3 1.8 .1 1.8 .2 1 .9 1.9 .1 2 .1 2 1.8 1 .3 1 .9 1 .9 1 8.3 1 2.9 1 4.1 1 50.9 1 22.3 1 6 1 6.1 1 7 1 20.7 1 39.2 1 4.8 1 9.1 1.9 13.1 1 27.9 1 11.6 1 20.6 1 13.7 1 8.5 1 2.5 1 17.2 1 7.1 1 3.3 1.2 .1 1 1.6 1 3.3 1 4.7 1 25.5 1 37.5 1 8.3 1 21.1 1 1.4 1 34.7 1 36.1 1 17.9 1 2.9 1 34.2 1 12.3 1 5.1 1 .8 1 .6 1 .2 1 .8 1 118.9 1 40.7 1 31.7 1 12.4 1 17.5 1 14.3 1 1.4 1 2.6 1 .4 1 2.6 1 1.7 1 30.8 1 2.8 1.7 19 1 5.1 1 16.1 1 20.1 1 1.6 1 1.4 1 20.7 1 16 1 6.9 1 10.1 1 2.1 2 9.1 1 25 1 2.8 1 32.2 1 17.2 2 .9 2 1.2 1 .9 3 .1 1.8 3.1 1 2.1 1 .1 2.7 .1 1 2.1 1 4 1 .8 1 .1 1 .9 1 4.2 3.8 1.2 2.8 .2 1 1.1 1.9 .1 1 .8 3 .1 3.8 .1 1 .1 1.8 .2 1 .9 5 1 1.8 .3 1 .1 1 1.9 1 1.9 4 1.2 1 3.9 1.7 3.3 3.8 1.3 1.9 1.9 1 .2 1 1.8 2 6.1 1.8 1 2.9 10.1 1 .2 1.7 2.4 1.8 1 1 .1 1 2.9 2 .1 1 7.7 1 4.1 1 1 1 1.2 1 3.8 1 1.1 1 .1 2 1.9 1 .1 1 1.7 1 2.1 1 2 1.9 5.4 1.6 1.2 1 4 2 1.1 8.9 .1 1.9 1.1 1 3.9 1 .4 1 2 1.7 3.6 1 2.1 1 29.3 1 2.1 1 1.1 4.7 .1 3 1.2 1 5.9 1 13 1 5.1 1.5 2 1 6.4 1.6 10 1 44.7 1 5.2 1 37.2 1 72.9 1 1.4 1 22.9 1 .8 1 17 1 19.7 1 13 1 20 1 7.5 1 3.1 1 16.4 2 20.6 1 83.7 1 7.8 1 103.2 1 49.5 1 7.2 1 23.6 1 .9 1 .2 1 1.2 1 2.9 1 2.7 1 4.1 1 4.2 1 8 1 2 1 8 1 2.9 1.9 7.3 1.8 1.8 1 2.4 1 6.9 1 27.9 1 5 1 20.1 1 6.1 1 8 1 9.9 1 3.1 1 8 1 20.1 1 1.1 1 8 1 4 1 .9 1 8.1 1 2.9 1 1.1 1 19.9 2 4.1 1 5.2 1 12.6 1 7.1 1 25.3 1 14.8 1 11.9 1 11.9 1 .3 1 5 1 27.9 1 14.1 1 .7 1 4.5 1 12.1 1 26.5 1 .9 1 6.2 1 2.3 1 1.4 1 20 1.9 25.3 1 .7 1 3.7 1 59 1 17 1 41.6 1 52.4 1 3.1 1 5.8 1 12.8 1 16 1 24.5 2.8 .1 1 .6 1 6.4 1 27.9 1 24.5 1 16.4 1 5.3 1 33.5 1 11.1 1 44.5 1 15.6 1 39.4 1 5.7 3 .1 1 1.7 1 1.1 1 2.4 3.3 .3 1 11.3 1 8 1 6.8 1 2.4 1 11.6 2 1 6 2.1 1 2 1 .1 1.8 1 1.8 .4 2 2.9 1 11 2 1.8 1 .1 2 3 1.8 .1 1 4 2 1.4 1 2.7 1 .1 1 .1 1 2.8 1 .1 3.9 2.1 1 .2 2.8 1 1 3.7 1 1.4 1.7 1.2 1 .7 1 .4 1 2.9 1 3 1.7 .1 1.9 .4 1 1.8 1 .8 1 2 1 3 1 1.4 1.7 3.9 1 .4 1 .8 1 5.1 2 2.1 1 1 1 1 1 .7 3 .1 1 2.9 1 1.3 2.8 .1 1 1.1 2.8 1 1 1.9 2 .2 1.8 .1 1 1.1 1 1 1 .8 1 2 1 1.1 1 .9 1 3 1 1.2 1.8 .2 1 1.9 1 1.1 1 .1 3.7 .3 1 .7 1 1.1 1.9 1.1 2 1 1 1.1 3 .8 1 .2 1 28.3 1 12.8 1 15.1 1 19 1 8.3 1 18.8 1 2.1 1 .9 1 15.1 1 4.1 1 1.8 1 1.1 1 38.9 1 17 1 8.9 1 20.7 1 6 1 3.3 1 15.8 1 .9 1 3.3 1 29.6 1 1.1 1 19.2 1 1.5 1 5.2 1 3.5 1 15.6 1 1.7 1 13.3 1 2.7 1 4.5 1 .2 1 25.3 1 27.6 1 18.4 1 .3 1 36.3 1 12.2 1 21 1 4.6 1 24 1 36.6 1 25.3 1 14.3 1 17.6 1 4.8 1 5.1 1 2.6 1 12.3 1 .4 1 7.4 1 51.1 1 30.8 1 37.6 1 4.9 1 14.8 1 14.8 1 9.9 1 1.3 1 10.9 1 .4 1 11.7 1 12.9 1 5.3 1 7.9 1 16.6 1 5.1 1 5 1 17 1 9.1 1 15.9 1 1.3 1 2.9 1 3.8 1 10.3 1 23.9 1 11 1.9 29 1 24.5 1.9 .2 2.7 .1 2 2.1 1 .8 1 6.1 1 1.2 1.9 4 1 1.9 1.9 4.2 1 .9 1 .1 2 .8 2 1.2 1 1 1 .9 1 1 1 5.2 2.9 .1 1 .7 1 1.2 2.8 2.1 1 1.1 1.9 1 1 1.1 1 3.1 1 1 1 .8 2 .2 1 .9 1 .8 1 1.2 1 2 3.8 1 2 .2 1 3 1 .1 1 2.8 2 5.3 1 1.8 1 2.1 2 2 1 1.1 1 3.5 1 5.4 1 .6 1 3.2 3 .1 2 1.1 1 .9 1 1.2 1 .9 1 .7 1 6 2 3.1 1 1 2 1.8 1 3.5 1 .9 1 1.6 1 .2 1 .8 1 1 1 2.4 1.7 4.1 1.9 2.1 1 .1 10.9 .1 1 .9 1 3.1 1 2.6 1 .2 1 21.4 1 15.4 1 4.2 1 1 1 .1 2 1.8 1 1 1 3.3 1 6.3 1 91.4 1 53.6 1 54.7 1 8.6 1 2.8 1 7.3 1 4.2 1 .1 1 1.1 1 .2 2 4.4 1 25.2 1 4.2 1 7.4 1 5.8 1 12.9 1 8 1 34.5 1 27.6 1 49.8 1 28.2 1 41.9 1 1 1 4.2 1 22.7 1 4 1 .2 1 10.5 1 11.5 1 10.9 2 1.5 1 .6 1 1.9 1 6.9 1 2.4 2 38.7 1 .1 1 6.1 1 1.8 1 7 1 4.3 1 4.9 1 10.7 1 1.4 1.9 21.7 1 14 1 4 1 6.1 1 6.9 1 .1 1 7.1 1 33.9 2 3.9 1 4.1 1.9 7.3 1 39.1 1 13.1 1 12 1 18.1 1 7.1 1 18.8 1 .9 1 10.2 1 2 1 1.7 1 4 1 31.3 2 1.9 1 60.1 1.9 44 1 13.9 1 7.7 1 1 1 .3 1 55.1 1 9.2 1 5.6 1 87.1 1 7.1 1 41.3 1 4.6 1 .1 1 6.7 1 7 1 3.1 1 18.3 1 3.2 1 5.3 1 6.6 1 2.3 1 6.8 1 .1 1.9 .1 1.9 6.4 1 3.5 1 50.1 1 16.2 1 2.6 1 2.6 1 8.5 1 7 1 49.1 1 40.6 1 2.6 1 1.9 1 21.1 1 5.8 1 .4 1.8 6.9 3.9 7.4 1 1.7 1 25.8 1 .6 1 3.9 1 5.7 1.8 4.1 1 .1 9.9 .1 1.8 2.3 2 .8 1 1.9 1 .2 1 9 1 4 1 1.7 2 1.4 1.8 2.1 1 1.1 1 2.8 1 1.9 2 7.2 1 1 5.9 2.1 1.8 1.4 2 .7 1 1.8 1 .3 1 1 1 1 1 1.1 1 1.8 1 2.2 1 1.1 1 3.8 1 1.9 2 .2 1.8 .2 1 .8 1 1.1 1 4 1 .1 1.8 1.1 1 .9 1.9 2.1 1.9 .3 2.8 .9 2 3 2 1.3 2.7 1 1 1.3 1.9 .1 1 1.9 1 .1 1 1.9 1 2 1 1.8 1 1.3 2.8 .2 1 1.9 2 .1 2.7 2.2 3.9 .2 1.8 3.1 1 .9 1.9 1.1 1.9 .2 2 .8 1 1.3 1 1.7 1 .2 1.9 1.9 1 3.1 1 .1 4.9 11.5 1 8 1 24.9 1 .1 1 5.8 1 5 2 1.9 2 3.1 1 30.2 1 1.1 1 13.7 1 10.3 1 11.7 1 3.1 1 6 1 6.9 1 2.1 1 3.1 1 11.1 1 3.8 1 5.8 1 7.3 1 25 1 11.7 1 7.4 1 3.8 1 1.1 1 8 1 2.3 1 13.8 1 42.5 1 1.9 1 24.8 1 24.7 1 5.8 1 34.5 1 12.7 1 61.7 1 17.3 1 13.5 1 10.8 1 12.5 1 53.4 1 54 1 35.2 1 6.6 1 5 1 2.2 1 20.3 1 81.5 1 2.2 1 8 1 28.4 1 11.6 1 1.6 1 3.6 1 18.8 1 .2 1 7.5 1 3.1 1 3.1 1 .1 1 5.2 1 5.7 1 .8 1 1.4 1 25.1 1 12 1 9.8 1 1.8 1 4.4 1 2.8 1 5.9 1 8 1 14 1 8.2 1 .1 1 14 1 .7 1 15.2 1 5.7 1 9.3 1 12.3 3.8 1.2 1 1.1 1.8 1 1 2 2.9 3.2 3 3 1 3.9 1 .1 1 2.8 1 2.2 1 .8 1 .1 1 .1 1.9 .2 1 .9 1 1 1 .1 1 .7 2 .2 2.8 .1 1 .2 2.7 1 1 2.1 1 .2 2.9 1.8 1 2.3 1.7 .1 1 .2 1 1 1.9 .1 1 1 2.8 3.9 1 2 1 4.1 1 .9 1 1.1 1.8 1.3 1.7 2.2 1 1 2 4.9 1 5.3 1 2.7 2 .3 3 .8 2 1.3 1 .9 1 4.9 1.8 .1 4 2.9 2.9 3.3 2 .8 1.9 2.4 1 2.8 1 1.8 1 .2 1 2.9 1 1.4 1 4.5 1 1.4 1 .1 1.5 1.2 1.8 .2 1.8 .3 1 1.1 1 3 1 .9 1 2 7.9 1 1 .2 1 3.6 1 .4 1 1.9 1.5 2.3 1.7 5.8 1 10.3 1 10.6 1 9.8 2 1.9 2 1 1 8.7 1 14.8 1 7.6 1 29.6 1 17.5 1 42.8 1 17.6 1 13.4 1 1.4 1 64.5 1 15.2 1 .1 1.7 42.1 1 1.4 1 .3 1.9 1.8 1.7 16.5 1 5.6 1 37.1 1 13.4 1 1.6 1 19.1 1 38.4 1 .5 1 34.3 1 12.8 1 24.6 1 23.5 1 4.1 1 1.5 1 7.1 1 9.4 1 22.6 1 9.1 1 9.2 1 12.8 1 1.2 1 40.8 1 9 1 .2 1 27.9 1 1.7 1 17.3 1 .9 1 3.2 1 1.9 1 56 1 .1 1 4 1 15.8 1 23.4 1 7.1 1 1.8 1 54.1 1 6.9 1 8.2 1 3.9 1 13.8 1 1 1 1 1 2.1 1 .2 1 4.7 1 2 1 .9 1 2.1 1 46.2 1 8.2 1 5 1 23 1 22.9 1 2.9 1.9 3 1 3.1 1 5 1.7 4.3 1 8.9 1 10 1 15.1 1 4.2 1.8 7.2 1 24.5 1 13 1 107.7 1 2 1 1.7 1 33 1 2.2 1 8.9 1 1.9 1 1.9 1 25.8 1 19.4 1 .3 1 2.8 1 .9 1 8.3 1 17.6 1 14.3 1 25.5 1 25.7 1 5.6 1 27.9 1 25.2 1 2.3 1 25.9 1 5.8 1 6.8 1 15.1 1 3.7 1 8.6 1 7.9 3.9 2.7 1 26 1 5.9 1 1.5 1 6.3 1 1.4 1 2.4 1.7 .1 1 .2 1 .9 8.9 .1 1 .9 1.9 .3 1 4.8 2 1.2 1 1.1 1 3.7 1 2.9 1 .4 1 2.8 1 1 1 .9 1.8 9.1 1 .9 1 2 1 2.4 1 .7 1 .2 2 .9 4 1 1 .2 1 .1 1.7 .2 1.9 1.8 1 4.3 2 2.8 1 3.9 1 2.2 1 4 1.7 .2 2.9 .3 1.9 .1 1 2.1 2 2.7 1 .2 1 2 1 2.7 1 4.3 1 .9 1.9 5.1 1.8 1.2 2 .1 1.6 .4 1 .7 1 1.1 1 1.1 1.8 .2 2.9 1.2 1 .9 2 1.1 2 1 1 1.9 3.8 .3 1.8 .2 1.7 1.1 1 1.2 1 .8 1 .1 1 .1 1 1 2.8 .2 1.9 2.8 1 2.2 1.8 .1 1 .1 2 .1 1 .9 2.8 .2 2 .8 1 .1 1.9 .2 2 25.2 1 5.2 1 16 1 7.8 1 1 1 27.9 1 5.1 1 2.2 1 4.1 1 2.6 1 8.1 1 9.3 1 2.9 1 5.9 1 9 1 12.9 1 2.3 1 2.8 1 .8 1 8 1 1.2 1 4.7 1 20.2 1 10 1 3.8 1 2.9 1 6 1 6.1 1 .2 1.8 3.7 1 15.7 1 1.3 1 6.6 1 7.1 1 7.7 1 1.3 1 32.1 1 10.4 1 15.3 1 37.9 1 4.6 1 18.2 1 14.3 1 59.3 1 4.4 1 4.3 1 4.3 1 12.7 1.9 3.8 1 20.1 1 21.2 2 12.1 1 7.2 1 13 1 .7 1 8.5 1 27.1 1 64.5 1 74.3 1 4.2 1 3.5 1 7.6 1 3.3 1 34 1 3 1 14.8 1 3.7 1 3 1 10 2 27.7 1 1 1 1.3 1 6 1 .9 1 22 1 9 1 4 1 10.2 1 18.8 1 8 1 4.9 1 3.1 1 19 1 20.9 1 3.2 1 5.8 1 4.1 1 7.8 1 11.2 1 3 1 3.9 1 1.6 1.7 1.2 1 1 2 1.9 1 3.2 1 .9 1 1.8 1 2 1 1.3 1 .7 1 1.1 1 2 1 1.2 1 2 1.8 1.1 1 2.8 1 3.1 1 .1 1.8 .2 1.9 2.9 2 .3 1 .8 1 1.1 1 1.8 1 1.3 1 2 1.7 1.3 1 .8 1 2.9 1 .2 1 1 1 .9 1 1.2 1 1.1 1 2.7 1 3.1 1 .1 1 2.8 1 .1 1.9 .1 1 2.1 1 2.8 1 1.8 1 2.2 1 .2 1.6 2 1 1.3 1 .8 1 2.3 1 1.7 1 .1 1 .2 2 1 1 2.8 1.8 .3 1 2.9 4 1 1.9 2.1 1 2.9 1.9 .1 1 2.4 1 2.7 1 5.1 1 1.7 1 4.5 1 .7 1 .9 1 8 1 2 1 .3 1 3.8 3 .1 10.9 7.1 1 .3 1 14.1 1 1.6 1 24.1 1 .6 1 2.3 3.9 2.3 1.9 80.3 1 57.2 1.9 16.8 1 17.3 1 12.1 1 .2 1 15 1 16.7 1 13.3 1 2 1 .1 1 1.5 1 42.8 1 1.8 1.9 .6 1 7.9 1 .8 1 20.6 1 25.6 1 2.1 1 23.3 1 .1 1 9.5 1 6.1 1 1.8 1 8.1 1 1.3 1 19.4 1.9 26.7 1 32.3 1 7.4 1 1.8 1 6.2 1 23.2 1 12.6 1 1.3 1 11.6 1 .8 1 5.3 1 4 1 4.7 1 .5 1 32.7 1 5.9 1 .4 1 10.8 1 22.9 1 16.8 1 1.2 1 6.3 1 6.6 1 1.1 1 14.9 1 10.2 1 1.8 1 .3 1 1.9 1 4.9 1 4.2 1 8.8 1 23.2 1 11 1 13 1 .9 1.8 14.5 1 40 1 6.9 1 1.9 1 27.2 1 6 1 8.8 1 8.2 1 14.2 1 13.9 1 6.1 1 7 1 2.6 1 11.1 1 5 1 7 1 5.1 1 .8 1 .4 1.9 3.6 1 .1 1 21.3 1 1.8 1 5.5 1 1.6 1 2.4 1 13 1.6 14.1 1 2.9 1 33 1 .9 1 24.4 1 1.7 1 21.7 1 4.5 1 61.6 1.9 1.6 1 82.8 1 4.3 1 3.5 1 10.2 1 44.2 1 1 1 1 1 .1 1 1.2 1 3.4 1 23.2 1 28.7 1 4.9 1 6.9 1 22.8 1 126.2 1 12.6 2 .2 1.7 1.1 2 .9 1 1.1 1 1.8 1 23.6 1 5.8 1 8.8 1 1.2 1 3.8 1 .2 1 .9 1 1.9 6 .1 3 .1 1.9 1.1 1 3.9 1 8.9 1 .3 2 1.7 1 .2 1 .6 1 2.5 1 .7 2 1 1 1.9 1 1.2 1.6 1.6 1 .9 1 9.8 5 .9 1 2.1 1 .2 2 .6 1 1.5 1 2.8 1 3.2 1.9 .9 1 3.2 1 .8 1 1.1 1 3 3.8 3.8 1 .3 2 1 1 2.1 1 2.7 1 4.3 1.9 .8 1 1.2 1 .9 1.9 .1 1 2 1 1.2 1.7 1.1 1 2.1 1 3.9 1.9 .1 1.9 .1 1 .1 2 .9 1 1 1 2 2 2.1 1.9 .1 1 1 1.8 3 1 1.1 1.9 1.2 1.9 4.9 2 .2 1 .1 1.8 1.9 1 3.1 2 .2 1.7 .1 1 1.2 3.8 1.1 1 1.8 1 19.5 2 11.8 1 2.2 1 10.8 1 7.3 1 8 1 6 1 2 1 13.9 1.8 2.2 1 18.9 2 4.9 1 29.2 1 2 1 .2 1.8 .7 1 5.3 1 5.1 1 6.1 1 11.7 1 2.8 1 5.3 1 14.9 1 8.8 1 37.6 1 1.5 1 9.2 1 6.3 1.8 29.1 1 12.1 1 55.9 1 17.4 1 87.3 1 .1 1 21.6 1 40.4 1 10.7 1 5.3 1 17.6 1 11.5 1 20.6 1 31.5 1 8.3 1 114.1 1.5 .6 1.6 .3 1 14.1 1 24.6 1 16.2 1 3.6 1 17.2 1 5.3 1 29.7 1 3.1 1.8 1.9 1 7.4 1.6 8.1 1 26 1 22.1 1 11.1 1 8.9 1 14 1 6.1 1 7 1 12.7 1 17.1 1 12 1 6 1 8 1 .9 1 3.4 1 2.1 1 3.2 1 4.8 2.9 .2 1 1 1 2 1 .8 1 1.2 1.9 .9 2 .1 1.9 .3 1 .7 1 1.3 1.8 .1 2 .8 1 2 1 2.2 1 5.9 1 .9 2 6.1 3.9 .3 1.8 .2 1 3 1 4 1 2 1 .7 1 1.1 1 1 1.9 2.9 1 .3 1.9 1.9 1 4.3 1.6 .1 1 1.9 1 .3 1.9 2 2 .2 1 3.7 2.9 .5 1 3.5 1 1.1 1 .2 1 1.2 1 .8 1 .7 1 2.1 1 .2 1 1.8 3 1.2 4.9 1 1 1.1 1.8 2.1 2 3 1.8 .3 1.9 8.9 1 .4 1 1.7 1 2.3 1 .9 1 .1 1 .7 1 .1 1 1.1 1 3.9 1 2.8 1 .4 1.8 3 1.8 .1 1 .1 6.9 .1 2.8 .2 1 .1 1 .7 1 8 1 13.4 1 14 1.7 6.9 1 2 2 2.1 3 2.1 1 1 1 .9 1 13.3 1 25 1 6 1 47.8 1 10.6 1 5.7 1 13.7 1 5.8 1.7 42.1 1 37.4 1 2.9 1 7.9 1 .5 1 .8 1 .7 1 .2 4.8 .9 1 1.8 1 3.6 1 59.1 1 4.7 1 3.3 1 22.9 1 13.6 1 .4 1 7 1 6.1 1 122.9 1 7.4 1 2.6 1 .3 1 11.7 1 1 1 37.1 1 5.4 1 .8 1 1.9 1 1.8 1 .8 1 2 1 7.9 1 3.5 1 1.1 1 16.9 1 7.1 1 2 1 19.7 1 8.4 1 4 2 3.7 1 18.1 1 8 1 4.7 1 .1 1 .4 1.8 17.9 1 5.1 1.9 8.2 1 4.7 1 13.1 1 1.1 1 5.9 1 .2 1 4.8 1 9.2 1 23.9 1 1 1 .9 1 4.2 1 1.3 1 4.9 1 9.1 1 19.1 1 5.8 1 .9 1 9.2 1.7 1 1 18.1 1 12.1 1 25.3 1 37.4 1 6.1 1 2.4 1 14 1 7.8 1 1.3 1 28.4 1 5.5 1 5.8 1 7.4 1 2.2 2 9.4 1 29 1 19 1 12.8 1 1.1 1 8.3 1 41 1 15.2 1 30.3 1 3.7 1 45.8 1 27.6 1 5.4 1 6.7 1 40 1 15.4 1 3.2 3.7 6.8 1 7.3 1 32.3 1 19.8 1 28.6 1 16.6 1 9.9 1 26 1 21.5 1 23.1 1 18.9 1 14 1 4.5 1 .8 2 1 1.9 45.2 1 7 1.8 .1 8 1 2 .1 1.8 3.2 1.8 1.3 1.6 7.4 1 6.1 1.9 2 1 .7 1 .1 2.7 4.5 1.9 1.2 3.6 3.3 1 .1 1 .9 1.7 1.3 5.8 1.1 1 4.1 1.7 1.2 1 4.2 1 .5 1 1.4 2 4 1 2.1 1.5 .4 1 2 2.8 4.2 1 1.8 1 5 1 .9 1 1.9 1 .4 1 2 1 8.8 1 .1 1 1.8 1 1 1 2.3 1.8 2.1 2.9 1.9 1 2.1 1.9 .1 1 .9 1.9 2.3 1 .9 1 1 1 1.1 1.9 .9 1 1 1 .1 1.9 1.1 1.9 .1 1 1 1 5 1 3.1 1 4.8 1 1.2 1 .8 1 1.2 3 1 1 2.9 1 2.5 1 2 1 8.7 1 1.4 1 2.6 1 45.2 1 1.8 1 25.2 1 1.7 1 5.4 1 2.1 1 27.8 1 20.9 1 .2 1 9.2 1 7.4 1 2.3 1 2.3 1 16.6 1 15.1 1 6.8 1 10.8 1 12.1 1 2.3 1 5.7 1 19.2 1 2 1 2.1 1 9.7 1 11.5 1 3.2 1 5.9 1 1.2 1 14.8 1 80.8 1 .3 1 31.1 1 .4 1 42.2 1 13.5 1 1 1 6.5 1 20.8 1 28.4 1 47 1 8.2 1 .9 1 21.9 1 5.8 1 15.5 1 7.1 1 13.6 1.6 33.8 1 35.9 1 7.3 1 .3 1 28.9 1 6.4 1 5.8 1 .8 1 16.6 1 2.9 1 9.5 1 2.6 1 13.7 1 1.8 1 19 1 4 1 3.4 1 6.9 1 14.9 1 12.1 1 2.8 1 23.2 1 4.8 1 8.9 1 4.9 1 16.2 1 1.9 1 .3 1 13.9 1 2.8 1 34.2 1 8.9 1 9.1 1 10.1 1 .2 1.7 .4 1 3.9 1 .9 2.8 4.2 1 4.1 3 5 1 .1 1 .9 1 .1 1 1.9 1.8 3.3 1.7 1.1 1 .1 1 1.1 2.7 5 1 .9 1 7.1 2 1.9 2 .1 1 1.2 1.8 3.1 1 2 1.9 3.3 1 5.8 1 4.2 1.6 1.5 1.5 .1 1 .2 1.7 1.2 1.9 .9 1 2.3 1.7 .2 1 1.8 1 4.4 1 3.6 1 4.3 1 3.2 1 1.6 2 .1 1 .1 2.9 1.1 1 1.1 1 1.1 2.7 .8 1 .4 1 10 1 2 2.7 .1 1 4.3 1 .9 1 .8 1 5.1 1.8 .3 1 2.6 2 1 1 1 1 .3 1.8 2.2 9.9 .8 1 1.2 1 2.7 1 21.6 1 25.8 1 .9 2 .1 1.9 4.9 1 5.7 1 37.1 1 6 1 18.3 1 13.2 1 31.8 1 22 1 28.4 1 35.2 1 4.1 1 24.3 1 .1 1 4 1 20.2 1 .3 1 11.4 1 6.5 1 16.7 1 11.3 1 4.7 1 40.5 1 6.6 1 35.7 1 39.9 1 47 1 7.6 1 33.9 1 29.1 1 .8 1 14.2 1 30.8 1 31.9 1 2.2 1 4.3 1 1.5 1 5.3 1 16.1 1 4.5 1 4.1 1 44.4 1 10.7 1 .9 1 1.1 1.9 1.1 1 11.9 1 4 1 6.4 1 9.6 1 15.1 1 .1 1 5 1 5.1 1 8.2 1 10 1 6 1 8.8 1 .1 1 2 1 14.3 1 6.8 1 2.2 1 15.7 1 2.2 1 21 1 10.1 1 3.8 1 11.9 1 18.9 1 5.5 1 5.4 1 2.5 1 3.7 1 2.9 1 6.1 1 41.9 1 40.2 1 3.9 1 .9 2 24.3 1 9.6 1 22 1 27 1 20.1 1 5.3 1 23.3 1 51.4 1 55.1 1.9 40.9 1.2 1.4 1 .1 3 .1 1 4.8 1 7.5 1 1.6 1 .5 1 37.5 1 .3 1 19.3 1 7.6 1 4.4 1 .7 1 46.2 1 33.1 1 1.5 1 29.5 1 7 1 21.6 1.8 1.8 1 1.1 1 .1 1 1.1 1 2.4 1 12.7 1 13.9 1 3.1 1 .5 1 6.5 1 4.6 1 .1 1 1.2 2.7 .1 8 .1 5.7 8 1 1 1 10.2 1 1.9 1 1.1 2 1.8 1 .3 1 .8 1 1.2 1 5.8 1 1.3 1 1.6 1 2.2 1 .1 4.9 1.2 1 2.6 1 7.3 1.8 1.3 1 3.6 1 6.1 1 6.1 1 .2 1 4 1 .1 1 3.8 1 1 1.9 .9 1 1 2 .9 1 1.3 1 1 2.9 .2 1 .8 1 .8 1 1.4 1.6 .4 1 .8 1 3 1 .9 1 .2 2.9 1.1 1 .7 1 2.3 1 3.1 1 .9 1.8 .2 1 .8 1 3 1 1.3 2.8 .2 1.8 .1 1 .1 1 1.6 1 .2 1 2.2 1 .8 2 1.9 2 .3 1 1.9 1 .8 1 .9 1 .2 1 1.8 1 2.1 1 .3 1 1.8 1 2.5 1 8.9 1 2.8 1 .4 1 2.7 1 6 1 11.2 1 12.9 1 1.1 1.8 8.1 1 1.1 1 15.6 1 26.3 1 4.8 1 .1 1 33.2 1 4 1 1 1 .1 1 2.6 1 14.9 1 7 1 2.4 1 3.7 1 1.1 1 .2 1 17.9 1 11.4 1 20.5 1 8.2 1 26.8 1 23.3 1 95.8 1 27.2 1.9 44.9 1 5.1 1 11.8 1 6.7 1 1.4 1 2.1 1 .1 1 55.2 1 16.9 1 64.8 1 16.2 1 1.7 1 15.1 1 14.6 1 59.4 1 11.9 1 1.7 1 3.9 1 1.6 1 17.4 1 8.8 1 3 1 8.2 1 .4 1 1.6 1 6.1 1 4.5 1.7 2.8 1 4.9 1 .1 1 15.8 1 31.8 1 24.7 1 29.4 1 6.1 1 5.6 1 10.4 1 1.7 1 4 1 13.9 1 24.1 1 6.9 1 13.2 1 20.1 1 5.7 1 4.4 1 7.2 1.9 .1 1 1.1 1 .8 1 4.8 1 .2 1.9 3 1 .2 1 .1 3.7 .1 1.9 .3 2 2 1 1 1.7 1 1 .1 1.9 2.1 2.9 .3 1 1.7 1 3.3 2 2.8 2 2.1 1 1 3 .9 2 2.2 1 1 1 .9 1 .2 1.5 .4 1.6 3.1 1 .2 1.9 2.2 1 .9 1 .1 2 2.8 1 2.2 1 .1 1.6 1.3 1 .1 1 .6 1 1.8 1 1.3 1 .1 1 10.9 1 2.1 1 5.9 1 2.1 1 1.8 1 1.2 1.8 .9 1 .2 1 1 3 .2 1 3.1 1.8 2.2 1 1 1 4.9 1.8 1.2 1 .8 1 2 1 .1 1 6.9 1 6.9 1 2 1 2.2 1.7 3 1 1.3 2 .9 8 .1 3.8 1.1 1 3.3 1 .7 1 6.9 1 23.1 1 3.9 1 5.4 1 3.8 2.9 2 2 7.3 1 69.3 1 15.6 1 30.9 1 27.9 1 2.9 1 6.1 1.7 20.7 1 48 2.5 .2 2.9 5.2 1 .5 1 3.4 1 2.3 1 28.1 1 27.6 1 12.3 1 10.9 1 109.3 1 4.5 1 1.3 1 1 1 10.6 1 9.7 1 51.2 1 8.6 1 4.6 1 .1 1 7.9 1 26 1 13 1 14.2 1 6 1 5.2 1 4.1 1 .6 1 .3 1 .2 1 9.7 1 8.7 1 1.6 1 6.7 1 1.2 1 12 1.5 4.5 1 2 1 9.7 1 1.1 1 1.2 2 14.6 1 8.4 1 1.8 1 4.1 1 21.1 1 1.8 1 8 1 16 1 18.9 1 4 1 2.9 1 15.7 1 1.8 1 47.2 1 20.7 2 7.1 1 .7 1 1.5 1 16.6 1 6 1 7.2 1 26 1.8 4.4 1 4.6 1 1.9 1 3.5 2.6 7.5 1 5.4 1 32.2 1 16.7 1 7.1 1 21.5 1 2.8 1 .4 1 2.7 1 7.2 1 6.7 1 10.8 1 25.5 1 36.3 1 5.7 1 6.7 1 6.3 1 2 1 49.1 1 35.4 1 28.5 1 18.1 1 20.2 1 19.6 1 .2 1 2.7 1 1.3 1 10.5 1 20.2 1 43 1 1.3 1 7.2 1 61.5 1 5 1 9.6 1 8.5 1 5.2 1.5 11.1 1 3.3 1 22 1 7.9 1 .2 1 1.6 1 3.2 1 .1 2 .1 1 10.9 1 2.8 1 .3 1 6.7 1 5.4 1 3.2 1 9.7 1 1 1 5.7 1 .1 1 .2 1 .9 6 1 1 .1 2 1.1 1 2 1 .9 1 4.8 1 .3 1 5.1 1 2 1 4.4 1 1.4 1.9 2.1 1 1 1 4.7 1 3.9 1 .7 1 2.4 1 .5 1 1.7 3 .1 1 .9 1 .8 1 .1 1 4.4 1 5.9 1 4 1 1.9 1 2 1 1.6 1 1.6 1 .7 2 2.3 1 6 1 .9 1 6.6 1 3.1 1 1.1 1 2.1 1 3.8 1 .1 1 1.1 1.9 1.1 2 .1 2 1.7 1 1.2 2 .2 1.5 .1 1 3.4 1 .9 1 .9 2 1.9 1 2 1 2.2 1 5.8 1.8 .2 1 4.1 3.8 1.3 2.8 1.2 2 .9 2.9 .2 1 2 1 .8 1 1.1 2 1.9 1 29.3 1 4.1 1 1.8 1 .2 1 .1 1 6.9 1 5.1 1 8.9 1 6.7 1 15.3 1 13.7 1 2.5 1 16.9 1 9.1 1 31.4 1 3.2 1 27.1 1 4 1 19.7 1 4 1 1.4 1 5 1 34 1 12.7 1 40.9 1 6.2 1 25.6 1 15.8 1 22.8 1 113.7 1 6.2 1 5.5 1 3.9 1 2.5 1 44.4 1 9.4 1 26.3 1 7.2 1 7.9 1 1.6 1 3.6 1 4.5 1 4.6 1 50.4 1 5.3 1 51.5 1 11.2 1 1.6 1 52.6 1 15.1 1 14.5 1 6.8 1 .2 1 3.1 1 2.7 1 11.9 1 4.3 2 7.9 1 3.2 1.9 .5 1 3.3 1 9.2 1 .9 1.9 4 1 9 1 7.2 1 10 1 1.1 1 12.9 1 18.9 1 10.9 1 6.1 1 12.1 1 3.6 1 35 1 7.3 1 1.9 1 1.8 1 11.5 1 .1 1 .9 1 7 1 6 1.9 .1 1 4.9 1 .2 1 2.8 1 1.2 3.9 2.1 1.8 2.2 1 2.1 1.9 .7 1 2.3 1 .7 1 .1 1 9.3 1 1.7 2 1.2 1.9 .2 1 .7 1 .3 1 1.8 1 1.2 1 .8 1 5.1 1 10.7 1 .4 1.9 .8 1 3.1 1 3.2 1 .8 1 3.2 2 3.7 1 .4 3.6 1.3 1 2.8 1 4.3 1 .6 1 1 1 .1 4.9 2.9 1 1.2 1 7.1 1 8.1 1.9 .1 1 11.6 1 4.4 1 2.1 1 1.6 1 2.2 1 .1 1 .7 1 1.1 1 1 8 .1 2 1.6 1 2.7 1 12.9 1 16.6 1 7.8 1 6.6 1 .6 1 .1 2 .1 1 2.2 1 26.5 1 37.8 1 27.5 1 62.9 1 51 1 20.8 1 6.3 2 2.6 1 20.2 1 .1 1 15.6 1 7.8 1 11.9 1 15.4 1 3.7 1 4.4 1 7.5 1 58.3 1 17.4 1 .8 1 3.2 1 9 1 35.8 1 37.6 1 15.7 1 7.6 1 8.8 1 5.1 1 4 1 .9 1 18.1 1.9 14 1 4.6 1 26.6 1 13.5 1 6.3 1 3.8 1 11.4 1 20.9 1 11.8 2 13.7 1 7.2 1 1 1 1.1 1 1.9 1 .1 1 2.2 1.8 6.2 1 12.7 1 2.3 1 3.7 1 19 1 .3 1 5.6 1 23.1 1 8.3 1 8 1 9 1 .1 1 1.8 1 8.4 1 2.8 1 3.1 1 5 1 9.8 1 27.3 1 18.8 1 1.2 1.6 16.2 1 5.8 1 19.3 1 23.6 1 .5 1 5.9 1 .2 1 .8 1 16.1 1 26.2 1 1.5 1 64.2 1 10.9 1 1.3 1 9.5 1 29.6 1 2.6 1.8 51.2 1 45.4 1 2.7 1 17.9 1 17.3 1 2.3 1 5 1 25.8 1 21.3 1 5.3 1 12.5 1.5 .3 1 .1 1.9 .8 2 3.2 1 1.6 1 86 1 24.2 1 56.4 1 22.2 1 11.7 1 16.3 1 2.2 1 6.2 1 .3 2.9 1 1 1.7 1 .7 1 2.6 1 27.2 1 3.8 1 8.4 1.5 1 1 1.3 1 .9 7.9 .1 1 3 1 5.1 1 1.5 1 14.5 1 2.6 1 .1 1 .2 1 .1 1 .8 1 .7 1 .7 1 3.5 1 .9 1 2.9 1 1.3 1 .3 1 3.7 4 1.2 1 2 1 2.8 1 6.1 1 .9 1 1.8 1 1.5 1.6 5.9 1 3.3 1.9 1.8 1 1 1 2.5 1.4 .2 1 1.4 1 .9 1 2.7 1 2 1 1.4 1 1.7 1 .1 3.8 2.2 1.7 2.1 1 .2 1 .2 1 .6 1 5.1 1 3.2 1 2.6 1 .4 2.7 1 1 .1 1.8 12.3 1.7 1.3 1 .7 1 .3 1 2.8 1 1.1 1 .2 1 5.6 1 1.1 1 .3 1.7 2.3 1.8 .1 1 2.9 1 29.4 1 11.9 1 1.3 1 1 1 5.7 1 14.3 1 17.6 1 8.3 1 22.6 1 .4 1 1 1 1.9 1 1.8 1 1.2 1 4.6 1 3.5 1 4.8 1 3.9 1 5.2 1 .6 1 6.7 1 .9 1 16 1.7 3.7 1 2.1 1 6.5 1 3.9 1 .9 1 41.7 1 21.2 1 11 1 46.9 1 41.4 1 4 1 44.5 1 7 1 45 1 8.9 1 22 1 18.2 1 22.6 1 2.1 1 12.8 1 .2 1 4 1 34.7 1 68.3 1 6.6 1 62.5 1 28.7 1 .6 1 4.3 1 26.8 1 1.1 1 4.4 1 3.9 2 17.8 1 7.7 1 2.2 1 1.2 1 3.2 1 2.7 1 5.1 1 16 1 9.3 1 5.8 1 4.9 1 3.2 1 6.8 1 3.2 1 27 1 1.7 1 9.2 1 5.7 1 15 1 2 1 7.2 1 1.8 1 7.2 1 4.2 1 10.8 1 6.1 1 1.1 1 9.7 1 1.2 1 14 4.8 17.2 1 2.9 1 .1 1 2.3 1.8 6.3 1 1 1 1.1 1 .9 1 3.1 1 .5 1 3.4 1 4.7 1 2.2 2 6.1 1 7.6 1 1 1 1.5 2 4.6 1 1 1.9 .5 1 .5 1 3.1 1 2.4 1 3.9 2.6 4 1 1.4 1 2.6 2 9 1 .2 1 2.1 1 .3 1.5 .1 1 3.9 1 4.3 1 10.5 1 6.6 1 2.8 1 .8 1 1.1 2 1 1.8 5.4 1 1.6 2 4 1 3.1 1 1.2 1 1.7 1 1 1 8.3 1 1.3 1 4.3 1 .6 1 5.5 1 .2 1 .2 1.9 1.1 1 .8 7 .1 1 1.8 1 .1 1.9 1.4 1 12.9 1 12.2 1 10.3 1 6.6 1 4.7 2 .1 1 .9 1 .3 1 1.1 1 .7 1 10.8 1 2.8 1 8.3 1 69.1 1 8.2 1 35.5 1 16.5 1 11.5 1 44.2 1 .8 1 11.8 1 2.1 1 .5 1 .8 1 .1 1 .9 1 .3 1 31.8 1 16 1 90.2 1 3.6 1 2.4 1 21.5 1 7.9 1 4.2 1 69.2 1 4 1 .9 1 40.2 1 9.1 1 10.7 1 13.7 1 2.7 1 .7 1 5.4 1 19 1 3.9 1 .7 1 11 1 10.2 1 8.3 1 2.9 2 3.1 1 3.6 1 3.1 1 8.3 1 8 1 6.6 1 8.9 1 12.3 1 2.2 1 5.8 1 .1 1 18 1 23.9 1 4 1 3.1 1 11.7 1 3.3 1 13 1 6.3 1 1.9 1.8 3.1 1 .3 1 4.9 1 1.7 1 1.3 1 7 1 5.1 1 21.7 1 4.1 1 5.1 1 5.8 1 14.8 1 3.2 1 14.8 1 12.4 1 11.2 1 1.7 1 15.7 1 3.1 1 5 1 14.3 1 1.3 1 17.5 1 .3 1 15.7 1.9 26.8 1 11.5 1 18 1 6.7 1 25.2 1 2.1 1 3.2 1 3.1 1 16.3 1 13 1 13.3 1 23.9 1 34.7 1 5.8 1 1.5 1 9.1 1 57.3 1 14.6 1 .5 1 8.9 1 16.9 1 6.1 1 12 1 3.3 1 .8 2.8 1 1 37.3 1 133.4 1 11.3 1 15 1 8 1 21.9 1 4 1 .3 2 .1 3.8 .2 1 1.6 1 14.3 1 17.2 1 5.6 1 5.1 1 4.2 2 .8 8 1 1 1.2 1 3.7 1 .2 1 4.7 1 .2 1 15.1 1 1.9 1 .3 1 6 1.9 8.2 1.5 .4 1.9 1.9 3.9 5.9 1 7 1 .5 1 .4 1 1.1 1 3.9 1 9.3 1.9 1 1 .3 1 .9 1 .8 1 .9 1 6.2 2 3 1 4 1.9 1.1 2 .1 1 .6 1 2 1 3.3 1 .7 1 1 1 6.1 1 1.3 1 .8 1 1.9 1 .3 1 2.8 2 .1 1 5.1 1 1 1 8.8 2 .2 3.8 1 1 4 1.9 .1 1.9 3 1 1.4 1 2.9 1 .8 1 28.4 1 13.1 1 5.8 1 .2 1 1.8 2 5.3 1 2.8 1 7.2 1 1.7 1 9.9 1 8 1 18.3 1.5 2.7 1 2.6 1 .1 1 2.9 1 4.1 1.9 .1 1 8.8 1 15.5 1 13.6 1 12.8 1 1.3 1 25.1 1 7.9 1 9.2 1 8.1 1 9.2 1 25.1 1 10.4 1 8.1 1 6.5 1 9.7 1 16.4 1 26.2 1 25.2 1 13.7 1 .8 1 .4 1 12.6 1 5.5 1 6 1 13.9 1 59.8 1 3 1 6.1 1 22.4 1 1.3 1 17 1 4.5 1 5.2 1 10.1 1.8 108.8 1 31.4 1 11 1 80.1 1 8 1 10.1 1 13.9 1 5.8 1 33.2 1 2.5 1 4.6 1 1.3 1 13.2 1 4.2 1 .6 1 17.3 1 14.9 1 4.3 1 4.3 1 9.9 2 13 1 3.5 1 23.1 1 4.2 1 11.9 1 8.9 1 .3 1 17.9 1 .7 1 11.3 1 9.5 1.5 8.3 1 .9 1 2 1 .1 1 .1 1 2 1 1.7 2 .2 1 .1 1 1.9 2 .1 2.6 1.4 1 8.1 1.8 4.1 1 3.8 1.9 4.1 1 .1 1.8 1.3 1 4 1 1.1 1 4.7 1 2.3 1.7 .1 1 .1 1 3.1 1.7 .9 1 2.2 1 5.7 1 4.2 1 2 1 8.1 1 3.2 1.5 7.3 1 4.8 1 .1 1 .4 1 2.8 1 1.8 2 .1 1 .1 1 4.6 1 6.6 1 3.4 1 3.4 1 .8 1 3.1 1 3.9 1 8 1 10.2 4.7 .2 7.9 .9 1 .1 1.9 .3 1 12.4 1 24.6 1 4.7 1 4.2 1 2.9 1 1 1 2.2 1.7 14.9 1 3.6 1 10.4 1 1.4 1 19.1 1 20 1 60.5 1 53.3 1 33.7 1 12.3 1 .9 1 1 1 .3 1 9.9 1 24.2 1 2.7 1 10.3 1 .6 1 10.3 1 26.8 1 5.1 1 83.5 1 38.9 1 17 1 8.7 1 8.9 1 34 1 6.2 1 19.4 1 11.6 1 2.8 1 10.2 1 32.9 1 8.2 1.6 32.1 1 15 1 2.1 1 9.8 1 3.3 1.8 5 1 5.2 1 6.8 1 3 1 6.2 1 8 1 .7 1 15.3 2 14 1 6.8 1 15 1 4.4 1 6.7 1 6.5 1 35.1 1 2.7 1 24.8 1 1.1 1 27.2 1 11.3 1.8 4.9 1 1.3 1 5.9 1 5.9 1 4.1 1 8.8 1 2.8 1 5.6 1.4 8.5 1 10.7 1 15.4 1 .8 1 1.6 1 4.3 1 11.8 1 8.1 2 34.9 1 5.2 1 13.3 1 1.7 2.6 47 1 33.9 1 57.8 1 21.5 1 67.1 1 2.1 1 13.9 1 23.8 1 7.3 1 2.1 1 6.2 2 42.3 1 35.8 1 40.1 1 15.6 1 25.5 1 34.8 1 1.8 1 1.6 1 1.3 1 9.7 1 16.5 1 .4 1 2.8 2.6 .1 3 1.2 1.7 4.2 1 4.2 1 22.4 1 5.7 1 1.4 1 10.3 1 2 6.9 .1 1 .8 1 .3 1 4 1 7.9 1 7.3 1 6.7 1.9 .3 1 6.7 1 1.6 1 9.3 1 3.1 2 .9 1 .1 1.8 7.9 1 1.7 1 1.3 1 2.2 1 2.4 1 2 1 7.7 2 2.1 1 2.9 1 .9 1 5.2 1 4 1 3 1 1 1.9 5.8 1 2.1 1 1.1 2 3.9 1 2.3 2 .8 1 2.2 1 .7 1 1.3 1 1.1 1.6 1.2 1.8 4.3 1 .6 1 1.4 1 1.9 1 1 1.9 1.9 1 3.3 1 1.9 1 .1 1 1 1 1.1 1.6 .3 1 3 1 1.9 1.9 1 1 1.2 1 14.1 1 5.8 1 2.1 1 4.3 1 15.7 1 3 1 3.9 1 10.1 1 2.3 1 23.9 1 6.8 1 2.9 1 20.2 1 7.1 1 1 1 3 1 10.7 1 11 1 3.4 1 8 1 12.3 1 7.3 1 2.4 1 14 1 2 1 .9 1 2.9 1 7.3 1.7 16.2 1 21.8 1 32.6 1 65.4 1 56.4 1 2.1 1 14.3 1 13.7 1 48.3 1 .7 1.2 54.3 1 .8 1 3.9 1 4.6 1 3.4 1 52 1 4 1 25 1 110 1 3.1 1 18 1 4.9 1 10.6 1 10.5 1 21 1 1.8 1 7.7 1 .7 1 16.3 1 10.9 1 2.5 1 .6 1 2.2 1 16 1 .8 1 7 1 .3 2 3.9 1 18.9 1 2.7 1 22.6 1.4 16.1 1 4.1 1 1.3 1 6.9 1 .2 1 7.8 1 1 1 23.7 1 3.4 1 10.9 1 13 1 6.1 1 9.2 1.8 .9 1 .2 1 1 1 2.2 1.9 1.2 1.6 1 1.9 .1 1 2.1 1.8 4.2 2 2.9 1 .2 1 1.7 1 2.2 1 .1 1 1.1 1.9 .2 1 .9 1 2 1 5.7 1 .9 1 3.5 1.8 .1 1 2.9 1 2.1 1 1 1 1.1 2 5.7 1 1.8 2 .9 1 6.5 1 5 1.8 3.2 1 1 2.7 .4 1 7 1.4 2.7 1 .4 1 .4 1 .1 1.6 8.9 1 4.4 1 .9 3.9 2.3 1.9 9.8 1 9.1 1 .1 1 11.7 1 4 1 8.2 1 .2 1 .8 1 1.9 8 1.1 1 .7 1 32.6 1 9.6 1 8.8 1 1.3 1.9 .8 1 .3 1 2.5 1 .7 1 2 1 2.7 1 7.7 1 117.3 1 16.2 1 26.2 1 34.9 1 9 1.8 8.1 1 1.9 1.9 2 1 54.3 1 6.9 1.9 83 1 5.6 1 9.4 1 4.4 1 92.8 1 5.8 1 25.2 1 10.1 1 3.4 1 24.2 1 9.8 1 28.3 1 1 1 11.3 1 .1 1 8.1 1 1.8 1 .6 1 4.6 1 3.5 1 2.1 2 20.1 1 2 1 8.9 1 2.9 1 14.2 1 4 1 20.1 1 2.7 1 4.2 1 3.1 1 2.7 1 .4 1 2 1 4.1 1 3.7 1 8.8 1 5.5 1 6.7 1 10.2 1 7.8 1 99999"/>
<path d="M119 791.167h552v.3333h-552v.3333h552v.3333h-552v.3333h552v.3333h-552v.3333h552v.3333h-552v.3333h552v.3333h-552v.3333h552v.3333h-552v.3333h552v.3333h-552v.3333h552v.3333h-552v.3333h552v.3333h-552v.3333h552v.3333h-552v.3333h552v.3333h-552v.3333h552v.3333h-552v.3333h552v.3333h-552v.3333h552v.3333h-552v.3333h552v.3333h-552v.3333h552v.3333h-552v.3333h552v.3333h-552v.3333h552v.3333h-552v.3333h552v.3333h-552v.3333h552v.3333h-552v.3333h552v.3333h-552v.3333h552v.3333h-552v.3333h552v.3333h-552v.3333h552v.3333h-552v.3333h552v.3333h-552v.3333h552v.3333h-552v.3333h552v.3333h-552v.3333h552v.3333h-552v.3333h552v.3333h-552v.3333h552v.3333h-552v.3333h552v.3333h-552v.3333h552v.3333h-552v.3333h552v.3333h-552v.3333h552v.3333h-552v.3333h552v.3333h-552v.3333h552v.3333h-552" stroke-dasharray="0 16.8 1 1.2 1 .3 1 .6 1 45.4 1 1.4 1 8.4 1 9.6 1 20.4 1 10.1 2 8.8 1 6.8 1 8.3 1 6 1 7 1 2.9 1 5.1 1 2.7 1 6.3 1 1.2 1 3.6 1 2.4 1 8.9 1 15.2 1 14.6 1 12.3 1 9.6 1 17 1 2.7 1 3.2 1 20.2 1 22.9 1 41.8 1 40.3 1 96.6 1 18.7 1 14.4 1 26.9 1.5 1.3 2 22.7 1 34.3 1 26.7 1 4.9 1 102 1 29.2 1 8.4 1 1.4 1 6.4 1.9 .1 1 .2 1 3.7 1 26.2 1 2.6 1 .1 1 14.4 2 1.9 1 .8 1 1 5 .1 1 1 1.9 .2 1.9 1.2 1.7 14.3 1 6.1 1 1.5 1 .1 2 10.9 1 8.2 1 1.9 3.9 1.2 1.7 3.1 1 20.8 1 6.3 1.9 .8 1 9.4 1.7 11.2 2.8 3 1 1.5 1 1 1 3 1 1.9 1.9 1.9 1 3.9 1 6 1 .1 1 .8 1 .5 1 2.8 1 3.9 1 1 1 4.8 1 1.2 2 .1 1 1 2 5.7 1 9.1 1 .2 1 7.4 1 4.7 1.9 .5 1 2 1 1 1 16.7 1 2.9 1 1 1 2 1 1.4 1 .8 1 17.1 1 3.8 1 11.1 1 3.9 1.9 1.2 1 1.9 1 1.4 1.9 1.8 1 1.1 1.7 1.1 1 20.9 1 1.9 2 5.6 1 3.6 1 .1 1 11 1 .2 1 3.9 1.6 8.5 1 20.8 1 .6 1 2.5 1 20.9 1 2.6 1 2.7 1 44.8 1 4.8 1 1.2 1 1.7 1 17.1 1 1.8 1 19.4 1 16.1 1 40 1 11.7 1 45.3 1 67.6 1 4.1 1 3.4 1 6.7 1 2.3 1 35 1 5.1 1 1.2 1 5.9 1 21.6 1 40.8 1 12.2 1 58.2 1 7.9 1 13.2 1 5 1 25.8 1 17.9 1 2.6 1 18.6 1 10 1 1.8 1 10.5 1 5.5 1 4.6 1 9.6 1 19.2 1 3.8 1 7 1 5 1 15.3 1 2.7 1 8 1 2.2 1 2.9 1 1.3 1 2.6 1 .4 1 10.6 1 3.6 1 11.7 1 12.1 1 13.6 1 2.7 1 .4 1 6.6 1 5.1 1 .4 1 14.8 1 2.1 1 1.7 1 .5 1 6.5 1 3.1 1 14.1 1 6.2 1 13.8 1.8 3 1 7.8 1 5.7 1 3.1 1 2.1 1 .9 1 2.1 1 3 2 .7 1 .3 1 .8 1 6.3 1.7 2.2 1 3 1 .1 1.5 5.3 1 3.8 1 2.2 1 .1 1 .7 1 3.9 1 3.5 1 6.8 1.9 .1 1 5 1 5.6 1 8.6 1 2.7 1 1.3 1.6 3.4 1 6.5 1 4.5 1 11.7 1 2 2 11.8 1 12.3 1 .1 1 28.9 1 .1 1 1.8 6 1 1 .2 1 .6 1 1.6 1 2 1.4 1.7 1 20.4 1 18.5 1 1 2 .9 1 .8 1.9 1.2 1 .1 2 72 1 4.3 1 5.5 1 34.7 1 9.2 1 4.6 1 31.7 1 42.9 1 10.9 1 6.3 1 6.5 1 1.2 1 4.2 1 4.9 1 45.2 1 6.1 1 7.1 1 77.9 1 6.3 1 11.6 1 .3 1 29.1 1 17.9 1 42.1 1 21.6 1 58.5 1 34.5 1 1.3 1 .8 1 3.9 1 9.1 1 12.6 1 9.2 2 .1 1 4 1 3.2 1 1 1 2.6 1 .5 1 17.7 1 9.7 1 2.3 1 1.1 1.8 5.8 1 1.4 1 2.7 1 1.1 1 5.9 1 1.1 1 4.8 1 29.5 1.8 6.9 1 9.2 1 2 1 1.1 1 4.8 2 9.9 1 14.3 1 4.1 1.9 8 1 1.8 1 .3 1 4.3 1 21.7 1 10.2 1 3.9 1 3.1 1 1.8 1.7 4 1 9.5 1 3.9 1 20.5 1 8.3 1 1 1 14.3 1 2.1 1 9.4 1 1 1 1.4 1 4.3 1 11.2 1 7.5 1 5.7 1 1.2 1.8 10.5 1 53.4 1 5.2 1 41.9 1 104 1 14.5 1 38.9 1 4.9 1 24.7 1 9.2 1 51.6 1.6 2.3 2.7 .3 1 23.2 1 68.4 1 47 1 23.3 1 60.8 1 10 1 2 1 .2 1 .9 1 3 1 1.3 1 7.5 1 9.6 1 7.7 1 4.6 1 2.7 1 3.4 1 1.2 1 8.1 8.9 2.1 1 1.1 1 1.1 1 9.1 1 1.4 1 1.5 1.4 4.7 1 3.5 1 .2 1 2.9 1 3.4 1 1.1 1.9 1.4 1 1.1 1 2.9 1 3.4 3.8 1.3 2 .9 1 7.5 1 8.9 1 7.3 1 3.1 2 2 1 3.1 2 5.7 1 2 1 2.3 1 1.2 1 2.7 1 7.1 1.8 3.2 2 .1 2.6 2.3 1 8.9 1 .7 1 3.1 1 3.2 1 5.3 1 4.7 1 1.9 1 .2 1.7 3.2 1.9 4.3 1 3.8 2 1.1 1 .9 1 1.2 1 22.4 1 3.8 1 5.9 1 4.2 1 3.8 1 12.9 1 1 1 3.3 1 20.7 1 3.1 1 9.3 1 1 1 14.7 1 7.4 1 6.4 1 4.5 1 4.7 1 .9 1 2.1 1 18.1 1 11 1.9 3.3 1 9.5 2 26.5 1 1.5 1 5 1 3 1 17.5 1 2.7 1 15.1 1 3 1 42.3 1 6.1 1 59.6 1 121.9 1 7.3 1 166.2 1 18.8 1 27.9 1 88.9 1 .1 1 28.1 1 13.2 1 1.2 1 5.3 1 1.1 1 .7 1 3.3 1 10.4 1 4.2 1 5.3 1 28.4 1 1.3 1 2.4 1 1.7 1 18.2 2 5.6 1 6.7 1 .8 1 5.9 1 18.3 1 4.3 1 2.8 1 5.8 1 1.5 1 3.8 1 3 1 6.2 1 2.8 1 2.8 1 2.2 1 12.8 1 2.8 1 2.3 1 1.8 1 .2 1 22.7 1 4.5 2 2.3 1.8 .2 1 12.6 1 3.3 1 4.7 1 .2 1.8 3.4 1 3.9 1 9.6 1 7.4 1 1.1 1 1.1 1 4.9 1.9 5.2 1 .8 1 .9 1 .1 1 1.2 1 .4 1 1.6 1.6 9.4 2.8 .1 1 2.7 1 .1 1.9 .5 1 1.6 1 10.3 1 5.7 1 .8 1 8.4 1 1.8 2 6.1 1 5.1 1 .9 1 9.3 1.7 .1 1 .7 1 .5 1 10.5 1.8 4.5 1 3.7 1 1.3 1 3.9 7.9 4 1 3.8 1 16.3 1 22.7 1 5.4 1 1.9 2.8 163.1 1 14 1 61 1 1 3 .2 1 1 1 27.1 1 21.7 1 10 1 22.6 1 17.5 1 14.3 1 91.4 1 84.3 1 .2 1 42 1 7.4 1 10.8 1 12.1 1 14.8 1 11.3 1 2.3 1 14.1 1 4.2 1 9 1 2.2 1 11.3 1 1.9 1 .6 1 20 1.9 2 1 13.2 1 11.3 1.7 5.1 1 .9 1 2 1 9.8 1 27.2 1 3 1 3.2 1 8.8 1 11.5 1 1.9 1 4.1 1 13.9 1 30 1 15.2 1 5.8 1 8.6 1 3.3 1 2.2 1 9.2 1 .9 1.6 1.1 1.7 5.5 1 .2 1 23.3 1 .3 1 22.9 1.8 2.3 1 9.4 1 4.4 1 3 1 .9 1 17.6 1 15 1 41.6 1 1 1 4.1 1 33.7 1 54.3 1 54.7 1 70.4 1 27 1 47.4 1 .8 1.9 .2 1 9.6 1 47.9 1 .7 1 39.8 1 71.6 1 14.7 1 6.1 1 44.7 2.8 4.2 1 5.4 1 32.3 1 10.5 1 3.6 8.9 8.3 1 10.6 1 .7 1 3.2 1 3.6 1.8 1.9 1 .8 1 2.4 1 10.1 1 3.7 1 1 2 1.8 2 12.9 1 18.3 1 5.3 1 8.4 1 6.5 1 2.8 1 4.8 1 1.2 2 3.8 1 4.4 1 1 1 1.8 1 .8 1 1.2 1 .2 1 .6 1 .2 1 2.8 1 1.1 3 .1 1 1 1 2 1 5 1.9 8.4 1.7 .1 1.7 1.9 1 .3 1 2.8 1 6.2 1 16.4 1 2 1 9 1.8 6.9 1 5.1 1 8 1 2 1 36.5 1 6.7 1 15.3 1 5.9 1 6.1 1 2 1 8 1 15.4 1 1.3 1 27 1 3.8 1 2.5 1 6.8 1 13.7 1 2.6 1 1.8 1 12.9 1 33.6 1 8.4 1 21.8 1 16.4 1 7.3 1 15.5 1 43.7 1 10.3 1 49.8 1 27.9 1 22.8 1 .6 1 9.9 1 8.8 1 4.9 1 13.4 1 34.5 1 40 1 159.5 1 29.3 1 8.1 1.7 6.4 1 36.2 1 6.2 1 19.1 1 .8 1 .1 1 18.3 1 4.5 1 3.8 1 8.3 1 .1 1 1.8 1 12.3 1 .4 1 4.3 1 16.8 1 1.7 1.8 .8 1 6.4 1 1.2 1 1.5 1 3.4 1 5.7 1 6.3 1 4 1 28.5 1 9.5 2.6 14.2 1 3.1 1 1.6 1 2.1 1 2.2 1 5.2 1 6.2 1 .1 1 5.1 2 5.7 1 10 1 3 1.8 .2 1 .8 1 7.5 1 3.4 1 1.1 1 1.1 1 9.2 2 6.7 1 .2 1 3.8 1 .5 1 3.8 1 9.8 1 6.3 1 17.5 1 13.6 1 .1 1 8 1 1.6 3 8 1 5.1 1 6 1 1.9 1 14.8 1 7.6 1 1.8 1 1.9 1 1 1 2 5.9 1.2 1 5 1 6.2 1 44.6 2 6.3 1 53.1 1 92 1 33.4 1 24.6 1 19.4 1 8.3 3.8 4.8 1 23.8 1 22.6 1 7.4 1 8.7 1 7.1 1 69.8 1 20.3 1 1.7 1 21.9 1 87.4 1 25.7 1 .7 1 24.1 1 .5 1 1 1 9.3 1 8.9 1 24.5 1 1.7 1 2.8 1 4.5 1 .1 1 7.8 1 7.8 1 2.8 1 2.6 1 2.1 1 10.6 1 6.7 1.4 2.3 2 .1 1 1 1 17.1 1 9 1 4 1 .5 1 .3 1 4.2 1 31.5 1 20.4 1 1.1 1 9.8 1 4.2 1 4.7 1 .1 1 18.3 1 3.2 1 5.6 1 4.5 1.9 3 1 6 1 5.9 1 12.9 1 1.4 1 29.1 1 2.6 1 4.8 1 4.1 1 14.5 1 9.4 1 3.6 1 12.5 1 2.2 1 5.2 1 6.4 1 5 1 2.6 1 1.3 1 3.1 1 3.3 1 .4 1 9.8 1 28.2 1 31.6 1 1.3 1 1.5 1 9.4 1 14.2 1 4.2 1 40.5 1 106.8 1 2 1 15.8 1 13.6 1 20.6 1 8.9 1 11.1 1 18.8 1 1.1 1 16.2 1 10.1 1 .2 1 .1 2 3.5 1 2.5 1 62 1 99 1 20.2 1.6 13.4 1 4.9 1 8.2 1 8.8 1 3 1 1.1 1 1.4 1 2.5 1 14.8 1 31.9 1 1.2 1 1.2 1 5.9 1 .8 6 .9 1 .1 1 .9 1 10.5 1 3.7 1 8.1 1 4 1.8 2 1 2.8 1 10.1 1 2.9 1 1.4 1.7 .1 2.9 35.1 1 7 1 .4 1 3.1 1 2.7 1 .7 1 3.1 1 .3 1 .7 1 6 1 10.8 1 1.3 1 .2 1 5.6 1 3.3 1 3.9 2.8 1.3 2.6 4.2 1.8 3.3 1.8 9.9 1 .3 1 1.6 1 2.2 1 10.1 1 2.4 1 44.7 1 4.1 1 5.1 1 .4 1 11.5 1 1.2 1 6.9 1 5.4 1 18.8 1 4.7 1 .2 1 2.2 1 2.2 1 5.7 1 7.5 1 14.4 1 12.1 1 22.9 1 5.7 1 5 1 53.6 1.5 16.2 1 33.7 1 60.4 1 70.5 1 26.5 1 21.8 1 20.5 1 37.6 1 14.7 1 .6 1 206.8 1 7 1 5.2 1 3.7 1 25.9 1 1.6 1 66.8 1 6.1 1 4.1 1.6 4.9 1 8.7 1 14.9 1 .1 1 2.6 1 13.2 1 .8 1 3.9 1 10.3 1 7.7 1 13 1 .2 1 2 1 6 1 13.3 1 1.4 1 6.5 1 8.8 1.7 .3 1 7 1 2 1 2.7 1 .4 1 3.7 1 5.4 2 13 1.6 7 1.9 .9 2 1.3 1 1.3 1 7 1 5.2 1 4.2 2.7 1.2 1 9.5 1 .4 1 3.7 1 .2 1 3 1 7.1 1 2.5 1 3 1 1.3 1 10.8 1 3.1 1 2.5 2.6 5.2 1 1.8 1 1.1 1 4.4 1 8.5 1 1 1 8.2 1 18.7 1 5.1 2.9 .9 1 18.9 1 21.5 1 .8 1 9.1 1 2 1 .9 5 .1 2 11.7 1 1.1 1 10.6 1 10.2 1 10.1 1 7.9 1 .3 1 .1 1 1.1 1 8.9 1 24.8 2 49.4 1 20 1 1.6 1 24 1 17.7 1 24.8 1 15.2 1 7.9 1 22 1 3.4 1 1.2 1 8.8 1.8 2.8 1 1.2 1 18.1 1 22.6 1 11 1 3.9 1 102.9 1 29.8 1 7.3 1 33.3 1 2.9 1 36.1 1 22.7 1 25.9 1 37.1 1 17.7 1 2 1 42 1 18.1 1 4.2 1 9.3 1 7.6 1 7.1 1 1 1 19.3 1 .7 1 14.1 2 .7 1 .5 1 8.8 1 8.8 1 4.8 1 3.6 1 5.9 1 22 1 1 1 2.2 1 6.1 1 12.9 1 8.8 1 12 1 9.1 1 2.2 1 3.9 1 4 1 4 1 .1 1 6.7 1 4.6 1 .8 1 .1 1 6.7 1.7 .5 1 7.6 1 8.1 1 .5 1 2 1 4.9 1 9.4 1 .5 1 .1 1 8 1 17.3 1 2.8 1.2 1.6 1 5.2 1 3.7 1 4 1 9 1 .2 1.5 3.6 1 17.8 1 67 1 85.5 1 38.9 1 48.1 1 10.5 1 26.9 1 1.8 1 46 1 2.2 1 2.1 1 .3 2 .7 1 2.2 1 168.5 1 17.4 1 52.1 1 15.2 1 10.3 1 15.7 1 3.3 1 2.3 1 1.1 1 5 6 .1 1.8 .3 1 11.6 1 3.9 1 8.9 1 1.5 1 2 1 6.1 1 16.7 1 .1 2 .2 1.6 17.3 1 .1 1 14 2.6 8 1 12.1 1 2.2 1 1.9 1 6.2 1 7.7 1 .1 1 1.1 1 3 1 .3 1 1.7 1 2.1 1 8.5 1 .5 2 8.6 1 6.3 1 13.1 1 .6 1 .5 1.5 .3 1 .7 1 13.5 1 3.9 1 2.2 1 5.7 1 2.3 1 3.3 1.7 10.2 1 15.7 1 2.7 1 12.3 1 48.4 1 .4 1 18.4 1 .6 1 5.6 1 .5 1 9 1 9 1 11.3 1 5.6 1 23.9 2 9.2 1 19.7 1 16.6 1.7 6.2 1 51.9 1 95.5 1 30.6 1 24.1 1 28.5 1 24.3 1 10.2 1 13.2 1 9.6 1 .6 1 5.7 1 30.9 1 2 1 46.3 1 16 1 2.2 1 5.8 1 43.2 1 59.9 1 29 1 31.9 1 7.8 1 24 1 10.1 1 2.1 1 5.1 1 26.1 1 5.6 1 5.1 1.8 9.8 1 1.7 1 .1 1 5.6 1 20 1 5.1 1 17.6 1 1.9 1 12 1 8.2 1 .1 1 .3 1 10.8 1 3 1 10.2 1 7.5 1 21.9 1.7 1.3 1.8 5.7 1 .5 1 2.8 1 5 1 12.2 1.7 3 1 .2 1 11.5 1 .4 1 1 1 3.5 1 7.5 1 3.3 1 .7 1 .9 1 7.9 1 3.8 2 10.3 2 21.1 1 .6 1 1.4 1 8.9 3 5.9 1 3.7 1 9.3 2 1.1 1 5.4 1 6.8 1 18 1 .8 6 .2 1 .1 1 2.6 1 21.5 1 18.5 1 12 1 .2 1.7 148.9 1 32.1 1 41.2 1 2.4 1 9.3 1 1.1 1 2.3 1.8 16.3 1.9 4.1 1 7.8 1 25.4 1 2.9 1 2.9 1 176.2 1 13 1 11.4 1 1.2 1 16.5 1 .8 1 4.1 1 29.1 1 10.1 1 7.5 1 5.4 1 9.1 1 14.9 1 .8 1 1.3 1 13.2 1 1.9 1.8 12.2 1 6.8 1 3.7 1 .8 1 13.7 1 14.3 1 1.3 1 2.8 1 4.4 1 6.2 1.8 .4 1 1.3 1 16.2 1 .7 1 13 1 2.3 1 7.2 1 11.6 1 4.9 1 4 1 1.1 1 2 1.8 4.4 1 8.3 1 8.8 1 19.1 1 14 1 16.5 1.3 7.4 1 8.9 1 2.3 1 2.3 1 1 1 9.2 1 6.2 1 11.2 1.5 .1 1 4.1 1 17.8 1 3.7 1 15 1 13.4 1 2.3 1 22.1 1 5.5 1 1.1 1 13.9 1 1 1 14.1 1 29.2 1 11.7 1 46.1 1 135.5 1 14.4 1 100.7 1 3.1 1.9 19.6 1 1.7 1 15.7 1 146.8 1 12.7 1 9.4 1 23.3 1 1.9 1 2.2 1 4.5 1 11 1 .1 1 36.9 1 8.1 5 33.9 1 11.3 1 11.7 1 .1 2 23.1 1 11.1 1.8 6.8 1 3 1 8.6 1 4.6 1 9.6 1 2.3 1 14.1 1.7 1.5 1 1.5 1 .5 1 .1 1 2.6 1 6.4 1 7.5 1 4.5 1 5.8 2 .1 1.8 .3 1 4.9 1 .8 1 .9 1 8.7 1 5.7 1.8 3 1 2 2 5 1 2.5 1 3 1 .9 1 .9 1 3.1 1 10.3 1.8 .8 1 2.8 1 9 1 10.2 1 5.9 1 .5 1.2 7.5 1 12.5 1 2.2 1 2.5 1 6.3 1 10.7 1 13.7 1 1.6 1 32.1 1 7.2 1 4 1 1.2 1 6.9 1 12.2 1 14.4 1 26.2 1 3.4 1 .8 1 1.1 1 2.1 1 1.1 1 35.3 1 5.5 1 20.2 1 103.7 1 59.6 1 .5 1 4.1 1 3.7 1 .2 1 1.2 1 52.1 1.8 63.4 1 .7 1 47.7 1 69 1 13.6 1 27.1 1.9 5.5 1 16.3 1 5.1 1 30.1 1 6.9 1 16.6 1 2.4 1 4.5 1 13.2 1 13.4 1 9.1 1 6.2 1 33.4 1 1 1 9.1 1 1.3 1 1 1 13.2 1 1 1 12.8 1.6 11.9 1 .8 1 14.1 1 4.2 1 7.8 1 9 1 14.3 1 .9 1 4.1 1.9 6.6 1 6.9 1 6.6 1 17.2 2 4.7 1 1.6 1 3.8 1.7 18.6 1 1.7 1.9 3.5 1.2 1.7 1 3.7 1 7.8 1 2.9 1 .2 1 13 1 10.3 1 3.1 1 3.6 1.9 1.1 2 .1 1 .6 1 4.5 1 12.1 1 3.6 1 3.4 1 6.5 1 21.5 6.7 7.9 1 2.6 1 19.5 1 1.6 1 24.4 1 .1 2 2.7 1 3.5 1 94.5 1 3.3 1 49.7 1 34.2 1 20.4 1 26.8 2 5.7 1 8.5 1 33 1 13.1 1 20 1 22.2 1 20.4 1 25.6 1.3 78.9 1 58.9 1 1.3 1 16.7 1 12.9 1 12.7 1 9.8 1 7.2 1 2.9 1 16.8 1 10.8 1 70.5 1 2 1 8.9 1 1.8 1 3.1 1 12.3 1 4.2 1 1.3 1 3.2 1 2.6 1.5 14.3 1 5 1 2.6 1 4.2 1 2.3 1 7 1 4.6 1 1 1 5 1 6 1 5.7 1 1 1 4.9 1 13 1 4.9 1 2.6 1 2 1 1.5 1 18.7 1 13.3 1 6.4 1 7.6 1 15.7 1 26.3 1 2.1 1.6 7.4 1 6.6 1 9.1 1 54.2 1 57.9 1 104.7 1 7.9 1 6.5 1 12 1 1.8 1 42.8 1 42.8 1 26.1 1 19.2 1 26.2 1 9.6 1 21.1 1 158.4 1 5.9 1 .5 1 34.7 1 4.3 1 4.9 1 1.8 2 1.9 1 1.5 1 24.7 1 15.4 1 2.9 1 .8 1 .2 1 .5 1 1.3 1 .9 6.8 .9 1 2.1 1 .2 1 11.9 1 6.1 1 .6 1 5.3 1 .1 1 3.8 1 2.9 1 7.4 1.4 7.4 2 11.9 1 10 1 3.8 1.9 5.5 1.9 24.9 1 .1 1 3.9 1 12 1 .3 1.7 6.9 1 24.9 1 2.6 1 2.5 2 17.3 1 1.1 1 1.2 1 5.7 1 1.6 1 4.5 1 7.2 1 18 1 2.3 1 1 1 7.7 1 4.2 1 4.9 1 6.1 1 6.6 1 4.4 1 10 1 3.2 1 .8 1 1.8 1 21.9 1 8.8 1 5 1 7.9 1 4 1 9 1 20.4 1 5.3 1.6 .2 2.6 61.9 1 16.7 1 128.6 1 21.2 1 69.9 1 16.8 1 55.7 1 .8 1 3.6 1 3.3 1 49.5 1.4 60.4 1 18 1 89.1 1 12.1 1 6.7 1 5.5 1 14.6 1 10.7 1 3.5 1 2.5 1 .8 1 12.2 1 6.1 1 2 1 .9 1 9.3 1 12.6 1 2 1 6.9 2 5.1 1 9.2 1 6 1 .8 1 10.3 1 7.1 1 .5 1 6.6 1 25.7 1 .9 1 12.1 1 1.7 1 2.2 1 2 1 14.9 1 18.4 1 .1 1 .7 1 12.3 1 .8 1 11.9 1 5.2 1 10.4 1 19.9 1 .6 1 1.2 1 13 1 10.6 1 9.7 1 2.7 1 4.9 1 4.2 1 4.3 1 8.6 1.9 22.1 1 2.7 1 4.5 1 2.8 3 60 4 1.7 1 8.4 1 2.6 1 40.5 1 3.9 1.9 .6 1 8.9 1 5.2 1 40.7 1 53.3 1 .7 1 12.5 1 23.6 1 3.6 1 38.6 1 32.2 1 9.3 1 2.1 1.6 10.8 1 60.7 1 47.1 1 2.6 1 79.5 1 39.8 1 62 1 24 1 27.4 1 9.5 1 .9 1 32.1 1 2.9 1 6.8 1 2.2 1 .1 1 24 1 .2 1 14.8 1 9.5 1 13.8 1 8.5 1 1.2 1 10.5 1 29.2 1 10.5 1 3.9 1 2.3 1 14 1 9.1 1 8.1 1 6.4 1 .5 1 22.7 1 7.8 1 19.7 1 6.4 1 5.5 1.5 24.5 1 4.1 1 16.9 1 14.2 1 6.3 1 25.3 1 6.4 1.2 10.6 1.8 6.9 1 1.5 1 35.5 1 .8 1 4.9 1 40.6 1 12 1 9.4 1 4.8 1.4 99.3 1 6.1 1 25 1 13.1 1 .9 1 30.6 1 7.4 1 7.2 1 49.1 1 36.6 1 4.1 1 30.3 1 143.5 1 16.5 1 8.7 1 52.4 1 5.6 1 .1 5 26.1 1 11.2 1 4.5 1 3.9 1 10.5 2.8 7.4 1 12 1 .9 1 9.9 1 .9 1.9 8.4 1 15.5 1 .1 1 4 1 1.7 1 5.1 1 21.5 1.4 3 1 4 1 6.4 1 9.6 1 .3 1 3 1 1 1 3.1 1 3 1 1.6 1 .2 1 2.9 1.4 13.1 1 1.9 1 6 1 10.6 1.8 17.4 1 4.6 1 2.3 1 2.6 1 7.9 1 1.4 1 11.2 1 14.5 1 2 1 14.6 1 .4 1 12.1 1 .7 1 9.1 1 14.4 1.6 4.1 1 .8 1 6.1 1 6 1 .6 1 27.2 1 18.4 1 28.4 1 16.5 1 8.3 1 11.6 1 75.1 1 68.7 1 65.9 1 111.8 1 24.6 1 53 1 40.4 1 16.4 1 37.7 1 1.4 1 2.6 1 15.6 1 .5 1 1.4 1 3.2 1 26.9 1 3.2 1 2.1 1 4.9 1 14 1 4.2 1 10.3 1 37.3 1 13 1 10.7 1 9.2 1 7.3 1 20 1 5 1.7 3.5 1 9.9 1 19.8 1 3.6 1 .3 1 .5 1 .2 1 19.3 1 7.4 1 3.3 1 1.6 1 .8 1 .7 1 2 1 1.9 1 4.1 1 .6 2 .7 1 2.7 1 4.9 1 51.1 1 10.6 1 .2 1 .5 1 11.3 1 1 1 11.3 1 1.5 1 3.4 1 16.8 3 8.7 1 9.1 1 4.3 1 14.3 1 .1 1 .4 1 1.9 1 10.4 1 .9 1 1.9 3 .1 2 27.8 1 15.4 1 12.1 1 81.6 1 73.3 1 6.7 1 12.2 1 60.6 1 4.3 1 .3 1.8 2.7 1 2.3 1 14.9 1 34.6 1 .9 1.9 21.3 1 32.2 1 7.3 1 46.8 1 128.6 1 4.7 1 18.3 1 53.5 1 1.1 1 6.8 1 6.2 1 8.1 1 27.7 2 16.2 1 10.1 1 7.2 1 12.8 1 5.6 1 3.3 1 9.9 1 6.5 1 12.4 1 3.5 2 12.1 1 1 1 18.4 1 4.9 1 10.4 1 .6 1 9.7 1 1 1 2.6 1 4.1 1 1.7 1 11.9 1.3 .1 1 1.1 1 2.1 1 1.9 1 1.3 1 1.9 1 1.7 1 17.1 1 .8 1 6.6 1 10.5 1 1 1 1.5 1 11.5 1 10.5 1 10.8 1 6.2 1 2.4 1 1.4 1 5 1 11.6 1 .7 1 2.3 1 1.4 1 20.6 1 .6 1 35.5 1 12 1 28.9 1 10.6 1.7 49.7 1 3.1 1 42.3 1 15.9 1 16.1 1 5.2 1 48 1 36.9 1 1.8 1 9.8 1 30.9 1 8.9 1 1.4 1 52.8 1 23.5 1 34.4 1 11 1 83.5 1 32.1 1 3.4 1 2.6 1 10.8 1 10.6 1 38.7 4.9 4 1 13.8 1 14.3 1 3.8 1 16.8 1 2.4 2 12 1 1.3 1 1 1 3 1 13.9 1.8 14 1 1.2 1 7.1 1.6 .3 1.9 .3 1 13.5 1 16.9 1 10.4 1 14.8 1 3.2 1 1.6 1 2.6 1 9.6 1 1.1 1 6.5 1 3.6 1 9.8 1 7.3 1 1.1 1 5.1 1 5.6 1 7.1 1 3.3 1 8.7 1 .5 1 20 1 1.6 1 12.9 1 19.6 1 5.9 1.5 12.2 1 14.3 1 29.8 1 1 1 7 1 2.1 1 5.7 1 5.7 1 6.2 1 2.8 1 41.6 1 10 1 45.7 1 116.4 1 3 1 9.8 1 55.8 1 6.3 1 2.4 1 46.4 1 51.4 1 24.8 1 8.9 1 13.3 1 8.8 1 83.8 1 2.4 1 31.6 1 62 1 4.9 1 11.2 1 2.8 1 .7 1 .9 1 5.4 1 5.3 1 9.5 1 28 1 21.6 1 7.9 1 5.2 1 9.7 1 3 1 11.5 1 .6 1 4.5 1 3.6 1 8.4 1 10.7 1 1.8 1 10.8 2 2.2 1 .3 1 10.4 1 24.6 1 .1 1 5.4 1 .3 1 .2 1 29.2 1 1.1 1.6 .3 1 6.6 1 2.2 1 9.9 1 3.7 1 8.7 1 9.9 1 13.9 2 25.2 1 5.8 1 .8 1 .2 2.9 13 1 20.5 1 10.4 1 11 1 1.2 4 .7 1 6.9 1 9.5 1 41.9 1 6.1 1 58.1 1 9.6 1 8 1 63.9 1 74.4 1 19 1 1.7 1 2.5 1 4.9 1 37.8 1 74.7 1 17.3 1 130.3 1 22.4 1 .8 1 2 1 1.1 1 2 1 3.2 1 1.3 1 .4 1 3.5 1 16.7 1 33.4 1 5.3 1 6.1 1 27.2 1 6.9 1 16.1 1 9.9 1.9 3.1 1 9.5 1 .3 1 8.2 1 10.1 1 20.9 1 12.9 1 4.4 1 24.8 1 .7 1 1.1 1 2.3 1 1.8 2 3.8 1 6.3 1 1.7 1 7.9 1 4.8 1 12.4 1 1.1 1 .4 1 12.6 1 .4 1 29.7 1 20.7 1 21.4 1 .2 1 4.8 1 3.5 1 32.3 1 5.9 1.8 2.7 1.4 14.3 1 .4 1.7 2.5 1 1.8 1 4.3 1 22.2 1 7.3 1 34.7 1 55.7 1 75.5 1 44.3 1 48.2 1 5.3 1 9.9 1 145.3 1 23.1 1 16.5 1 16.8 1 44.8 1 57.2 1 .1 1 18 1 9 1 20.7 1 5.8 1 2.2 5 2.1 1 3.9 1 18.3 1 15.9 1 16 3.5 4.6 1 .2 1 9 1 6.9 1 15.6 1 4.6 1 1.2 1 4.4 1 6.8 1 9.6 1 4.4 1 3.2 1 .9 1 4.3 1 16.3 1 .5 1 9 1 3.8 1 5.3 1 6.2 1 6.4 1 7.8 1 7.9 1 .6 1 26.5 1 7.1 1 2.6 1 11.3 1 10.5 1 10 1 2.6 2 4.6 1 5.3 1 1 1.4 29.6 1 11.4 1 10 1 32.6 1 7.8 1 1.6 1 6.9 1 75.5 1 89.3 1 136.9 1.4 12.7 1 18.1 1 38.8 1 55.4 1 19.5 1 14.5 1 81 1 65.9 1 50.9 1 10.7 1 42.5 1.9 2.5 1 4.3 1 22.1 1 26.8 1 45.3 1 5.6 1 6.7 1 11 1 .7 2.4 .6 1 4.6 1 1.7 1 14 1 6 1 .4 1 1.6 1 4.2 1 17.4 1 5.5 1 10.8 1 10.1 1 12 1 5.6 1 10.7 1 8.5 1 2.9 1 2 1 10.7 1 10.2 1 13.1 2 16 1 11.6 1 10.5 1 18.8 1 .2 4.8 .1 1 2.6 1 2.8 1 25.6 1 15.3 1 5.8 1 15.7 1 6.4 1 .2 1 35.8 1 7.1 1 14 1 24.9 1 19.3 1 92.5 1 17.1 1 5.6 1 60.6 1 80.1 1 2 1 144.4 1 35.7 1 9.8 1 24.1 1 9.1 1 5 1 30.3 1 .3 1 10.4 1 2.5 1 11.6 1 18 1 .6 1 3.6 1 2.3 1 1.3 1 30.8 1 .3 1 2.6 1 7.2 1 8.7 1 10.6 1 1.7 1 9.4 1 13.8 1 9.6 1 14.5 1 24.1 1 1.9 1 1.1 1 8 1 7.8 1 6 1 6.2 1 7.1 1 1 1 3 1 16.1 1 13.1 1 19.1 1 6.8 1 1.5 1 2.5 1 2.5 1 6.7 1 10.9 1 .5 1 18.9 1 3.5 1 5.2 1 1.5 1 46.4 1 4.9 1 7.1 1 1 1 11.5 1 1.8 1 66.2 1 33.2 1 40 1 9.8 1 6.1 1.9 54.6 1 27.4 1 5 1 43.8 1 42.4 1 95.4 1 7.1 1 17.1 1 29.8 1 48.2 1 54.6 1 5.2 4.9 .7 1 2.3 1 10.8 1 22.2 1 12.6 1 7.4 2 6.8 1 5.5 1 11.6 1 1.9 1 6.2 1 1 1 1.1 1 4.8 1 5.3 1 17.1 1 24 1 7 1 .7 1 .2 1 15.2 1 9.5 1 10.3 1 12.1 1 .3 1 15.1 1 1.3 1 14.6 1 10.8 1 3.8 1 10.3 1 .1 1 6 1 2.7 1 4.2 1.7 7.4 1 10.9 1 3.5 1 1.1 1 .2 1 24.8 1 15.6 1 18.4 1 5 1 .3 1 16.8 1 2.2 1 6.1 1 .1 1 50.7 1 18.2 1 26.8 1 9.6 1 1.2 1 11.1 1 1.6 1 2.9 1 136 1 20.5 1 9.2 1 13.3 1 191.1 1 98 1 5 1 2 1 10.2 1 21.6 1 9.5 1 25.7 1 39.3 1 11.7 1 4.1 1 1.4 1 23.4 1 17.6 1 18.1 1 1.6 1.4 3.3 2.6 1.2 1 6.2 1 33 1 1.7 1 1.7 1.6 6.7 1 3 1 .6 1 6.4 1 1.5 1 2.3 1 .5 1 12.1 1 15.4 2 9.7 1 2.8 1 5.1 1 5.6 1 29 1 15.6 2 30.4 1 2.9 2.7 36.4 1 5.6 2 13.8 2 .2 5 7.9 1 39.8 1 28.5 1 16.6 1 62.3 1 14.8 1 153.8 1 33 1 1.8 1 .1 1 28.5 1 154.7 1 47.1 1 3.2 1 56.7 1 25.6 1 23.8 1 30 1 6.4 1 7.9 1 5.7 1 .5 1 20.7 1 .8 1 13.3 1 15 1 4.6 1 3.3 1 5.3 1.4 5.3 1.8 6 1 2.6 1 4.4 1 21.2 1 7.6 1 1.6 1 6.2 1 13.1 1 7.5 1 5.9 1 1 1 11.8 1 15.8 1 43.6 1 3.6 1 2 1 1.5 1 31 1 9.8 1 47 1 10.2 1 8.7 1 26.1 1 19.1 1 1.3 1 37.2 1 137.9 1 102.8 1 57.1 1 107.6 1 87.5 1 38.5 1 18.8 1 2.8 4 35.3 1 23.9 1 .9 1 1 1.7 8 1 16.3 1 5.9 2 15.3 1 17 1 9 1 4.1 1 10.2 1 6.8 1 24.4 1 6.9 1 4.4 1 5.7 1 7.4 1 5.5 1 17 1 6.3 1 6.1 1 27.7 1 .1 1 5.7 1 7.8 1 1 1 5.7 1 3.2 1 5.7 1 .3 1 11.2 1 6.5 1 1.6 1 1.8 1 13.1 1 22.8 1 4.3 1 11.4 1 8 1 7.5 1 46.5 1 2.7 1 3.8 1 5.6 1 25.1 1 132.9 1 48.1 1 37.4 1 11.9 1 44.9 1 3 1 62.9 1 20.8 1 69.9 1 79.9 1 25.2 1 22.9 1 21.1 1 18.8 1 1.2 1 23.3 1 4.4 1 8.8 1 21.1 1 13.6 2 7.3 1 8.9 1 3.4 1.7 40.5 1 11.9 1.7 5.4 2 26 1.6 9.5 1.6 21.5 1 19.1 1 6 1 1 1 41.6 1 27.2 1 2.6 1 4.2 2 12 1.6 7.4 1 14.7 1 22.6 4.7 16.2 1 44.9 1 .2 1 24.3 1 71.7 1 17.6 1 63.1 1 21 1 40.2 1 16.7 1 4.2 1 265.5 1 2.9 1 13.2 1 9 1 47.8 1 12.2 1 1.8 1 10 1 16.5 1 7.7 1 18.9 1 13.8 1 2.2 1 3 1 .9 1 2.2 1 3.5 1 1.3 1 1.5 1 23.2 1.8 8.6 1 19.8 1 4.3 1 16.7 1 1.8 1 13.1 1 4.3 1 4.8 1 99999"/>
<path d="M119 815.167h552v.3333h-552v.3333h552v.3333h-552v.3333h552v.3333h-552v.3333h552v.3333h-552v.3333h552v.3333h-552v.3333h552v.3333h-552v.3333h552v.3333h-552v.3333h552v.3333h-552v.3333h552v.3333h-552v.3333h552v.3333h-552v.3333h552v.3333h-552v.3333h552v.3333h-552v.3333h552v.3333h-552v.3333h552v.3333h-552v.3333h552v.3333h-552v.3333h552v.3333h-552v.3333h552v.3333h-552v.3333h552v.3333h-552v.3333h552v.3333h-552v.3333h552v.3333h-552v.3333h552v.3333h-552v.3333h552v.3333h-552v.3333h552v.3333h-552v.3333h552v.3333h-552v.3333h552v.3333h-552v.3333h552v.3333h-552v.3333h552v.3333h-552v.3333h552v.3333h-552v.3333h552v.3333h-552v.3333h552v.3333h-552v.3333h552v.3333h-552v.3333h552v.3333h-552v.3333h552v.3333h-552v.3333h552v.3333h-552v.3333h552v.3333h-552v.3333h552v.3333h-552" stroke-dasharray="0 1.7 1 9.4 1.8 .8 1 12.1 1 49.5 1 12.7 1 10.9 1 29.4 1 22.8 1 11.5 1 16.4 1 .8 1 7.3 2.5 6.4 1 2 1 17.9 1 92.1 1 14.8 1 28.1 1 102 1 50 1 61.8 1 65.3 1 64 1 54.4 1 8.4 1 46.4 1 .2 1 10.2 1 13.4 1 16 1 17.2 1 .1 3 1.2 1 18.7 1 25.3 1 7.9 1 2.3 1 .5 1 .1 2 15.7 1 11.1 1 1.7 1 4.5 1.9 10.3 1 13 1 13.9 1 11.6 1 2.5 1 10.7 1 9.2 1.7 5.3 1 .1 1 8 1 8.8 1 15.7 1 12.3 1 7.7 1 2.4 1 12.4 1 .9 1 10.7 1 .9 1 1.4 1 .7 1 9.6 1 4 1 27.8 1 13.2 1 2.9 1 12.4 1 27.7 1 2.7 1 5.3 1 32.9 1 5.4 1 13.1 1 80.2 1 53.2 1 208.5 1 96.7 1 69 1 137 1 5.9 1 23.1 1 9.3 1 9.9 1 21 1 11.1 1 10.7 1 4 1 1.4 1 7.4 1 .1 1 1.3 1 1.5 1 2.2 1.9 26.6 1 35.8 1 6.1 1 1.8 1 20.6 1 4.8 1 1.9 1 12.9 1 4.2 1 31.8 1 4.9 1 12.2 1 19.2 1 4.8 1 21.7 1 .3 1 11.9 1 .1 1 .1 1 45.1 1 5.4 1 3.5 1 2.8 4 3.9 1 56.9 1 1.5 1 2.4 1 35.6 1 187.1 1 24 1 7.7 1 39.1 1 .9 1 14.9 1 16.7 1 33.9 1 176.6 1 6 1 8.7 1 26.9 1 20.5 1 20 1 4.7 1 3.1 1 10.1 1 9.3 1 31.9 1 60.7 1.9 18.3 1 5 1 10.3 1 .9 1 3.6 1 3.3 1 7.2 1.7 3.8 1 4.2 1 6 1 3 1 4.2 1 6.4 1 .9 1 22.3 1 .3 1 1.2 1 .1 1 5.1 1 3.8 1 3.1 1 10 1 13.6 1 3.3 1 2.2 1 28.7 1 2.6 1 2.4 1 2 1 11.6 1 5.8 1 8.4 1 14.2 1 5.3 1 6 1.7 6.1 1 7.2 1 14.5 1 19 1 21.3 1 12.3 1 25 1 193.4 1 56.4 1 100.3 1 148.7 1 10.4 1 42.6 1 18.3 1 41.4 1 11.7 1 6.1 2.8 18 1 7.4 1 4 1 3.6 1 6.3 1 11 1 5.6 1 1.4 1 38 1 9.5 1 10.6 1 6.7 1 18.8 1 1.9 1 8 1 9.6 1 26.3 1 13.6 1 6 1 21.8 1 53.6 1 13 1 17.4 1 9.5 1 5.6 1 1.1 1 5.1 1.9 25.7 1 .8 1 27.8 1 8.4 1 11.5 1 15.7 1 23.1 1 110.2 1 12.7 1 10.1 1 56.3 1 292.3 1 58.7 2 40.2 1 26.7 1 46.3 1 10.6 1 28.7 1 8.8 1 .5 1 22.9 1 18.8 1 11.5 1 .4 1 10 1.8 9.5 1 2.4 1 1.9 1 .3 2 1.9 1 2.8 1 3.7 1 2.1 1 16.4 1 11.1 1 32.2 1 18.9 1 12 1 3 3 24.2 1 25.5 1 7.5 3.8 .1 1 5.8 1 4.2 1 50.2 1 28 1 29.9 1 82.9 1 76.8 1 54.2 1 16.8 1 91.1 1 31 1 86.4 1 14.2 1 67.1 1 49.8 1 1.4 1 21.1 1 11.2 1 6.9 1 1.4 1 5.6 2 33 1 11.3 1 1 1 2.7 1 .1 1 21.2 1 13.6 1 32.8 1 .7 1 28 1 9.3 1 15.8 1 15.9 1 19.1 1 28.9 1 6.5 1 2.8 1 1.9 1 18 1 22.9 1 23.2 1 10 2 7.7 1 16.2 1 .2 1 108.2 1 38 1 98.2 1 28.5 1 8.1 1 6.9 1 35.8 1 43.6 1 68.2 1 11.7 1 30.4 1 39.4 1 66.5 1 28.3 1 27.4 3.9 .1 1 11.3 1 49.6 1 1.5 1 24.7 1 6.5 1 3.5 1 21.7 1 6.1 1 17.3 1 6.6 1 12.4 1 2.6 1 7.1 1 26.6 1 1.1 1 7.4 1 2.5 1 9.6 1 .8 1 30.7 1 23.1 1 21 1 2.8 1 .8 1 19 1 6.9 1 7 1 17.1 1 10.5 1 16.2 1 25.4 1 18.6 1 42.7 1 10.6 1 143.8 1 .4 1 53.4 1 21.3 1 35.2 1 91.9 1 56.7 1 20.9 1 151.6 1 2.1 1 5.2 1 1.8 1 24.9 1 37 1 9.2 1 16.7 1 8.2 1 23.7 1 7 1 6.2 1 3.1 1 8.4 1 14.3 1 7.9 1 4.5 1 14.5 1 8.8 1 49 1.7 4.4 1 3.1 1 13.8 1 7.1 1 17.9 1.9 2.2 1 7.8 1.7 35.3 1 .1 1 1.2 1 6.5 1 17.6 1 3.6 1 3.1 1 12.2 1 10.1 1 1.6 1 6.7 1 54.4 1 24.6 1 144.3 1 197.3 1 38.7 1 10 1 50.1 1 75 1 17.2 1 4.4 1 37.5 1 11.2 1 4.4 1 7.6 1 3 1 72 1 22 1 8.3 1 9.6 1 14.3 1 4.7 1 7.3 1 6.4 1 3.4 1 3.7 1 4.1 1 3.6 1 43.3 1 8 1.5 2.4 1 34.1 1 28 1 8 1 18.2 1 2.4 1 29.6 1 40.2 1 6.9 1 3.1 1 1.5 1 22.7 1 10.8 1 18.4 1 12.5 1 292.9 1 19.1 1 44.9 1 25.2 1 16.2 1 119.1 1 52.7 1 7.4 1 15.2 2.9 6.6 1 6.7 1 20.6 1 25.1 1 .9 1 39 1 4.9 1 15.2 1 6.8 1 6.4 1 17.7 2 36 1 8.4 1 3.9 1 11.8 1 2 1 36.9 1 5.8 1 9.3 1 10 1 21.7 1 3.8 1 1.3 1 10.4 1 1.2 1 .7 1 13.3 1 3.9 1 3.2 1 5.9 1 11.2 1 2 1 2.3 1 2.7 1 2 1 33.1 1 15.8 1 56.9 1 30.8 1 70.5 1 13.1 1 14.2 1 305.9 1 66.6 1 27.5 1 83.5 1 33.6 1 21.9 1 17.4 1 7.2 1 47.1 1 4 1 3 1 21.4 1 1.2 1 8.5 1 .2 1 4.8 1 4 1 21.8 1 2.1 1 9.1 1 6.7 1 8.5 1 13.9 1 5.7 1 2.2 1 1.1 1 31.9 1 1.4 1 6.9 1 27.9 2 6.3 1 2.4 1 12.1 1 13.1 1 1.3 1 18.6 1 1.2 1 .1 1.9 .1 1 1.9 1 12.7 1 62.9 1 72 1 84.1 1 68.9 1 67.7 1 44.9 1 72.6 1 168.1 1 8.3 1 10.1 1 23 1 1 1 10 2 3.5 1 2.3 1 8.1 1 69.1 1 12.2 1 3.7 1 5.3 1 17.5 1 13.3 1 31.3 1 7.8 1 16.5 1 5.6 1 19 1 46.6 1 56.4 1 32.3 1 1 1 14.7 1 29 1 6.8 1 41.3 1 178.2 1 224.4 1 2.6 1 92.6 1 21.9 1 13.1 1 .5 1 3.1 1 8.9 1 36.4 3.7 51.1 1 6.3 1 .1 1 1.6 1 16.7 1 32.6 1 8.2 1 1.5 1 31.3 1 3.5 1 30.4 1 4.1 1 12 1 .3 1 18 2 2 1 15.4 1 22.6 1 3.7 1 28.8 1.7 6.6 1 12 1 43.7 1.8 6.4 1 .9 1 9.4 1 19.3 1 1.4 1.8 21.1 1 18.2 1 2.8 1 20.8 1 10.4 1 97.7 1 105.2 1 41.1 1 .2 1 45.8 1 92 1 98.3 1 191.2 1 2.4 1 .7 1 3.9 1 5.1 1 1 1 6.7 1 27.6 1 4.9 1 4.6 1 7.7 1 6.1 1 27.1 1 6 1 16.9 1 18 1 2.7 1 15.9 1.9 5.2 1 23.4 1 22.4 1 20.7 1 10.7 1 10.2 1 10.1 1 .2 1 7.7 1 46.8 1 4.2 1 9 1 2.3 1 147.3 1 11.8 1 103.8 1 146.9 1 75.3 1 12.4 1 30.6 1 73.3 1 5.1 1 49.2 1 .4 1 .2 1 2.9 1 2.7 1 8.3 1 29.7 1 55.7 1 9.4 1 32.1 1 6.6 1 51 1 28.2 1.8 10.9 1 7 1.8 3.2 1 9.9 1 9.8 1 11 1 23.6 1 13.6 1 2.7 1 8 1 8 1 .4 1 14.7 1 21.3 1 8.9 1 8.7 1 23.1 1 71.6 1 126 1 215.7 1 170.6 1 12.1 1 57.7 1.7 .2 1 .1 1 1 3 30.3 1.8 5.6 1.9 6.7 1 14.6 1 5.9 1 26.7 1 3.9 1 14.5 1 52.3 1 5 2 14.8 1 45.3 1 15.5 1 4.5 1 16.1 1 6.8 1 .7 1 2.6 1 4.8 2 5.7 1 6.7 1.9 27.2 1 24.7 1 16.5 1 9.9 1 41.2 1 11.1 1 56.8 1 211.2 1 5.7 1 76.1 1 84.7 1 133.2 1 39 1 12.5 1 3.3 1 16.1 1 12.2 1 26.9 1 16.9 1 9.1 1 7.1 1 1.5 1 23.9 1 37.3 1 .1 1 23.1 1 24 1 12.7 1 .7 1 5.3 1 14 1 24.1 1 13.5 1 42.8 1 31.5 1 10.2 1 5.1 1 .1 1.7 2.8 1 17.6 1 5.1 1 32 1.8 .1 1 4.8 1 .4 1 79.1 1 157.3 1 21.1 1 93.5 1 91.1 1 148.1 1 55.7 1 86.6 1 10.7 1 26.8 1 23.8 1 1 1 8.1 1 17.2 1 .2 1 27.8 1 7.6 1 19.9 1 1.5 1 11.9 1 9.8 1.6 6.6 1 4.5 1 6.8 1 4.2 1 15.6 1 16 1 47.9 1 4.7 1 23.4 1 1.2 1 18.8 1 96.4 1 48.7 1 161 1 75.9 1 59.6 1 197.8 1 13.5 1 19.3 1 13.2 1 .2 1 .1 1.9 .4 1 5.6 2 24.7 1 10.2 1 15.2 1.9 57.8 1 3.2 1 2.1 1 28.1 1 6.6 1 17.6 1 2.5 1 6.8 1 30.5 1 4.2 1 9.1 1 1 1 1.9 1 .1 1 20 1 10.6 1 23.6 1 6.7 1 7.9 1 80.2 1 13 1 6.8 1 .4 1 67.5 1 87.4 1 29.8 1 80.7 1 58.6 1 37.2 1 288.8 1 15.8 1 12.3 1 .9 1 4.7 1 2.9 1 18.1 1 22.3 1 27.4 1 11.5 1 3.4 1 10 1 5.6 1 11.1 1 22.7 1 13.1 1 6.9 1 .4 1 3.9 1 3.3 1 8 1 10.9 1 37.6 1 21.7 1 6.8 1 5 1 2.6 1 1.3 1 123.9 1 .1 1 .1 1 45.4 1 169.8 1 2.7 1 99.3 1 353.3 1 1.8 1 16.2 1 19 1 8.5 1 16.2 1 12.8 1 2.9 1 14.5 1 3.1 1 .1 1 19.8 1 2 1 36.2 1 10.6 1 22.2 1.6 4.8 1 4.6 1 8.7 1 1.4 1 28.5 1 9.3 1 15.5 1 .5 1 7.2 1 10 1 26.1 1 20.2 1 37.7 1 19 1 19.3 1 .7 1 9.6 1 200 1 373 1 39.8 1 23.3 1 24.9 1 1 1.8 51 1 10 1 36 1 36.2 1 29.9 1 .4 1 12.4 1 8.4 1.7 3 1 28.8 1 23.6 1 8 1 9 1 8.9 1 5.1 1 .1 1 7.4 1 16.3 1 15.2 1 16.4 1 21 1 50.6 1 6.2 1 .8 1 1.9 1 138.3 1 31.7 1 88.8 1 74.6 1 63.8 1 163.2 1 42.2 1 6.7 1 2.4 1 43.5 1 24.1 1 8.1 1 40 1 4.1 1 35.3 1 33.4 1 2.6 1 42.5 1 17.2 1 6.7 1 6.1 1 10.5 2 26 1 90.8 1 2.3 1 21.8 1 17.3 1 21.7 2 6.6 1 55.7 1 162.5 1 80.5 1 59.3 1 263 1 9.2 1 33.8 1 2.2 1 87.6 1 10.3 1 2.5 1 17.3 1 1.4 1 1.1 1 8.8 1 15.9 1 16.2 1.8 17 1 14 1 .4 1 9.7 1 26.9 1 6.3 1 59.5 1 2.5 1 5.9 1 14.6 1 19.2 2 63.8 1 11.1 1 665.4 1 14 1 17.8 1 7.1 1 23.1 1 4.3 1 .9 1 48.7 1 9.3 1 49.8 1 6.4 1 5.3 1 21.8 1 1.7 1 9.3 1 3.9 1 20.3 1 4.7 1 9 1 17.1 1 32.2 1 52.7 1.9 20.7 1 19.6 1 5.7 1 8.6 1 387.3 1 88.6 1 109.9 1 45.9 1 13.2 1 25.7 1 34 1 61.9 1 68.6 2.6 44.9 1 7 1 47.7 1 15.3 1 30.2 1 23.1 1 5.3 1 52 1 9.9 1 61.8 1 113.6 1 329.8 1 114.3 1 63.4 1 28.4 1 12.1 1 2.2 1 51.1 1 25.4 1 2.5 1 56.1 1 8 1 4.8 1 38 1 18.5 1 1.6 1 27.4 1 11.6 1 .8 1 10.6 1 1 1.4 7.1 1 39.1 1 11.9 1 34.6 2 75.1 1 203.5 1 106 1 28 1 92.7 1 37.4 1 5.1 1 88.1 1 27.8 1 4.2 1 2.2 1 .1 1 50.7 1 9.2 1.8 64 1 3.7 1 50.1 1 38.2 1 3.7 1 27.8 1 12.1 1 59.7 1 17.8 1 8 1 .5 1 65.2 1 31.8 1 172.8 1 182.6 1 2.2 1 101.4 1 182 1 15.5 1 100.4 1 20.2 1 18.9 1 30.9 1 13.5 1 46.7 1 38.7 1.3 24.1 1 4.2 1 11.9 1 5.1 1 14.4 1 .8 1 2.3 1 1.7 1 15.4 1 20.9 1 16.4 1 59.2 1 36 1 22.7 1 560.8 1 44.5 1 9.5 1 81.2 1 17.7 1 10.3 1 41.6 1 61.2 1 55.8 1 21.3 1 7.3 1 2.2 1 1.6 1 45.9 1 9 1 .1 1 3.3 1 73.6 1 60.8 1 2 1 89.2 1 60.2 1 95.3 1 39.2 1 5.4 1 139.4 1 26.6 1 9.2 1 56.5 1 1.2 1 3.3 1 31.9 1 11.3 1 18 1 34.9 1 9.7 1 7.7 1 13.7 1 18 1 4.8 1 4.7 1 10.9 1 9.8 1 6.1 1 7.2 1 29.1 1 12.3 1 1.8 1 2.4 1 2.8 1 18.9 1 15.3 1 3.2 1 29.1 1 9.9 1 88.4 1 65.2 1 128.2 1 84.8 1 9.5 1 43.6 1 57.2 1 231.7 1 21.5 1 37.6 1 19.4 1 19.3 1 10.9 1 14.1 1 22 1 13.3 1 42.6 1 2.4 1 19.9 1 59.6 1 4.1 1 19.4 1 10.8 1 4.5 1 37.6 1 17 1 13.7 1 18.7 1 46.6 1 .5 1 242.4 1 7.5 1 76.3 1 19.9 1 238.8 1 13.8 1 67.9 1 .7 1 2.4 1 12 1 11.1 1 19.5 1 42.6 1 14.7 1 3.4 1 26.9 1 7.9 1 16.5 1 34.3 1 10.9 1 98.4 1 37.4 1 9.8 1 16.2 1 32.8 1 10.9 1 33.2 1 30.8 1 48.2 1 36.9 1 157.1 1 260.3 1 51.3 1 54.1 1 24.3 1 10.9 1 21.3 1 3.9 1 .2 1 31.9 1 83 1 2 1 .7 1 38.1 1 17.9 1 5.8 1 26 1 18.7 1 144.2 1 22.1 1 171.3 1 41.6 1 17.3 1 312.5 1 68.9 1 12.6 1 9 1 59.2 1 2.7 1 26.3 1 1.9 1 15.8 1 1.2 1 12.8 1 63.2 1 1.9 1 56.7 1 32.1 1 4.5 1 63.2 1 74.6 1 39.4 1 569.2 1 29.1 1 31.2 1 21.1 1 7.3 1 33.4 1 31 1 24.4 1 8.6 1 3.9 1 .7 1 10.7 1 10.1 1 14 1 .3 1 3 1 9.7 1 16.2 1 99999"/>
<path d="M119 839.167h552v.3333h-552v.3333h552v.3333h-552v.3333h552v.3333h-552v.3333h552v.3333h-552v.3333h552v.3333h-552v.3333h552v.3333h-552v.3333h552v.3333h-552v.3333h552v.3333h-552v.3333h552v.3333h-552v.3333h552v.3333h-552v.3333h552v.3333h-552v.3333h552v.3333h-552v.3333h552v.3333h-552v.3333h552v.3333h-552v.3333h552v.3333h-552v.3333h552v.3333h-552v.3333h552v.3333h-552v.3333h552v.3333h-552v.3333h552v.3333h-552v.3333h552v.3333h-552v.3333h552v.3333h-552v.3333h552v.3333h-552v.3333h552v.3333h-552v.3333h552v.3333h-552v.3333h552v.3333h-552v.3333h552v.3333h-552v.3333h552v.3333h-552v.3333h552v.3333h-552v.3333h552v.3333h-552v.3333h552v.3333h-552v.3333h552v.3333h-552v.3333h552v.3333h-552v.3333h552v.3333h-552v.3333h552v.3333h-552v.3333h552v.3333h-552v.3333h552v.3333h-552" stroke-dasharray="0 3.7 1 2.2 1 9.3 1 9.2 1 13.9 1 22.1 1 17 1 19.4 1 30.4 1 60.1 1 8.3 1 7.1 1 2.6 1 115 1 459.8 1 96.2 1 64.2 1 5 1 27.7 1 1.8 1 7.3 1 7.8 1 3 1 9.9 1 42.9 1 16.5 1 6.7 1 9.3 1 9.2 1 20.4 1 114.7 1 16.1 1 4.7 1 513.4 1 212.4 1 73 1 2.7 1 2 1 39.8 1 45.6 1 3.6 1 6.6 1 17.2 1 14.8 1 1 1 27.4 1 4.2 1 .7 1 .4 1 2.3 1 69.9 1 3.4 1 16.2 1 3.1 1 42.4 1 19.7 1 17.7 1 102.7 1 168 1 18.8 1 329.4 1 17.1 1 19.7 1 38.9 1 23.2 1 134.3 1 37.7 1 .9 1 17.7 1 7.2 1 2.4 1 63.9 1 9.2 1 14.2 1 1.1 1 67.4 1 234.3 1 384.5 1 53 1 54.9 1 4 1 111.3 1 67.5 1 11.6 1 11.6 1 2.2 1 23.6 1 67.8 1 5.2 1 24.3 1 18.1 1 20.6 1 46.7 1 21.6 1 126.4 1 67.8 1 329.8 1 29.8 1 38.5 1 16.9 1 98.4 1 4.7 1 32.5 1 1.9 1 56.8 1 30.5 1 18.5 1 34.3 1 49.8 1 10.7 1 6.1 1 .2 1 31.2 1 17 1 134.1 1 22.8 1 26.7 1 213.9 1 313.5 1 27 1 76.5 1 56.4 1 4.2 1 5.9 1 42 1 36.9 1 64 1 19.4 1 91.4 1 281.3 1 68.5 1 282.3 1 .1 1 62 1 26.6 1 8.9 1 40.2 1 32 1 3.1 1 1.3 1 17.7 1 20.8 1 5.7 1 25.1 1 16 1 3.6 1 52 1 22.7 1 5.6 1 19.7 1 21.4 1 519.6 1 247 1 12.7 1 7.9 1 3.3 1 42 1 30.8 1 7.7 1 .6 1 4.7 1 27.7 1 7.7 1 38.6 1 4.6 1 5.1 1 28.7 1 36.7 1 5.9 1 11.3 1 15.2 1 188.6 1 123.4 1 286.3 1 89.9 1 7.9 1 1.5 1 23.7 1 42 1 19.7 1 83.4 1 9.9 1 63 1 3 1 33.8 1 .2 1 58.3 1 20.5 1 15.4 1 357 1 75 1 184.6 1 24.7 1 52.4 1 80.5 1 21.4 1 11.7 1 29.7 1 21.1 1 88.6 1 5.7 1 45.5 2 9.7 1 63.7 1 5 1 75.2 1 150.2 1 157.3 1 136.2 1 59.7 1 56 1 80.2 1 216.9 1 1.9 1 5.3 1 5.6 1 26.9 1 45.3 1 13.1 1 73.6 1 10.6 1 1.4 1 15 1 29.9 1.7 8.1 1 120.5 1 198.6 1 97.8 1 250.1 1 6.4 1 88.6 1 168.9 1 25.9 1 116.4 1 2.7 1 60.9 1 295.3 1 77.2 1 26 1 200.9 1 18.5 1.9 3.1 1 75 1 2.3 1 68.8 1 29.1 1 2.2 1 16.6 1 2.2 1 4.8 1 20.2 1 46.6 1 4.3 1 41.4 1 145.3 1 25 1 31 1 203.4 1 237.6 1 12.2 1 214.1 1 75.5 1 103.6 1 83.3 1 1.5 1 59.1 1 392.1 1 285.4 1 47.8 1 40.4 1 11.6 1 22.2 1 51.9 1 32.9 1 1.5 1 127.3 1 16.4 1 .4 1 25.6 1 301.9 1 425.2 1 5.6 1 11.7 1 127 1 .2 1 10.7 1 8.7 1 3.4 1 15.3 1.5 11.1 1 142.9 1 76.9 1 189.7 1 116.5 1 127.9 1 213.9 1 86.6 1 15.8 1 70.1 1 11.9 2.4 7.8 1 22.6 1 65.7 1 7 1 11.3 1 62.2 1 2.3 1 .1 1 12.4 1 6.9 1 41.5 1 59.9 1 329.5 1 31.6 1 167 1 38.6 1 100 1 7.6 1 14.3 1 46.3 1 55.4 1 6 1 61.2 1 25.8 1 3.2 1 77.9 1 37.1 1 39 1 139.2 1 153.7 1 169 1 92 1 44.5 1 60 1 21.1 1 84.8 1 17.4 1 9.2 1 56.8 1 36.2 1 3.6 2 1 1 1.1 1 5.6 1 97.6 1 78.9 1 .3 1 28.9 1 42.2 1 284.8 1 480.5 1 21.9 1 89.4 1 .1 1 42 1 36.7 1 67.2 1.7 33 1 172.5 1 11.8 1 254.5 1 87.4 1 51.6 1 43.1 1 31.7 1 18.5 1 29.2 1 53.3 1 41.3 1 27.9 1 8.6 1 49.2 1 17.3 1 14.7 1 62.6 1 12.8 1 62.8 1 5.4 1 580.2 1 150.9 1 34.7 1 27.9 1 23 1 34.3 1 38.4 1 27.9 1 35.2 1 24.1 1 26.7 1 14.2 1 101.5 1 26 1 53.3 1 404.4 1 199.3 1 5.9 1 5.9 1 6.7 1 32.2 1 17.8 1 10.5 1 41.2 1 13.2 1 14.8 1 2.3 1 23.8 1 34.9 1 17.8 1 23.7 1 11.1 1 106.9 1 666.8 1 59.4 1 14.7 1 109.5 1 88.5 1 54.6 1 33.7 1 17.9 1 49.5 1 23.4 1 654.5 1 20.6 1 7.9 1 79 1 7.9 1 10.7 1 20 1 42.2 1 11.3 1 14.6 1 16 1 3.2 1 30.4 1 34.1 1 1.4 1 31.2 1 6.9 1 94 1 21.4 1 157.6 1 76.4 1 363.6 1 34.1 1 80.6 1 18.2 1 39 1 5.7 1 4.3 1 151.7 1 3.9 1 1.8 1 10.4 1 42.5 1 33.5 1 20.8 1 615.4 1 59.5 1 77.6 1 17.1 1 60 1 92.6 1 7 1 33.5 1 99.4 1 12.1 1 15.4 1.9 66.2 1 135.8 1 463.2 1 14.2 1 62.1 1 94.9 1 4 1 27.1 1 4 1 21.5 1 7.3 1 96.1 1 35.9 1 39.7 1.6 12.3 1 286.1 1 97.4 1 464.7 1 22.6 1 22.5 1 39.1 1 27 1 63.7 1 400.4 1 97.3 1 225.6 1 34.1 1 63.4 1 34.9 1.6 36.9 1 .6 1 8.5 1 .6 1 6.6 1 24.9 1 2.2 1 1.7 1 66.1 1 78.9 1 70.4 1 37.3 1 668.6 1 65.3 1 22.8 1 96.6 1 92 1 1.4 1 78.4 1 9.3 1 4.4 1 10.2 1 20.7 1 546.1 1 161.9 1 42 1 21.7 1 25.4 1 84.9 1 2.6 1 3.9 1 7.7 1 13.4 1 7.9 1 38.3 1 48.5 1 44.6 1 41 1 .4 1 427 1 249.8 1 62.8 1 6.1 1 26.3 1 26.6 1 38.1 1 43.8 1 43.8 1 19.1 1 9.8 1 82.2 1 5.5 1 47.9 1 40.8 1 85.3 1 309.1 1 122.1 1 192.6 1 9.9 1 42.6 1 51.1 1 10.6 1 7.6 2 42.4 1 11.9 1 82.5 1 71.9 1 149.3 1 191 1 19.9 1 12.7 1 149.8 1 73 1 23.5 1 62.6 1 4.6 1 57.6 1 81.8 1 19.9 1 12.5 1 2.3 1 15.2 1 62.4 1 6.9 1 12 1 2 1 7.3 1.5 26.6 1 84.1 1 12.7 1 .2 1 6.6 1 19.9 1 480.8 1 233.7 1 8.4 1 40.3 1 16.3 1 25.9 1 1.3 1 28.7 1 15.8 1 99999"/>
<path d="M119 863.167h552v.3333h-552v.3333h552v.3333h-552v.3333h552v.3333h-552v.3333h552v.3333h-552v.3333h552v.3333h-552v.3333h552v.3333h-552v.3333h552v.3333h-552v.3333h552v.3333h-552v.3333h552v.3333h-552v.3333h552v.3333h-552v.3333h552v.3333h-552v.3333h552v.3333h-552v.3333h552v.3333h-552v.3333h552v.3333h-552v.3333h552v.3333h-552v.3333h552v.3333h-552v.3333h552v.3333h-552v.3333h552v.3333h-552v.3333h552v.3333h-552v.3333h552v.3333h-552v.3333h552v.3333h-552v.3333h552v.3333h-552v.3333h552v.3333h-552v.3333h552v.3333h-552v.3333h552v.3333h-552v.3333h552v.3333h-552v.3333h552v.3333h-552v.3333h552v.3333h-552v.3333h552v.3333h-552v.3333h552v.3333h-552v.3333h552v.3333h-552v.3333h552v.3333h-552v.3333h552v.3333h-552v.3333h552v.3333h-552v.3333h552v.3333h-552v.3333h552v.3333h-552" stroke-dasharray="0 52.3 1 124.4 1 89.3 1 159.1 1 462.3 1 77.8 1 116.7 1 23.2 1 34.6 1 10.5 1 11.3 1 80.5 1 39.7 1 86.2 1 100 1 506.1 1 53.3 1 50 1 87.6 1 91.2 1 8.1 1 33.2 1 72.8 1 26.9 1 5.3 1 46.3 1 185.7 1 69.7 1 67.6 1 523.3 1 19.9 1 96.4 1 48.8 1 26.9 1 81.4 1 9.4 1 528.2 1 86.5 1 27.6 1 64.4 1 19.8 1 42.2 1 16.8 1 14 1 69 1 3 1 52.2 1 49.1 1 53 1 42 1 680.1 1 70.5 1 15.2 1 6 1 22.7 1 70.9 1 84.7 1 82.9 1 14.7 1 135.3 1 118.9 1 154.3 1 148.2 1 100.7 1 .9 1 14.1 1 139.8 1 9.8 1 39.2 1 53.2 1 56.1 1 4 1 35.1 1 .5 1 539.7 1 249.9 1 89.2 1 64.5 1 59.2 1 8.7 1 22.2 1 125.6 1 267.7 1 424 1 120.3 1 23 1 67 1 34.8 1 59.3 1 58.7 1 42 1 427.1 1 149.3 1 36.8 1 117.1 1 1.3 1 69.5 1 18 1 70 1 4.5 1 30.2 1 4.3 1 17.3 1 8.1 1 8.7 1 1.2 1 60 1 33.8 1 28.8 1 139.4 1 525.5 1 163.3 1 30.3 1 11.6 1 16 1 13.7 1 34.7 1 1.1 1 114.5 1 11.1 1 625.8 1 83.5 1 63.1 1 10.1 1 162.8 1 163.3 1 1.6 1 8.4 1 10.4 1 16.9 1 391.4 1 227.7 1 33.1 1 42.1 1 26.3 1 137.3 1 102.4 1 19.5 1 .3 1 41.7 1 54.1 1 133.6 1 489.3 1 147.4 1 66.9 1 90 1 135.1 1 2.1 1 31.4 1 33.1 1 67.3 1 144.2 1 432.5 1 2.8 1 32.1 1 72.3 1 222.7 1 30 1 727.4 1 105.1 1 31.6 1 56.7 1 53.9 1 16.6 1 170.9 1 6.2 1 84 1 680.7 1 28.6 1 25.4 1 39.5 1 1.1 1 2.5 1 31.1 1 21.6 1 54.4 1 48.3 1 4.4 1 121.9 1 241.1 1 9.4 1 2.2 1 294.4 1 64.2 1 34.6 1 34.6 1 30.2 1 25.5 1 24.1 1 80.1 1 2.2 1 3.6 1 52 1 62.1 1 .2 1 23.4 1 8.5 1 13.2 1 10.3 1 3.7 1 753.3 1 2.6 1 .1 1 96.1 1 73.2 2 12 1 36.1 1 121.2 1 116 1 262.3 1 13 1 284.8 1 13.7 1 29.5 1 1.1 1 28.2 1 38.8 1 38.7 1 69.2 1 3.3 1 15.7 1 287.1 1 56.1 1 314.8 1 8.7 1 239.8 1 8.7 1 13.6 1 53.7 1 44.2 1 7.8 1 105.5 1 31.6 1 46.6 1 51 1 523.5 1 99.8 1 54 1 238.7 1 103.3 1 38 1 1.7 1 36.6 1 30.7 1 4.5 1 310.8 1 665.8 1 25 1 44.3 1 4.6 1 53 1 272.9 1 60.6 1 124.3 2 170.4 1 36.9 1 42.8 1 21.1 1 58.3 1 61.5 1 37 1 28.3 1 647.5 1 164.3 1 2.1 1 53.4 1 34.4 1 61.1 1 32.3 1 27.8 1 2.5 1 22.3 1 1.9 1 30.8 1 200.3 1 578.6 1 47.4 1.6 49.9 1 42.1 1 141.1 1 4.7 1 14.9 1 17.4 1 1 1 17.2 1 70.2 1 22.8 1 133.7 1 16.2 1 283.8 1 359.9 1 21.5 1 4.3 1 118.5 1 28.7 1 13.9 1 102.8 1 125.7 1 527.2 1 69.1 1 143.8 1 33.7 1 37 1 33.3 1 30.6 1 60.1 1 11.7 1 1.8 1 17.1 1 101.1 1 225.3 1 154.9 1 234.2 1 6.2 1 11.6 1 8.4 1 133.3 1 40.1 1 4.3 1 118.1 1 494.2 1 195.5 1 58.2 1 101.7 1 74.5 1 52.1 1 37.7 1 97.8 1 5.9 1 102.7 1 654.9 1 .1 1 82.1 1 26.9 1.7 12 1 102.8 2 128.5 1 104.5 1 8 1 871 1 836.4 1 262.8 1 7.1 1 32.6 1 26 1 18.4 1 51.1 1 45.2 1 35.6 1 22.4 1 61.8 1 525.2 1 30.5 1 46 1 2.1 1 99.3 1 13 1 183.5 1 469.8 1 433.1 1 80.3 1 96.4 1 84 1 630.2 1 74.2 1 176 1 58.6 1 53 1 73.7 1 43.7 1 63.2 1 806.8 1 99999"/>
<path d="M119 887.167h552v.3333h-552v.3333h552v.3333h-552v.3333h552v.3333h-552v.3333h552v.3333h-552v.3333h552v.3333h-552v.3333h552v.3333h-552v.3333h552v.3333h-552v.3333h552v.3333h-552v.3333h552v.3333h-552v.3333h552v.3333h-552v.3333h552v.3333h-552v.3333h552v.3333h-552" stroke-dasharray="0 13.6 1 49.7 1 208.1 1 215.7 1 348.2 1 11 1 39 1 225.6 1 120.9 1 756.6 1 62.6 1 369.9 1 51.7 1 653.3 1 7.1 1 136 1 2.8 1 47.6 1 4 1 375.7 1 3.9 1 170.7 1 310.6 1 126.8 1 119.3 1 890.8 1 2.7 1 50.8 1 44.5 1 235 1 731.6 1 43.2 1 3.1 1 13.3 1 118.3 1 7.1 1 44.5 1 109.6 1 25.5 1 50.2 1 610.1 1 68.4 1 95.1 1 20.4 1 44.6 1 58.5 1 19.2 1 149.9 1 152.7 1 477.9 1 276.5 1 54.8 1 38.7 1 10.6 1 241.5 1 170 1 382.9 1 151.5 1 24.5 1 20.3 1 2.1 1 136.1 1 28.8 1 10 1 181.9 1 5.5 1 121.8 1 412.5 1 152 1 37.8 1 32.9 1 3.2 1 79.5 1 89.5 1 385.3 1 404.5 1 66.3 1 109 1 129.7 1 27.5 1 679.3 1 3.1 1 7.8 1 43.6 1 4 1 81.3 1 99999"/></g></g>
<path d="M118.5 176.99H671.8" stroke="#000" stroke-width="3.6" stroke-dasharray="7.8 8.67" fill="none"/>
<path d="M118.5 669.69H671.8" stroke="#000" stroke-width="3.6" stroke-dasharray="7.8 8.67" fill="none"/>
<circle cx="180.9" cy="35.5" r="3.1" fill="#00f"/>
<circle cx="144.9" cy="63.1" r="3.1" fill="#00f"/>
<circle cx="236.0" cy="53.5" r="3.1" fill="#00f"/>
<circle cx="251.7" cy="76.3" r="3.1" fill="#00f"/>
<circle cx="229.8" cy="86.1" r="3.1" fill="#00f"/>
<circle cx="144.1" cy="93.7" r="3.1" fill="#00f"/>
<circle cx="160.0" cy="101.2" r="3.1" fill="#00f"/>
<circle cx="160.7" cy="105.1" r="3.1" fill="#00f"/>
<circle cx="193.9" cy="105.7" r="3.1" fill="#00f"/>
<circle cx="225.1" cy="101.0" r="3.1" fill="#00f"/>
<circle cx="144.1" cy="112.0" r="3.1" fill="#00f"/>
<circle cx="142.1" cy="117.6" r="3.1" fill="#00f"/>
<circle cx="172.5" cy="116.1" r="3.1" fill="#00f"/>
<circle cx="170.2" cy="120.2" r="3.1" fill="#00f"/>
<circle cx="204.1" cy="120.8" r="3.1" fill="#00f"/>
<circle cx="191.5" cy="130.2" r="3.1" fill="#00f"/>
<circle cx="175.1" cy="140.8" r="3.1" fill="#00f"/>
<circle cx="127.2" cy="146.1" r="3.1" fill="#00f"/>
<circle cx="140.9" cy="153.7" r="3.1" fill="#00f"/>
<circle cx="222.9" cy="139.8" r="3.1" fill="#00f"/>
<circle cx="229.6" cy="141.0" r="3.1" fill="#00f"/>
<circle cx="229.6" cy="157.3" r="3.1" fill="#00f"/>
<circle cx="251.5" cy="140.4" r="3.1" fill="#00f"/>
<circle cx="254.5" cy="157.3" r="3.1" fill="#00f"/>
<circle cx="377.6" cy="14.1" r="3.1" fill="#00f"/>
<circle cx="325.9" cy="45.5" r="3.1" fill="#00f"/>
<circle cx="344.5" cy="46.9" r="3.1" fill="#00f"/>
<circle cx="388.8" cy="54.1" r="3.1" fill="#00f"/>
<circle cx="293.5" cy="60.0" r="3.1" fill="#00f"/>
<circle cx="292.9" cy="63.5" r="3.1" fill="#00f"/>
<circle cx="306.9" cy="59.8" r="3.1" fill="#00f"/>
<circle cx="311.6" cy="67.3" r="3.1" fill="#00f"/>
<circle cx="293.7" cy="70.2" r="3.1" fill="#00f"/>
<circle cx="264.3" cy="83.5" r="3.1" fill="#00f"/>
<circle cx="262.2" cy="86.1" r="3.1" fill="#00f"/>
<circle cx="321.8" cy="88.4" r="3.1" fill="#00f"/>
<circle cx="333.3" cy="94.3" r="3.1" fill="#00f"/>
<circle cx="365.3" cy="76.7" r="3.1" fill="#00f"/>
<circle cx="359.4" cy="85.1" r="3.1" fill="#00f"/>
<circle cx="349.0" cy="99.8" r="3.1" fill="#00f"/>
<circle cx="386.3" cy="98.2" r="3.1" fill="#00f"/>
<circle cx="280.8" cy="102.0" r="3.1" fill="#00f"/>
<circle cx="304.5" cy="102.9" r="3.1" fill="#00f"/>
<circle cx="319.0" cy="103.7" r="3.1" fill="#00f"/>
<circle cx="263.9" cy="108.4" r="3.1" fill="#00f"/>
<circle cx="288.2" cy="108.4" r="3.1" fill="#00f"/>
<circle cx="332.7" cy="109.6" r="3.1" fill="#00f"/>
<circle cx="266.7" cy="116.5" r="3.1" fill="#00f"/>
<circle cx="291.8" cy="119.2" r="3.1" fill="#00f"/>
<circle cx="384.5" cy="108.8" r="3.1" fill="#00f"/>
<circle cx="380.2" cy="115.1" r="3.1" fill="#00f"/>
<circle cx="381.6" cy="123.5" r="3.1" fill="#00f"/>
<circle cx="268.8" cy="124.7" r="3.1" fill="#00f"/>
<circle cx="281.0" cy="125.3" r="3.1" fill="#00f"/>
<circle cx="330.6" cy="124.3" r="3.1" fill="#00f"/>
<circle cx="266.8" cy="131.2" r="3.1" fill="#00f"/>
<circle cx="266.8" cy="138.9" r="3.1" fill="#00f"/>
<circle cx="279.1" cy="138.7" r="3.1" fill="#00f"/>
<circle cx="282.1" cy="137.6" r="3.1" fill="#00f"/>
<circle cx="291.3" cy="133.8" r="3.1" fill="#00f"/>
<circle cx="298.8" cy="131.4" r="3.1" fill="#00f"/>
<circle cx="305.9" cy="137.3" r="3.1" fill="#00f"/>
<circle cx="308.7" cy="140.9" r="3.1" fill="#00f"/>
<circle cx="312.8" cy="134.6" r="3.1" fill="#00f"/>
<circle cx="317.9" cy="136.1" r="3.1" fill="#00f"/>
<circle cx="293.4" cy="140.9" r="3.1" fill="#00f"/>
<circle cx="295.2" cy="141.6" r="3.1" fill="#00f"/>
<circle cx="273.3" cy="150.3" r="3.1" fill="#00f"/>
<circle cx="278.6" cy="150.1" r="3.1" fill="#00f"/>
<circle cx="278.8" cy="151.8" r="3.1" fill="#00f"/>
<circle cx="295.9" cy="150.8" r="3.1" fill="#00f"/>
<circle cx="285.2" cy="158.3" r="3.1" fill="#00f"/>
<circle cx="291.3" cy="157.8" r="3.1" fill="#00f"/>
<circle cx="294.9" cy="158.3" r="3.1" fill="#00f"/>
<circle cx="299.4" cy="159.3" r="3.1" fill="#00f"/>
<circle cx="272.2" cy="160.8" r="3.1" fill="#00f"/>
<circle cx="299.4" cy="169.7" r="3.1" fill="#00f"/>
<circle cx="333.0" cy="127.1" r="3.1" fill="#00f"/>
<circle cx="334.5" cy="131.2" r="3.1" fill="#00f"/>
<circle cx="338.9" cy="139.4" r="3.1" fill="#00f"/>
<circle cx="339.1" cy="143.0" r="3.1" fill="#00f"/>
<circle cx="331.9" cy="144.5" r="3.1" fill="#00f"/>
<circle cx="326.8" cy="147.0" r="3.1" fill="#00f"/>
<circle cx="323.3" cy="150.1" r="3.1" fill="#00f"/>
<circle cx="320.2" cy="153.2" r="3.1" fill="#00f"/>
<circle cx="317.7" cy="157.2" r="3.1" fill="#00f"/>
<circle cx="318.2" cy="160.3" r="3.1" fill="#00f"/>
<circle cx="324.3" cy="153.7" r="3.1" fill="#00f"/>
<circle cx="329.9" cy="158.3" r="3.1" fill="#00f"/>
<circle cx="330.4" cy="160.8" r="3.1" fill="#00f"/>
<circle cx="328.4" cy="166.9" r="3.1" fill="#00f"/>
<circle cx="358.5" cy="140.9" r="3.1" fill="#00f"/>
<circle cx="371.2" cy="129.0" r="3.1" fill="#00f"/>
<circle cx="378.4" cy="136.3" r="3.1" fill="#00f"/>
<circle cx="351.6" cy="157.2" r="3.1" fill="#00f"/>
<circle cx="362.6" cy="164.9" r="3.1" fill="#00f"/>
<circle cx="365.6" cy="162.9" r="3.1" fill="#00f"/>
<circle cx="374.3" cy="172.0" r="3.1" fill="#00f"/>
<circle cx="377.9" cy="171.5" r="3.1" fill="#00f"/>
<circle cx="446.2" cy="80.6" r="3.1" fill="#00f"/>
<circle cx="429.3" cy="92.2" r="3.1" fill="#00f"/>
<circle cx="411.1" cy="95.5" r="3.1" fill="#00f"/>
<circle cx="399.5" cy="96.7" r="3.1" fill="#00f"/>
<circle cx="428.7" cy="104.3" r="3.1" fill="#00f"/>
<circle cx="463.8" cy="105.7" r="3.1" fill="#00f"/>
<circle cx="490.1" cy="112.2" r="3.1" fill="#00f"/>
<circle cx="430.5" cy="120.4" r="3.1" fill="#00f"/>
<circle cx="426.0" cy="126.1" r="3.1" fill="#00f"/>
<circle cx="438.7" cy="123.9" r="3.1" fill="#00f"/>
<circle cx="495.2" cy="125.5" r="3.1" fill="#00f"/>
<circle cx="508.7" cy="123.3" r="3.1" fill="#00f"/>
<circle cx="389.9" cy="129.2" r="3.1" fill="#00f"/>
<circle cx="388.4" cy="132.2" r="3.1" fill="#00f"/>
<circle cx="387.9" cy="135.8" r="3.1" fill="#00f"/>
<circle cx="380.2" cy="135.3" r="3.1" fill="#00f"/>
<circle cx="381.7" cy="142.7" r="3.1" fill="#00f"/>
<circle cx="404.2" cy="134.6" r="3.1" fill="#00f"/>
<circle cx="407.6" cy="148.1" r="3.1" fill="#00f"/>
<circle cx="403.7" cy="154.0" r="3.1" fill="#00f"/>
<circle cx="425.1" cy="142.7" r="3.1" fill="#00f"/>
<circle cx="434.9" cy="132.0" r="3.1" fill="#00f"/>
<circle cx="430.0" cy="152.9" r="3.1" fill="#00f"/>
<circle cx="382.6" cy="163.1" r="3.1" fill="#00f"/>
<circle cx="393.3" cy="165.9" r="3.1" fill="#00f"/>
<circle cx="401.6" cy="165.1" r="3.1" fill="#00f"/>
<circle cx="405.2" cy="170.5" r="3.1" fill="#00f"/>
<circle cx="407.2" cy="170.0" r="3.1" fill="#00f"/>
<circle cx="425.6" cy="170.0" r="3.1" fill="#00f"/>
<circle cx="424.1" cy="173.1" r="3.1" fill="#00f"/>
<circle cx="438.6" cy="165.9" r="3.1" fill="#00f"/>
<circle cx="451.5" cy="130.6" r="3.1" fill="#00f"/>
<circle cx="464.4" cy="134.5" r="3.1" fill="#00f"/>
<circle cx="473.0" cy="139.0" r="3.1" fill="#00f"/>
<circle cx="489.3" cy="134.7" r="3.1" fill="#00f"/>
<circle cx="513.8" cy="137.3" r="3.1" fill="#00f"/>
<circle cx="458.3" cy="141.6" r="3.1" fill="#00f"/>
<circle cx="444.4" cy="150.6" r="3.1" fill="#00f"/>
<circle cx="485.8" cy="146.5" r="3.1" fill="#00f"/>
<circle cx="475.0" cy="152.2" r="3.1" fill="#00f"/>
<circle cx="513.8" cy="152.7" r="3.1" fill="#00f"/>
<circle cx="457.7" cy="156.7" r="3.1" fill="#00f"/>
<circle cx="469.5" cy="160.2" r="3.1" fill="#00f"/>
<circle cx="498.7" cy="161.8" r="3.1" fill="#00f"/>
<circle cx="445.6" cy="162.0" r="3.1" fill="#00f"/>
<circle cx="453.0" cy="165.5" r="3.1" fill="#00f"/>
<circle cx="567.5" cy="72.0" r="3.1" fill="#00f"/>
<circle cx="660.1" cy="80.1" r="3.1" fill="#00f"/>
<circle cx="652.0" cy="93.8" r="3.1" fill="#00f"/>
<circle cx="576.9" cy="105.9" r="3.1" fill="#00f"/>
<circle cx="542.9" cy="113.3" r="3.1" fill="#00f"/>
<circle cx="551.6" cy="119.0" r="3.1" fill="#00f"/>
<circle cx="614.3" cy="110.4" r="3.1" fill="#00f"/>
<circle cx="652.0" cy="113.1" r="3.1" fill="#00f"/>
<circle cx="656.4" cy="126.7" r="3.1" fill="#00f"/>
<circle cx="593.7" cy="128.7" r="3.1" fill="#00f"/>
<circle cx="610.1" cy="130.4" r="3.1" fill="#00f"/>
<circle cx="655.7" cy="135.4" r="3.1" fill="#00f"/>
<circle cx="578.9" cy="142.8" r="3.1" fill="#00f"/>
<circle cx="614.0" cy="146.0" r="3.1" fill="#00f"/>
<circle cx="649.5" cy="146.0" r="3.1" fill="#00f"/>
<circle cx="524.8" cy="152.7" r="3.1" fill="#00f"/>
<circle cx="535.5" cy="152.2" r="3.1" fill="#00f"/>
<circle cx="537.2" cy="159.7" r="3.1" fill="#00f"/>
<circle cx="565.2" cy="151.5" r="3.1" fill="#00f"/>
<circle cx="570.4" cy="154.2" r="3.1" fill="#00f"/>
<circle cx="559.0" cy="160.4" r="3.1" fill="#00f"/>
<circle cx="588.5" cy="163.9" r="3.1" fill="#00f"/>
<circle cx="578.9" cy="169.6" r="3.1" fill="#00f"/>
<circle cx="626.4" cy="157.2" r="3.1" fill="#00f"/>
<circle cx="640.6" cy="153.5" r="3.1" fill="#00f"/>
<circle cx="251.3" cy="91.4" r="3.1" fill="#f00"/>
<circle cx="236.4" cy="109.2" r="3.1" fill="#f00"/>
<circle cx="140.4" cy="158.8" r="3.1" fill="#f00"/>
<circle cx="238.0" cy="130.2" r="3.1" fill="#f00"/>
<circle cx="234.9" cy="136.7" r="3.1" fill="#f00"/>
<circle cx="236.4" cy="144.5" r="3.1" fill="#f00"/>
<circle cx="237.2" cy="149.8" r="3.1" fill="#f00"/>
<circle cx="229.2" cy="149.0" r="3.1" fill="#f00"/>
<circle cx="216.8" cy="158.4" r="3.1" fill="#f00"/>
<circle cx="248.8" cy="151.0" r="3.1" fill="#f00"/>
<circle cx="254.3" cy="162.9" r="3.1" fill="#f00"/>
<circle cx="255.1" cy="174.5" r="3.1" fill="#f00"/>
<circle cx="241.5" cy="177.8" r="3.1" fill="#f00"/>
<circle cx="238.4" cy="181.2" r="3.1" fill="#f00"/>
<circle cx="133.7" cy="189.8" r="3.1" fill="#f00"/>
<circle cx="123.1" cy="195.1" r="3.1" fill="#f00"/>
<circle cx="130.2" cy="209.8" r="3.1" fill="#f00"/>
<circle cx="224.1" cy="196.5" r="3.1" fill="#f00"/>
<circle cx="207.8" cy="207.1" r="3.1" fill="#f00"/>
<circle cx="213.9" cy="213.5" r="3.1" fill="#f00"/>
<circle cx="252.9" cy="201.2" r="3.1" fill="#f00"/>
<circle cx="247.4" cy="214.5" r="3.1" fill="#f00"/>
<circle cx="166.6" cy="242.4" r="3.1" fill="#f00"/>
<circle cx="314.5" cy="143.8" r="3.1" fill="#f00"/>
<circle cx="274.7" cy="162.0" r="3.1" fill="#f00"/>
<circle cx="283.4" cy="165.2" r="3.1" fill="#f00"/>
<circle cx="313.3" cy="165.9" r="3.1" fill="#f00"/>
<circle cx="323.3" cy="163.9" r="3.1" fill="#f00"/>
<circle cx="323.3" cy="173.6" r="3.1" fill="#f00"/>
<circle cx="346.2" cy="173.3" r="3.1" fill="#f00"/>
<circle cx="360.0" cy="177.7" r="3.1" fill="#f00"/>
<circle cx="363.6" cy="179.2" r="3.1" fill="#f00"/>
<circle cx="353.9" cy="183.1" r="3.1" fill="#f00"/>
<circle cx="321.7" cy="188.9" r="3.1" fill="#f00"/>
<circle cx="271.9" cy="187.5" r="3.1" fill="#f00"/>
<circle cx="274.9" cy="186.5" r="3.1" fill="#f00"/>
<circle cx="288.9" cy="191.7" r="3.1" fill="#f00"/>
<circle cx="298.0" cy="195.0" r="3.1" fill="#f00"/>
<circle cx="302.3" cy="201.5" r="3.1" fill="#f00"/>
<circle cx="278.7" cy="205.0" r="3.1" fill="#f00"/>
<circle cx="313.9" cy="193.3" r="3.1" fill="#f00"/>
<circle cx="321.2" cy="193.1" r="3.1" fill="#f00"/>
<circle cx="328.7" cy="195.0" r="3.1" fill="#f00"/>
<circle cx="322.6" cy="204.0" r="3.1" fill="#f00"/>
<circle cx="361.8" cy="192.9" r="3.1" fill="#f00"/>
<circle cx="363.7" cy="204.5" r="3.1" fill="#f00"/>
<circle cx="355.0" cy="207.1" r="3.1" fill="#f00"/>
<circle cx="400.6" cy="179.7" r="3.1" fill="#f00"/>
<circle cx="416.9" cy="180.7" r="3.1" fill="#f00"/>
<circle cx="424.6" cy="178.0" r="3.1" fill="#f00"/>
<circle cx="428.2" cy="175.6" r="3.1" fill="#f00"/>
<circle cx="414.4" cy="191.4" r="3.1" fill="#f00"/>
<circle cx="411.3" cy="200.0" r="3.1" fill="#f00"/>
<circle cx="406.6" cy="204.1" r="3.1" fill="#f00"/>
<circle cx="423.4" cy="197.6" r="3.1" fill="#f00"/>
<circle cx="427.7" cy="199.6" r="3.1" fill="#f00"/>
<circle cx="434.6" cy="212.9" r="3.1" fill="#f00"/>
<circle cx="450.5" cy="184.9" r="3.1" fill="#f00"/>
<circle cx="448.5" cy="192.4" r="3.1" fill="#f00"/>
<circle cx="563.2" cy="182.5" r="3.1" fill="#f00"/>
<circle cx="578.6" cy="183.2" r="3.1" fill="#f00"/>
<circle cx="594.2" cy="199.3" r="3.1" fill="#f00"/>
<circle cx="614.8" cy="205.0" r="3.1" fill="#f00"/>
<circle cx="527.3" cy="208.5" r="3.1" fill="#f00"/>
<circle cx="153.1" cy="536.3" r="3.1" fill="#00f"/>
<circle cx="208.2" cy="549.0" r="3.1" fill="#00f"/>
<circle cx="153.1" cy="565.9" r="3.1" fill="#00f"/>
<circle cx="170.7" cy="562.2" r="3.1" fill="#00f"/>
<circle cx="171.1" cy="567.3" r="3.1" fill="#00f"/>
<circle cx="197.6" cy="578.0" r="3.1" fill="#00f"/>
<circle cx="195.1" cy="586.7" r="3.1" fill="#00f"/>
<circle cx="173.5" cy="588.8" r="3.1" fill="#00f"/>
<circle cx="141.5" cy="593.5" r="3.1" fill="#00f"/>
<circle cx="197.6" cy="598.4" r="3.1" fill="#00f"/>
<circle cx="216.0" cy="599.4" r="3.1" fill="#00f"/>
<circle cx="221.1" cy="603.7" r="3.1" fill="#00f"/>
<circle cx="232.7" cy="599.2" r="3.1" fill="#00f"/>
<circle cx="132.7" cy="605.5" r="3.1" fill="#00f"/>
<circle cx="141.5" cy="606.1" r="3.1" fill="#00f"/>
<circle cx="156.8" cy="607.8" r="3.1" fill="#00f"/>
<circle cx="139.4" cy="613.3" r="3.1" fill="#00f"/>
<circle cx="226.6" cy="611.8" r="3.1" fill="#00f"/>
<circle cx="243.5" cy="606.3" r="3.1" fill="#00f"/>
<circle cx="249.6" cy="586.3" r="3.1" fill="#00f"/>
<circle cx="208.8" cy="616.3" r="3.1" fill="#00f"/>
<circle cx="266.4" cy="628.0" r="3.1" fill="#00f"/>
<circle cx="239.4" cy="639.9" r="3.1" fill="#00f"/>
<circle cx="260.5" cy="632.5" r="3.1" fill="#00f"/>
<circle cx="258.1" cy="638.6" r="3.1" fill="#00f"/>
<circle cx="260.5" cy="651.9" r="3.1" fill="#00f"/>
<circle cx="148.2" cy="619.8" r="3.1" fill="#00f"/>
<circle cx="149.6" cy="625.3" r="3.1" fill="#00f"/>
<circle cx="159.2" cy="619.2" r="3.1" fill="#00f"/>
<circle cx="130.7" cy="630.4" r="3.1" fill="#00f"/>
<circle cx="154.3" cy="631.4" r="3.1" fill="#00f"/>
<circle cx="163.9" cy="633.5" r="3.1" fill="#00f"/>
<circle cx="189.8" cy="632.4" r="3.1" fill="#00f"/>
<circle cx="213.9" cy="628.0" r="3.1" fill="#00f"/>
<circle cx="133.9" cy="661.0" r="3.1" fill="#00f"/>
<circle cx="266.7" cy="511.8" r="3.1" fill="#00f"/>
<circle cx="322.4" cy="555.7" r="3.1" fill="#00f"/>
<circle cx="353.1" cy="563.9" r="3.1" fill="#00f"/>
<circle cx="281.0" cy="563.3" r="3.1" fill="#00f"/>
<circle cx="296.9" cy="567.3" r="3.1" fill="#00f"/>
<circle cx="266.3" cy="577.6" r="3.1" fill="#00f"/>
<circle cx="281.6" cy="578.6" r="3.1" fill="#00f"/>
<circle cx="278.0" cy="587.8" r="3.1" fill="#00f"/>
<circle cx="272.0" cy="591.8" r="3.1" fill="#00f"/>
<circle cx="332.2" cy="585.3" r="3.1" fill="#00f"/>
<circle cx="320.0" cy="595.9" r="3.1" fill="#00f"/>
<circle cx="325.9" cy="600.0" r="3.1" fill="#00f"/>
<circle cx="321.0" cy="603.1" r="3.1" fill="#00f"/>
<circle cx="379.0" cy="597.6" r="3.1" fill="#00f"/>
<circle cx="272.9" cy="608.2" r="3.1" fill="#00f"/>
<circle cx="286.7" cy="608.8" r="3.1" fill="#00f"/>
<circle cx="289.2" cy="610.2" r="3.1" fill="#00f"/>
<circle cx="300.0" cy="606.5" r="3.1" fill="#00f"/>
<circle cx="294.5" cy="616.1" r="3.1" fill="#00f"/>
<circle cx="307.9" cy="616.0" r="3.1" fill="#00f"/>
<circle cx="321.1" cy="611.2" r="3.1" fill="#00f"/>
<circle cx="320.8" cy="617.6" r="3.1" fill="#00f"/>
<circle cx="317.4" cy="622.7" r="3.1" fill="#00f"/>
<circle cx="324.4" cy="626.0" r="3.1" fill="#00f"/>
<circle cx="322.3" cy="634.2" r="3.1" fill="#00f"/>
<circle cx="324.4" cy="634.2" r="3.1" fill="#00f"/>
<circle cx="323.9" cy="649.5" r="3.1" fill="#00f"/>
<circle cx="314.2" cy="644.4" r="3.1" fill="#00f"/>
<circle cx="286.9" cy="625.8" r="3.1" fill="#00f"/>
<circle cx="304.3" cy="630.1" r="3.1" fill="#00f"/>
<circle cx="290.9" cy="636.9" r="3.1" fill="#00f"/>
<circle cx="299.4" cy="638.6" r="3.1" fill="#00f"/>
<circle cx="300.9" cy="640.3" r="3.1" fill="#00f"/>
<circle cx="292.4" cy="643.9" r="3.1" fill="#00f"/>
<circle cx="294.3" cy="649.7" r="3.1" fill="#00f"/>
<circle cx="335.9" cy="626.7" r="3.1" fill="#00f"/>
<circle cx="340.4" cy="635.6" r="3.1" fill="#00f"/>
<circle cx="332.8" cy="642.6" r="3.1" fill="#00f"/>
<circle cx="333.1" cy="649.7" r="3.1" fill="#00f"/>
<circle cx="343.5" cy="650.2" r="3.1" fill="#00f"/>
<circle cx="347.4" cy="620.4" r="3.1" fill="#00f"/>
<circle cx="371.3" cy="619.1" r="3.1" fill="#00f"/>
<circle cx="378.0" cy="625.2" r="3.1" fill="#00f"/>
<circle cx="387.4" cy="619.6" r="3.1" fill="#00f"/>
<circle cx="385.3" cy="631.8" r="3.1" fill="#00f"/>
<circle cx="348.8" cy="630.8" r="3.1" fill="#00f"/>
<circle cx="354.9" cy="636.9" r="3.1" fill="#00f"/>
<circle cx="360.3" cy="633.9" r="3.1" fill="#00f"/>
<circle cx="362.9" cy="636.4" r="3.1" fill="#00f"/>
<circle cx="370.0" cy="634.4" r="3.1" fill="#00f"/>
<circle cx="373.6" cy="631.3" r="3.1" fill="#00f"/>
<circle cx="374.1" cy="637.4" r="3.1" fill="#00f"/>
<circle cx="377.2" cy="646.1" r="3.1" fill="#00f"/>
<circle cx="378.7" cy="645.6" r="3.1" fill="#00f"/>
<circle cx="350.1" cy="647.4" r="3.1" fill="#00f"/>
<circle cx="354.5" cy="650.7" r="3.1" fill="#00f"/>
<circle cx="370.2" cy="652.6" r="3.1" fill="#00f"/>
<circle cx="349.6" cy="663.3" r="3.1" fill="#00f"/>
<circle cx="430.7" cy="580.2" r="3.1" fill="#00f"/>
<circle cx="475.0" cy="578.6" r="3.1" fill="#00f"/>
<circle cx="468.9" cy="584.9" r="3.1" fill="#00f"/>
<circle cx="475.0" cy="597.6" r="3.1" fill="#00f"/>
<circle cx="464.2" cy="601.6" r="3.1" fill="#00f"/>
<circle cx="456.2" cy="608.8" r="3.1" fill="#00f"/>
<circle cx="401.5" cy="603.5" r="3.1" fill="#00f"/>
<circle cx="404.6" cy="603.5" r="3.1" fill="#00f"/>
<circle cx="412.1" cy="602.4" r="3.1" fill="#00f"/>
<circle cx="421.5" cy="602.4" r="3.1" fill="#00f"/>
<circle cx="423.6" cy="610.2" r="3.1" fill="#00f"/>
<circle cx="431.5" cy="605.3" r="3.1" fill="#00f"/>
<circle cx="438.7" cy="604.5" r="3.1" fill="#00f"/>
<circle cx="400.5" cy="617.8" r="3.1" fill="#00f"/>
<circle cx="403.6" cy="616.9" r="3.1" fill="#00f"/>
<circle cx="514.2" cy="602.0" r="3.1" fill="#00f"/>
<circle cx="401.5" cy="619.8" r="3.1" fill="#00f"/>
<circle cx="375.5" cy="631.0" r="3.1" fill="#00f"/>
<circle cx="393.4" cy="643.8" r="3.1" fill="#00f"/>
<circle cx="411.7" cy="635.6" r="3.1" fill="#00f"/>
<circle cx="404.6" cy="641.5" r="3.1" fill="#00f"/>
<circle cx="406.6" cy="640.5" r="3.1" fill="#00f"/>
<circle cx="421.9" cy="629.0" r="3.1" fill="#00f"/>
<circle cx="431.1" cy="625.9" r="3.1" fill="#00f"/>
<circle cx="434.0" cy="630.0" r="3.1" fill="#00f"/>
<circle cx="440.8" cy="631.7" r="3.1" fill="#00f"/>
<circle cx="423.8" cy="639.7" r="3.1" fill="#00f"/>
<circle cx="428.1" cy="637.1" r="3.1" fill="#00f"/>
<circle cx="428.6" cy="642.8" r="3.1" fill="#00f"/>
<circle cx="430.6" cy="645.8" r="3.1" fill="#00f"/>
<circle cx="439.5" cy="645.0" r="3.1" fill="#00f"/>
<circle cx="405.6" cy="652.4" r="3.1" fill="#00f"/>
<circle cx="407.4" cy="653.5" r="3.1" fill="#00f"/>
<circle cx="422.1" cy="653.3" r="3.1" fill="#00f"/>
<circle cx="401.3" cy="662.7" r="3.1" fill="#00f"/>
<circle cx="408.7" cy="662.7" r="3.1" fill="#00f"/>
<circle cx="418.4" cy="661.6" r="3.1" fill="#00f"/>
<circle cx="461.0" cy="628.9" r="3.1" fill="#00f"/>
<circle cx="461.6" cy="637.3" r="3.1" fill="#00f"/>
<circle cx="461.6" cy="648.5" r="3.1" fill="#00f"/>
<circle cx="465.9" cy="654.9" r="3.1" fill="#00f"/>
<circle cx="463.9" cy="659.5" r="3.1" fill="#00f"/>
<circle cx="480.8" cy="659.8" r="3.1" fill="#00f"/>
<circle cx="499.5" cy="628.0" r="3.1" fill="#00f"/>
<circle cx="500.9" cy="641.2" r="3.1" fill="#00f"/>
<circle cx="516.4" cy="640.9" r="3.1" fill="#00f"/>
<circle cx="518.4" cy="663.7" r="3.1" fill="#00f"/>
<circle cx="452.8" cy="665.6" r="3.1" fill="#00f"/>
<circle cx="524.3" cy="573.9" r="3.1" fill="#00f"/>
<circle cx="541.7" cy="569.1" r="3.1" fill="#00f"/>
<circle cx="578.6" cy="570.1" r="3.1" fill="#00f"/>
<circle cx="551.1" cy="608.6" r="3.1" fill="#00f"/>
<circle cx="568.7" cy="612.8" r="3.1" fill="#00f"/>
<circle cx="651.7" cy="592.4" r="3.1" fill="#00f"/>
<circle cx="664.4" cy="597.4" r="3.1" fill="#00f"/>
<circle cx="667.3" cy="601.1" r="3.1" fill="#00f"/>
<circle cx="667.8" cy="581.8" r="3.1" fill="#00f"/>
<circle cx="536.5" cy="622.4" r="3.1" fill="#00f"/>
<circle cx="557.0" cy="624.4" r="3.1" fill="#00f"/>
<circle cx="533.5" cy="640.2" r="3.1" fill="#00f"/>
<circle cx="553.3" cy="638.5" r="3.1" fill="#00f"/>
<circle cx="601.2" cy="626.1" r="3.1" fill="#00f"/>
<circle cx="608.3" cy="631.8" r="3.1" fill="#00f"/>
<circle cx="614.5" cy="638.5" r="3.1" fill="#00f"/>
<circle cx="638.8" cy="641.7" r="3.1" fill="#00f"/>
<circle cx="665.6" cy="655.1" r="3.1" fill="#00f"/>
<circle cx="577.4" cy="660.3" r="3.1" fill="#00f"/>
<circle cx="627.9" cy="662.0" r="3.1" fill="#00f"/>
<circle cx="349.6" cy="611.9" r="3.1" fill="#00f"/>
<circle cx="353.2" cy="610.9" r="3.1" fill="#00f"/>
<circle cx="352.7" cy="613.3" r="3.1" fill="#00f"/>
<circle cx="367.8" cy="609.5" r="3.1" fill="#00f"/>
<circle cx="391.3" cy="611.3" r="3.1" fill="#00f"/>
<circle cx="245.6" cy="579.2" r="3.1" fill="#f00"/>
<circle cx="251.1" cy="588.2" r="3.1" fill="#f00"/>
<circle cx="250.9" cy="609.2" r="3.1" fill="#f00"/>
<circle cx="261.7" cy="623.3" r="3.1" fill="#f00"/>
<circle cx="239.2" cy="624.6" r="3.1" fill="#f00"/>
<circle cx="241.5" cy="624.6" r="3.1" fill="#f00"/>
<circle cx="241.3" cy="634.0" r="3.1" fill="#f00"/>
<circle cx="236.8" cy="641.0" r="3.1" fill="#f00"/>
<circle cx="238.9" cy="643.6" r="3.1" fill="#f00"/>
<circle cx="241.0" cy="647.7" r="3.1" fill="#f00"/>
<circle cx="236.5" cy="650.3" r="3.1" fill="#f00"/>
<circle cx="239.4" cy="647.7" r="3.1" fill="#f00"/>
<circle cx="229.6" cy="647.9" r="3.1" fill="#f00"/>
<circle cx="215.0" cy="661.7" r="3.1" fill="#f00"/>
<circle cx="218.2" cy="659.6" r="3.1" fill="#f00"/>
<circle cx="202.1" cy="665.9" r="3.1" fill="#f00"/>
<circle cx="243.6" cy="660.7" r="3.1" fill="#f00"/>
<circle cx="239.2" cy="665.4" r="3.1" fill="#f00"/>
<circle cx="243.6" cy="668.3" r="3.1" fill="#f00"/>
<circle cx="250.0" cy="670.5" r="3.1" fill="#f00"/>
<circle cx="250.1" cy="673.9" r="3.1" fill="#f00"/>
<circle cx="247.7" cy="679.9" r="3.1" fill="#f00"/>
<circle cx="204.7" cy="688.0" r="3.1" fill="#f00"/>
<circle cx="227.5" cy="691.3" r="3.1" fill="#f00"/>
<circle cx="238.4" cy="691.3" r="3.1" fill="#f00"/>
<circle cx="241.0" cy="691.3" r="3.1" fill="#f00"/>
<circle cx="252.7" cy="694.6" r="3.1" fill="#f00"/>
<circle cx="212.7" cy="697.3" r="3.1" fill="#f00"/>
<circle cx="253.7" cy="620.7" r="3.1" fill="#f00"/>
<circle cx="120.9" cy="635.5" r="3.1" fill="#f00"/>
<circle cx="189.8" cy="646.3" r="3.1" fill="#f00"/>
<circle cx="135.3" cy="664.1" r="3.1" fill="#f00"/>
<circle cx="120.9" cy="686.5" r="3.1" fill="#f00"/>
<circle cx="140.9" cy="684.1" r="3.1" fill="#f00"/>
<circle cx="152.7" cy="682.4" r="3.1" fill="#f00"/>
<circle cx="149.2" cy="690.0" r="3.1" fill="#f00"/>
<circle cx="168.4" cy="681.8" r="3.1" fill="#f00"/>
<circle cx="176.8" cy="681.0" r="3.1" fill="#f00"/>
<circle cx="171.5" cy="692.7" r="3.1" fill="#f00"/>
<circle cx="156.4" cy="700.8" r="3.1" fill="#f00"/>
<circle cx="140.4" cy="705.9" r="3.1" fill="#f00"/>
<circle cx="178.2" cy="696.7" r="3.1" fill="#f00"/>
<circle cx="175.1" cy="698.8" r="3.1" fill="#f00"/>
<circle cx="172.1" cy="701.8" r="3.1" fill="#f00"/>
<circle cx="172.1" cy="705.9" r="3.1" fill="#f00"/>
<circle cx="181.9" cy="707.3" r="3.1" fill="#f00"/>
<circle cx="150.7" cy="715.7" r="3.1" fill="#f00"/>
<circle cx="149.2" cy="724.7" r="3.1" fill="#f00"/>
<circle cx="273.1" cy="647.1" r="3.1" fill="#f00"/>
<circle cx="278.3" cy="650.3" r="3.1" fill="#f00"/>
<circle cx="281.0" cy="649.3" r="3.1" fill="#f00"/>
<circle cx="288.5" cy="659.9" r="3.1" fill="#f00"/>
<circle cx="275.9" cy="666.0" r="3.1" fill="#f00"/>
<circle cx="283.6" cy="665.8" r="3.1" fill="#f00"/>
<circle cx="285.3" cy="670.2" r="3.1" fill="#f00"/>
<circle cx="315.9" cy="655.6" r="3.1" fill="#f00"/>
<circle cx="316.7" cy="667.6" r="3.1" fill="#f00"/>
<circle cx="310.1" cy="676.5" r="3.1" fill="#f00"/>
<circle cx="340.2" cy="650.7" r="3.1" fill="#f00"/>
<circle cx="336.4" cy="663.5" r="3.1" fill="#f00"/>
<circle cx="342.0" cy="661.4" r="3.1" fill="#f00"/>
<circle cx="355.2" cy="664.0" r="3.1" fill="#f00"/>
<circle cx="381.3" cy="666.5" r="3.1" fill="#f00"/>
<circle cx="385.9" cy="659.4" r="3.1" fill="#f00"/>
<circle cx="259.1" cy="707.3" r="3.1" fill="#f00"/>
<circle cx="277.0" cy="685.9" r="3.1" fill="#f00"/>
<circle cx="305.6" cy="686.1" r="3.1" fill="#f00"/>
<circle cx="291.7" cy="699.8" r="3.1" fill="#f00"/>
<circle cx="300.9" cy="704.9" r="3.1" fill="#f00"/>
<circle cx="326.8" cy="671.2" r="3.1" fill="#f00"/>
<circle cx="326.4" cy="675.3" r="3.1" fill="#f00"/>
<circle cx="324.4" cy="685.5" r="3.1" fill="#f00"/>
<circle cx="330.1" cy="682.4" r="3.1" fill="#f00"/>
<circle cx="338.7" cy="673.9" r="3.1" fill="#f00"/>
<circle cx="338.7" cy="683.5" r="3.1" fill="#f00"/>
<circle cx="345.8" cy="681.4" r="3.1" fill="#f00"/>
<circle cx="355.4" cy="680.4" r="3.1" fill="#f00"/>
<circle cx="336.2" cy="699.8" r="3.1" fill="#f00"/>
<circle cx="342.8" cy="704.9" r="3.1" fill="#f00"/>
<circle cx="362.8" cy="674.7" r="3.1" fill="#f00"/>
<circle cx="366.2" cy="673.3" r="3.1" fill="#f00"/>
<circle cx="370.7" cy="676.7" r="3.1" fill="#f00"/>
<circle cx="371.3" cy="701.8" r="3.1" fill="#f00"/>
<circle cx="442.3" cy="642.2" r="3.1" fill="#f00"/>
<circle cx="442.9" cy="649.4" r="3.1" fill="#f00"/>
<circle cx="416.8" cy="658.6" r="3.1" fill="#f00"/>
<circle cx="420.4" cy="658.1" r="3.1" fill="#f00"/>
<circle cx="411.5" cy="664.2" r="3.1" fill="#f00"/>
<circle cx="418.7" cy="668.1" r="3.1" fill="#f00"/>
<circle cx="443.6" cy="665.2" r="3.1" fill="#f00"/>
<circle cx="443.2" cy="673.9" r="3.1" fill="#f00"/>
<circle cx="450.3" cy="648.5" r="3.1" fill="#f00"/>
<circle cx="474.6" cy="652.2" r="3.1" fill="#f00"/>
<circle cx="492.7" cy="654.3" r="3.1" fill="#f00"/>
<circle cx="448.2" cy="672.1" r="3.1" fill="#f00"/>
<circle cx="466.6" cy="681.4" r="3.1" fill="#f00"/>
<circle cx="482.6" cy="688.4" r="3.1" fill="#f00"/>
<circle cx="461.3" cy="694.8" r="3.1" fill="#f00"/>
<circle cx="502.6" cy="681.4" r="3.1" fill="#f00"/>
<circle cx="516.4" cy="686.6" r="3.1" fill="#f00"/>
<circle cx="519.3" cy="672.1" r="3.1" fill="#f00"/>
<circle cx="668.6" cy="586.2" r="3.1" fill="#f00"/>
<circle cx="600.2" cy="599.6" r="3.1" fill="#f00"/>
<circle cx="529.0" cy="624.1" r="3.1" fill="#f00"/>
<circle cx="527.8" cy="636.0" r="3.1" fill="#f00"/>
<circle cx="522.8" cy="642.7" r="3.1" fill="#f00"/>
<circle cx="539.7" cy="643.5" r="3.1" fill="#f00"/>
<circle cx="539.2" cy="649.7" r="3.1" fill="#f00"/>
<circle cx="622.7" cy="636.8" r="3.1" fill="#f00"/>
<circle cx="575.9" cy="654.1" r="3.1" fill="#f00"/>
<circle cx="532.8" cy="666.5" r="3.1" fill="#f00"/>
<circle cx="557.0" cy="665.0" r="3.1" fill="#f00"/>
<circle cx="563.2" cy="662.5" r="3.1" fill="#f00"/>
<circle cx="596.2" cy="664.5" r="3.1" fill="#f00"/>
<circle cx="524.8" cy="670.7" r="3.1" fill="#f00"/>
<circle cx="523.6" cy="675.7" r="3.1" fill="#f00"/>
<circle cx="542.9" cy="671.2" r="3.1" fill="#f00"/>
<circle cx="557.0" cy="675.2" r="3.1" fill="#f00"/>
<circle cx="572.7" cy="674.9" r="3.1" fill="#f00"/>
<circle cx="651.7" cy="672.7" r="3.1" fill="#f00"/>
<circle cx="670.6" cy="683.9" r="3.1" fill="#f00"/>
<circle cx="526.1" cy="689.8" r="3.1" fill="#f00"/>
<circle cx="547.1" cy="684.8" r="3.1" fill="#f00"/>
<circle cx="615.8" cy="686.8" r="3.1" fill="#f00"/>
<circle cx="602.9" cy="696.2" r="3.1" fill="#f00"/>
<circle cx="565.0" cy="701.2" r="3.1" fill="#f00"/>
<circle cx="562.5" cy="715.3" r="3.1" fill="#f00"/>
<circle cx="224.7" cy="710.6" r="3.1" fill="#f00"/>
<circle cx="380.6" cy="671.3" r="3.1" fill="#f00"/>
<circle cx="384.2" cy="672.3" r="3.1" fill="#f00"/>
<circle cx="386.2" cy="670.3" r="3.1" fill="#f00"/>
<circle cx="389.8" cy="678.3" r="3.1" fill="#f00"/>
<circle cx="387.0" cy="683.6" r="3.1" fill="#f00"/>
<circle cx="417.7" cy="686.7" r="3.1" fill="#f00"/>
<circle cx="488.7" cy="713.3" r="3.1" fill="#f00"/>
<path d="M118.50 402.60v7.6M118.50 9.80v-7.6M182.51 402.60v3.8M182.51 9.80v-3.8M219.95 402.60v3.8M219.95 9.80v-3.8M246.52 402.60v3.8M246.52 9.80v-3.8M267.13 402.60v3.8M267.13 9.80v-3.8M283.97 402.60v3.8M283.97 9.80v-3.8M298.20 402.60v3.8M298.20 9.80v-3.8M310.53 402.60v3.8M310.53 9.80v-3.8M321.41 402.60v3.8M321.41 9.80v-3.8M331.14 402.60v7.6M331.14 9.80v-7.6M395.15 402.60v3.8M395.15 9.80v-3.8M432.59 402.60v3.8M432.59 9.80v-3.8M459.16 402.60v3.8M459.16 9.80v-3.8M479.77 402.60v3.8M479.77 9.80v-3.8M496.60 402.60v3.8M496.60 9.80v-3.8M510.84 402.60v3.8M510.84 9.80v-3.8M523.17 402.60v3.8M523.17 9.80v-3.8M534.05 402.60v3.8M534.05 9.80v-3.8M543.78 402.60v7.6M543.78 9.80v-7.6M607.79 402.60v3.8M607.79 9.80v-3.8M645.23 402.60v3.8M645.23 9.80v-3.8M671.80 402.60v3.8M671.80 9.80v-3.8M118.50 402.60h-11.5M671.80 402.60h11.5M118.50 377.44h-5.4M671.80 377.44h5.4M118.50 362.72h-5.4M671.80 362.72h5.4M118.50 352.27h-5.4M671.80 352.27h5.4M118.50 344.17h-5.4M671.80 344.17h5.4M118.50 337.55h-5.4M671.80 337.55h5.4M118.50 331.96h-5.4M671.80 331.96h5.4M118.50 327.11h-5.4M671.80 327.11h5.4M118.50 322.83h-5.4M671.80 322.83h5.4M118.50 319.01h-11.5M671.80 319.01h11.5M118.50 293.84h-5.4M671.80 293.84h5.4M118.50 279.12h-5.4M671.80 279.12h5.4M118.50 268.68h-5.4M671.80 268.68h5.4M118.50 260.58h-5.4M671.80 260.58h5.4M118.50 253.96h-5.4M671.80 253.96h5.4M118.50 248.36h-5.4M671.80 248.36h5.4M118.50 243.52h-5.4M671.80 243.52h5.4M118.50 239.24h-5.4M671.80 239.24h5.4M118.50 235.41h-11.5M671.80 235.41h11.5M118.50 210.25h-5.4M671.80 210.25h5.4M118.50 195.53h-5.4M671.80 195.53h5.4M118.50 185.09h-5.4M671.80 185.09h5.4M118.50 176.99h-5.4M671.80 176.99h5.4M118.50 170.37h-5.4M671.80 170.37h5.4M118.50 164.77h-5.4M671.80 164.77h5.4M118.50 159.92h-5.4M671.80 159.92h5.4M118.50 155.65h-5.4M671.80 155.65h5.4M118.50 151.82h-11.5M671.80 151.82h11.5M118.50 126.66h-5.4M671.80 126.66h5.4M118.50 111.94h-5.4M671.80 111.94h5.4M118.50 101.49h-5.4M671.80 101.49h5.4M118.50 93.39h-5.4M671.80 93.39h5.4M118.50 86.77h-5.4M671.80 86.77h5.4M118.50 81.18h-5.4M671.80 81.18h5.4M118.50 76.33h-5.4M671.80 76.33h5.4M118.50 72.05h-5.4M671.80 72.05h5.4M118.50 68.23h-11.5M671.80 68.23h11.5M118.50 43.06h-5.4M671.80 43.06h5.4M118.50 28.34h-5.4M671.80 28.34h5.4M118.50 17.90h-5.4M671.80 17.90h5.4M118.50 9.80h-5.4M671.80 9.80h5.4" stroke="#000" stroke-width="2.2" fill="none"/>
<rect x="118.5" y="9.8" width="553.30" height="392.80" fill="none" stroke="#000" stroke-width="2.2"/>
<path d="M118.50 895.30v7.6M118.50 502.50v-7.6M182.51 895.30v3.8M182.51 502.50v-3.8M219.95 895.30v3.8M219.95 502.50v-3.8M246.52 895.30v3.8M246.52 502.50v-3.8M267.13 895.30v3.8M267.13 502.50v-3.8M283.97 895.30v3.8M283.97 502.50v-3.8M298.20 895.30v3.8M298.20 502.50v-3.8M310.53 895.30v3.8M310.53 502.50v-3.8M321.41 895.30v3.8M321.41 502.50v-3.8M331.14 895.30v7.6M331.14 502.50v-7.6M395.15 895.30v3.8M395.15 502.50v-3.8M432.59 895.30v3.8M432.59 502.50v-3.8M459.16 895.30v3.8M459.16 502.50v-3.8M479.77 895.30v3.8M479.77 502.50v-3.8M496.60 895.30v3.8M496.60 502.50v-3.8M510.84 895.30v3.8M510.84 502.50v-3.8M523.17 895.30v3.8M523.17 502.50v-3.8M534.05 895.30v3.8M534.05 502.50v-3.8M543.78 895.30v7.6M543.78 502.50v-7.6M607.79 895.30v3.8M607.79 502.50v-3.8M645.23 895.30v3.8M645.23 502.50v-3.8M671.80 895.30v3.8M671.80 502.50v-3.8M118.50 895.30h-11.5M671.80 895.30h11.5M118.50 870.14h-5.4M671.80 870.14h5.4M118.50 855.42h-5.4M671.80 855.42h5.4M118.50 844.97h-5.4M671.80 844.97h5.4M118.50 836.87h-5.4M671.80 836.87h5.4M118.50 830.25h-5.4M671.80 830.25h5.4M118.50 824.66h-5.4M671.80 824.66h5.4M118.50 819.81h-5.4M671.80 819.81h5.4M118.50 815.53h-5.4M671.80 815.53h5.4M118.50 811.71h-11.5M671.80 811.71h11.5M118.50 786.54h-5.4M671.80 786.54h5.4M118.50 771.82h-5.4M671.80 771.82h5.4M118.50 761.38h-5.4M671.80 761.38h5.4M118.50 753.28h-5.4M671.80 753.28h5.4M118.50 746.66h-5.4M671.80 746.66h5.4M118.50 741.06h-5.4M671.80 741.06h5.4M118.50 736.22h-5.4M671.80 736.22h5.4M118.50 731.94h-5.4M671.80 731.94h5.4M118.50 728.11h-11.5M671.80 728.11h11.5M118.50 702.95h-5.4M671.80 702.95h5.4M118.50 688.23h-5.4M671.80 688.23h5.4M118.50 677.79h-5.4M671.80 677.79h5.4M118.50 669.69h-5.4M671.80 669.69h5.4M118.50 663.07h-5.4M671.80 663.07h5.4M118.50 657.47h-5.4M671.80 657.47h5.4M118.50 652.62h-5.4M671.80 652.62h5.4M118.50 648.35h-5.4M671.80 648.35h5.4M118.50 644.52h-11.5M671.80 644.52h11.5M118.50 619.36h-5.4M671.80 619.36h5.4M118.50 604.64h-5.4M671.80 604.64h5.4M118.50 594.19h-5.4M671.80 594.19h5.4M118.50 586.09h-5.4M671.80 586.09h5.4M118.50 579.47h-5.4M671.80 579.47h5.4M118.50 573.88h-5.4M671.80 573.88h5.4M118.50 569.03h-5.4M671.80 569.03h5.4M118.50 564.75h-5.4M671.80 564.75h5.4M118.50 560.93h-11.5M671.80 560.93h11.5M118.50 535.76h-5.4M671.80 535.76h5.4M118.50 521.04h-5.4M671.80 521.04h5.4M118.50 510.60h-5.4M671.80 510.60h5.4M118.50 502.50h-5.4M671.80 502.50h5.4" stroke="#000" stroke-width="2.2" fill="none"/>
<rect x="118.5" y="502.5" width="553.30" height="392.80" fill="none" stroke="#000" stroke-width="2.2"/>
<text transform="translate(72.77 77.10) scale(1.064 1.000)">10</text>
<text transform="translate(87.71 160.70) scale(0.744 1.000)">1</text>
<text transform="translate(63.93 244.70) scale(1.071 1.000)">0.1</text>
<text transform="translate(49.52 328.10) scale(1.083 1.000)">0.01</text>
<text transform="translate(34.68 402.40) scale(1.117 1.000)">0.001</text>
<text transform="translate(99.81 436.60) scale(1.093 1.040)">0.1</text>
<text transform="translate(313.95 436.60) scale(1.125 1.040)">1.0</text>
<text transform="translate(518.76 436.60) scale(1.167 1.040)">10.0</text>
<text transform="translate(294.30 465.00) scale(1.200 1.020)">Folded period [d]</text>
<text transform="translate(15 250.2) rotate(-90) scale(1.122 1)">J−Index</text>
<rect x="489.9" y="326.4" width="168.7" height="54" fill="#fff" stroke="#000" stroke-width="1.3"/>
<text transform="translate(531.25 347.80) scale(1.173 1.000)">Paper I</text>
<text transform="translate(496.60 369.60) scale(1.103 1.000)">This paper</text>
<circle cx="640.1" cy="340.4" r="3" fill="#00f"/>
<circle cx="640.1" cy="363.7" r="3" fill="#f00"/>
<text transform="translate(72.77 569.80) scale(1.064 1.000)">10</text>
<text transform="translate(87.71 653.40) scale(0.744 1.000)">1</text>
<text transform="translate(63.93 737.40) scale(1.071 1.000)">0.1</text>
<text transform="translate(49.52 820.80) scale(1.083 1.000)">0.01</text>
<text transform="translate(34.68 895.10) scale(1.117 1.000)">0.001</text>
<text transform="translate(99.81 929.30) scale(1.093 1.040)">0.1</text>
<text transform="translate(313.95 929.30) scale(1.125 1.040)">1.0</text>
<text transform="translate(518.76 929.30) scale(1.167 1.040)">10.0</text>
<text transform="translate(294.30 957.70) scale(1.200 1.020)">Folded period [d]</text>
<text transform="translate(15 742.9) rotate(-90) scale(1.122 1)">J−Index</text>
<rect x="478.4" y="819.1" width="180.2" height="54" fill="#fff" stroke="#000" stroke-width="1.3"/>
<text transform="translate(519.75 840.50) scale(1.173 1.000)">Paper I</text>
<text transform="translate(485.10 862.30) scale(1.103 1.000)">This paper</text>
<circle cx="640.1" cy="833.1" r="3" fill="#00f"/>
<circle cx="640.1" cy="856.4" r="3" fill="#f00"/>
</svg>
</body></html>
